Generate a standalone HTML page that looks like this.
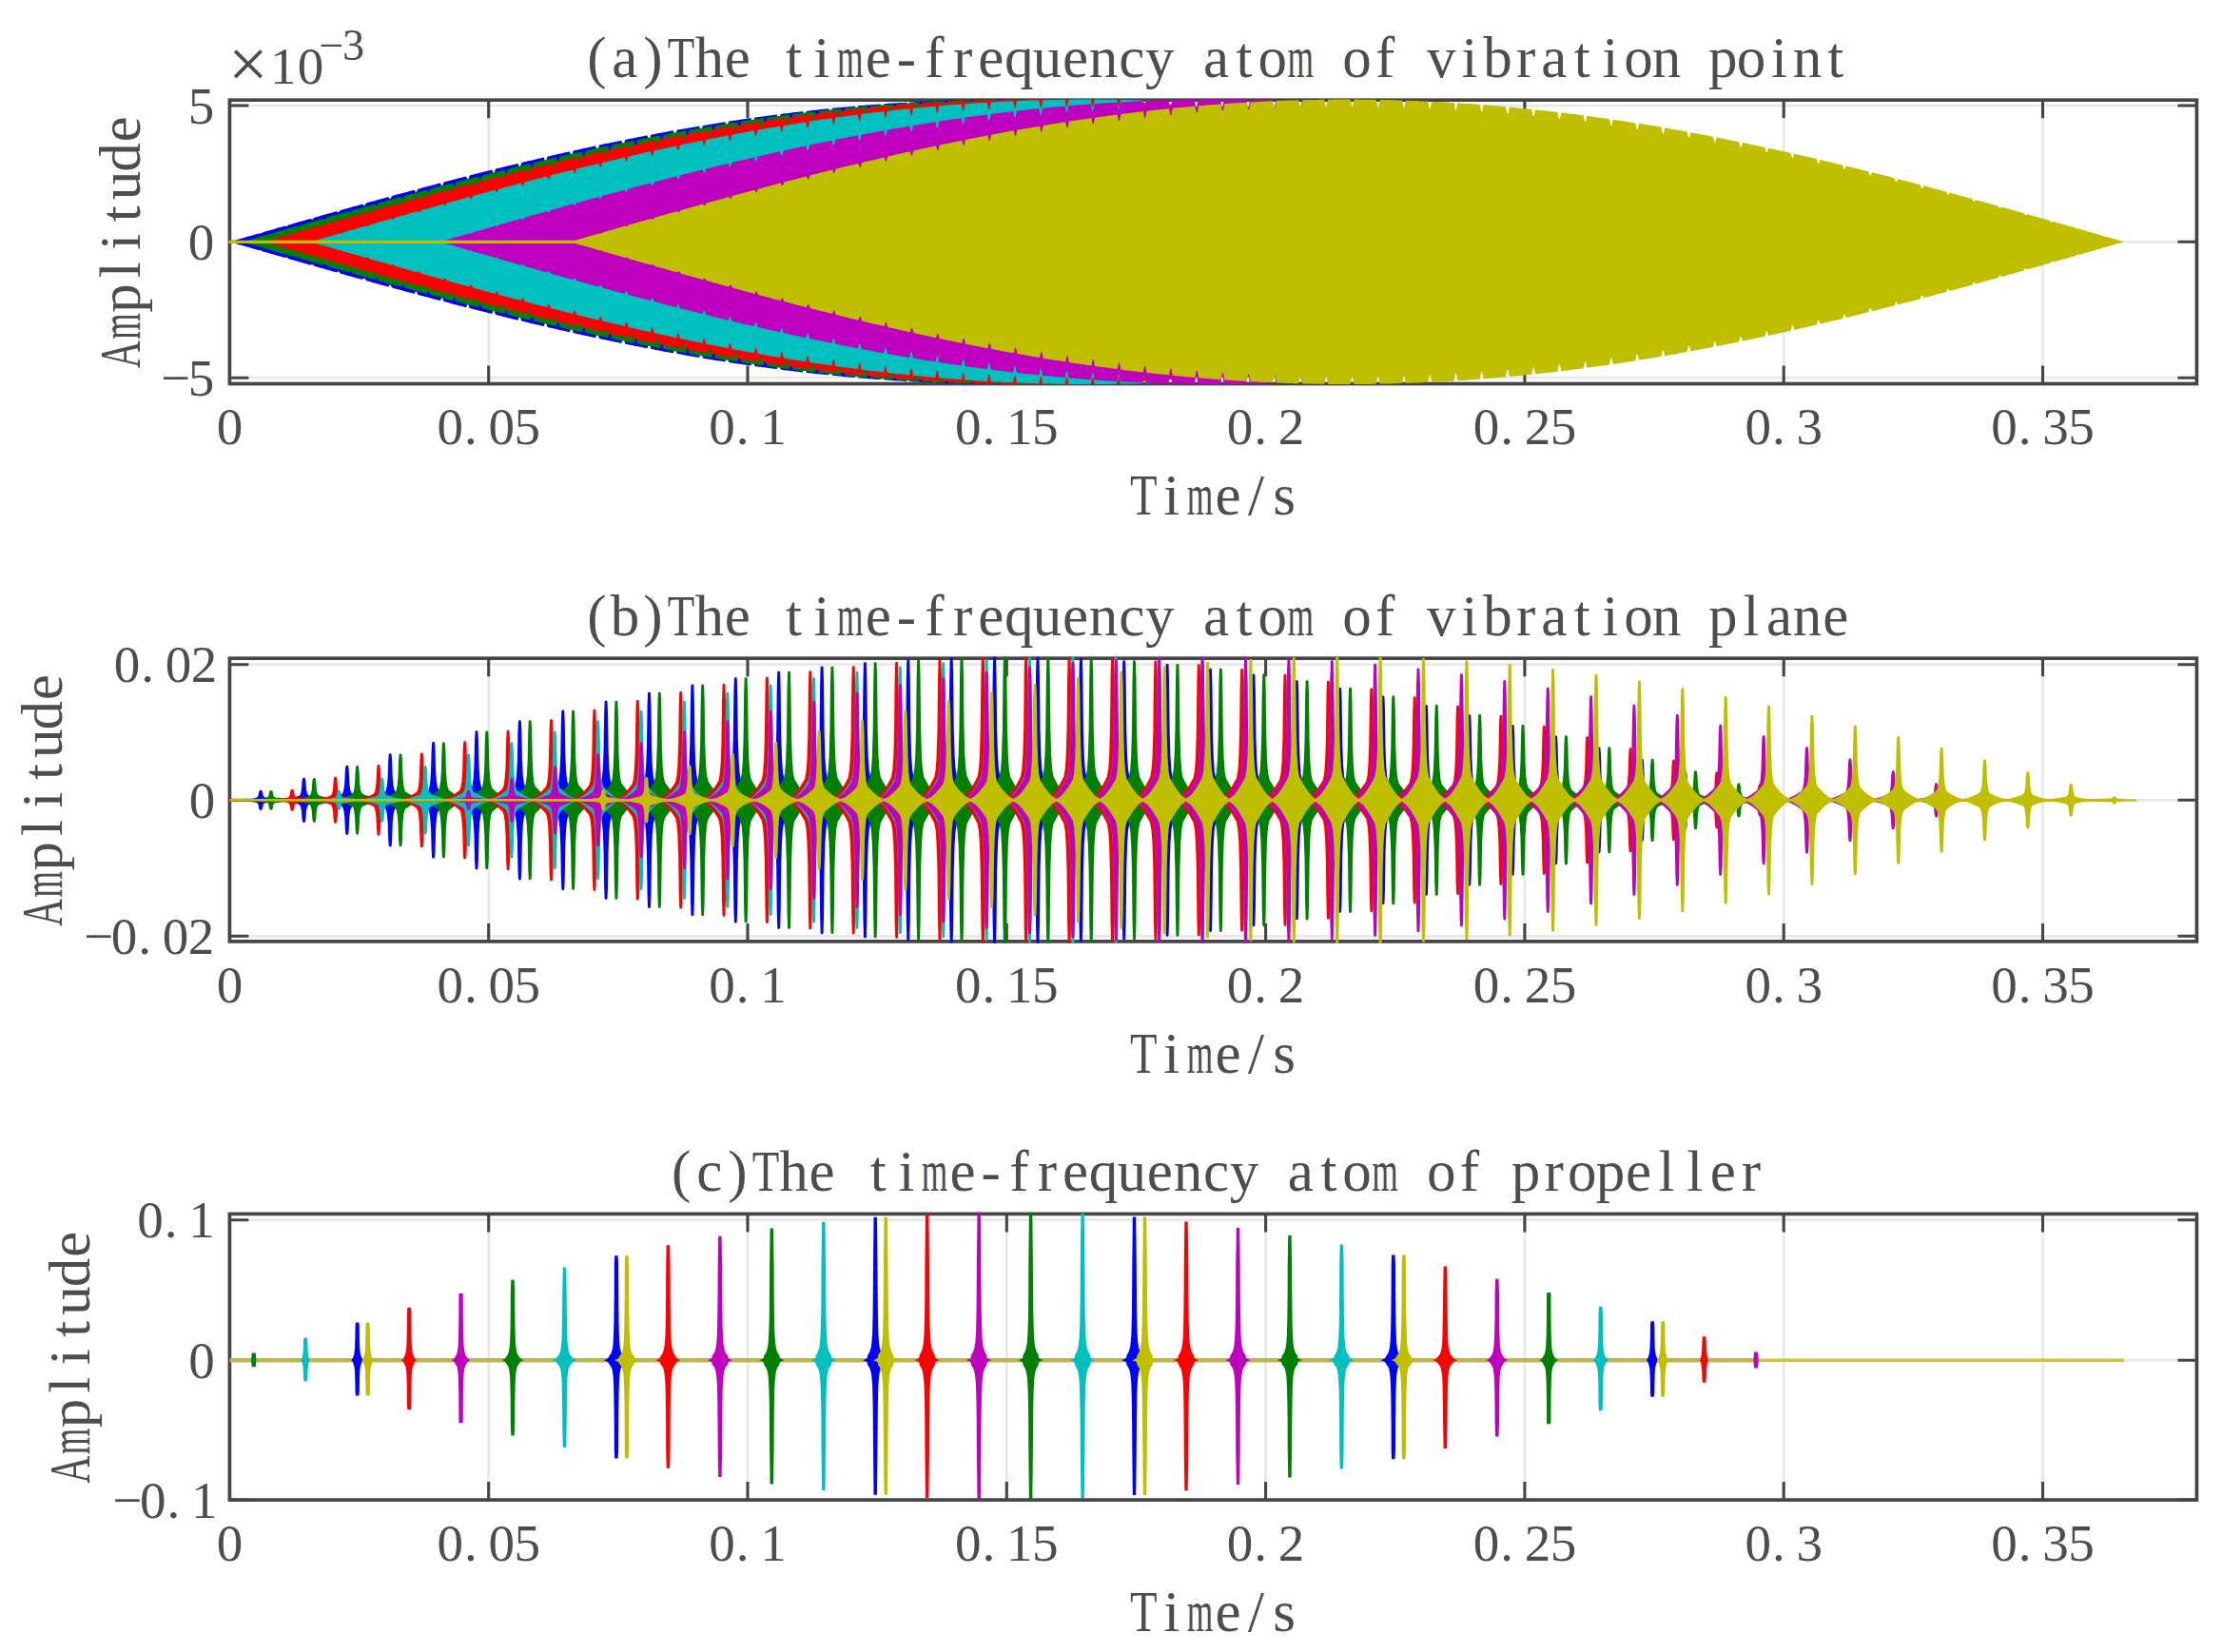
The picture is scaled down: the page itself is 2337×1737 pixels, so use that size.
<!DOCTYPE html>
<html lang="en"><head><meta charset="utf-8"><title>Time-frequency atoms</title>
<style>html,body{margin:0;padding:0;background:#fff}body{width:2337px;height:1737px;overflow:hidden}svg{display:block}text{font-family:"Liberation Serif",serif;fill:#4d4d4d}</style></head><body>
<svg width="2337" height="1737" viewBox="0 0 2337 1737">
<rect width="2337" height="1737" fill="#fff"/>
<defs>
<clipPath id="c0"><rect x="240.4" y="103.2" width="2070" height="302.3"/></clipPath>
<clipPath id="c1"><rect x="240.4" y="690.2" width="2070" height="301.7"/></clipPath>
<clipPath id="c2"><rect x="240.4" y="1274.4" width="2070" height="304.7"/></clipPath>
</defs>
<g id="axes0">
<path d="M513.7,105.2V403.5M786,105.2V403.5M1058.3,105.2V403.5M1330.6,105.2V403.5M1602.9,105.2V403.5M1875.2,105.2V403.5M2147.5,105.2V403.5M241.4,111H2309.4M241.4,254.3H2309.4M241.4,397.2H2309.4" stroke="#e8e8ea" stroke-width="2.7" fill="none"/>
<rect x="241.4" y="105.2" width="2068" height="298.3" fill="none" stroke="#454545" stroke-width="3.7"/>
<path d="M513.7,105.2v19M513.7,403.5v-19M786,105.2v19M786,403.5v-19M1058.3,105.2v19M1058.3,403.5v-19M1330.6,105.2v19M1330.6,403.5v-19M1602.9,105.2v19M1602.9,403.5v-19M1875.2,105.2v19M1875.2,403.5v-19M2147.5,105.2v19M2147.5,403.5v-19M241.4,111h20M2309.4,111h-20M241.4,254.3h20M2309.4,254.3h-20M241.4,397.2h20M2309.4,397.2h-20" stroke="#454545" stroke-width="3.1" fill="none"/>
<g clip-path="url(#c0)">
<polygon points="241.4,254.3 244.4,253.4 244.9,253.3 246.3,252.9 247.3,252.7 248.7,252.2 250.4,251.7 253.4,250.8 256.4,250 259.4,249.1 262.4,248.3 265.4,247.4 268.4,246.5 271.4,245.7 272.2,245.4 273.6,245.5 274.6,245.2 276,244.4 277.4,243.9 280.4,243.1 283.4,242.2 286.4,241.4 289.4,240.5 292.4,239.6 295.4,238.8 298.4,237.9 299.4,237.6 300.8,238.1 301.8,237.8 303.2,236.6 304.4,236.2 307.4,235.4 310.4,234.5 313.4,233.6 316.4,232.8 319.4,231.9 322.4,231.1 325.4,230.2 326.6,229.9 328,230.7 329,230.4 330.4,228.8 331.4,228.5 334.4,227.7 337.4,226.8 340.4,226 343.4,225.1 346.4,224.3 349.4,223.4 352.4,222.6 353.9,222.2 355.3,223.4 356.3,223.1 357.7,221.1 358.4,220.9 361.4,220.1 364.4,219.2 367.4,218.4 370.4,217.5 373.4,216.7 376.4,215.9 379.4,215 381.1,214.6 382.5,216.2 383.5,215.9 384.9,213.5 385.4,213.4 388.4,212.5 391.4,211.7 394.4,210.9 397.4,210.1 400.4,209.2 403.4,208.4 406.4,207.6 408.3,207.1 409.7,209.1 410.7,208.8 412.1,206 412.4,206 415.4,205.1 418.4,204.3 421.4,203.5 424.4,202.7 427.4,201.9 430.4,201.1 433.4,200.3 435.6,199.7 437,202.1 438,201.8 439.4,198.7 442.4,197.9 445.4,197.1 448.4,196.3 451.4,195.5 454.4,194.7 457.4,193.9 460.4,193.1 462.8,192.5 464.2,195.2 465.2,195 466.6,191.5 469.4,190.8 472.4,190 475.4,189.2 478.4,188.4 481.4,187.6 484.4,186.9 487.4,186.1 490,185.4 491.4,188.5 492.4,188.3 493.8,184.5 496.4,183.8 499.4,183 502.4,182.3 505.4,181.5 508.4,180.8 511.4,180 514.4,179.3 517.2,178.6 518.6,182 519.6,181.8 521,177.6 523.4,177 526.4,176.3 529.4,175.6 532.4,174.8 535.4,174.1 538.4,173.4 541.4,172.7 544.5,171.9 545.9,175.7 546.9,175.5 548.3,171 550.4,170.5 553.4,169.8 556.4,169.1 559.4,168.4 562.4,167.7 565.4,167 568.4,166.3 571.4,165.6 571.7,165.5 573.1,169.6 574.1,169.4 575.5,164.6 577.4,164.2 580.4,163.5 583.4,162.8 586.4,162.1 589.4,161.4 592.4,160.8 595.4,160.1 598.4,159.4 598.9,159.3 600.3,163.8 601.3,163.5 602.7,158.5 604.4,158.1 607.4,157.4 610.4,156.8 613.4,156.1 616.4,155.5 619.4,154.8 622.4,154.2 625.4,153.5 626.2,153.4 627.6,158.1 628.6,157.9 630,152.6 631.4,152.3 634.4,151.6 637.4,151 640.4,150.4 643.4,149.8 646.4,149.2 649.4,148.5 652.4,147.9 653.4,147.7 654.8,152.8 655.8,152.6 657.2,147 658.4,146.7 661.4,146.1 664.4,145.5 667.4,144.9 670.4,144.3 673.4,143.8 676.4,143.2 679.4,142.6 680.6,142.4 682,147.7 683,147.5 684.4,141.6 685.4,141.5 688.4,140.9 691.4,140.3 694.4,139.8 697.4,139.2 700.4,138.7 703.4,138.1 706.4,137.6 707.9,137.3 709.3,142.9 710.3,142.8 711.7,136.6 712.4,136.5 715.4,136 718.4,135.5 721.4,134.9 724.4,134.4 727.4,133.9 730.4,133.4 733.4,132.9 735.1,132.6 736.5,138.5 737.5,138.3 738.9,132 739.4,131.9 742.4,131.4 745.4,130.9 748.4,130.4 751.4,129.9 754.4,129.4 757.4,129 760.4,128.5 762.3,128.2 763.7,134.3 764.7,134.2 766.1,127.6 766.4,127.6 769.4,127.1 772.4,126.7 775.4,126.2 778.4,125.8 781.4,125.3 784.4,124.9 787.4,124.5 789.5,124.1 790.9,130.5 791.9,130.3 793.3,123.6 796.4,123.2 799.4,122.8 802.4,122.4 805.4,122 808.4,121.6 811.4,121.2 814.4,120.8 816.8,120.5 818.2,127 819.2,126.9 820.6,120 823.4,119.6 826.4,119.2 829.4,118.9 832.4,118.5 835.4,118.1 838.4,117.8 841.4,117.4 844,117.1 845.4,123.8 846.4,123.7 847.8,116.7 850.4,116.4 853.4,116.1 856.4,115.7 859.4,115.4 862.4,115.1 865.4,114.8 868.4,114.5 871.2,114.2 872.6,121.1 873.6,121 875,113.8 877.4,113.6 880.4,113.3 883.4,113 886.4,112.7 889.4,112.4 892.4,112.2 895.4,111.9 898.5,111.6 899.9,118.6 900.9,118.6 902.3,111.3 904.4,111.1 907.4,110.9 910.4,110.6 913.4,110.4 916.4,110.1 919.4,109.9 922.4,109.7 925.4,109.5 925.7,109.4 927.1,116.6 928.1,116.5 929.5,109.2 931.4,109 934.4,108.8 937.4,108.6 940.4,108.4 943.4,108.2 946.4,108.1 949.4,107.9 952.4,107.7 952.9,107.7 954.3,114.9 955.3,114.9 956.7,107.4 958.4,107.4 961.4,107.2 964.4,107 967.4,106.9 970.4,106.7 973.4,106.6 976.4,106.5 979.4,106.3 980.2,106.3 981.6,113.6 982.6,113.6 984,106.1 985.4,106.1 988.4,106 991.4,105.8 994.4,105.7 997.4,105.6 1000.4,105.5 1003.4,105.4 1006.4,105.3 1007.4,105.3 1008.8,112.7 1009.8,112.7 1011.2,105.2 1012.4,105.2 1015.4,105.1 1018.4,105 1021.4,105 1024.4,104.9 1027.4,104.9 1030.4,104.8 1033.4,104.8 1034.6,104.8 1036,112.2 1037,112.2 1038.4,104.7 1039.4,104.7 1042.4,104.7 1045.4,104.6 1048.4,104.6 1051.4,104.6 1054.4,104.6 1057.4,104.6 1060.4,104.6 1061.8,104.6 1063.2,112.1 1064.2,112.1 1065.6,104.6 1066.4,104.6 1069.4,104.6 1072.4,104.7 1075.4,104.7 1078.4,104.7 1081.4,104.7 1084.4,104.8 1087.4,104.8 1089.1,104.9 1090.5,112.4 1091.5,112.4 1092.9,104.9 1093.4,104.9 1096.4,105 1099.4,105.1 1102.4,105.1 1105.4,105.2 1108.4,105.3 1111.4,105.4 1114.4,105.5 1116.3,105.5 1117.7,113 1118.7,113 1120.1,105.7 1120.4,105.7 1123.4,105.8 1126.4,105.9 1129.4,106 1132.4,106.1 1135.4,106.2 1138.4,106.4 1141.4,106.5 1143.5,106.6 1144.9,114.1 1145.9,114.1 1147.3,106.8 1150.4,106.9 1153.4,107.1 1156.4,107.3 1159.4,107.4 1162.4,107.6 1165.4,107.8 1168.4,107.9 1170.8,108.1 1172.2,115.5 1173.2,115.5 1174.6,108.3 1177.4,108.5 1180.4,108.7 1183.4,108.9 1186.4,109.1 1189.4,109.3 1192.4,109.5 1195.4,109.8 1198,110 1199.4,117.3 1200.4,117.4 1201.8,110.3 1204.4,110.5 1207.4,110.7 1210.4,111 1213.4,111.2 1216.4,111.5 1219.4,111.7 1222.4,112 1225.2,112.2 1226.6,119.5 1227.6,119.6 1229,112.6 1231.4,112.8 1234.4,113.1 1237.4,113.4 1240.4,113.7 1243.4,114 1246.4,114.3 1249.4,114.6 1252.5,114.9 1253.9,122 1254.9,122.1 1256.3,115.3 1258.4,115.5 1261.4,115.9 1264.4,116.2 1267.4,116.5 1270.4,116.9 1273.4,117.2 1276.4,117.6 1279.4,117.9 1279.7,118 1281.1,124.9 1282.1,125 1283.5,118.4 1285.4,118.6 1288.4,119 1291.4,119.4 1294.4,119.8 1297.4,120.1 1300.4,120.5 1303.4,120.9 1306.4,121.3 1306.9,121.4 1308.3,128.2 1309.3,128.3 1310.7,121.9 1312.4,122.1 1315.4,122.5 1318.4,122.9 1321.4,123.4 1324.4,123.8 1327.4,124.2 1330.4,124.6 1333.4,125.1 1334.1,125.2 1335.5,131.8 1336.5,132 1337.9,125.7 1339.4,125.9 1342.4,126.4 1345.4,126.8 1348.4,127.3 1351.4,127.8 1354.4,128.2 1357.4,128.7 1360.4,129.2 1361.4,129.3 1362.8,135.8 1363.8,135.9 1365.2,129.9 1366.4,130.1 1369.4,130.6 1372.4,131.1 1375.4,131.6 1378.4,132.1 1381.4,132.6 1384.4,133.1 1387.4,133.6 1388.6,133.8 1390,140 1391,140.2 1392.4,134.4 1393.4,134.6 1396.4,135.1 1399.4,135.7 1402.4,136.2 1405.4,136.7 1408.4,137.3 1411.4,137.8 1414.4,138.3 1415.8,138.6 1417.2,144.6 1418.2,144.8 1419.6,139.3 1420.4,139.4 1423.4,140 1426.4,140.6 1429.4,141.1 1432.4,141.7 1435.4,142.3 1438.4,142.8 1441.4,143.4 1443.1,143.7 1444.5,149.5 1445.5,149.7 1446.9,144.5 1447.4,144.6 1450.4,145.2 1453.4,145.8 1456.4,146.4 1459.4,147 1462.4,147.6 1465.4,148.2 1468.4,148.8 1470.3,149.2 1471.7,154.7 1472.7,154.9 1474.1,150 1474.4,150 1477.4,150.6 1480.4,151.3 1483.4,151.9 1486.4,152.5 1489.4,153.2 1492.4,153.8 1495.4,154.4 1497.5,154.9 1498.9,160.1 1499.9,160.4 1501.3,155.7 1504.4,156.4 1507.4,157 1510.4,157.7 1513.4,158.4 1516.4,159 1519.4,159.7 1522.4,160.4 1524.8,160.9 1526.2,165.9 1527.2,166.1 1528.6,161.7 1531.4,162.4 1534.4,163.1 1537.4,163.8 1540.4,164.4 1543.4,165.1 1546.4,165.8 1549.4,166.5 1552,167.1 1553.4,171.8 1554.4,172 1555.8,168 1558.4,168.6 1561.4,169.4 1564.4,170.1 1567.4,170.8 1570.4,171.5 1573.4,172.2 1576.4,172.9 1579.2,173.6 1580.6,178 1581.6,178.2 1583,174.5 1585.4,175.1 1588.4,175.9 1591.4,176.6 1594.4,177.3 1597.4,178.1 1600.4,178.8 1603.4,179.6 1606.4,180.3 1607.8,184.4 1608.8,184.6 1610.2,181.3 1612.4,181.8 1615.4,182.6 1618.4,183.3 1621.4,184.1 1624.4,184.9 1627.4,185.6 1630.4,186.4 1633.4,187.2 1633.7,187.2 1635.1,190.9 1636.1,191.2 1637.5,188.2 1639.4,188.7 1642.4,189.5 1645.4,190.3 1648.4,191.1 1651.4,191.8 1654.4,192.6 1657.4,193.4 1660.4,194.2 1660.9,194.3 1662.3,197.7 1663.3,197.9 1664.7,195.3 1666.4,195.8 1669.4,196.6 1672.4,197.4 1675.4,198.2 1678.4,199 1681.4,199.8 1684.4,200.6 1687.4,201.4 1688.1,201.6 1689.5,204.6 1690.5,204.9 1691.9,202.6 1693.4,203 1696.4,203.8 1699.4,204.7 1702.4,205.5 1705.4,206.3 1708.4,207.1 1711.4,207.9 1714.4,208.7 1715.4,209 1716.8,211.6 1717.8,211.9 1719.2,210.1 1720.4,210.4 1723.4,211.2 1726.4,212 1729.4,212.9 1732.4,213.7 1735.4,214.5 1738.4,215.4 1741.4,216.2 1742.6,216.5 1744,218.8 1745,219.1 1746.4,217.6 1747.4,217.9 1750.4,218.7 1753.4,219.6 1756.4,220.4 1759.4,221.2 1762.4,222.1 1765.4,222.9 1768.4,223.8 1769.8,224.2 1771.2,226.1 1772.2,226.3 1773.6,225.2 1774.4,225.5 1777.4,226.3 1780.4,227.2 1783.4,228 1786.4,228.9 1789.4,229.7 1792.4,230.6 1795.4,231.4 1797.1,231.9 1798.5,233.4 1799.5,233.7 1800.9,233 1801.4,233.1 1804.4,234 1807.4,234.8 1810.4,235.7 1813.4,236.6 1816.4,237.4 1819.4,238.3 1822.4,239.1 1824.3,239.7 1825.7,240.8 1826.7,241.1 1828.1,240.8 1828.4,240.8 1831.4,241.7 1834.4,242.6 1837.4,243.4 1840.4,244.3 1843.4,245.2 1846.4,246 1849.4,246.9 1851.5,247.5 1852.9,248.2 1853.9,248.5 1855.3,248.6 1858.4,249.5 1861.4,250.3 1864.4,251.2 1867.4,252.1 1870.4,252.9 1873.4,253.8 1875.2,254.3 1875.2,254.3 1873.4,254.8 1870.4,255.7 1867.4,256.5 1864.4,257.4 1861.4,258.3 1858.4,259.1 1855.3,260 1853.9,260.1 1852.9,260.4 1851.5,261.1 1849.4,261.7 1846.4,262.6 1843.4,263.4 1840.4,264.3 1837.4,265.2 1834.4,266 1831.4,266.9 1828.4,267.8 1828.1,267.8 1826.7,267.5 1825.7,267.8 1824.3,268.9 1822.4,269.5 1819.4,270.3 1816.4,271.2 1813.4,272 1810.4,272.9 1807.4,273.8 1804.4,274.6 1801.4,275.5 1800.9,275.6 1799.5,274.9 1798.5,275.2 1797.1,276.7 1795.4,277.2 1792.4,278 1789.4,278.9 1786.4,279.7 1783.4,280.6 1780.4,281.4 1777.4,282.3 1774.4,283.1 1773.6,283.4 1772.2,282.3 1771.2,282.5 1769.8,284.4 1768.4,284.8 1765.4,285.7 1762.4,286.5 1759.4,287.4 1756.4,288.2 1753.4,289 1750.4,289.9 1747.4,290.7 1746.4,291 1745,289.5 1744,289.8 1742.6,292.1 1741.4,292.4 1738.4,293.2 1735.4,294.1 1732.4,294.9 1729.4,295.7 1726.4,296.6 1723.4,297.4 1720.4,298.2 1719.2,298.5 1717.8,296.7 1716.8,297 1715.4,299.6 1714.4,299.9 1711.4,300.7 1708.4,301.5 1705.4,302.3 1702.4,303.1 1699.4,303.9 1696.4,304.8 1693.4,305.6 1691.9,306 1690.5,303.7 1689.5,304 1688.1,307 1687.4,307.2 1684.4,308 1681.4,308.8 1678.4,309.6 1675.4,310.4 1672.4,311.2 1669.4,312 1666.4,312.8 1664.7,313.3 1663.3,310.7 1662.3,310.9 1660.9,314.3 1660.4,314.4 1657.4,315.2 1654.4,316 1651.4,316.8 1648.4,317.5 1645.4,318.3 1642.4,319.1 1639.4,319.9 1637.5,320.4 1636.1,317.4 1635.1,317.7 1633.7,321.4 1633.4,321.4 1630.4,322.2 1627.4,323 1624.4,323.7 1621.4,324.5 1618.4,325.3 1615.4,326 1612.4,326.8 1610.2,327.3 1608.8,324 1607.8,324.2 1606.4,328.3 1603.4,329 1600.4,329.8 1597.4,330.5 1594.4,331.3 1591.4,332 1588.4,332.7 1585.4,333.5 1583,334.1 1581.6,330.4 1580.6,330.6 1579.2,335 1576.4,335.7 1573.4,336.4 1570.4,337.1 1567.4,337.8 1564.4,338.5 1561.4,339.2 1558.4,340 1555.8,340.6 1554.4,336.6 1553.4,336.8 1552,341.5 1549.4,342.1 1546.4,342.8 1543.4,343.5 1540.4,344.2 1537.4,344.8 1534.4,345.5 1531.4,346.2 1528.6,346.9 1527.2,342.5 1526.2,342.7 1524.8,347.7 1522.4,348.2 1519.4,348.9 1516.4,349.6 1513.4,350.2 1510.4,350.9 1507.4,351.6 1504.4,352.2 1501.3,352.9 1499.9,348.2 1498.9,348.5 1497.5,353.7 1495.4,354.2 1492.4,354.8 1489.4,355.4 1486.4,356.1 1483.4,356.7 1480.4,357.3 1477.4,358 1474.4,358.6 1474.1,358.6 1472.7,353.7 1471.7,353.9 1470.3,359.4 1468.4,359.8 1465.4,360.4 1462.4,361 1459.4,361.6 1456.4,362.2 1453.4,362.8 1450.4,363.4 1447.4,364 1446.9,364.1 1445.5,358.9 1444.5,359.1 1443.1,364.9 1441.4,365.2 1438.4,365.8 1435.4,366.3 1432.4,366.9 1429.4,367.5 1426.4,368 1423.4,368.6 1420.4,369.2 1419.6,369.3 1418.2,363.8 1417.2,364 1415.8,370 1414.4,370.3 1411.4,370.8 1408.4,371.3 1405.4,371.9 1402.4,372.4 1399.4,372.9 1396.4,373.5 1393.4,374 1392.4,374.2 1391,368.4 1390,368.6 1388.6,374.8 1387.4,375 1384.4,375.5 1381.4,376 1378.4,376.5 1375.4,377 1372.4,377.5 1369.4,378 1366.4,378.5 1365.2,378.7 1363.8,372.7 1362.8,372.8 1361.4,379.3 1360.4,379.4 1357.4,379.9 1354.4,380.4 1351.4,380.8 1348.4,381.3 1345.4,381.8 1342.4,382.2 1339.4,382.7 1337.9,382.9 1336.5,376.6 1335.5,376.8 1334.1,383.4 1333.4,383.5 1330.4,384 1327.4,384.4 1324.4,384.8 1321.4,385.2 1318.4,385.7 1315.4,386.1 1312.4,386.5 1310.7,386.7 1309.3,380.3 1308.3,380.4 1306.9,387.2 1306.4,387.3 1303.4,387.7 1300.4,388.1 1297.4,388.5 1294.4,388.8 1291.4,389.2 1288.4,389.6 1285.4,390 1283.5,390.2 1282.1,383.6 1281.1,383.7 1279.7,390.6 1279.4,390.7 1276.4,391 1273.4,391.4 1270.4,391.7 1267.4,392.1 1264.4,392.4 1261.4,392.7 1258.4,393.1 1256.3,393.3 1254.9,386.5 1253.9,386.6 1252.5,393.7 1249.4,394 1246.4,394.3 1243.4,394.6 1240.4,394.9 1237.4,395.2 1234.4,395.5 1231.4,395.8 1229,396 1227.6,389 1226.6,389.1 1225.2,396.4 1222.4,396.6 1219.4,396.9 1216.4,397.1 1213.4,397.4 1210.4,397.6 1207.4,397.9 1204.4,398.1 1201.8,398.3 1200.4,391.2 1199.4,391.3 1198,398.6 1195.4,398.8 1192.4,399.1 1189.4,399.3 1186.4,399.5 1183.4,399.7 1180.4,399.9 1177.4,400.1 1174.6,400.3 1173.2,393.1 1172.2,393.1 1170.8,400.5 1168.4,400.7 1165.4,400.8 1162.4,401 1159.4,401.2 1156.4,401.3 1153.4,401.5 1150.4,401.7 1147.3,401.8 1145.9,394.5 1144.9,394.5 1143.5,402 1141.4,402.1 1138.4,402.2 1135.4,402.4 1132.4,402.5 1129.4,402.6 1126.4,402.7 1123.4,402.8 1120.4,402.9 1120.1,402.9 1118.7,395.6 1117.7,395.6 1116.3,403.1 1114.4,403.1 1111.4,403.2 1108.4,403.3 1105.4,403.4 1102.4,403.5 1099.4,403.5 1096.4,403.6 1093.4,403.7 1092.9,403.7 1091.5,396.2 1090.5,396.2 1089.1,403.7 1087.4,403.8 1084.4,403.8 1081.4,403.9 1078.4,403.9 1075.4,403.9 1072.4,403.9 1069.4,404 1066.4,404 1065.6,404 1064.2,396.5 1063.2,396.5 1061.8,404 1060.4,404 1057.4,404 1054.4,404 1051.4,404 1048.4,404 1045.4,404 1042.4,403.9 1039.4,403.9 1038.4,403.9 1037,396.4 1036,396.4 1034.6,403.8 1033.4,403.8 1030.4,403.8 1027.4,403.7 1024.4,403.7 1021.4,403.6 1018.4,403.6 1015.4,403.5 1012.4,403.4 1011.2,403.4 1009.8,395.9 1008.8,395.9 1007.4,403.3 1006.4,403.3 1003.4,403.2 1000.4,403.1 997.4,403 994.4,402.9 991.4,402.8 988.4,402.6 985.4,402.5 984,402.5 982.6,395 981.6,395 980.2,402.3 979.4,402.3 976.4,402.1 973.4,402 970.4,401.9 967.4,401.7 964.4,401.6 961.4,401.4 958.4,401.2 956.7,401.2 955.3,393.7 954.3,393.7 952.9,400.9 952.4,400.9 949.4,400.7 946.4,400.5 943.4,400.4 940.4,400.2 937.4,400 934.4,399.8 931.4,399.6 929.5,399.4 928.1,392.1 927.1,392 925.7,399.2 925.4,399.1 922.4,398.9 919.4,398.7 916.4,398.5 913.4,398.2 910.4,398 907.4,397.7 904.4,397.5 902.3,397.3 900.9,390 899.9,390 898.5,397 895.4,396.7 892.4,396.4 889.4,396.2 886.4,395.9 883.4,395.6 880.4,395.3 877.4,395 875,394.8 873.6,387.6 872.6,387.5 871.2,394.4 868.4,394.1 865.4,393.8 862.4,393.5 859.4,393.2 856.4,392.9 853.4,392.5 850.4,392.2 847.8,391.9 846.4,384.9 845.4,384.8 844,391.5 841.4,391.2 838.4,390.8 835.4,390.5 832.4,390.1 829.4,389.7 826.4,389.4 823.4,389 820.6,388.6 819.2,381.7 818.2,381.6 816.8,388.1 814.4,387.8 811.4,387.4 808.4,387 805.4,386.6 802.4,386.2 799.4,385.8 796.4,385.4 793.3,385 791.9,378.3 790.9,378.1 789.5,384.5 787.4,384.1 784.4,383.7 781.4,383.3 778.4,382.8 775.4,382.4 772.4,381.9 769.4,381.5 766.4,381 766.1,381 764.7,374.4 763.7,374.3 762.3,380.4 760.4,380.1 757.4,379.6 754.4,379.2 751.4,378.7 748.4,378.2 745.4,377.7 742.4,377.2 739.4,376.7 738.9,376.6 737.5,370.3 736.5,370.1 735.1,376 733.4,375.7 730.4,375.2 727.4,374.7 724.4,374.2 721.4,373.7 718.4,373.1 715.4,372.6 712.4,372.1 711.7,372 710.3,365.8 709.3,365.7 707.9,371.3 706.4,371 703.4,370.5 700.4,369.9 697.4,369.4 694.4,368.8 691.4,368.3 688.4,367.7 685.4,367.1 684.4,367 683,361.1 682,360.9 680.6,366.2 679.4,366 676.4,365.4 673.4,364.8 670.4,364.3 667.4,363.7 664.4,363.1 661.4,362.5 658.4,361.9 657.2,361.6 655.8,356 654.8,355.8 653.4,360.9 652.4,360.7 649.4,360.1 646.4,359.4 643.4,358.8 640.4,358.2 637.4,357.6 634.4,357 631.4,356.3 630,356 628.6,350.7 627.6,350.5 626.2,355.2 625.4,355.1 622.4,354.4 619.4,353.8 616.4,353.1 613.4,352.5 610.4,351.8 607.4,351.2 604.4,350.5 602.7,350.1 601.3,345.1 600.3,344.8 598.9,349.3 598.4,349.2 595.4,348.5 592.4,347.8 589.4,347.2 586.4,346.5 583.4,345.8 580.4,345.1 577.4,344.4 575.5,344 574.1,339.2 573.1,339 571.7,343.1 571.4,343 568.4,342.3 565.4,341.6 562.4,340.9 559.4,340.2 556.4,339.5 553.4,338.8 550.4,338.1 548.3,337.6 546.9,333.1 545.9,332.9 544.5,336.7 541.4,335.9 538.4,335.2 535.4,334.5 532.4,333.8 529.4,333 526.4,332.3 523.4,331.6 521,331 519.6,326.8 518.6,326.6 517.2,330 514.4,329.3 511.4,328.6 508.4,327.8 505.4,327.1 502.4,326.3 499.4,325.6 496.4,324.8 493.8,324.1 492.4,320.3 491.4,320.1 490,323.2 487.4,322.5 484.4,321.7 481.4,321 478.4,320.2 475.4,319.4 472.4,318.6 469.4,317.8 466.6,317.1 465.2,313.6 464.2,313.4 462.8,316.1 460.4,315.5 457.4,314.7 454.4,313.9 451.4,313.1 448.4,312.3 445.4,311.5 442.4,310.7 439.4,309.9 438,306.8 437,306.5 435.6,308.9 433.4,308.3 430.4,307.5 427.4,306.7 424.4,305.9 421.4,305.1 418.4,304.3 415.4,303.5 412.4,302.6 412.1,302.6 410.7,299.8 409.7,299.5 408.3,301.5 406.4,301 403.4,300.2 400.4,299.4 397.4,298.5 394.4,297.7 391.4,296.9 388.4,296.1 385.4,295.2 384.9,295.1 383.5,292.7 382.5,292.4 381.1,294 379.4,293.6 376.4,292.7 373.4,291.9 370.4,291.1 367.4,290.2 364.4,289.4 361.4,288.5 358.4,287.7 357.7,287.5 356.3,285.5 355.3,285.2 353.9,286.4 352.4,286 349.4,285.2 346.4,284.3 343.4,283.5 340.4,282.6 337.4,281.8 334.4,280.9 331.4,280.1 330.4,279.8 329,278.2 328,277.9 326.6,278.7 325.4,278.4 322.4,277.5 319.4,276.7 316.4,275.8 313.4,275 310.4,274.1 307.4,273.2 304.4,272.4 303.2,272 301.8,270.8 300.8,270.5 299.4,271 298.4,270.7 295.4,269.8 292.4,269 289.4,268.1 286.4,267.2 283.4,266.4 280.4,265.5 277.4,264.7 276,264.2 274.6,263.4 273.6,263.1 272.2,263.2 271.4,262.9 268.4,262.1 265.4,261.2 262.4,260.3 259.4,259.5 256.4,258.6 253.4,257.8 250.4,256.9 248.7,256.4 247.3,255.9 246.3,255.7 244.9,255.3 244.4,255.2 241.4,254.3" fill="#0000ff"/>
<polygon points="254.5,254.3 257.5,253.4 258,253.3 259.4,252.9 260.4,252.7 261.8,252.2 263.5,251.7 266.5,250.8 269.5,250 272.5,249.1 275.5,248.3 278.5,247.4 281.5,246.5 284.5,245.7 285.2,245.4 286.6,245.5 287.6,245.2 289,244.4 290.5,243.9 293.5,243.1 296.5,242.2 299.5,241.4 302.5,240.5 305.5,239.6 308.5,238.8 311.5,237.9 312.5,237.6 313.9,238.1 314.9,237.8 316.3,236.6 317.5,236.2 320.5,235.4 323.5,234.5 326.5,233.6 329.5,232.8 332.5,231.9 335.5,231.1 338.5,230.2 339.7,229.9 341.1,230.7 342.1,230.4 343.5,228.8 344.5,228.5 347.5,227.7 350.5,226.8 353.5,226 356.5,225.1 359.5,224.3 362.5,223.4 365.5,222.6 366.9,222.2 368.3,223.4 369.3,223.1 370.7,221.1 371.5,220.9 374.5,220.1 377.5,219.2 380.5,218.4 383.5,217.5 386.5,216.7 389.5,215.9 392.5,215 394.2,214.6 395.6,216.2 396.6,215.9 398,213.5 398.5,213.4 401.5,212.5 404.5,211.7 407.5,210.9 410.5,210.1 413.5,209.2 416.5,208.4 419.5,207.6 421.4,207.1 422.8,209.1 423.8,208.8 425.2,206 425.5,206 428.5,205.1 431.5,204.3 434.5,203.5 437.5,202.7 440.5,201.9 443.5,201.1 446.5,200.3 448.6,199.7 450,202.1 451,201.8 452.4,198.7 455.5,197.9 458.5,197.1 461.5,196.3 464.5,195.5 467.5,194.7 470.5,193.9 473.5,193.1 475.9,192.5 477.3,195.2 478.3,195 479.7,191.5 482.5,190.8 485.5,190 488.5,189.2 491.5,188.4 494.5,187.6 497.5,186.9 500.5,186.1 503.1,185.4 504.5,188.5 505.5,188.3 506.9,184.5 509.5,183.8 512.5,183 515.5,182.3 518.5,181.5 521.5,180.8 524.5,180 527.5,179.3 530.3,178.6 531.7,182 532.7,181.8 534.1,177.6 536.5,177 539.5,176.3 542.5,175.6 545.5,174.8 548.5,174.1 551.5,173.4 554.5,172.7 557.5,171.9 558.9,175.7 559.9,175.5 561.3,171 563.5,170.5 566.5,169.8 569.5,169.1 572.5,168.4 575.5,167.7 578.5,167 581.5,166.3 584.5,165.6 584.8,165.5 586.2,169.6 587.2,169.4 588.6,164.6 590.5,164.2 593.5,163.5 596.5,162.8 599.5,162.1 602.5,161.4 605.5,160.8 608.5,160.1 611.5,159.4 612,159.3 613.4,163.8 614.4,163.5 615.8,158.5 617.5,158.1 620.5,157.4 623.5,156.8 626.5,156.1 629.5,155.5 632.5,154.8 635.5,154.2 638.5,153.5 639.2,153.4 640.6,158.1 641.6,157.9 643,152.6 644.5,152.3 647.5,151.6 650.5,151 653.5,150.4 656.5,149.8 659.5,149.2 662.5,148.5 665.5,147.9 666.5,147.7 667.9,152.8 668.9,152.6 670.3,147 671.5,146.7 674.5,146.1 677.5,145.5 680.5,144.9 683.5,144.3 686.5,143.8 689.5,143.2 692.5,142.6 693.7,142.4 695.1,147.7 696.1,147.5 697.5,141.6 698.5,141.5 701.5,140.9 704.5,140.3 707.5,139.8 710.5,139.2 713.5,138.7 716.5,138.1 719.5,137.6 720.9,137.3 722.3,142.9 723.3,142.8 724.7,136.6 725.5,136.5 728.5,136 731.5,135.5 734.5,134.9 737.5,134.4 740.5,133.9 743.5,133.4 746.5,132.9 748.2,132.6 749.6,138.5 750.6,138.3 752,132 752.5,131.9 755.5,131.4 758.5,130.9 761.5,130.4 764.5,129.9 767.5,129.4 770.5,129 773.5,128.5 775.4,128.2 776.8,134.3 777.8,134.2 779.2,127.6 779.5,127.6 782.5,127.1 785.5,126.7 788.5,126.2 791.5,125.8 794.5,125.3 797.5,124.9 800.5,124.5 802.6,124.1 804,130.5 805,130.3 806.4,123.6 809.5,123.2 812.5,122.8 815.5,122.4 818.5,122 821.5,121.6 824.5,121.2 827.5,120.8 829.8,120.5 831.2,127 832.2,126.9 833.6,120 836.5,119.6 839.5,119.2 842.5,118.9 845.5,118.5 848.5,118.1 851.5,117.8 854.5,117.4 857.1,117.1 858.5,123.8 859.5,123.7 860.9,116.7 863.5,116.4 866.5,116.1 869.5,115.7 872.5,115.4 875.5,115.1 878.5,114.8 881.5,114.5 884.3,114.2 885.7,121.1 886.7,121 888.1,113.8 890.5,113.6 893.5,113.3 896.5,113 899.5,112.7 902.5,112.4 905.5,112.2 908.5,111.9 911.5,111.6 912.9,118.6 913.9,118.6 915.3,111.3 917.5,111.1 920.5,110.9 923.5,110.6 926.5,110.4 929.5,110.1 932.5,109.9 935.5,109.7 938.5,109.5 938.8,109.4 940.2,116.6 941.2,116.5 942.6,109.2 944.5,109 947.5,108.8 950.5,108.6 953.5,108.4 956.5,108.2 959.5,108.1 962.5,107.9 965.5,107.7 966,107.7 967.4,114.9 968.4,114.9 969.8,107.4 971.5,107.4 974.5,107.2 977.5,107 980.5,106.9 983.5,106.7 986.5,106.6 989.5,106.5 992.5,106.3 993.2,106.3 994.6,113.6 995.6,113.6 997,106.1 998.5,106.1 1001.5,106 1004.5,105.8 1007.5,105.7 1010.5,105.6 1013.5,105.5 1016.5,105.4 1019.5,105.3 1020.5,105.3 1021.9,112.7 1022.9,112.7 1024.3,105.2 1025.5,105.2 1028.5,105.1 1031.5,105 1034.5,105 1037.5,104.9 1040.5,104.9 1043.5,104.8 1046.5,104.8 1047.7,104.8 1049.1,112.2 1050.1,112.2 1051.5,104.7 1052.5,104.7 1055.5,104.7 1058.5,104.6 1061.5,104.6 1064.5,104.6 1067.5,104.6 1070.5,104.6 1073.5,104.6 1074.9,104.6 1076.3,112.1 1077.3,112.1 1078.7,104.6 1079.5,104.6 1082.5,104.6 1085.5,104.7 1088.5,104.7 1091.5,104.7 1094.5,104.7 1097.5,104.8 1100.5,104.8 1102.1,104.9 1103.5,112.4 1104.5,112.4 1105.9,104.9 1106.5,104.9 1109.5,105 1112.5,105.1 1115.5,105.1 1118.5,105.2 1121.5,105.3 1124.5,105.4 1127.5,105.5 1129.4,105.5 1130.8,113 1131.8,113 1133.2,105.7 1133.5,105.7 1136.5,105.8 1139.5,105.9 1142.5,106 1145.5,106.1 1148.5,106.2 1151.5,106.4 1154.5,106.5 1156.6,106.6 1158,114.1 1159,114.1 1160.4,106.8 1163.5,106.9 1166.5,107.1 1169.5,107.3 1172.5,107.4 1175.5,107.6 1178.5,107.8 1181.5,107.9 1183.8,108.1 1185.2,115.5 1186.2,115.5 1187.6,108.3 1190.5,108.5 1193.5,108.7 1196.5,108.9 1199.5,109.1 1202.5,109.3 1205.5,109.5 1208.5,109.8 1211.1,110 1212.5,117.3 1213.5,117.4 1214.9,110.3 1217.5,110.5 1220.5,110.7 1223.5,111 1226.5,111.2 1229.5,111.5 1232.5,111.7 1235.5,112 1238.3,112.2 1239.7,119.5 1240.7,119.6 1242.1,112.6 1244.5,112.8 1247.5,113.1 1250.5,113.4 1253.5,113.7 1256.5,114 1259.5,114.3 1262.5,114.6 1265.5,114.9 1266.9,122 1267.9,122.1 1269.3,115.3 1271.5,115.5 1274.5,115.9 1277.5,116.2 1280.5,116.5 1283.5,116.9 1286.5,117.2 1289.5,117.6 1292.5,117.9 1292.8,118 1294.2,124.9 1295.2,125 1296.6,118.4 1298.5,118.6 1301.5,119 1304.5,119.4 1307.5,119.8 1310.5,120.1 1313.5,120.5 1316.5,120.9 1319.5,121.3 1320,121.4 1321.4,128.2 1322.4,128.3 1323.8,121.9 1325.5,122.1 1328.5,122.5 1331.5,122.9 1334.5,123.4 1337.5,123.8 1340.5,124.2 1343.5,124.6 1346.5,125.1 1347.2,125.2 1348.6,131.8 1349.6,132 1351,125.7 1352.5,125.9 1355.5,126.4 1358.5,126.8 1361.5,127.3 1364.5,127.8 1367.5,128.2 1370.5,128.7 1373.5,129.2 1374.4,129.3 1375.8,135.8 1376.8,135.9 1378.2,129.9 1379.5,130.1 1382.5,130.6 1385.5,131.1 1388.5,131.6 1391.5,132.1 1394.5,132.6 1397.5,133.1 1400.5,133.6 1401.7,133.8 1403.1,140 1404.1,140.2 1405.5,134.4 1406.5,134.6 1409.5,135.1 1412.5,135.7 1415.5,136.2 1418.5,136.7 1421.5,137.3 1424.5,137.8 1427.5,138.3 1428.9,138.6 1430.3,144.6 1431.3,144.8 1432.7,139.3 1433.5,139.4 1436.5,140 1439.5,140.6 1442.5,141.1 1445.5,141.7 1448.5,142.3 1451.5,142.8 1454.5,143.4 1456.1,143.7 1457.5,149.5 1458.5,149.7 1459.9,144.5 1460.5,144.6 1463.5,145.2 1466.5,145.8 1469.5,146.4 1472.5,147 1475.5,147.6 1478.5,148.2 1481.5,148.8 1483.4,149.2 1484.8,154.7 1485.8,154.9 1487.2,150 1487.5,150 1490.5,150.6 1493.5,151.3 1496.5,151.9 1499.5,152.5 1502.5,153.2 1505.5,153.8 1508.5,154.4 1510.6,154.9 1512,160.1 1513,160.4 1514.4,155.7 1517.5,156.4 1520.5,157 1523.5,157.7 1526.5,158.4 1529.5,159 1532.5,159.7 1535.5,160.4 1537.8,160.9 1539.2,165.9 1540.2,166.1 1541.6,161.7 1544.5,162.4 1547.5,163.1 1550.5,163.8 1553.5,164.4 1556.5,165.1 1559.5,165.8 1562.5,166.5 1565.1,167.1 1566.5,171.8 1567.5,172 1568.9,168 1571.5,168.6 1574.5,169.4 1577.5,170.1 1580.5,170.8 1583.5,171.5 1586.5,172.2 1589.5,172.9 1592.3,173.6 1593.7,178 1594.7,178.2 1596.1,174.5 1598.5,175.1 1601.5,175.9 1604.5,176.6 1607.5,177.3 1610.5,178.1 1613.5,178.8 1616.5,179.6 1619.5,180.3 1620.9,184.4 1621.9,184.6 1623.3,181.3 1625.5,181.8 1628.5,182.6 1631.5,183.3 1634.5,184.1 1637.5,184.9 1640.5,185.6 1643.5,186.4 1646.5,187.2 1646.7,187.2 1648.1,190.9 1649.1,191.2 1650.5,188.2 1652.5,188.7 1655.5,189.5 1658.5,190.3 1661.5,191.1 1664.5,191.8 1667.5,192.6 1670.5,193.4 1673.5,194.2 1674,194.3 1675.4,197.7 1676.4,197.9 1677.8,195.3 1679.5,195.8 1682.5,196.6 1685.5,197.4 1688.5,198.2 1691.5,199 1694.5,199.8 1697.5,200.6 1700.5,201.4 1701.2,201.6 1702.6,204.6 1703.6,204.9 1705,202.6 1706.5,203 1709.5,203.8 1712.5,204.7 1715.5,205.5 1718.5,206.3 1721.5,207.1 1724.5,207.9 1727.5,208.7 1728.4,209 1729.8,211.6 1730.8,211.9 1732.2,210.1 1733.5,210.4 1736.5,211.2 1739.5,212 1742.5,212.9 1745.5,213.7 1748.5,214.5 1751.5,215.4 1754.5,216.2 1755.7,216.5 1757.1,218.8 1758.1,219.1 1759.5,217.6 1760.5,217.9 1763.5,218.7 1766.5,219.6 1769.5,220.4 1772.5,221.2 1775.5,222.1 1778.5,222.9 1781.5,223.8 1782.9,224.2 1784.3,226.1 1785.3,226.3 1786.7,225.2 1787.5,225.5 1790.5,226.3 1793.5,227.2 1796.5,228 1799.5,228.9 1802.5,229.7 1805.5,230.6 1808.5,231.4 1810.1,231.9 1811.5,233.4 1812.5,233.7 1813.9,233 1814.5,233.1 1817.5,234 1820.5,234.8 1823.5,235.7 1826.5,236.6 1829.5,237.4 1832.5,238.3 1835.5,239.1 1837.4,239.7 1838.8,240.8 1839.8,241.1 1841.2,240.8 1841.5,240.8 1844.5,241.7 1847.5,242.6 1850.5,243.4 1853.5,244.3 1856.5,245.2 1859.5,246 1862.5,246.9 1864.6,247.5 1866,248.2 1867,248.5 1868.4,248.6 1871.5,249.5 1874.5,250.3 1877.5,251.2 1880.5,252.1 1883.5,252.9 1886.5,253.8 1888.3,254.3 1888.3,254.3 1886.5,254.8 1883.5,255.7 1880.5,256.5 1877.5,257.4 1874.5,258.3 1871.5,259.1 1868.4,260 1867,260.1 1866,260.4 1864.6,261.1 1862.5,261.7 1859.5,262.6 1856.5,263.4 1853.5,264.3 1850.5,265.2 1847.5,266 1844.5,266.9 1841.5,267.8 1841.2,267.8 1839.8,267.5 1838.8,267.8 1837.4,268.9 1835.5,269.5 1832.5,270.3 1829.5,271.2 1826.5,272 1823.5,272.9 1820.5,273.8 1817.5,274.6 1814.5,275.5 1813.9,275.6 1812.5,274.9 1811.5,275.2 1810.1,276.7 1808.5,277.2 1805.5,278 1802.5,278.9 1799.5,279.7 1796.5,280.6 1793.5,281.4 1790.5,282.3 1787.5,283.1 1786.7,283.4 1785.3,282.3 1784.3,282.5 1782.9,284.4 1781.5,284.8 1778.5,285.7 1775.5,286.5 1772.5,287.4 1769.5,288.2 1766.5,289 1763.5,289.9 1760.5,290.7 1759.5,291 1758.1,289.5 1757.1,289.8 1755.7,292.1 1754.5,292.4 1751.5,293.2 1748.5,294.1 1745.5,294.9 1742.5,295.7 1739.5,296.6 1736.5,297.4 1733.5,298.2 1732.2,298.5 1730.8,296.7 1729.8,297 1728.4,299.6 1727.5,299.9 1724.5,300.7 1721.5,301.5 1718.5,302.3 1715.5,303.1 1712.5,303.9 1709.5,304.8 1706.5,305.6 1705,306 1703.6,303.7 1702.6,304 1701.2,307 1700.5,307.2 1697.5,308 1694.5,308.8 1691.5,309.6 1688.5,310.4 1685.5,311.2 1682.5,312 1679.5,312.8 1677.8,313.3 1676.4,310.7 1675.4,310.9 1674,314.3 1673.5,314.4 1670.5,315.2 1667.5,316 1664.5,316.8 1661.5,317.5 1658.5,318.3 1655.5,319.1 1652.5,319.9 1650.5,320.4 1649.1,317.4 1648.1,317.7 1646.7,321.4 1646.5,321.4 1643.5,322.2 1640.5,323 1637.5,323.7 1634.5,324.5 1631.5,325.3 1628.5,326 1625.5,326.8 1623.3,327.3 1621.9,324 1620.9,324.2 1619.5,328.3 1616.5,329 1613.5,329.8 1610.5,330.5 1607.5,331.3 1604.5,332 1601.5,332.7 1598.5,333.5 1596.1,334.1 1594.7,330.4 1593.7,330.6 1592.3,335 1589.5,335.7 1586.5,336.4 1583.5,337.1 1580.5,337.8 1577.5,338.5 1574.5,339.2 1571.5,340 1568.9,340.6 1567.5,336.6 1566.5,336.8 1565.1,341.5 1562.5,342.1 1559.5,342.8 1556.5,343.5 1553.5,344.2 1550.5,344.8 1547.5,345.5 1544.5,346.2 1541.6,346.9 1540.2,342.5 1539.2,342.7 1537.8,347.7 1535.5,348.2 1532.5,348.9 1529.5,349.6 1526.5,350.2 1523.5,350.9 1520.5,351.6 1517.5,352.2 1514.4,352.9 1513,348.2 1512,348.5 1510.6,353.7 1508.5,354.2 1505.5,354.8 1502.5,355.4 1499.5,356.1 1496.5,356.7 1493.5,357.3 1490.5,358 1487.5,358.6 1487.2,358.6 1485.8,353.7 1484.8,353.9 1483.4,359.4 1481.5,359.8 1478.5,360.4 1475.5,361 1472.5,361.6 1469.5,362.2 1466.5,362.8 1463.5,363.4 1460.5,364 1459.9,364.1 1458.5,358.9 1457.5,359.1 1456.1,364.9 1454.5,365.2 1451.5,365.8 1448.5,366.3 1445.5,366.9 1442.5,367.5 1439.5,368 1436.5,368.6 1433.5,369.2 1432.7,369.3 1431.3,363.8 1430.3,364 1428.9,370 1427.5,370.3 1424.5,370.8 1421.5,371.3 1418.5,371.9 1415.5,372.4 1412.5,372.9 1409.5,373.5 1406.5,374 1405.5,374.2 1404.1,368.4 1403.1,368.6 1401.7,374.8 1400.5,375 1397.5,375.5 1394.5,376 1391.5,376.5 1388.5,377 1385.5,377.5 1382.5,378 1379.5,378.5 1378.2,378.7 1376.8,372.7 1375.8,372.8 1374.4,379.3 1373.5,379.4 1370.5,379.9 1367.5,380.4 1364.5,380.8 1361.5,381.3 1358.5,381.8 1355.5,382.2 1352.5,382.7 1351,382.9 1349.6,376.6 1348.6,376.8 1347.2,383.4 1346.5,383.5 1343.5,384 1340.5,384.4 1337.5,384.8 1334.5,385.2 1331.5,385.7 1328.5,386.1 1325.5,386.5 1323.8,386.7 1322.4,380.3 1321.4,380.4 1320,387.2 1319.5,387.3 1316.5,387.7 1313.5,388.1 1310.5,388.5 1307.5,388.8 1304.5,389.2 1301.5,389.6 1298.5,390 1296.6,390.2 1295.2,383.6 1294.2,383.7 1292.8,390.6 1292.5,390.7 1289.5,391 1286.5,391.4 1283.5,391.7 1280.5,392.1 1277.5,392.4 1274.5,392.7 1271.5,393.1 1269.3,393.3 1267.9,386.5 1266.9,386.6 1265.5,393.7 1262.5,394 1259.5,394.3 1256.5,394.6 1253.5,394.9 1250.5,395.2 1247.5,395.5 1244.5,395.8 1242.1,396 1240.7,389 1239.7,389.1 1238.3,396.4 1235.5,396.6 1232.5,396.9 1229.5,397.1 1226.5,397.4 1223.5,397.6 1220.5,397.9 1217.5,398.1 1214.9,398.3 1213.5,391.2 1212.5,391.3 1211.1,398.6 1208.5,398.8 1205.5,399.1 1202.5,399.3 1199.5,399.5 1196.5,399.7 1193.5,399.9 1190.5,400.1 1187.6,400.3 1186.2,393.1 1185.2,393.1 1183.8,400.5 1181.5,400.7 1178.5,400.8 1175.5,401 1172.5,401.2 1169.5,401.3 1166.5,401.5 1163.5,401.7 1160.4,401.8 1159,394.5 1158,394.5 1156.6,402 1154.5,402.1 1151.5,402.2 1148.5,402.4 1145.5,402.5 1142.5,402.6 1139.5,402.7 1136.5,402.8 1133.5,402.9 1133.2,402.9 1131.8,395.6 1130.8,395.6 1129.4,403.1 1127.5,403.1 1124.5,403.2 1121.5,403.3 1118.5,403.4 1115.5,403.5 1112.5,403.5 1109.5,403.6 1106.5,403.7 1105.9,403.7 1104.5,396.2 1103.5,396.2 1102.1,403.7 1100.5,403.8 1097.5,403.8 1094.5,403.9 1091.5,403.9 1088.5,403.9 1085.5,403.9 1082.5,404 1079.5,404 1078.7,404 1077.3,396.5 1076.3,396.5 1074.9,404 1073.5,404 1070.5,404 1067.5,404 1064.5,404 1061.5,404 1058.5,404 1055.5,403.9 1052.5,403.9 1051.5,403.9 1050.1,396.4 1049.1,396.4 1047.7,403.8 1046.5,403.8 1043.5,403.8 1040.5,403.7 1037.5,403.7 1034.5,403.6 1031.5,403.6 1028.5,403.5 1025.5,403.4 1024.3,403.4 1022.9,395.9 1021.9,395.9 1020.5,403.3 1019.5,403.3 1016.5,403.2 1013.5,403.1 1010.5,403 1007.5,402.9 1004.5,402.8 1001.5,402.6 998.5,402.5 997,402.5 995.6,395 994.6,395 993.2,402.3 992.5,402.3 989.5,402.1 986.5,402 983.5,401.9 980.5,401.7 977.5,401.6 974.5,401.4 971.5,401.2 969.8,401.2 968.4,393.7 967.4,393.7 966,400.9 965.5,400.9 962.5,400.7 959.5,400.5 956.5,400.4 953.5,400.2 950.5,400 947.5,399.8 944.5,399.6 942.6,399.4 941.2,392.1 940.2,392 938.8,399.2 938.5,399.1 935.5,398.9 932.5,398.7 929.5,398.5 926.5,398.2 923.5,398 920.5,397.7 917.5,397.5 915.3,397.3 913.9,390 912.9,390 911.5,397 908.5,396.7 905.5,396.4 902.5,396.2 899.5,395.9 896.5,395.6 893.5,395.3 890.5,395 888.1,394.8 886.7,387.6 885.7,387.5 884.3,394.4 881.5,394.1 878.5,393.8 875.5,393.5 872.5,393.2 869.5,392.9 866.5,392.5 863.5,392.2 860.9,391.9 859.5,384.9 858.5,384.8 857.1,391.5 854.5,391.2 851.5,390.8 848.5,390.5 845.5,390.1 842.5,389.7 839.5,389.4 836.5,389 833.6,388.6 832.2,381.7 831.2,381.6 829.8,388.1 827.5,387.8 824.5,387.4 821.5,387 818.5,386.6 815.5,386.2 812.5,385.8 809.5,385.4 806.4,385 805,378.3 804,378.1 802.6,384.5 800.5,384.1 797.5,383.7 794.5,383.3 791.5,382.8 788.5,382.4 785.5,381.9 782.5,381.5 779.5,381 779.2,381 777.8,374.4 776.8,374.3 775.4,380.4 773.5,380.1 770.5,379.6 767.5,379.2 764.5,378.7 761.5,378.2 758.5,377.7 755.5,377.2 752.5,376.7 752,376.6 750.6,370.3 749.6,370.1 748.2,376 746.5,375.7 743.5,375.2 740.5,374.7 737.5,374.2 734.5,373.7 731.5,373.1 728.5,372.6 725.5,372.1 724.7,372 723.3,365.8 722.3,365.7 720.9,371.3 719.5,371 716.5,370.5 713.5,369.9 710.5,369.4 707.5,368.8 704.5,368.3 701.5,367.7 698.5,367.1 697.5,367 696.1,361.1 695.1,360.9 693.7,366.2 692.5,366 689.5,365.4 686.5,364.8 683.5,364.3 680.5,363.7 677.5,363.1 674.5,362.5 671.5,361.9 670.3,361.6 668.9,356 667.9,355.8 666.5,360.9 665.5,360.7 662.5,360.1 659.5,359.4 656.5,358.8 653.5,358.2 650.5,357.6 647.5,357 644.5,356.3 643,356 641.6,350.7 640.6,350.5 639.2,355.2 638.5,355.1 635.5,354.4 632.5,353.8 629.5,353.1 626.5,352.5 623.5,351.8 620.5,351.2 617.5,350.5 615.8,350.1 614.4,345.1 613.4,344.8 612,349.3 611.5,349.2 608.5,348.5 605.5,347.8 602.5,347.2 599.5,346.5 596.5,345.8 593.5,345.1 590.5,344.4 588.6,344 587.2,339.2 586.2,339 584.8,343.1 584.5,343 581.5,342.3 578.5,341.6 575.5,340.9 572.5,340.2 569.5,339.5 566.5,338.8 563.5,338.1 561.3,337.6 559.9,333.1 558.9,332.9 557.5,336.7 554.5,335.9 551.5,335.2 548.5,334.5 545.5,333.8 542.5,333 539.5,332.3 536.5,331.6 534.1,331 532.7,326.8 531.7,326.6 530.3,330 527.5,329.3 524.5,328.6 521.5,327.8 518.5,327.1 515.5,326.3 512.5,325.6 509.5,324.8 506.9,324.1 505.5,320.3 504.5,320.1 503.1,323.2 500.5,322.5 497.5,321.7 494.5,321 491.5,320.2 488.5,319.4 485.5,318.6 482.5,317.8 479.7,317.1 478.3,313.6 477.3,313.4 475.9,316.1 473.5,315.5 470.5,314.7 467.5,313.9 464.5,313.1 461.5,312.3 458.5,311.5 455.5,310.7 452.4,309.9 451,306.8 450,306.5 448.6,308.9 446.5,308.3 443.5,307.5 440.5,306.7 437.5,305.9 434.5,305.1 431.5,304.3 428.5,303.5 425.5,302.6 425.2,302.6 423.8,299.8 422.8,299.5 421.4,301.5 419.5,301 416.5,300.2 413.5,299.4 410.5,298.5 407.5,297.7 404.5,296.9 401.5,296.1 398.5,295.2 398,295.1 396.6,292.7 395.6,292.4 394.2,294 392.5,293.6 389.5,292.7 386.5,291.9 383.5,291.1 380.5,290.2 377.5,289.4 374.5,288.5 371.5,287.7 370.7,287.5 369.3,285.5 368.3,285.2 366.9,286.4 365.5,286 362.5,285.2 359.5,284.3 356.5,283.5 353.5,282.6 350.5,281.8 347.5,280.9 344.5,280.1 343.5,279.8 342.1,278.2 341.1,277.9 339.7,278.7 338.5,278.4 335.5,277.5 332.5,276.7 329.5,275.8 326.5,275 323.5,274.1 320.5,273.2 317.5,272.4 316.3,272 314.9,270.8 313.9,270.5 312.5,271 311.5,270.7 308.5,269.8 305.5,269 302.5,268.1 299.5,267.2 296.5,266.4 293.5,265.5 290.5,264.7 289,264.2 287.6,263.4 286.6,263.1 285.2,263.2 284.5,262.9 281.5,262.1 278.5,261.2 275.5,260.3 272.5,259.5 269.5,258.6 266.5,257.8 263.5,256.9 261.8,256.4 260.4,255.9 259.4,255.7 258,255.3 257.5,255.2 254.5,254.3" fill="#008000"/>
<polygon points="277.3,254.3 280.3,253.4 280.9,253.3 282.3,252.9 283.3,252.7 284.7,252.2 286.3,251.7 289.3,250.8 292.3,250 295.3,249.1 298.3,248.3 301.3,247.4 304.3,246.5 307.3,245.7 308.1,245.4 309.5,245.5 310.5,245.2 311.9,244.4 313.3,243.9 316.3,243.1 319.3,242.2 322.3,241.4 325.3,240.5 328.3,239.6 331.3,238.8 334.3,237.9 335.3,237.6 336.7,238.1 337.7,237.8 339.1,236.6 340.3,236.2 343.3,235.4 346.3,234.5 349.3,233.6 352.3,232.8 355.3,231.9 358.3,231.1 361.3,230.2 362.6,229.9 364,230.7 365,230.4 366.4,228.8 367.3,228.5 370.3,227.7 373.3,226.8 376.3,226 379.3,225.1 382.3,224.3 385.3,223.4 388.3,222.6 389.8,222.2 391.2,223.4 392.2,223.1 393.6,221.1 394.3,220.9 397.3,220.1 400.3,219.2 403.3,218.4 406.3,217.5 409.3,216.7 412.3,215.9 415.3,215 417,214.6 418.4,216.2 419.4,215.9 420.8,213.5 421.3,213.4 424.3,212.5 427.3,211.7 430.3,210.9 433.3,210.1 436.3,209.2 439.3,208.4 442.3,207.6 444.3,207.1 445.7,209.1 446.7,208.8 448.1,206 448.3,206 451.3,205.1 454.3,204.3 457.3,203.5 460.3,202.7 463.3,201.9 466.3,201.1 469.3,200.3 471.5,199.7 472.9,202.1 473.9,201.8 475.3,198.7 478.3,197.9 481.3,197.1 484.3,196.3 487.3,195.5 490.3,194.7 493.3,193.9 496.3,193.1 498.7,192.5 500.1,195.2 501.1,195 502.5,191.5 505.3,190.8 508.3,190 511.3,189.2 514.3,188.4 517.3,187.6 520.3,186.9 523.3,186.1 526,185.4 527.4,188.5 528.4,188.3 529.8,184.5 532.3,183.8 535.3,183 538.3,182.3 541.3,181.5 544.3,180.8 547.3,180 550.3,179.3 553.2,178.6 554.6,182 555.6,181.8 557,177.6 559.3,177 562.3,176.3 565.3,175.6 568.3,174.8 571.3,174.1 574.3,173.4 577.3,172.7 580.4,171.9 581.8,175.7 582.8,175.5 584.2,171 586.3,170.5 589.3,169.8 592.3,169.1 595.3,168.4 598.3,167.7 601.3,167 604.3,166.3 607.3,165.6 607.6,165.5 609,169.6 610,169.4 611.4,164.6 613.3,164.2 616.3,163.5 619.3,162.8 622.3,162.1 625.3,161.4 628.3,160.8 631.3,160.1 634.3,159.4 634.9,159.3 636.3,163.8 637.3,163.5 638.7,158.5 640.3,158.1 643.3,157.4 646.3,156.8 649.3,156.1 652.3,155.5 655.3,154.8 658.3,154.2 661.3,153.5 662.1,153.4 663.5,158.1 664.5,157.9 665.9,152.6 667.3,152.3 670.3,151.6 673.3,151 676.3,150.4 679.3,149.8 682.3,149.2 685.3,148.5 688.3,147.9 689.3,147.7 690.7,152.8 691.7,152.6 693.1,147 694.3,146.7 697.3,146.1 700.3,145.5 703.3,144.9 706.3,144.3 709.3,143.8 712.3,143.2 715.3,142.6 716.6,142.4 718,147.7 719,147.5 720.4,141.6 721.3,141.5 724.3,140.9 727.3,140.3 730.3,139.8 733.3,139.2 736.3,138.7 739.3,138.1 742.3,137.6 743.8,137.3 745.2,142.9 746.2,142.8 747.6,136.6 748.3,136.5 751.3,136 754.3,135.5 757.3,134.9 760.3,134.4 763.3,133.9 766.3,133.4 769.3,132.9 771,132.6 772.4,138.5 773.4,138.3 774.8,132 775.3,131.9 778.3,131.4 781.3,130.9 784.3,130.4 787.3,129.9 790.3,129.4 793.3,129 796.3,128.5 798.3,128.2 799.7,134.3 800.7,134.2 802.1,127.6 802.3,127.6 805.3,127.1 808.3,126.7 811.3,126.2 814.3,125.8 817.3,125.3 820.3,124.9 823.3,124.5 825.5,124.1 826.9,130.5 827.9,130.3 829.3,123.6 832.3,123.2 835.3,122.8 838.3,122.4 841.3,122 844.3,121.6 847.3,121.2 850.3,120.8 852.7,120.5 854.1,127 855.1,126.9 856.5,120 859.3,119.6 862.3,119.2 865.3,118.9 868.3,118.5 871.3,118.1 874.3,117.8 877.3,117.4 879.9,117.1 881.3,123.8 882.3,123.7 883.7,116.7 886.3,116.4 889.3,116.1 892.3,115.7 895.3,115.4 898.3,115.1 901.3,114.8 904.3,114.5 907.2,114.2 908.6,121.1 909.6,121 911,113.8 913.3,113.6 916.3,113.3 919.3,113 922.3,112.7 925.3,112.4 928.3,112.2 931.3,111.9 934.4,111.6 935.8,118.6 936.8,118.6 938.2,111.3 940.3,111.1 943.3,110.9 946.3,110.6 949.3,110.4 952.3,110.1 955.3,109.9 958.3,109.7 961.3,109.5 961.6,109.4 963,116.6 964,116.5 965.4,109.2 967.3,109 970.3,108.8 973.3,108.6 976.3,108.4 979.3,108.2 982.3,108.1 985.3,107.9 988.3,107.7 988.9,107.7 990.3,114.9 991.3,114.9 992.7,107.4 994.3,107.4 997.3,107.2 1000.3,107 1003.3,106.9 1006.3,106.7 1009.3,106.6 1012.3,106.5 1015.3,106.3 1016.1,106.3 1017.5,113.6 1018.5,113.6 1019.9,106.1 1021.3,106.1 1024.3,106 1027.3,105.8 1030.3,105.7 1033.3,105.6 1036.3,105.5 1039.3,105.4 1042.3,105.3 1043.3,105.3 1044.7,112.7 1045.7,112.7 1047.1,105.2 1048.3,105.2 1051.3,105.1 1054.3,105 1057.3,105 1060.3,104.9 1063.3,104.9 1066.3,104.8 1069.3,104.8 1070.6,104.8 1072,112.2 1073,112.2 1074.4,104.7 1075.3,104.7 1078.3,104.7 1081.3,104.6 1084.3,104.6 1087.3,104.6 1090.3,104.6 1093.3,104.6 1096.3,104.6 1097.8,104.6 1099.2,112.1 1100.2,112.1 1101.6,104.6 1102.3,104.6 1105.3,104.6 1108.3,104.7 1111.3,104.7 1114.3,104.7 1117.3,104.7 1120.3,104.8 1123.3,104.8 1125,104.9 1126.4,112.4 1127.4,112.4 1128.8,104.9 1129.3,104.9 1132.3,105 1135.3,105.1 1138.3,105.1 1141.3,105.2 1144.3,105.3 1147.3,105.4 1150.3,105.5 1152.2,105.5 1153.6,113 1154.6,113 1156,105.7 1156.3,105.7 1159.3,105.8 1162.3,105.9 1165.3,106 1168.3,106.1 1171.3,106.2 1174.3,106.4 1177.3,106.5 1179.5,106.6 1180.9,114.1 1181.9,114.1 1183.3,106.8 1186.3,106.9 1189.3,107.1 1192.3,107.3 1195.3,107.4 1198.3,107.6 1201.3,107.8 1204.3,107.9 1206.7,108.1 1208.1,115.5 1209.1,115.5 1210.5,108.3 1213.3,108.5 1216.3,108.7 1219.3,108.9 1222.3,109.1 1225.3,109.3 1228.3,109.5 1231.3,109.8 1233.9,110 1235.3,117.3 1236.3,117.4 1237.7,110.3 1240.3,110.5 1243.3,110.7 1246.3,111 1249.3,111.2 1252.3,111.5 1255.3,111.7 1258.3,112 1261.2,112.2 1262.6,119.5 1263.6,119.6 1265,112.6 1267.3,112.8 1270.3,113.1 1273.3,113.4 1276.3,113.7 1279.3,114 1282.3,114.3 1285.3,114.6 1288.4,114.9 1289.8,122 1290.8,122.1 1292.2,115.3 1294.3,115.5 1297.3,115.9 1300.3,116.2 1303.3,116.5 1306.3,116.9 1309.3,117.2 1312.3,117.6 1315.3,117.9 1315.6,118 1317,124.9 1318,125 1319.4,118.4 1321.3,118.6 1324.3,119 1327.3,119.4 1330.3,119.8 1333.3,120.1 1336.3,120.5 1339.3,120.9 1342.3,121.3 1342.9,121.4 1344.3,128.2 1345.3,128.3 1346.7,121.9 1348.3,122.1 1351.3,122.5 1354.3,122.9 1357.3,123.4 1360.3,123.8 1363.3,124.2 1366.3,124.6 1369.3,125.1 1370.1,125.2 1371.5,131.8 1372.5,132 1373.9,125.7 1375.3,125.9 1378.3,126.4 1381.3,126.8 1384.3,127.3 1387.3,127.8 1390.3,128.2 1393.3,128.7 1396.3,129.2 1397.3,129.3 1398.7,135.8 1399.7,135.9 1401.1,129.9 1402.3,130.1 1405.3,130.6 1408.3,131.1 1411.3,131.6 1414.3,132.1 1417.3,132.6 1420.3,133.1 1423.3,133.6 1424.5,133.8 1425.9,140 1426.9,140.2 1428.3,134.4 1429.3,134.6 1432.3,135.1 1435.3,135.7 1438.3,136.2 1441.3,136.7 1444.3,137.3 1447.3,137.8 1450.3,138.3 1451.8,138.6 1453.2,144.6 1454.2,144.8 1455.6,139.3 1456.3,139.4 1459.3,140 1462.3,140.6 1465.3,141.1 1468.3,141.7 1471.3,142.3 1474.3,142.8 1477.3,143.4 1479,143.7 1480.4,149.5 1481.4,149.7 1482.8,144.5 1483.3,144.6 1486.3,145.2 1489.3,145.8 1492.3,146.4 1495.3,147 1498.3,147.6 1501.3,148.2 1504.3,148.8 1506.2,149.2 1507.6,154.7 1508.6,154.9 1510,150 1510.3,150 1513.3,150.6 1516.3,151.3 1519.3,151.9 1522.3,152.5 1525.3,153.2 1528.3,153.8 1531.3,154.4 1533.5,154.9 1534.9,160.1 1535.9,160.4 1537.3,155.7 1540.3,156.4 1543.3,157 1546.3,157.7 1549.3,158.4 1552.3,159 1555.3,159.7 1558.3,160.4 1560.7,160.9 1562.1,165.9 1563.1,166.1 1564.5,161.7 1567.3,162.4 1570.3,163.1 1573.3,163.8 1576.3,164.4 1579.3,165.1 1582.3,165.8 1585.3,166.5 1587.9,167.1 1589.3,171.8 1590.3,172 1591.7,168 1594.3,168.6 1597.3,169.4 1600.3,170.1 1603.3,170.8 1606.3,171.5 1609.3,172.2 1612.3,172.9 1615.2,173.6 1616.6,178 1617.6,178.2 1619,174.5 1621.3,175.1 1624.3,175.9 1627.3,176.6 1630.3,177.3 1633.3,178.1 1636.3,178.8 1639.3,179.6 1642.4,180.3 1643.8,184.4 1644.8,184.6 1646.2,181.3 1648.3,181.8 1651.3,182.6 1654.3,183.3 1657.3,184.1 1660.3,184.9 1663.3,185.6 1666.3,186.4 1669.3,187.2 1669.6,187.2 1671,190.9 1672,191.2 1673.4,188.2 1675.3,188.7 1678.3,189.5 1681.3,190.3 1684.3,191.1 1687.3,191.8 1690.3,192.6 1693.3,193.4 1696.3,194.2 1696.8,194.3 1698.2,197.7 1699.2,197.9 1700.6,195.3 1702.3,195.8 1705.3,196.6 1708.3,197.4 1711.3,198.2 1714.3,199 1717.3,199.8 1720.3,200.6 1723.3,201.4 1724.1,201.6 1725.5,204.6 1726.5,204.9 1727.9,202.6 1729.3,203 1732.3,203.8 1735.3,204.7 1738.3,205.5 1741.3,206.3 1744.3,207.1 1747.3,207.9 1750.3,208.7 1751.3,209 1752.7,211.6 1753.7,211.9 1755.1,210.1 1756.3,210.4 1759.3,211.2 1762.3,212 1765.3,212.9 1768.3,213.7 1771.3,214.5 1774.3,215.4 1777.3,216.2 1778.5,216.5 1779.9,218.8 1780.9,219.1 1782.3,217.6 1783.3,217.9 1786.3,218.7 1789.3,219.6 1792.3,220.4 1795.3,221.2 1798.3,222.1 1801.3,222.9 1804.3,223.8 1805.8,224.2 1807.2,226.1 1808.2,226.3 1809.6,225.2 1810.3,225.5 1813.3,226.3 1816.3,227.2 1819.3,228 1822.3,228.9 1825.3,229.7 1828.3,230.6 1831.3,231.4 1833,231.9 1834.4,233.4 1835.4,233.7 1836.8,233 1837.3,233.1 1840.3,234 1843.3,234.8 1846.3,235.7 1849.3,236.6 1852.3,237.4 1855.3,238.3 1858.3,239.1 1860.2,239.7 1861.6,240.8 1862.6,241.1 1864,240.8 1864.3,240.8 1867.3,241.7 1870.3,242.6 1873.3,243.4 1876.3,244.3 1879.3,245.2 1882.3,246 1885.3,246.9 1887.5,247.5 1888.9,248.2 1889.9,248.5 1891.3,248.6 1894.3,249.5 1897.3,250.3 1900.3,251.2 1903.3,252.1 1906.3,252.9 1909.3,253.8 1911.1,254.3 1911.1,254.3 1909.3,254.8 1906.3,255.7 1903.3,256.5 1900.3,257.4 1897.3,258.3 1894.3,259.1 1891.3,260 1889.9,260.1 1888.9,260.4 1887.5,261.1 1885.3,261.7 1882.3,262.6 1879.3,263.4 1876.3,264.3 1873.3,265.2 1870.3,266 1867.3,266.9 1864.3,267.8 1864,267.8 1862.6,267.5 1861.6,267.8 1860.2,268.9 1858.3,269.5 1855.3,270.3 1852.3,271.2 1849.3,272 1846.3,272.9 1843.3,273.8 1840.3,274.6 1837.3,275.5 1836.8,275.6 1835.4,274.9 1834.4,275.2 1833,276.7 1831.3,277.2 1828.3,278 1825.3,278.9 1822.3,279.7 1819.3,280.6 1816.3,281.4 1813.3,282.3 1810.3,283.1 1809.6,283.4 1808.2,282.3 1807.2,282.5 1805.8,284.4 1804.3,284.8 1801.3,285.7 1798.3,286.5 1795.3,287.4 1792.3,288.2 1789.3,289 1786.3,289.9 1783.3,290.7 1782.3,291 1780.9,289.5 1779.9,289.8 1778.5,292.1 1777.3,292.4 1774.3,293.2 1771.3,294.1 1768.3,294.9 1765.3,295.7 1762.3,296.6 1759.3,297.4 1756.3,298.2 1755.1,298.5 1753.7,296.7 1752.7,297 1751.3,299.6 1750.3,299.9 1747.3,300.7 1744.3,301.5 1741.3,302.3 1738.3,303.1 1735.3,303.9 1732.3,304.8 1729.3,305.6 1727.9,306 1726.5,303.7 1725.5,304 1724.1,307 1723.3,307.2 1720.3,308 1717.3,308.8 1714.3,309.6 1711.3,310.4 1708.3,311.2 1705.3,312 1702.3,312.8 1700.6,313.3 1699.2,310.7 1698.2,310.9 1696.8,314.3 1696.3,314.4 1693.3,315.2 1690.3,316 1687.3,316.8 1684.3,317.5 1681.3,318.3 1678.3,319.1 1675.3,319.9 1673.4,320.4 1672,317.4 1671,317.7 1669.6,321.4 1669.3,321.4 1666.3,322.2 1663.3,323 1660.3,323.7 1657.3,324.5 1654.3,325.3 1651.3,326 1648.3,326.8 1646.2,327.3 1644.8,324 1643.8,324.2 1642.4,328.3 1639.3,329 1636.3,329.8 1633.3,330.5 1630.3,331.3 1627.3,332 1624.3,332.7 1621.3,333.5 1619,334.1 1617.6,330.4 1616.6,330.6 1615.2,335 1612.3,335.7 1609.3,336.4 1606.3,337.1 1603.3,337.8 1600.3,338.5 1597.3,339.2 1594.3,340 1591.7,340.6 1590.3,336.6 1589.3,336.8 1587.9,341.5 1585.3,342.1 1582.3,342.8 1579.3,343.5 1576.3,344.2 1573.3,344.8 1570.3,345.5 1567.3,346.2 1564.5,346.9 1563.1,342.5 1562.1,342.7 1560.7,347.7 1558.3,348.2 1555.3,348.9 1552.3,349.6 1549.3,350.2 1546.3,350.9 1543.3,351.6 1540.3,352.2 1537.3,352.9 1535.9,348.2 1534.9,348.5 1533.5,353.7 1531.3,354.2 1528.3,354.8 1525.3,355.4 1522.3,356.1 1519.3,356.7 1516.3,357.3 1513.3,358 1510.3,358.6 1510,358.6 1508.6,353.7 1507.6,353.9 1506.2,359.4 1504.3,359.8 1501.3,360.4 1498.3,361 1495.3,361.6 1492.3,362.2 1489.3,362.8 1486.3,363.4 1483.3,364 1482.8,364.1 1481.4,358.9 1480.4,359.1 1479,364.9 1477.3,365.2 1474.3,365.8 1471.3,366.3 1468.3,366.9 1465.3,367.5 1462.3,368 1459.3,368.6 1456.3,369.2 1455.6,369.3 1454.2,363.8 1453.2,364 1451.8,370 1450.3,370.3 1447.3,370.8 1444.3,371.3 1441.3,371.9 1438.3,372.4 1435.3,372.9 1432.3,373.5 1429.3,374 1428.3,374.2 1426.9,368.4 1425.9,368.6 1424.5,374.8 1423.3,375 1420.3,375.5 1417.3,376 1414.3,376.5 1411.3,377 1408.3,377.5 1405.3,378 1402.3,378.5 1401.1,378.7 1399.7,372.7 1398.7,372.8 1397.3,379.3 1396.3,379.4 1393.3,379.9 1390.3,380.4 1387.3,380.8 1384.3,381.3 1381.3,381.8 1378.3,382.2 1375.3,382.7 1373.9,382.9 1372.5,376.6 1371.5,376.8 1370.1,383.4 1369.3,383.5 1366.3,384 1363.3,384.4 1360.3,384.8 1357.3,385.2 1354.3,385.7 1351.3,386.1 1348.3,386.5 1346.7,386.7 1345.3,380.3 1344.3,380.4 1342.9,387.2 1342.3,387.3 1339.3,387.7 1336.3,388.1 1333.3,388.5 1330.3,388.8 1327.3,389.2 1324.3,389.6 1321.3,390 1319.4,390.2 1318,383.6 1317,383.7 1315.6,390.6 1315.3,390.7 1312.3,391 1309.3,391.4 1306.3,391.7 1303.3,392.1 1300.3,392.4 1297.3,392.7 1294.3,393.1 1292.2,393.3 1290.8,386.5 1289.8,386.6 1288.4,393.7 1285.3,394 1282.3,394.3 1279.3,394.6 1276.3,394.9 1273.3,395.2 1270.3,395.5 1267.3,395.8 1265,396 1263.6,389 1262.6,389.1 1261.2,396.4 1258.3,396.6 1255.3,396.9 1252.3,397.1 1249.3,397.4 1246.3,397.6 1243.3,397.9 1240.3,398.1 1237.7,398.3 1236.3,391.2 1235.3,391.3 1233.9,398.6 1231.3,398.8 1228.3,399.1 1225.3,399.3 1222.3,399.5 1219.3,399.7 1216.3,399.9 1213.3,400.1 1210.5,400.3 1209.1,393.1 1208.1,393.1 1206.7,400.5 1204.3,400.7 1201.3,400.8 1198.3,401 1195.3,401.2 1192.3,401.3 1189.3,401.5 1186.3,401.7 1183.3,401.8 1181.9,394.5 1180.9,394.5 1179.5,402 1177.3,402.1 1174.3,402.2 1171.3,402.4 1168.3,402.5 1165.3,402.6 1162.3,402.7 1159.3,402.8 1156.3,402.9 1156,402.9 1154.6,395.6 1153.6,395.6 1152.2,403.1 1150.3,403.1 1147.3,403.2 1144.3,403.3 1141.3,403.4 1138.3,403.5 1135.3,403.5 1132.3,403.6 1129.3,403.7 1128.8,403.7 1127.4,396.2 1126.4,396.2 1125,403.7 1123.3,403.8 1120.3,403.8 1117.3,403.9 1114.3,403.9 1111.3,403.9 1108.3,403.9 1105.3,404 1102.3,404 1101.6,404 1100.2,396.5 1099.2,396.5 1097.8,404 1096.3,404 1093.3,404 1090.3,404 1087.3,404 1084.3,404 1081.3,404 1078.3,403.9 1075.3,403.9 1074.4,403.9 1073,396.4 1072,396.4 1070.6,403.8 1069.3,403.8 1066.3,403.8 1063.3,403.7 1060.3,403.7 1057.3,403.6 1054.3,403.6 1051.3,403.5 1048.3,403.4 1047.1,403.4 1045.7,395.9 1044.7,395.9 1043.3,403.3 1042.3,403.3 1039.3,403.2 1036.3,403.1 1033.3,403 1030.3,402.9 1027.3,402.8 1024.3,402.6 1021.3,402.5 1019.9,402.5 1018.5,395 1017.5,395 1016.1,402.3 1015.3,402.3 1012.3,402.1 1009.3,402 1006.3,401.9 1003.3,401.7 1000.3,401.6 997.3,401.4 994.3,401.2 992.7,401.2 991.3,393.7 990.3,393.7 988.9,400.9 988.3,400.9 985.3,400.7 982.3,400.5 979.3,400.4 976.3,400.2 973.3,400 970.3,399.8 967.3,399.6 965.4,399.4 964,392.1 963,392 961.6,399.2 961.3,399.1 958.3,398.9 955.3,398.7 952.3,398.5 949.3,398.2 946.3,398 943.3,397.7 940.3,397.5 938.2,397.3 936.8,390 935.8,390 934.4,397 931.3,396.7 928.3,396.4 925.3,396.2 922.3,395.9 919.3,395.6 916.3,395.3 913.3,395 911,394.8 909.6,387.6 908.6,387.5 907.2,394.4 904.3,394.1 901.3,393.8 898.3,393.5 895.3,393.2 892.3,392.9 889.3,392.5 886.3,392.2 883.7,391.9 882.3,384.9 881.3,384.8 879.9,391.5 877.3,391.2 874.3,390.8 871.3,390.5 868.3,390.1 865.3,389.7 862.3,389.4 859.3,389 856.5,388.6 855.1,381.7 854.1,381.6 852.7,388.1 850.3,387.8 847.3,387.4 844.3,387 841.3,386.6 838.3,386.2 835.3,385.8 832.3,385.4 829.3,385 827.9,378.3 826.9,378.1 825.5,384.5 823.3,384.1 820.3,383.7 817.3,383.3 814.3,382.8 811.3,382.4 808.3,381.9 805.3,381.5 802.3,381 802.1,381 800.7,374.4 799.7,374.3 798.3,380.4 796.3,380.1 793.3,379.6 790.3,379.2 787.3,378.7 784.3,378.2 781.3,377.7 778.3,377.2 775.3,376.7 774.8,376.6 773.4,370.3 772.4,370.1 771,376 769.3,375.7 766.3,375.2 763.3,374.7 760.3,374.2 757.3,373.7 754.3,373.1 751.3,372.6 748.3,372.1 747.6,372 746.2,365.8 745.2,365.7 743.8,371.3 742.3,371 739.3,370.5 736.3,369.9 733.3,369.4 730.3,368.8 727.3,368.3 724.3,367.7 721.3,367.1 720.4,367 719,361.1 718,360.9 716.6,366.2 715.3,366 712.3,365.4 709.3,364.8 706.3,364.3 703.3,363.7 700.3,363.1 697.3,362.5 694.3,361.9 693.1,361.6 691.7,356 690.7,355.8 689.3,360.9 688.3,360.7 685.3,360.1 682.3,359.4 679.3,358.8 676.3,358.2 673.3,357.6 670.3,357 667.3,356.3 665.9,356 664.5,350.7 663.5,350.5 662.1,355.2 661.3,355.1 658.3,354.4 655.3,353.8 652.3,353.1 649.3,352.5 646.3,351.8 643.3,351.2 640.3,350.5 638.7,350.1 637.3,345.1 636.3,344.8 634.9,349.3 634.3,349.2 631.3,348.5 628.3,347.8 625.3,347.2 622.3,346.5 619.3,345.8 616.3,345.1 613.3,344.4 611.4,344 610,339.2 609,339 607.6,343.1 607.3,343 604.3,342.3 601.3,341.6 598.3,340.9 595.3,340.2 592.3,339.5 589.3,338.8 586.3,338.1 584.2,337.6 582.8,333.1 581.8,332.9 580.4,336.7 577.3,335.9 574.3,335.2 571.3,334.5 568.3,333.8 565.3,333 562.3,332.3 559.3,331.6 557,331 555.6,326.8 554.6,326.6 553.2,330 550.3,329.3 547.3,328.6 544.3,327.8 541.3,327.1 538.3,326.3 535.3,325.6 532.3,324.8 529.8,324.1 528.4,320.3 527.4,320.1 526,323.2 523.3,322.5 520.3,321.7 517.3,321 514.3,320.2 511.3,319.4 508.3,318.6 505.3,317.8 502.5,317.1 501.1,313.6 500.1,313.4 498.7,316.1 496.3,315.5 493.3,314.7 490.3,313.9 487.3,313.1 484.3,312.3 481.3,311.5 478.3,310.7 475.3,309.9 473.9,306.8 472.9,306.5 471.5,308.9 469.3,308.3 466.3,307.5 463.3,306.7 460.3,305.9 457.3,305.1 454.3,304.3 451.3,303.5 448.3,302.6 448.1,302.6 446.7,299.8 445.7,299.5 444.3,301.5 442.3,301 439.3,300.2 436.3,299.4 433.3,298.5 430.3,297.7 427.3,296.9 424.3,296.1 421.3,295.2 420.8,295.1 419.4,292.7 418.4,292.4 417,294 415.3,293.6 412.3,292.7 409.3,291.9 406.3,291.1 403.3,290.2 400.3,289.4 397.3,288.5 394.3,287.7 393.6,287.5 392.2,285.5 391.2,285.2 389.8,286.4 388.3,286 385.3,285.2 382.3,284.3 379.3,283.5 376.3,282.6 373.3,281.8 370.3,280.9 367.3,280.1 366.4,279.8 365,278.2 364,277.9 362.6,278.7 361.3,278.4 358.3,277.5 355.3,276.7 352.3,275.8 349.3,275 346.3,274.1 343.3,273.2 340.3,272.4 339.1,272 337.7,270.8 336.7,270.5 335.3,271 334.3,270.7 331.3,269.8 328.3,269 325.3,268.1 322.3,267.2 319.3,266.4 316.3,265.5 313.3,264.7 311.9,264.2 310.5,263.4 309.5,263.1 308.1,263.2 307.3,262.9 304.3,262.1 301.3,261.2 298.3,260.3 295.3,259.5 292.3,258.6 289.3,257.8 286.3,256.9 284.7,256.4 283.3,255.9 282.3,255.7 280.9,255.3 280.3,255.2 277.3,254.3" fill="#ff0000"/>
<polygon points="326.4,254.3 329.4,253.4 329.9,253.3 331.3,252.9 332.3,252.7 333.7,252.2 335.4,251.7 338.4,250.8 341.4,250 344.4,249.1 347.4,248.3 350.4,247.4 353.4,246.5 356.4,245.7 357.1,245.4 358.5,245.5 359.5,245.2 360.9,244.4 362.4,243.9 365.4,243.1 368.4,242.2 371.4,241.4 374.4,240.5 377.4,239.6 380.4,238.8 383.4,237.9 384.4,237.6 385.8,238.1 386.8,237.8 388.2,236.6 389.4,236.2 392.4,235.4 395.4,234.5 398.4,233.6 401.4,232.8 404.4,231.9 407.4,231.1 410.4,230.2 411.6,229.9 413,230.7 414,230.4 415.4,228.8 416.4,228.5 419.4,227.7 422.4,226.8 425.4,226 428.4,225.1 431.4,224.3 434.4,223.4 437.4,222.6 438.8,222.2 440.2,223.4 441.2,223.1 442.6,221.1 443.4,220.9 446.4,220.1 449.4,219.2 452.4,218.4 455.4,217.5 458.4,216.7 461.4,215.9 464.4,215 466.1,214.6 467.5,216.2 468.5,215.9 469.9,213.5 470.4,213.4 473.4,212.5 476.4,211.7 479.4,210.9 482.4,210.1 485.4,209.2 488.4,208.4 491.4,207.6 493.3,207.1 494.7,209.1 495.7,208.8 497.1,206 497.4,206 500.4,205.1 503.4,204.3 506.4,203.5 509.4,202.7 512.4,201.9 515.4,201.1 518.4,200.3 520.5,199.7 521.9,202.1 522.9,201.8 524.3,198.7 527.4,197.9 530.4,197.1 533.4,196.3 536.4,195.5 539.4,194.7 542.4,193.9 545.4,193.1 547.7,192.5 549.1,195.2 550.1,195 551.5,191.5 554.4,190.8 557.4,190 560.4,189.2 563.4,188.4 566.4,187.6 569.4,186.9 572.4,186.1 575,185.4 576.4,188.5 577.4,188.3 578.8,184.5 581.4,183.8 584.4,183 587.4,182.3 590.4,181.5 593.4,180.8 596.4,180 599.4,179.3 602.2,178.6 603.6,182 604.6,181.8 606,177.6 608.4,177 611.4,176.3 614.4,175.6 617.4,174.8 620.4,174.1 623.4,173.4 626.4,172.7 629.4,171.9 630.8,175.7 631.8,175.5 633.2,171 635.4,170.5 638.4,169.8 641.4,169.1 644.4,168.4 647.4,167.7 650.4,167 653.4,166.3 656.4,165.6 656.7,165.5 658.1,169.6 659.1,169.4 660.5,164.6 662.4,164.2 665.4,163.5 668.4,162.8 671.4,162.1 674.4,161.4 677.4,160.8 680.4,160.1 683.4,159.4 683.9,159.3 685.3,163.8 686.3,163.5 687.7,158.5 689.4,158.1 692.4,157.4 695.4,156.8 698.4,156.1 701.4,155.5 704.4,154.8 707.4,154.2 710.4,153.5 711.1,153.4 712.5,158.1 713.5,157.9 714.9,152.6 716.4,152.3 719.4,151.6 722.4,151 725.4,150.4 728.4,149.8 731.4,149.2 734.4,148.5 737.4,147.9 738.4,147.7 739.8,152.8 740.8,152.6 742.2,147 743.4,146.7 746.4,146.1 749.4,145.5 752.4,144.9 755.4,144.3 758.4,143.8 761.4,143.2 764.4,142.6 765.6,142.4 767,147.7 768,147.5 769.4,141.6 770.4,141.5 773.4,140.9 776.4,140.3 779.4,139.8 782.4,139.2 785.4,138.7 788.4,138.1 791.4,137.6 792.8,137.3 794.2,142.9 795.2,142.8 796.6,136.6 797.4,136.5 800.4,136 803.4,135.5 806.4,134.9 809.4,134.4 812.4,133.9 815.4,133.4 818.4,132.9 820,132.6 821.4,138.5 822.4,138.3 823.8,132 824.4,131.9 827.4,131.4 830.4,130.9 833.4,130.4 836.4,129.9 839.4,129.4 842.4,129 845.4,128.5 847.3,128.2 848.7,134.3 849.7,134.2 851.1,127.6 851.4,127.6 854.4,127.1 857.4,126.7 860.4,126.2 863.4,125.8 866.4,125.3 869.4,124.9 872.4,124.5 874.5,124.1 875.9,130.5 876.9,130.3 878.3,123.6 881.4,123.2 884.4,122.8 887.4,122.4 890.4,122 893.4,121.6 896.4,121.2 899.4,120.8 901.7,120.5 903.1,127 904.1,126.9 905.5,120 908.4,119.6 911.4,119.2 914.4,118.9 917.4,118.5 920.4,118.1 923.4,117.8 926.4,117.4 929,117.1 930.4,123.8 931.4,123.7 932.8,116.7 935.4,116.4 938.4,116.1 941.4,115.7 944.4,115.4 947.4,115.1 950.4,114.8 953.4,114.5 956.2,114.2 957.6,121.1 958.6,121 960,113.8 962.4,113.6 965.4,113.3 968.4,113 971.4,112.7 974.4,112.4 977.4,112.2 980.4,111.9 983.4,111.6 984.8,118.6 985.8,118.6 987.2,111.3 989.4,111.1 992.4,110.9 995.4,110.6 998.4,110.4 1001.4,110.1 1004.4,109.9 1007.4,109.7 1010.4,109.5 1010.7,109.4 1012.1,116.6 1013.1,116.5 1014.5,109.2 1016.4,109 1019.4,108.8 1022.4,108.6 1025.4,108.4 1028.4,108.2 1031.4,108.1 1034.4,107.9 1037.4,107.7 1037.9,107.7 1039.3,114.9 1040.3,114.9 1041.7,107.4 1043.4,107.4 1046.4,107.2 1049.4,107 1052.4,106.9 1055.4,106.7 1058.4,106.6 1061.4,106.5 1064.4,106.3 1065.1,106.3 1066.5,113.6 1067.5,113.6 1068.9,106.1 1070.4,106.1 1073.4,106 1076.4,105.8 1079.4,105.7 1082.4,105.6 1085.4,105.5 1088.4,105.4 1091.4,105.3 1092.3,105.3 1093.7,112.7 1094.7,112.7 1096.1,105.2 1097.4,105.2 1100.4,105.1 1103.4,105 1106.4,105 1109.4,104.9 1112.4,104.9 1115.4,104.8 1118.4,104.8 1119.6,104.8 1121,112.2 1122,112.2 1123.4,104.7 1124.4,104.7 1127.4,104.7 1130.4,104.6 1133.4,104.6 1136.4,104.6 1139.4,104.6 1142.4,104.6 1145.4,104.6 1146.8,104.6 1148.2,112.1 1149.2,112.1 1150.6,104.6 1151.4,104.6 1154.4,104.6 1157.4,104.7 1160.4,104.7 1163.4,104.7 1166.4,104.7 1169.4,104.8 1172.4,104.8 1174,104.9 1175.4,112.4 1176.4,112.4 1177.8,104.9 1178.4,104.9 1181.4,105 1184.4,105.1 1187.4,105.1 1190.4,105.2 1193.4,105.3 1196.4,105.4 1199.4,105.5 1201.3,105.5 1202.7,113 1203.7,113 1205.1,105.7 1205.4,105.7 1208.4,105.8 1211.4,105.9 1214.4,106 1217.4,106.1 1220.4,106.2 1223.4,106.4 1226.4,106.5 1228.5,106.6 1229.9,114.1 1230.9,114.1 1232.3,106.8 1235.4,106.9 1238.4,107.1 1241.4,107.3 1244.4,107.4 1247.4,107.6 1250.4,107.8 1253.4,107.9 1255.7,108.1 1257.1,115.5 1258.1,115.5 1259.5,108.3 1262.4,108.5 1265.4,108.7 1268.4,108.9 1271.4,109.1 1274.4,109.3 1277.4,109.5 1280.4,109.8 1283,110 1284.4,117.3 1285.4,117.4 1286.8,110.3 1289.4,110.5 1292.4,110.7 1295.4,111 1298.4,111.2 1301.4,111.5 1304.4,111.7 1307.4,112 1310.2,112.2 1311.6,119.5 1312.6,119.6 1314,112.6 1316.4,112.8 1319.4,113.1 1322.4,113.4 1325.4,113.7 1328.4,114 1331.4,114.3 1334.4,114.6 1337.4,114.9 1338.8,122 1339.8,122.1 1341.2,115.3 1343.4,115.5 1346.4,115.9 1349.4,116.2 1352.4,116.5 1355.4,116.9 1358.4,117.2 1361.4,117.6 1364.4,117.9 1364.6,118 1366,124.9 1367,125 1368.4,118.4 1370.4,118.6 1373.4,119 1376.4,119.4 1379.4,119.8 1382.4,120.1 1385.4,120.5 1388.4,120.9 1391.4,121.3 1391.9,121.4 1393.3,128.2 1394.3,128.3 1395.7,121.9 1397.4,122.1 1400.4,122.5 1403.4,122.9 1406.4,123.4 1409.4,123.8 1412.4,124.2 1415.4,124.6 1418.4,125.1 1419.1,125.2 1420.5,131.8 1421.5,132 1422.9,125.7 1424.4,125.9 1427.4,126.4 1430.4,126.8 1433.4,127.3 1436.4,127.8 1439.4,128.2 1442.4,128.7 1445.4,129.2 1446.3,129.3 1447.7,135.8 1448.7,135.9 1450.1,129.9 1451.4,130.1 1454.4,130.6 1457.4,131.1 1460.4,131.6 1463.4,132.1 1466.4,132.6 1469.4,133.1 1472.4,133.6 1473.6,133.8 1475,140 1476,140.2 1477.4,134.4 1478.4,134.6 1481.4,135.1 1484.4,135.7 1487.4,136.2 1490.4,136.7 1493.4,137.3 1496.4,137.8 1499.4,138.3 1500.8,138.6 1502.2,144.6 1503.2,144.8 1504.6,139.3 1505.4,139.4 1508.4,140 1511.4,140.6 1514.4,141.1 1517.4,141.7 1520.4,142.3 1523.4,142.8 1526.4,143.4 1528,143.7 1529.4,149.5 1530.4,149.7 1531.8,144.5 1532.4,144.6 1535.4,145.2 1538.4,145.8 1541.4,146.4 1544.4,147 1547.4,147.6 1550.4,148.2 1553.4,148.8 1555.3,149.2 1556.7,154.7 1557.7,154.9 1559.1,150 1559.4,150 1562.4,150.6 1565.4,151.3 1568.4,151.9 1571.4,152.5 1574.4,153.2 1577.4,153.8 1580.4,154.4 1582.5,154.9 1583.9,160.1 1584.9,160.4 1586.3,155.7 1589.4,156.4 1592.4,157 1595.4,157.7 1598.4,158.4 1601.4,159 1604.4,159.7 1607.4,160.4 1609.7,160.9 1611.1,165.9 1612.1,166.1 1613.5,161.7 1616.4,162.4 1619.4,163.1 1622.4,163.8 1625.4,164.4 1628.4,165.1 1631.4,165.8 1634.4,166.5 1636.9,167.1 1638.3,171.8 1639.3,172 1640.7,168 1643.4,168.6 1646.4,169.4 1649.4,170.1 1652.4,170.8 1655.4,171.5 1658.4,172.2 1661.4,172.9 1664.2,173.6 1665.6,178 1666.6,178.2 1668,174.5 1670.4,175.1 1673.4,175.9 1676.4,176.6 1679.4,177.3 1682.4,178.1 1685.4,178.8 1688.4,179.6 1691.4,180.3 1692.8,184.4 1693.8,184.6 1695.2,181.3 1697.4,181.8 1700.4,182.6 1703.4,183.3 1706.4,184.1 1709.4,184.9 1712.4,185.6 1715.4,186.4 1718.4,187.2 1718.6,187.2 1720,190.9 1721,191.2 1722.4,188.2 1724.4,188.7 1727.4,189.5 1730.4,190.3 1733.4,191.1 1736.4,191.8 1739.4,192.6 1742.4,193.4 1745.4,194.2 1745.9,194.3 1747.3,197.7 1748.3,197.9 1749.7,195.3 1751.4,195.8 1754.4,196.6 1757.4,197.4 1760.4,198.2 1763.4,199 1766.4,199.8 1769.4,200.6 1772.4,201.4 1773.1,201.6 1774.5,204.6 1775.5,204.9 1776.9,202.6 1778.4,203 1781.4,203.8 1784.4,204.7 1787.4,205.5 1790.4,206.3 1793.4,207.1 1796.4,207.9 1799.4,208.7 1800.3,209 1801.7,211.6 1802.7,211.9 1804.1,210.1 1805.4,210.4 1808.4,211.2 1811.4,212 1814.4,212.9 1817.4,213.7 1820.4,214.5 1823.4,215.4 1826.4,216.2 1827.6,216.5 1829,218.8 1830,219.1 1831.4,217.6 1832.4,217.9 1835.4,218.7 1838.4,219.6 1841.4,220.4 1844.4,221.2 1847.4,222.1 1850.4,222.9 1853.4,223.8 1854.8,224.2 1856.2,226.1 1857.2,226.3 1858.6,225.2 1859.4,225.5 1862.4,226.3 1865.4,227.2 1868.4,228 1871.4,228.9 1874.4,229.7 1877.4,230.6 1880.4,231.4 1882,231.9 1883.4,233.4 1884.4,233.7 1885.8,233 1886.4,233.1 1889.4,234 1892.4,234.8 1895.4,235.7 1898.4,236.6 1901.4,237.4 1904.4,238.3 1907.4,239.1 1909.2,239.7 1910.6,240.8 1911.6,241.1 1913,240.8 1913.4,240.8 1916.4,241.7 1919.4,242.6 1922.4,243.4 1925.4,244.3 1928.4,245.2 1931.4,246 1934.4,246.9 1936.5,247.5 1937.9,248.2 1938.9,248.5 1940.3,248.6 1943.4,249.5 1946.4,250.3 1949.4,251.2 1952.4,252.1 1955.4,252.9 1958.4,253.8 1960.2,254.3 1960.2,254.3 1958.4,254.8 1955.4,255.7 1952.4,256.5 1949.4,257.4 1946.4,258.3 1943.4,259.1 1940.3,260 1938.9,260.1 1937.9,260.4 1936.5,261.1 1934.4,261.7 1931.4,262.6 1928.4,263.4 1925.4,264.3 1922.4,265.2 1919.4,266 1916.4,266.9 1913.4,267.8 1913,267.8 1911.6,267.5 1910.6,267.8 1909.2,268.9 1907.4,269.5 1904.4,270.3 1901.4,271.2 1898.4,272 1895.4,272.9 1892.4,273.8 1889.4,274.6 1886.4,275.5 1885.8,275.6 1884.4,274.9 1883.4,275.2 1882,276.7 1880.4,277.2 1877.4,278 1874.4,278.9 1871.4,279.7 1868.4,280.6 1865.4,281.4 1862.4,282.3 1859.4,283.1 1858.6,283.4 1857.2,282.3 1856.2,282.5 1854.8,284.4 1853.4,284.8 1850.4,285.7 1847.4,286.5 1844.4,287.4 1841.4,288.2 1838.4,289 1835.4,289.9 1832.4,290.7 1831.4,291 1830,289.5 1829,289.8 1827.6,292.1 1826.4,292.4 1823.4,293.2 1820.4,294.1 1817.4,294.9 1814.4,295.7 1811.4,296.6 1808.4,297.4 1805.4,298.2 1804.1,298.5 1802.7,296.7 1801.7,297 1800.3,299.6 1799.4,299.9 1796.4,300.7 1793.4,301.5 1790.4,302.3 1787.4,303.1 1784.4,303.9 1781.4,304.8 1778.4,305.6 1776.9,306 1775.5,303.7 1774.5,304 1773.1,307 1772.4,307.2 1769.4,308 1766.4,308.8 1763.4,309.6 1760.4,310.4 1757.4,311.2 1754.4,312 1751.4,312.8 1749.7,313.3 1748.3,310.7 1747.3,310.9 1745.9,314.3 1745.4,314.4 1742.4,315.2 1739.4,316 1736.4,316.8 1733.4,317.5 1730.4,318.3 1727.4,319.1 1724.4,319.9 1722.4,320.4 1721,317.4 1720,317.7 1718.6,321.4 1718.4,321.4 1715.4,322.2 1712.4,323 1709.4,323.7 1706.4,324.5 1703.4,325.3 1700.4,326 1697.4,326.8 1695.2,327.3 1693.8,324 1692.8,324.2 1691.4,328.3 1688.4,329 1685.4,329.8 1682.4,330.5 1679.4,331.3 1676.4,332 1673.4,332.7 1670.4,333.5 1668,334.1 1666.6,330.4 1665.6,330.6 1664.2,335 1661.4,335.7 1658.4,336.4 1655.4,337.1 1652.4,337.8 1649.4,338.5 1646.4,339.2 1643.4,340 1640.7,340.6 1639.3,336.6 1638.3,336.8 1636.9,341.5 1634.4,342.1 1631.4,342.8 1628.4,343.5 1625.4,344.2 1622.4,344.8 1619.4,345.5 1616.4,346.2 1613.5,346.9 1612.1,342.5 1611.1,342.7 1609.7,347.7 1607.4,348.2 1604.4,348.9 1601.4,349.6 1598.4,350.2 1595.4,350.9 1592.4,351.6 1589.4,352.2 1586.3,352.9 1584.9,348.2 1583.9,348.5 1582.5,353.7 1580.4,354.2 1577.4,354.8 1574.4,355.4 1571.4,356.1 1568.4,356.7 1565.4,357.3 1562.4,358 1559.4,358.6 1559.1,358.6 1557.7,353.7 1556.7,353.9 1555.3,359.4 1553.4,359.8 1550.4,360.4 1547.4,361 1544.4,361.6 1541.4,362.2 1538.4,362.8 1535.4,363.4 1532.4,364 1531.8,364.1 1530.4,358.9 1529.4,359.1 1528,364.9 1526.4,365.2 1523.4,365.8 1520.4,366.3 1517.4,366.9 1514.4,367.5 1511.4,368 1508.4,368.6 1505.4,369.2 1504.6,369.3 1503.2,363.8 1502.2,364 1500.8,370 1499.4,370.3 1496.4,370.8 1493.4,371.3 1490.4,371.9 1487.4,372.4 1484.4,372.9 1481.4,373.5 1478.4,374 1477.4,374.2 1476,368.4 1475,368.6 1473.6,374.8 1472.4,375 1469.4,375.5 1466.4,376 1463.4,376.5 1460.4,377 1457.4,377.5 1454.4,378 1451.4,378.5 1450.1,378.7 1448.7,372.7 1447.7,372.8 1446.3,379.3 1445.4,379.4 1442.4,379.9 1439.4,380.4 1436.4,380.8 1433.4,381.3 1430.4,381.8 1427.4,382.2 1424.4,382.7 1422.9,382.9 1421.5,376.6 1420.5,376.8 1419.1,383.4 1418.4,383.5 1415.4,384 1412.4,384.4 1409.4,384.8 1406.4,385.2 1403.4,385.7 1400.4,386.1 1397.4,386.5 1395.7,386.7 1394.3,380.3 1393.3,380.4 1391.9,387.2 1391.4,387.3 1388.4,387.7 1385.4,388.1 1382.4,388.5 1379.4,388.8 1376.4,389.2 1373.4,389.6 1370.4,390 1368.4,390.2 1367,383.6 1366,383.7 1364.6,390.6 1364.4,390.7 1361.4,391 1358.4,391.4 1355.4,391.7 1352.4,392.1 1349.4,392.4 1346.4,392.7 1343.4,393.1 1341.2,393.3 1339.8,386.5 1338.8,386.6 1337.4,393.7 1334.4,394 1331.4,394.3 1328.4,394.6 1325.4,394.9 1322.4,395.2 1319.4,395.5 1316.4,395.8 1314,396 1312.6,389 1311.6,389.1 1310.2,396.4 1307.4,396.6 1304.4,396.9 1301.4,397.1 1298.4,397.4 1295.4,397.6 1292.4,397.9 1289.4,398.1 1286.8,398.3 1285.4,391.2 1284.4,391.3 1283,398.6 1280.4,398.8 1277.4,399.1 1274.4,399.3 1271.4,399.5 1268.4,399.7 1265.4,399.9 1262.4,400.1 1259.5,400.3 1258.1,393.1 1257.1,393.1 1255.7,400.5 1253.4,400.7 1250.4,400.8 1247.4,401 1244.4,401.2 1241.4,401.3 1238.4,401.5 1235.4,401.7 1232.3,401.8 1230.9,394.5 1229.9,394.5 1228.5,402 1226.4,402.1 1223.4,402.2 1220.4,402.4 1217.4,402.5 1214.4,402.6 1211.4,402.7 1208.4,402.8 1205.4,402.9 1205.1,402.9 1203.7,395.6 1202.7,395.6 1201.3,403.1 1199.4,403.1 1196.4,403.2 1193.4,403.3 1190.4,403.4 1187.4,403.5 1184.4,403.5 1181.4,403.6 1178.4,403.7 1177.8,403.7 1176.4,396.2 1175.4,396.2 1174,403.7 1172.4,403.8 1169.4,403.8 1166.4,403.9 1163.4,403.9 1160.4,403.9 1157.4,403.9 1154.4,404 1151.4,404 1150.6,404 1149.2,396.5 1148.2,396.5 1146.8,404 1145.4,404 1142.4,404 1139.4,404 1136.4,404 1133.4,404 1130.4,404 1127.4,403.9 1124.4,403.9 1123.4,403.9 1122,396.4 1121,396.4 1119.6,403.8 1118.4,403.8 1115.4,403.8 1112.4,403.7 1109.4,403.7 1106.4,403.6 1103.4,403.6 1100.4,403.5 1097.4,403.4 1096.1,403.4 1094.7,395.9 1093.7,395.9 1092.3,403.3 1091.4,403.3 1088.4,403.2 1085.4,403.1 1082.4,403 1079.4,402.9 1076.4,402.8 1073.4,402.6 1070.4,402.5 1068.9,402.5 1067.5,395 1066.5,395 1065.1,402.3 1064.4,402.3 1061.4,402.1 1058.4,402 1055.4,401.9 1052.4,401.7 1049.4,401.6 1046.4,401.4 1043.4,401.2 1041.7,401.2 1040.3,393.7 1039.3,393.7 1037.9,400.9 1037.4,400.9 1034.4,400.7 1031.4,400.5 1028.4,400.4 1025.4,400.2 1022.4,400 1019.4,399.8 1016.4,399.6 1014.5,399.4 1013.1,392.1 1012.1,392 1010.7,399.2 1010.4,399.1 1007.4,398.9 1004.4,398.7 1001.4,398.5 998.4,398.2 995.4,398 992.4,397.7 989.4,397.5 987.2,397.3 985.8,390 984.8,390 983.4,397 980.4,396.7 977.4,396.4 974.4,396.2 971.4,395.9 968.4,395.6 965.4,395.3 962.4,395 960,394.8 958.6,387.6 957.6,387.5 956.2,394.4 953.4,394.1 950.4,393.8 947.4,393.5 944.4,393.2 941.4,392.9 938.4,392.5 935.4,392.2 932.8,391.9 931.4,384.9 930.4,384.8 929,391.5 926.4,391.2 923.4,390.8 920.4,390.5 917.4,390.1 914.4,389.7 911.4,389.4 908.4,389 905.5,388.6 904.1,381.7 903.1,381.6 901.7,388.1 899.4,387.8 896.4,387.4 893.4,387 890.4,386.6 887.4,386.2 884.4,385.8 881.4,385.4 878.3,385 876.9,378.3 875.9,378.1 874.5,384.5 872.4,384.1 869.4,383.7 866.4,383.3 863.4,382.8 860.4,382.4 857.4,381.9 854.4,381.5 851.4,381 851.1,381 849.7,374.4 848.7,374.3 847.3,380.4 845.4,380.1 842.4,379.6 839.4,379.2 836.4,378.7 833.4,378.2 830.4,377.7 827.4,377.2 824.4,376.7 823.8,376.6 822.4,370.3 821.4,370.1 820,376 818.4,375.7 815.4,375.2 812.4,374.7 809.4,374.2 806.4,373.7 803.4,373.1 800.4,372.6 797.4,372.1 796.6,372 795.2,365.8 794.2,365.7 792.8,371.3 791.4,371 788.4,370.5 785.4,369.9 782.4,369.4 779.4,368.8 776.4,368.3 773.4,367.7 770.4,367.1 769.4,367 768,361.1 767,360.9 765.6,366.2 764.4,366 761.4,365.4 758.4,364.8 755.4,364.3 752.4,363.7 749.4,363.1 746.4,362.5 743.4,361.9 742.2,361.6 740.8,356 739.8,355.8 738.4,360.9 737.4,360.7 734.4,360.1 731.4,359.4 728.4,358.8 725.4,358.2 722.4,357.6 719.4,357 716.4,356.3 714.9,356 713.5,350.7 712.5,350.5 711.1,355.2 710.4,355.1 707.4,354.4 704.4,353.8 701.4,353.1 698.4,352.5 695.4,351.8 692.4,351.2 689.4,350.5 687.7,350.1 686.3,345.1 685.3,344.8 683.9,349.3 683.4,349.2 680.4,348.5 677.4,347.8 674.4,347.2 671.4,346.5 668.4,345.8 665.4,345.1 662.4,344.4 660.5,344 659.1,339.2 658.1,339 656.7,343.1 656.4,343 653.4,342.3 650.4,341.6 647.4,340.9 644.4,340.2 641.4,339.5 638.4,338.8 635.4,338.1 633.2,337.6 631.8,333.1 630.8,332.9 629.4,336.7 626.4,335.9 623.4,335.2 620.4,334.5 617.4,333.8 614.4,333 611.4,332.3 608.4,331.6 606,331 604.6,326.8 603.6,326.6 602.2,330 599.4,329.3 596.4,328.6 593.4,327.8 590.4,327.1 587.4,326.3 584.4,325.6 581.4,324.8 578.8,324.1 577.4,320.3 576.4,320.1 575,323.2 572.4,322.5 569.4,321.7 566.4,321 563.4,320.2 560.4,319.4 557.4,318.6 554.4,317.8 551.5,317.1 550.1,313.6 549.1,313.4 547.7,316.1 545.4,315.5 542.4,314.7 539.4,313.9 536.4,313.1 533.4,312.3 530.4,311.5 527.4,310.7 524.3,309.9 522.9,306.8 521.9,306.5 520.5,308.9 518.4,308.3 515.4,307.5 512.4,306.7 509.4,305.9 506.4,305.1 503.4,304.3 500.4,303.5 497.4,302.6 497.1,302.6 495.7,299.8 494.7,299.5 493.3,301.5 491.4,301 488.4,300.2 485.4,299.4 482.4,298.5 479.4,297.7 476.4,296.9 473.4,296.1 470.4,295.2 469.9,295.1 468.5,292.7 467.5,292.4 466.1,294 464.4,293.6 461.4,292.7 458.4,291.9 455.4,291.1 452.4,290.2 449.4,289.4 446.4,288.5 443.4,287.7 442.6,287.5 441.2,285.5 440.2,285.2 438.8,286.4 437.4,286 434.4,285.2 431.4,284.3 428.4,283.5 425.4,282.6 422.4,281.8 419.4,280.9 416.4,280.1 415.4,279.8 414,278.2 413,277.9 411.6,278.7 410.4,278.4 407.4,277.5 404.4,276.7 401.4,275.8 398.4,275 395.4,274.1 392.4,273.2 389.4,272.4 388.2,272 386.8,270.8 385.8,270.5 384.4,271 383.4,270.7 380.4,269.8 377.4,269 374.4,268.1 371.4,267.2 368.4,266.4 365.4,265.5 362.4,264.7 360.9,264.2 359.5,263.4 358.5,263.1 357.1,263.2 356.4,262.9 353.4,262.1 350.4,261.2 347.4,260.3 344.4,259.5 341.4,258.6 338.4,257.8 335.4,256.9 333.7,256.4 332.3,255.9 331.3,255.7 329.9,255.3 329.4,255.2 326.4,254.3" fill="#00bfbf"/>
<polygon points="462.5,254.3 465.5,253.4 466.1,253.3 467.5,252.9 468.5,252.7 469.9,252.2 471.5,251.7 474.5,250.8 477.5,250 480.5,249.1 483.5,248.3 486.5,247.4 489.5,246.5 492.5,245.7 493.3,245.4 494.7,245.5 495.7,245.2 497.1,244.4 498.5,243.9 501.5,243.1 504.5,242.2 507.5,241.4 510.5,240.5 513.5,239.6 516.5,238.8 519.5,237.9 520.5,237.6 521.9,238.1 522.9,237.8 524.3,236.6 525.5,236.2 528.5,235.4 531.5,234.5 534.5,233.6 537.5,232.8 540.5,231.9 543.5,231.1 546.5,230.2 547.7,229.9 549.1,230.7 550.1,230.4 551.5,228.8 552.5,228.5 555.5,227.7 558.5,226.8 561.5,226 564.5,225.1 567.5,224.3 570.5,223.4 573.5,222.6 575,222.2 576.4,223.4 577.4,223.1 578.8,221.1 579.5,220.9 582.5,220.1 585.5,219.2 588.5,218.4 591.5,217.5 594.5,216.7 597.5,215.9 600.5,215 602.2,214.6 603.6,216.2 604.6,215.9 606,213.5 606.5,213.4 609.5,212.5 612.5,211.7 615.5,210.9 618.5,210.1 621.5,209.2 624.5,208.4 627.5,207.6 629.4,207.1 630.8,209.1 631.8,208.8 633.2,206 633.5,206 636.5,205.1 639.5,204.3 642.5,203.5 645.5,202.7 648.5,201.9 651.5,201.1 654.5,200.3 656.7,199.7 658.1,202.1 659.1,201.8 660.5,198.7 663.5,197.9 666.5,197.1 669.5,196.3 672.5,195.5 675.5,194.7 678.5,193.9 681.5,193.1 683.9,192.5 685.3,195.2 686.3,195 687.7,191.5 690.5,190.8 693.5,190 696.5,189.2 699.5,188.4 702.5,187.6 705.5,186.9 708.5,186.1 711.1,185.4 712.5,188.5 713.5,188.3 714.9,184.5 717.5,183.8 720.5,183 723.5,182.3 726.5,181.5 729.5,180.8 732.5,180 735.5,179.3 738.4,178.6 739.8,182 740.8,181.8 742.2,177.6 744.5,177 747.5,176.3 750.5,175.6 753.5,174.8 756.5,174.1 759.5,173.4 762.5,172.7 765.6,171.9 767,175.7 768,175.5 769.4,171 771.5,170.5 774.5,169.8 777.5,169.1 780.5,168.4 783.5,167.7 786.5,167 789.5,166.3 792.5,165.6 792.8,165.5 794.2,169.6 795.2,169.4 796.6,164.6 798.5,164.2 801.5,163.5 804.5,162.8 807.5,162.1 810.5,161.4 813.5,160.8 816.5,160.1 819.5,159.4 820,159.3 821.4,163.8 822.4,163.5 823.8,158.5 825.5,158.1 828.5,157.4 831.5,156.8 834.5,156.1 837.5,155.5 840.5,154.8 843.5,154.2 846.5,153.5 847.3,153.4 848.7,158.1 849.7,157.9 851.1,152.6 852.5,152.3 855.5,151.6 858.5,151 861.5,150.4 864.5,149.8 867.5,149.2 870.5,148.5 873.5,147.9 874.5,147.7 875.9,152.8 876.9,152.6 878.3,147 879.5,146.7 882.5,146.1 885.5,145.5 888.5,144.9 891.5,144.3 894.5,143.8 897.5,143.2 900.5,142.6 901.7,142.4 903.1,147.7 904.1,147.5 905.5,141.6 906.5,141.5 909.5,140.9 912.5,140.3 915.5,139.8 918.5,139.2 921.5,138.7 924.5,138.1 927.5,137.6 929,137.3 930.4,142.9 931.4,142.8 932.8,136.6 933.5,136.5 936.5,136 939.5,135.5 942.5,134.9 945.5,134.4 948.5,133.9 951.5,133.4 954.5,132.9 956.2,132.6 957.6,138.5 958.6,138.3 960,132 960.5,131.9 963.5,131.4 966.5,130.9 969.5,130.4 972.5,129.9 975.5,129.4 978.5,129 981.5,128.5 983.4,128.2 984.8,134.3 985.8,134.2 987.2,127.6 987.5,127.6 990.5,127.1 993.5,126.7 996.5,126.2 999.5,125.8 1002.5,125.3 1005.5,124.9 1008.5,124.5 1010.7,124.1 1012.1,130.5 1013.1,130.3 1014.5,123.6 1017.5,123.2 1020.5,122.8 1023.5,122.4 1026.5,122 1029.5,121.6 1032.5,121.2 1035.5,120.8 1037.9,120.5 1039.3,127 1040.3,126.9 1041.7,120 1044.5,119.6 1047.5,119.2 1050.5,118.9 1053.5,118.5 1056.5,118.1 1059.5,117.8 1062.5,117.4 1065.1,117.1 1066.5,123.8 1067.5,123.7 1068.9,116.7 1071.5,116.4 1074.5,116.1 1077.5,115.7 1080.5,115.4 1083.5,115.1 1086.5,114.8 1089.5,114.5 1092.3,114.2 1093.7,121.1 1094.7,121 1096.1,113.8 1098.5,113.6 1101.5,113.3 1104.5,113 1107.5,112.7 1110.5,112.4 1113.5,112.2 1116.5,111.9 1119.6,111.6 1121,118.6 1122,118.6 1123.4,111.3 1125.5,111.1 1128.5,110.9 1131.5,110.6 1134.5,110.4 1137.5,110.1 1140.5,109.9 1143.5,109.7 1146.5,109.5 1146.8,109.4 1148.2,116.6 1149.2,116.5 1150.6,109.2 1152.5,109 1155.5,108.8 1158.5,108.6 1161.5,108.4 1164.5,108.2 1167.5,108.1 1170.5,107.9 1173.5,107.7 1174,107.7 1175.4,114.9 1176.4,114.9 1177.8,107.4 1179.5,107.4 1182.5,107.2 1185.5,107 1188.5,106.9 1191.5,106.7 1194.5,106.6 1197.5,106.5 1200.5,106.3 1201.3,106.3 1202.7,113.6 1203.7,113.6 1205.1,106.1 1206.5,106.1 1209.5,106 1212.5,105.8 1215.5,105.7 1218.5,105.6 1221.5,105.5 1224.5,105.4 1227.5,105.3 1228.5,105.3 1229.9,112.7 1230.9,112.7 1232.3,105.2 1233.5,105.2 1236.5,105.1 1239.5,105 1242.5,105 1245.5,104.9 1248.5,104.9 1251.5,104.8 1254.5,104.8 1255.7,104.8 1257.1,112.2 1258.1,112.2 1259.5,104.7 1260.5,104.7 1263.5,104.7 1266.5,104.6 1269.5,104.6 1272.5,104.6 1275.5,104.6 1278.5,104.6 1281.5,104.6 1283,104.6 1284.4,112.1 1285.4,112.1 1286.8,104.6 1287.5,104.6 1290.5,104.6 1293.5,104.7 1296.5,104.7 1299.5,104.7 1302.5,104.7 1305.5,104.8 1308.5,104.8 1310.2,104.9 1311.6,112.4 1312.6,112.4 1314,104.9 1314.5,104.9 1317.5,105 1320.5,105.1 1323.5,105.1 1326.5,105.2 1329.5,105.3 1332.5,105.4 1335.5,105.5 1337.4,105.5 1338.8,113 1339.8,113 1341.2,105.7 1341.5,105.7 1344.5,105.8 1347.5,105.9 1350.5,106 1353.5,106.1 1356.5,106.2 1359.5,106.4 1362.5,106.5 1364.6,106.6 1366,114.1 1367,114.1 1368.4,106.8 1371.5,106.9 1374.5,107.1 1377.5,107.3 1380.5,107.4 1383.5,107.6 1386.5,107.8 1389.5,107.9 1391.9,108.1 1393.3,115.5 1394.3,115.5 1395.7,108.3 1398.5,108.5 1401.5,108.7 1404.5,108.9 1407.5,109.1 1410.5,109.3 1413.5,109.5 1416.5,109.8 1419.1,110 1420.5,117.3 1421.5,117.4 1422.9,110.3 1425.5,110.5 1428.5,110.7 1431.5,111 1434.5,111.2 1437.5,111.5 1440.5,111.7 1443.5,112 1446.3,112.2 1447.7,119.5 1448.7,119.6 1450.1,112.6 1452.5,112.8 1455.5,113.1 1458.5,113.4 1461.5,113.7 1464.5,114 1467.5,114.3 1470.5,114.6 1473.6,114.9 1475,122 1476,122.1 1477.4,115.3 1479.5,115.5 1482.5,115.9 1485.5,116.2 1488.5,116.5 1491.5,116.9 1494.5,117.2 1497.5,117.6 1500.5,117.9 1500.8,118 1502.2,124.9 1503.2,125 1504.6,118.4 1506.5,118.6 1509.5,119 1512.5,119.4 1515.5,119.8 1518.5,120.1 1521.5,120.5 1524.5,120.9 1527.5,121.3 1528,121.4 1529.4,128.2 1530.4,128.3 1531.8,121.9 1533.5,122.1 1536.5,122.5 1539.5,122.9 1542.5,123.4 1545.5,123.8 1548.5,124.2 1551.5,124.6 1554.5,125.1 1555.3,125.2 1556.7,131.8 1557.7,132 1559.1,125.7 1560.5,125.9 1563.5,126.4 1566.5,126.8 1569.5,127.3 1572.5,127.8 1575.5,128.2 1578.5,128.7 1581.5,129.2 1582.5,129.3 1583.9,135.8 1584.9,135.9 1586.3,129.9 1587.5,130.1 1590.5,130.6 1593.5,131.1 1596.5,131.6 1599.5,132.1 1602.5,132.6 1605.5,133.1 1608.5,133.6 1609.7,133.8 1611.1,140 1612.1,140.2 1613.5,134.4 1614.5,134.6 1617.5,135.1 1620.5,135.7 1623.5,136.2 1626.5,136.7 1629.5,137.3 1632.5,137.8 1635.5,138.3 1636.9,138.6 1638.3,144.6 1639.3,144.8 1640.7,139.3 1641.5,139.4 1644.5,140 1647.5,140.6 1650.5,141.1 1653.5,141.7 1656.5,142.3 1659.5,142.8 1662.5,143.4 1664.2,143.7 1665.6,149.5 1666.6,149.7 1668,144.5 1668.5,144.6 1671.5,145.2 1674.5,145.8 1677.5,146.4 1680.5,147 1683.5,147.6 1686.5,148.2 1689.5,148.8 1691.4,149.2 1692.8,154.7 1693.8,154.9 1695.2,150 1695.5,150 1698.5,150.6 1701.5,151.3 1704.5,151.9 1707.5,152.5 1710.5,153.2 1713.5,153.8 1716.5,154.4 1718.6,154.9 1720,160.1 1721,160.4 1722.4,155.7 1725.5,156.4 1728.5,157 1731.5,157.7 1734.5,158.4 1737.5,159 1740.5,159.7 1743.5,160.4 1745.9,160.9 1747.3,165.9 1748.3,166.1 1749.7,161.7 1752.5,162.4 1755.5,163.1 1758.5,163.8 1761.5,164.4 1764.5,165.1 1767.5,165.8 1770.5,166.5 1773.1,167.1 1774.5,171.8 1775.5,172 1776.9,168 1779.5,168.6 1782.5,169.4 1785.5,170.1 1788.5,170.8 1791.5,171.5 1794.5,172.2 1797.5,172.9 1800.3,173.6 1801.7,178 1802.7,178.2 1804.1,174.5 1806.5,175.1 1809.5,175.9 1812.5,176.6 1815.5,177.3 1818.5,178.1 1821.5,178.8 1824.5,179.6 1827.6,180.3 1829,184.4 1830,184.6 1831.4,181.3 1833.5,181.8 1836.5,182.6 1839.5,183.3 1842.5,184.1 1845.5,184.9 1848.5,185.6 1851.5,186.4 1854.5,187.2 1854.8,187.2 1856.2,190.9 1857.2,191.2 1858.6,188.2 1860.5,188.7 1863.5,189.5 1866.5,190.3 1869.5,191.1 1872.5,191.8 1875.5,192.6 1878.5,193.4 1881.5,194.2 1882,194.3 1883.4,197.7 1884.4,197.9 1885.8,195.3 1887.5,195.8 1890.5,196.6 1893.5,197.4 1896.5,198.2 1899.5,199 1902.5,199.8 1905.5,200.6 1908.5,201.4 1909.2,201.6 1910.6,204.6 1911.6,204.9 1913,202.6 1914.5,203 1917.5,203.8 1920.5,204.7 1923.5,205.5 1926.5,206.3 1929.5,207.1 1932.5,207.9 1935.5,208.7 1936.5,209 1937.9,211.6 1938.9,211.9 1940.3,210.1 1941.5,210.4 1944.5,211.2 1947.5,212 1950.5,212.9 1953.5,213.7 1956.5,214.5 1959.5,215.4 1962.5,216.2 1963.7,216.5 1965.1,218.8 1966.1,219.1 1967.5,217.6 1968.5,217.9 1971.5,218.7 1974.5,219.6 1977.5,220.4 1980.5,221.2 1983.5,222.1 1986.5,222.9 1989.5,223.8 1990.9,224.2 1992.3,226.1 1993.3,226.3 1994.7,225.2 1995.5,225.5 1998.5,226.3 2001.5,227.2 2004.5,228 2007.5,228.9 2010.5,229.7 2013.5,230.6 2016.5,231.4 2018.2,231.9 2019.6,233.4 2020.6,233.7 2022,233 2022.5,233.1 2025.5,234 2028.5,234.8 2031.5,235.7 2034.5,236.6 2037.5,237.4 2040.5,238.3 2043.5,239.1 2045.4,239.7 2046.8,240.8 2047.8,241.1 2049.2,240.8 2049.5,240.8 2052.5,241.7 2055.5,242.6 2058.5,243.4 2061.5,244.3 2064.5,245.2 2067.5,246 2070.5,246.9 2072.6,247.5 2074,248.2 2075,248.5 2076.4,248.6 2079.5,249.5 2082.5,250.3 2085.5,251.2 2088.5,252.1 2091.5,252.9 2094.5,253.8 2096.3,254.3 2096.3,254.3 2094.5,254.8 2091.5,255.7 2088.5,256.5 2085.5,257.4 2082.5,258.3 2079.5,259.1 2076.4,260 2075,260.1 2074,260.4 2072.6,261.1 2070.5,261.7 2067.5,262.6 2064.5,263.4 2061.5,264.3 2058.5,265.2 2055.5,266 2052.5,266.9 2049.5,267.8 2049.2,267.8 2047.8,267.5 2046.8,267.8 2045.4,268.9 2043.5,269.5 2040.5,270.3 2037.5,271.2 2034.5,272 2031.5,272.9 2028.5,273.8 2025.5,274.6 2022.5,275.5 2022,275.6 2020.6,274.9 2019.6,275.2 2018.2,276.7 2016.5,277.2 2013.5,278 2010.5,278.9 2007.5,279.7 2004.5,280.6 2001.5,281.4 1998.5,282.3 1995.5,283.1 1994.7,283.4 1993.3,282.3 1992.3,282.5 1990.9,284.4 1989.5,284.8 1986.5,285.7 1983.5,286.5 1980.5,287.4 1977.5,288.2 1974.5,289 1971.5,289.9 1968.5,290.7 1967.5,291 1966.1,289.5 1965.1,289.8 1963.7,292.1 1962.5,292.4 1959.5,293.2 1956.5,294.1 1953.5,294.9 1950.5,295.7 1947.5,296.6 1944.5,297.4 1941.5,298.2 1940.3,298.5 1938.9,296.7 1937.9,297 1936.5,299.6 1935.5,299.9 1932.5,300.7 1929.5,301.5 1926.5,302.3 1923.5,303.1 1920.5,303.9 1917.5,304.8 1914.5,305.6 1913,306 1911.6,303.7 1910.6,304 1909.2,307 1908.5,307.2 1905.5,308 1902.5,308.8 1899.5,309.6 1896.5,310.4 1893.5,311.2 1890.5,312 1887.5,312.8 1885.8,313.3 1884.4,310.7 1883.4,310.9 1882,314.3 1881.5,314.4 1878.5,315.2 1875.5,316 1872.5,316.8 1869.5,317.5 1866.5,318.3 1863.5,319.1 1860.5,319.9 1858.6,320.4 1857.2,317.4 1856.2,317.7 1854.8,321.4 1854.5,321.4 1851.5,322.2 1848.5,323 1845.5,323.7 1842.5,324.5 1839.5,325.3 1836.5,326 1833.5,326.8 1831.4,327.3 1830,324 1829,324.2 1827.6,328.3 1824.5,329 1821.5,329.8 1818.5,330.5 1815.5,331.3 1812.5,332 1809.5,332.7 1806.5,333.5 1804.1,334.1 1802.7,330.4 1801.7,330.6 1800.3,335 1797.5,335.7 1794.5,336.4 1791.5,337.1 1788.5,337.8 1785.5,338.5 1782.5,339.2 1779.5,340 1776.9,340.6 1775.5,336.6 1774.5,336.8 1773.1,341.5 1770.5,342.1 1767.5,342.8 1764.5,343.5 1761.5,344.2 1758.5,344.8 1755.5,345.5 1752.5,346.2 1749.7,346.9 1748.3,342.5 1747.3,342.7 1745.9,347.7 1743.5,348.2 1740.5,348.9 1737.5,349.6 1734.5,350.2 1731.5,350.9 1728.5,351.6 1725.5,352.2 1722.4,352.9 1721,348.2 1720,348.5 1718.6,353.7 1716.5,354.2 1713.5,354.8 1710.5,355.4 1707.5,356.1 1704.5,356.7 1701.5,357.3 1698.5,358 1695.5,358.6 1695.2,358.6 1693.8,353.7 1692.8,353.9 1691.4,359.4 1689.5,359.8 1686.5,360.4 1683.5,361 1680.5,361.6 1677.5,362.2 1674.5,362.8 1671.5,363.4 1668.5,364 1668,364.1 1666.6,358.9 1665.6,359.1 1664.2,364.9 1662.5,365.2 1659.5,365.8 1656.5,366.3 1653.5,366.9 1650.5,367.5 1647.5,368 1644.5,368.6 1641.5,369.2 1640.7,369.3 1639.3,363.8 1638.3,364 1636.9,370 1635.5,370.3 1632.5,370.8 1629.5,371.3 1626.5,371.9 1623.5,372.4 1620.5,372.9 1617.5,373.5 1614.5,374 1613.5,374.2 1612.1,368.4 1611.1,368.6 1609.7,374.8 1608.5,375 1605.5,375.5 1602.5,376 1599.5,376.5 1596.5,377 1593.5,377.5 1590.5,378 1587.5,378.5 1586.3,378.7 1584.9,372.7 1583.9,372.8 1582.5,379.3 1581.5,379.4 1578.5,379.9 1575.5,380.4 1572.5,380.8 1569.5,381.3 1566.5,381.8 1563.5,382.2 1560.5,382.7 1559.1,382.9 1557.7,376.6 1556.7,376.8 1555.3,383.4 1554.5,383.5 1551.5,384 1548.5,384.4 1545.5,384.8 1542.5,385.2 1539.5,385.7 1536.5,386.1 1533.5,386.5 1531.8,386.7 1530.4,380.3 1529.4,380.4 1528,387.2 1527.5,387.3 1524.5,387.7 1521.5,388.1 1518.5,388.5 1515.5,388.8 1512.5,389.2 1509.5,389.6 1506.5,390 1504.6,390.2 1503.2,383.6 1502.2,383.7 1500.8,390.6 1500.5,390.7 1497.5,391 1494.5,391.4 1491.5,391.7 1488.5,392.1 1485.5,392.4 1482.5,392.7 1479.5,393.1 1477.4,393.3 1476,386.5 1475,386.6 1473.6,393.7 1470.5,394 1467.5,394.3 1464.5,394.6 1461.5,394.9 1458.5,395.2 1455.5,395.5 1452.5,395.8 1450.1,396 1448.7,389 1447.7,389.1 1446.3,396.4 1443.5,396.6 1440.5,396.9 1437.5,397.1 1434.5,397.4 1431.5,397.6 1428.5,397.9 1425.5,398.1 1422.9,398.3 1421.5,391.2 1420.5,391.3 1419.1,398.6 1416.5,398.8 1413.5,399.1 1410.5,399.3 1407.5,399.5 1404.5,399.7 1401.5,399.9 1398.5,400.1 1395.7,400.3 1394.3,393.1 1393.3,393.1 1391.9,400.5 1389.5,400.7 1386.5,400.8 1383.5,401 1380.5,401.2 1377.5,401.3 1374.5,401.5 1371.5,401.7 1368.4,401.8 1367,394.5 1366,394.5 1364.6,402 1362.5,402.1 1359.5,402.2 1356.5,402.4 1353.5,402.5 1350.5,402.6 1347.5,402.7 1344.5,402.8 1341.5,402.9 1341.2,402.9 1339.8,395.6 1338.8,395.6 1337.4,403.1 1335.5,403.1 1332.5,403.2 1329.5,403.3 1326.5,403.4 1323.5,403.5 1320.5,403.5 1317.5,403.6 1314.5,403.7 1314,403.7 1312.6,396.2 1311.6,396.2 1310.2,403.7 1308.5,403.8 1305.5,403.8 1302.5,403.9 1299.5,403.9 1296.5,403.9 1293.5,403.9 1290.5,404 1287.5,404 1286.8,404 1285.4,396.5 1284.4,396.5 1283,404 1281.5,404 1278.5,404 1275.5,404 1272.5,404 1269.5,404 1266.5,404 1263.5,403.9 1260.5,403.9 1259.5,403.9 1258.1,396.4 1257.1,396.4 1255.7,403.8 1254.5,403.8 1251.5,403.8 1248.5,403.7 1245.5,403.7 1242.5,403.6 1239.5,403.6 1236.5,403.5 1233.5,403.4 1232.3,403.4 1230.9,395.9 1229.9,395.9 1228.5,403.3 1227.5,403.3 1224.5,403.2 1221.5,403.1 1218.5,403 1215.5,402.9 1212.5,402.8 1209.5,402.6 1206.5,402.5 1205.1,402.5 1203.7,395 1202.7,395 1201.3,402.3 1200.5,402.3 1197.5,402.1 1194.5,402 1191.5,401.9 1188.5,401.7 1185.5,401.6 1182.5,401.4 1179.5,401.2 1177.8,401.2 1176.4,393.7 1175.4,393.7 1174,400.9 1173.5,400.9 1170.5,400.7 1167.5,400.5 1164.5,400.4 1161.5,400.2 1158.5,400 1155.5,399.8 1152.5,399.6 1150.6,399.4 1149.2,392.1 1148.2,392 1146.8,399.2 1146.5,399.1 1143.5,398.9 1140.5,398.7 1137.5,398.5 1134.5,398.2 1131.5,398 1128.5,397.7 1125.5,397.5 1123.4,397.3 1122,390 1121,390 1119.6,397 1116.5,396.7 1113.5,396.4 1110.5,396.2 1107.5,395.9 1104.5,395.6 1101.5,395.3 1098.5,395 1096.1,394.8 1094.7,387.6 1093.7,387.5 1092.3,394.4 1089.5,394.1 1086.5,393.8 1083.5,393.5 1080.5,393.2 1077.5,392.9 1074.5,392.5 1071.5,392.2 1068.9,391.9 1067.5,384.9 1066.5,384.8 1065.1,391.5 1062.5,391.2 1059.5,390.8 1056.5,390.5 1053.5,390.1 1050.5,389.7 1047.5,389.4 1044.5,389 1041.7,388.6 1040.3,381.7 1039.3,381.6 1037.9,388.1 1035.5,387.8 1032.5,387.4 1029.5,387 1026.5,386.6 1023.5,386.2 1020.5,385.8 1017.5,385.4 1014.5,385 1013.1,378.3 1012.1,378.1 1010.7,384.5 1008.5,384.1 1005.5,383.7 1002.5,383.3 999.5,382.8 996.5,382.4 993.5,381.9 990.5,381.5 987.5,381 987.2,381 985.8,374.4 984.8,374.3 983.4,380.4 981.5,380.1 978.5,379.6 975.5,379.2 972.5,378.7 969.5,378.2 966.5,377.7 963.5,377.2 960.5,376.7 960,376.6 958.6,370.3 957.6,370.1 956.2,376 954.5,375.7 951.5,375.2 948.5,374.7 945.5,374.2 942.5,373.7 939.5,373.1 936.5,372.6 933.5,372.1 932.8,372 931.4,365.8 930.4,365.7 929,371.3 927.5,371 924.5,370.5 921.5,369.9 918.5,369.4 915.5,368.8 912.5,368.3 909.5,367.7 906.5,367.1 905.5,367 904.1,361.1 903.1,360.9 901.7,366.2 900.5,366 897.5,365.4 894.5,364.8 891.5,364.3 888.5,363.7 885.5,363.1 882.5,362.5 879.5,361.9 878.3,361.6 876.9,356 875.9,355.8 874.5,360.9 873.5,360.7 870.5,360.1 867.5,359.4 864.5,358.8 861.5,358.2 858.5,357.6 855.5,357 852.5,356.3 851.1,356 849.7,350.7 848.7,350.5 847.3,355.2 846.5,355.1 843.5,354.4 840.5,353.8 837.5,353.1 834.5,352.5 831.5,351.8 828.5,351.2 825.5,350.5 823.8,350.1 822.4,345.1 821.4,344.8 820,349.3 819.5,349.2 816.5,348.5 813.5,347.8 810.5,347.2 807.5,346.5 804.5,345.8 801.5,345.1 798.5,344.4 796.6,344 795.2,339.2 794.2,339 792.8,343.1 792.5,343 789.5,342.3 786.5,341.6 783.5,340.9 780.5,340.2 777.5,339.5 774.5,338.8 771.5,338.1 769.4,337.6 768,333.1 767,332.9 765.6,336.7 762.5,335.9 759.5,335.2 756.5,334.5 753.5,333.8 750.5,333 747.5,332.3 744.5,331.6 742.2,331 740.8,326.8 739.8,326.6 738.4,330 735.5,329.3 732.5,328.6 729.5,327.8 726.5,327.1 723.5,326.3 720.5,325.6 717.5,324.8 714.9,324.1 713.5,320.3 712.5,320.1 711.1,323.2 708.5,322.5 705.5,321.7 702.5,321 699.5,320.2 696.5,319.4 693.5,318.6 690.5,317.8 687.7,317.1 686.3,313.6 685.3,313.4 683.9,316.1 681.5,315.5 678.5,314.7 675.5,313.9 672.5,313.1 669.5,312.3 666.5,311.5 663.5,310.7 660.5,309.9 659.1,306.8 658.1,306.5 656.7,308.9 654.5,308.3 651.5,307.5 648.5,306.7 645.5,305.9 642.5,305.1 639.5,304.3 636.5,303.5 633.5,302.6 633.2,302.6 631.8,299.8 630.8,299.5 629.4,301.5 627.5,301 624.5,300.2 621.5,299.4 618.5,298.5 615.5,297.7 612.5,296.9 609.5,296.1 606.5,295.2 606,295.1 604.6,292.7 603.6,292.4 602.2,294 600.5,293.6 597.5,292.7 594.5,291.9 591.5,291.1 588.5,290.2 585.5,289.4 582.5,288.5 579.5,287.7 578.8,287.5 577.4,285.5 576.4,285.2 575,286.4 573.5,286 570.5,285.2 567.5,284.3 564.5,283.5 561.5,282.6 558.5,281.8 555.5,280.9 552.5,280.1 551.5,279.8 550.1,278.2 549.1,277.9 547.7,278.7 546.5,278.4 543.5,277.5 540.5,276.7 537.5,275.8 534.5,275 531.5,274.1 528.5,273.2 525.5,272.4 524.3,272 522.9,270.8 521.9,270.5 520.5,271 519.5,270.7 516.5,269.8 513.5,269 510.5,268.1 507.5,267.2 504.5,266.4 501.5,265.5 498.5,264.7 497.1,264.2 495.7,263.4 494.7,263.1 493.3,263.2 492.5,262.9 489.5,262.1 486.5,261.2 483.5,260.3 480.5,259.5 477.5,258.6 474.5,257.8 471.5,256.9 469.9,256.4 468.5,255.9 467.5,255.7 466.1,255.3 465.5,255.2 462.5,254.3" fill="#bf00bf"/>
<polygon points="599.2,254.3 602.2,253.4 602.7,253.3 604.1,252.9 605.1,252.7 606.5,252.2 608.2,251.7 611.2,250.8 614.2,250 617.2,249.1 620.2,248.3 623.2,247.4 626.2,246.5 629.2,245.7 630,245.4 631.4,245.5 632.4,245.2 633.8,244.4 635.2,243.9 638.2,243.1 641.2,242.2 644.2,241.4 647.2,240.5 650.2,239.6 653.2,238.8 656.2,237.9 657.2,237.6 658.6,238.1 659.6,237.8 661,236.6 662.2,236.2 665.2,235.4 668.2,234.5 671.2,233.6 674.2,232.8 677.2,231.9 680.2,231.1 683.2,230.2 684.4,229.9 685.8,230.7 686.8,230.4 688.2,228.8 689.2,228.5 692.2,227.7 695.2,226.8 698.2,226 701.2,225.1 704.2,224.3 707.2,223.4 710.2,222.6 711.7,222.2 713.1,223.4 714.1,223.1 715.5,221.1 716.2,220.9 719.2,220.1 722.2,219.2 725.2,218.4 728.2,217.5 731.2,216.7 734.2,215.9 737.2,215 738.9,214.6 740.3,216.2 741.3,215.9 742.7,213.5 743.2,213.4 746.2,212.5 749.2,211.7 752.2,210.9 755.2,210.1 758.2,209.2 761.2,208.4 764.2,207.6 766.1,207.1 767.5,209.1 768.5,208.8 769.9,206 770.2,206 773.2,205.1 776.2,204.3 779.2,203.5 782.2,202.7 785.2,201.9 788.2,201.1 791.2,200.3 793.4,199.7 794.8,202.1 795.8,201.8 797.2,198.7 800.2,197.9 803.2,197.1 806.2,196.3 809.2,195.5 812.2,194.7 815.2,193.9 818.2,193.1 820.6,192.5 822,195.2 823,195 824.4,191.5 827.2,190.8 830.2,190 833.2,189.2 836.2,188.4 839.2,187.6 842.2,186.9 845.2,186.1 847.8,185.4 849.2,188.5 850.2,188.3 851.6,184.5 854.2,183.8 857.2,183 860.2,182.3 863.2,181.5 866.2,180.8 869.2,180 872.2,179.3 875,178.6 876.4,182 877.4,181.8 878.8,177.6 881.2,177 884.2,176.3 887.2,175.6 890.2,174.8 893.2,174.1 896.2,173.4 899.2,172.7 902.3,171.9 903.7,175.7 904.7,175.5 906.1,171 908.2,170.5 911.2,169.8 914.2,169.1 917.2,168.4 920.2,167.7 923.2,167 926.2,166.3 929.2,165.6 929.5,165.5 930.9,169.6 931.9,169.4 933.3,164.6 935.2,164.2 938.2,163.5 941.2,162.8 944.2,162.1 947.2,161.4 950.2,160.8 953.2,160.1 956.2,159.4 956.7,159.3 958.1,163.8 959.1,163.5 960.5,158.5 962.2,158.1 965.2,157.4 968.2,156.8 971.2,156.1 974.2,155.5 977.2,154.8 980.2,154.2 983.2,153.5 984,153.4 985.4,158.1 986.4,157.9 987.8,152.6 989.2,152.3 992.2,151.6 995.2,151 998.2,150.4 1001.2,149.8 1004.2,149.2 1007.2,148.5 1010.2,147.9 1011.2,147.7 1012.6,152.8 1013.6,152.6 1015,147 1016.2,146.7 1019.2,146.1 1022.2,145.5 1025.2,144.9 1028.2,144.3 1031.2,143.8 1034.2,143.2 1037.2,142.6 1038.4,142.4 1039.8,147.7 1040.8,147.5 1042.2,141.6 1043.2,141.5 1046.2,140.9 1049.2,140.3 1052.2,139.8 1055.2,139.2 1058.2,138.7 1061.2,138.1 1064.2,137.6 1065.7,137.3 1067.1,142.9 1068.1,142.8 1069.5,136.6 1070.2,136.5 1073.2,136 1076.2,135.5 1079.2,134.9 1082.2,134.4 1085.2,133.9 1088.2,133.4 1091.2,132.9 1092.9,132.6 1094.3,138.5 1095.3,138.3 1096.7,132 1097.2,131.9 1100.2,131.4 1103.2,130.9 1106.2,130.4 1109.2,129.9 1112.2,129.4 1115.2,129 1118.2,128.5 1120.1,128.2 1121.5,134.3 1122.5,134.2 1123.9,127.6 1124.2,127.6 1127.2,127.1 1130.2,126.7 1133.2,126.2 1136.2,125.8 1139.2,125.3 1142.2,124.9 1145.2,124.5 1147.3,124.1 1148.7,130.5 1149.7,130.3 1151.1,123.6 1154.2,123.2 1157.2,122.8 1160.2,122.4 1163.2,122 1166.2,121.6 1169.2,121.2 1172.2,120.8 1174.6,120.5 1176,127 1177,126.9 1178.4,120 1181.2,119.6 1184.2,119.2 1187.2,118.9 1190.2,118.5 1193.2,118.1 1196.2,117.8 1199.2,117.4 1201.8,117.1 1203.2,123.8 1204.2,123.7 1205.6,116.7 1208.2,116.4 1211.2,116.1 1214.2,115.7 1217.2,115.4 1220.2,115.1 1223.2,114.8 1226.2,114.5 1229,114.2 1230.4,121.1 1231.4,121 1232.8,113.8 1235.2,113.6 1238.2,113.3 1241.2,113 1244.2,112.7 1247.2,112.4 1250.2,112.2 1253.2,111.9 1256.3,111.6 1257.7,118.6 1258.7,118.6 1260.1,111.3 1262.2,111.1 1265.2,110.9 1268.2,110.6 1271.2,110.4 1274.2,110.1 1277.2,109.9 1280.2,109.7 1283.2,109.5 1283.5,109.4 1284.9,116.6 1285.9,116.5 1287.3,109.2 1289.2,109 1292.2,108.8 1295.2,108.6 1298.2,108.4 1301.2,108.2 1304.2,108.1 1307.2,107.9 1310.2,107.7 1310.7,107.7 1312.1,114.9 1313.1,114.9 1314.5,107.4 1316.2,107.4 1319.2,107.2 1322.2,107 1325.2,106.9 1328.2,106.7 1331.2,106.6 1334.2,106.5 1337.2,106.3 1338,106.3 1339.4,113.6 1340.4,113.6 1341.8,106.1 1343.2,106.1 1346.2,106 1349.2,105.8 1352.2,105.7 1355.2,105.6 1358.2,105.5 1361.2,105.4 1364.2,105.3 1365.2,105.3 1366.6,112.7 1367.6,112.7 1369,105.2 1370.2,105.2 1373.2,105.1 1376.2,105 1379.2,105 1382.2,104.9 1385.2,104.9 1388.2,104.8 1391.2,104.8 1392.4,104.8 1393.8,112.2 1394.8,112.2 1396.2,104.7 1397.2,104.7 1400.2,104.7 1403.2,104.6 1406.2,104.6 1409.2,104.6 1412.2,104.6 1415.2,104.6 1418.2,104.6 1419.6,104.6 1421,112.1 1422,112.1 1423.4,104.6 1424.2,104.6 1427.2,104.6 1430.2,104.7 1433.2,104.7 1436.2,104.7 1439.2,104.7 1442.2,104.8 1445.2,104.8 1446.9,104.9 1448.3,112.4 1449.3,112.4 1450.7,104.9 1451.2,104.9 1454.2,105 1457.2,105.1 1460.2,105.1 1463.2,105.2 1466.2,105.3 1469.2,105.4 1472.2,105.5 1474.1,105.5 1475.5,113 1476.5,113 1477.9,105.7 1478.2,105.7 1481.2,105.8 1484.2,105.9 1487.2,106 1490.2,106.1 1493.2,106.2 1496.2,106.4 1499.2,106.5 1501.3,106.6 1502.7,114.1 1503.7,114.1 1505.1,106.8 1508.2,106.9 1511.2,107.1 1514.2,107.3 1517.2,107.4 1520.2,107.6 1523.2,107.8 1526.2,107.9 1528.6,108.1 1530,115.5 1531,115.5 1532.4,108.3 1535.2,108.5 1538.2,108.7 1541.2,108.9 1544.2,109.1 1547.2,109.3 1550.2,109.5 1553.2,109.8 1555.8,110 1557.2,117.3 1558.2,117.4 1559.6,110.3 1562.2,110.5 1565.2,110.7 1568.2,111 1571.2,111.2 1574.2,111.5 1577.2,111.7 1580.2,112 1583,112.2 1584.4,119.5 1585.4,119.6 1586.8,112.6 1589.2,112.8 1592.2,113.1 1595.2,113.4 1598.2,113.7 1601.2,114 1604.2,114.3 1607.2,114.6 1610.3,114.9 1611.7,122 1612.7,122.1 1614.1,115.3 1616.2,115.5 1619.2,115.9 1622.2,116.2 1625.2,116.5 1628.2,116.9 1631.2,117.2 1634.2,117.6 1637.2,117.9 1637.5,118 1638.9,124.9 1639.9,125 1641.3,118.4 1643.2,118.6 1646.2,119 1649.2,119.4 1652.2,119.8 1655.2,120.1 1658.2,120.5 1661.2,120.9 1664.2,121.3 1664.7,121.4 1666.1,128.2 1667.1,128.3 1668.5,121.9 1670.2,122.1 1673.2,122.5 1676.2,122.9 1679.2,123.4 1682.2,123.8 1685.2,124.2 1688.2,124.6 1691.2,125.1 1691.9,125.2 1693.3,131.8 1694.3,132 1695.7,125.7 1697.2,125.9 1700.2,126.4 1703.2,126.8 1706.2,127.3 1709.2,127.8 1712.2,128.2 1715.2,128.7 1718.2,129.2 1719.2,129.3 1720.6,135.8 1721.6,135.9 1723,129.9 1724.2,130.1 1727.2,130.6 1730.2,131.1 1733.2,131.6 1736.2,132.1 1739.2,132.6 1742.2,133.1 1745.2,133.6 1746.4,133.8 1747.8,140 1748.8,140.2 1750.2,134.4 1751.2,134.6 1754.2,135.1 1757.2,135.7 1760.2,136.2 1763.2,136.7 1766.2,137.3 1769.2,137.8 1772.2,138.3 1773.6,138.6 1775,144.6 1776,144.8 1777.4,139.3 1778.2,139.4 1781.2,140 1784.2,140.6 1787.2,141.1 1790.2,141.7 1793.2,142.3 1796.2,142.8 1799.2,143.4 1800.9,143.7 1802.3,149.5 1803.3,149.7 1804.7,144.5 1805.2,144.6 1808.2,145.2 1811.2,145.8 1814.2,146.4 1817.2,147 1820.2,147.6 1823.2,148.2 1826.2,148.8 1828.1,149.2 1829.5,154.7 1830.5,154.9 1831.9,150 1832.2,150 1835.2,150.6 1838.2,151.3 1841.2,151.9 1844.2,152.5 1847.2,153.2 1850.2,153.8 1853.2,154.4 1855.3,154.9 1856.7,160.1 1857.7,160.4 1859.1,155.7 1862.2,156.4 1865.2,157 1868.2,157.7 1871.2,158.4 1874.2,159 1877.2,159.7 1880.2,160.4 1882.6,160.9 1884,165.9 1885,166.1 1886.4,161.7 1889.2,162.4 1892.2,163.1 1895.2,163.8 1898.2,164.4 1901.2,165.1 1904.2,165.8 1907.2,166.5 1909.8,167.1 1911.2,171.8 1912.2,172 1913.6,168 1916.2,168.6 1919.2,169.4 1922.2,170.1 1925.2,170.8 1928.2,171.5 1931.2,172.2 1934.2,172.9 1937,173.6 1938.4,178 1939.4,178.2 1940.8,174.5 1943.2,175.1 1946.2,175.9 1949.2,176.6 1952.2,177.3 1955.2,178.1 1958.2,178.8 1961.2,179.6 1964.2,180.3 1965.6,184.4 1966.6,184.6 1968,181.3 1970.2,181.8 1973.2,182.6 1976.2,183.3 1979.2,184.1 1982.2,184.9 1985.2,185.6 1988.2,186.4 1991.2,187.2 1991.5,187.2 1992.9,190.9 1993.9,191.2 1995.3,188.2 1997.2,188.7 2000.2,189.5 2003.2,190.3 2006.2,191.1 2009.2,191.8 2012.2,192.6 2015.2,193.4 2018.2,194.2 2018.7,194.3 2020.1,197.7 2021.1,197.9 2022.5,195.3 2024.2,195.8 2027.2,196.6 2030.2,197.4 2033.2,198.2 2036.2,199 2039.2,199.8 2042.2,200.6 2045.2,201.4 2045.9,201.6 2047.3,204.6 2048.3,204.9 2049.7,202.6 2051.2,203 2054.2,203.8 2057.2,204.7 2060.2,205.5 2063.2,206.3 2066.2,207.1 2069.2,207.9 2072.2,208.7 2073.2,209 2074.6,211.6 2075.6,211.9 2077,210.1 2078.2,210.4 2081.2,211.2 2084.2,212 2087.2,212.9 2090.2,213.7 2093.2,214.5 2096.2,215.4 2099.2,216.2 2100.4,216.5 2101.8,218.8 2102.8,219.1 2104.2,217.6 2105.2,217.9 2108.2,218.7 2111.2,219.6 2114.2,220.4 2117.2,221.2 2120.2,222.1 2123.2,222.9 2126.2,223.8 2127.6,224.2 2129,226.1 2130,226.3 2131.4,225.2 2132.2,225.5 2135.2,226.3 2138.2,227.2 2141.2,228 2144.2,228.9 2147.2,229.7 2150.2,230.6 2153.2,231.4 2154.9,231.9 2156.3,233.4 2157.3,233.7 2158.7,233 2159.2,233.1 2162.2,234 2165.2,234.8 2168.2,235.7 2171.2,236.6 2174.2,237.4 2177.2,238.3 2180.2,239.1 2182.1,239.7 2183.5,240.8 2184.5,241.1 2185.9,240.8 2186.2,240.8 2189.2,241.7 2192.2,242.6 2195.2,243.4 2198.2,244.3 2201.2,245.2 2204.2,246 2207.2,246.9 2209.3,247.5 2210.7,248.2 2211.7,248.5 2213.1,248.6 2216.2,249.5 2219.2,250.3 2222.2,251.2 2225.2,252.1 2228.2,252.9 2231.2,253.8 2233,254.3 2233,254.3 2231.2,254.8 2228.2,255.7 2225.2,256.5 2222.2,257.4 2219.2,258.3 2216.2,259.1 2213.1,260 2211.7,260.1 2210.7,260.4 2209.3,261.1 2207.2,261.7 2204.2,262.6 2201.2,263.4 2198.2,264.3 2195.2,265.2 2192.2,266 2189.2,266.9 2186.2,267.8 2185.9,267.8 2184.5,267.5 2183.5,267.8 2182.1,268.9 2180.2,269.5 2177.2,270.3 2174.2,271.2 2171.2,272 2168.2,272.9 2165.2,273.8 2162.2,274.6 2159.2,275.5 2158.7,275.6 2157.3,274.9 2156.3,275.2 2154.9,276.7 2153.2,277.2 2150.2,278 2147.2,278.9 2144.2,279.7 2141.2,280.6 2138.2,281.4 2135.2,282.3 2132.2,283.1 2131.4,283.4 2130,282.3 2129,282.5 2127.6,284.4 2126.2,284.8 2123.2,285.7 2120.2,286.5 2117.2,287.4 2114.2,288.2 2111.2,289 2108.2,289.9 2105.2,290.7 2104.2,291 2102.8,289.5 2101.8,289.8 2100.4,292.1 2099.2,292.4 2096.2,293.2 2093.2,294.1 2090.2,294.9 2087.2,295.7 2084.2,296.6 2081.2,297.4 2078.2,298.2 2077,298.5 2075.6,296.7 2074.6,297 2073.2,299.6 2072.2,299.9 2069.2,300.7 2066.2,301.5 2063.2,302.3 2060.2,303.1 2057.2,303.9 2054.2,304.8 2051.2,305.6 2049.7,306 2048.3,303.7 2047.3,304 2045.9,307 2045.2,307.2 2042.2,308 2039.2,308.8 2036.2,309.6 2033.2,310.4 2030.2,311.2 2027.2,312 2024.2,312.8 2022.5,313.3 2021.1,310.7 2020.1,310.9 2018.7,314.3 2018.2,314.4 2015.2,315.2 2012.2,316 2009.2,316.8 2006.2,317.5 2003.2,318.3 2000.2,319.1 1997.2,319.9 1995.3,320.4 1993.9,317.4 1992.9,317.7 1991.5,321.4 1991.2,321.4 1988.2,322.2 1985.2,323 1982.2,323.7 1979.2,324.5 1976.2,325.3 1973.2,326 1970.2,326.8 1968,327.3 1966.6,324 1965.6,324.2 1964.2,328.3 1961.2,329 1958.2,329.8 1955.2,330.5 1952.2,331.3 1949.2,332 1946.2,332.7 1943.2,333.5 1940.8,334.1 1939.4,330.4 1938.4,330.6 1937,335 1934.2,335.7 1931.2,336.4 1928.2,337.1 1925.2,337.8 1922.2,338.5 1919.2,339.2 1916.2,340 1913.6,340.6 1912.2,336.6 1911.2,336.8 1909.8,341.5 1907.2,342.1 1904.2,342.8 1901.2,343.5 1898.2,344.2 1895.2,344.8 1892.2,345.5 1889.2,346.2 1886.4,346.9 1885,342.5 1884,342.7 1882.6,347.7 1880.2,348.2 1877.2,348.9 1874.2,349.6 1871.2,350.2 1868.2,350.9 1865.2,351.6 1862.2,352.2 1859.1,352.9 1857.7,348.2 1856.7,348.5 1855.3,353.7 1853.2,354.2 1850.2,354.8 1847.2,355.4 1844.2,356.1 1841.2,356.7 1838.2,357.3 1835.2,358 1832.2,358.6 1831.9,358.6 1830.5,353.7 1829.5,353.9 1828.1,359.4 1826.2,359.8 1823.2,360.4 1820.2,361 1817.2,361.6 1814.2,362.2 1811.2,362.8 1808.2,363.4 1805.2,364 1804.7,364.1 1803.3,358.9 1802.3,359.1 1800.9,364.9 1799.2,365.2 1796.2,365.8 1793.2,366.3 1790.2,366.9 1787.2,367.5 1784.2,368 1781.2,368.6 1778.2,369.2 1777.4,369.3 1776,363.8 1775,364 1773.6,370 1772.2,370.3 1769.2,370.8 1766.2,371.3 1763.2,371.9 1760.2,372.4 1757.2,372.9 1754.2,373.5 1751.2,374 1750.2,374.2 1748.8,368.4 1747.8,368.6 1746.4,374.8 1745.2,375 1742.2,375.5 1739.2,376 1736.2,376.5 1733.2,377 1730.2,377.5 1727.2,378 1724.2,378.5 1723,378.7 1721.6,372.7 1720.6,372.8 1719.2,379.3 1718.2,379.4 1715.2,379.9 1712.2,380.4 1709.2,380.8 1706.2,381.3 1703.2,381.8 1700.2,382.2 1697.2,382.7 1695.7,382.9 1694.3,376.6 1693.3,376.8 1691.9,383.4 1691.2,383.5 1688.2,384 1685.2,384.4 1682.2,384.8 1679.2,385.2 1676.2,385.7 1673.2,386.1 1670.2,386.5 1668.5,386.7 1667.1,380.3 1666.1,380.4 1664.7,387.2 1664.2,387.3 1661.2,387.7 1658.2,388.1 1655.2,388.5 1652.2,388.8 1649.2,389.2 1646.2,389.6 1643.2,390 1641.3,390.2 1639.9,383.6 1638.9,383.7 1637.5,390.6 1637.2,390.7 1634.2,391 1631.2,391.4 1628.2,391.7 1625.2,392.1 1622.2,392.4 1619.2,392.7 1616.2,393.1 1614.1,393.3 1612.7,386.5 1611.7,386.6 1610.3,393.7 1607.2,394 1604.2,394.3 1601.2,394.6 1598.2,394.9 1595.2,395.2 1592.2,395.5 1589.2,395.8 1586.8,396 1585.4,389 1584.4,389.1 1583,396.4 1580.2,396.6 1577.2,396.9 1574.2,397.1 1571.2,397.4 1568.2,397.6 1565.2,397.9 1562.2,398.1 1559.6,398.3 1558.2,391.2 1557.2,391.3 1555.8,398.6 1553.2,398.8 1550.2,399.1 1547.2,399.3 1544.2,399.5 1541.2,399.7 1538.2,399.9 1535.2,400.1 1532.4,400.3 1531,393.1 1530,393.1 1528.6,400.5 1526.2,400.7 1523.2,400.8 1520.2,401 1517.2,401.2 1514.2,401.3 1511.2,401.5 1508.2,401.7 1505.1,401.8 1503.7,394.5 1502.7,394.5 1501.3,402 1499.2,402.1 1496.2,402.2 1493.2,402.4 1490.2,402.5 1487.2,402.6 1484.2,402.7 1481.2,402.8 1478.2,402.9 1477.9,402.9 1476.5,395.6 1475.5,395.6 1474.1,403.1 1472.2,403.1 1469.2,403.2 1466.2,403.3 1463.2,403.4 1460.2,403.5 1457.2,403.5 1454.2,403.6 1451.2,403.7 1450.7,403.7 1449.3,396.2 1448.3,396.2 1446.9,403.7 1445.2,403.8 1442.2,403.8 1439.2,403.9 1436.2,403.9 1433.2,403.9 1430.2,403.9 1427.2,404 1424.2,404 1423.4,404 1422,396.5 1421,396.5 1419.6,404 1418.2,404 1415.2,404 1412.2,404 1409.2,404 1406.2,404 1403.2,404 1400.2,403.9 1397.2,403.9 1396.2,403.9 1394.8,396.4 1393.8,396.4 1392.4,403.8 1391.2,403.8 1388.2,403.8 1385.2,403.7 1382.2,403.7 1379.2,403.6 1376.2,403.6 1373.2,403.5 1370.2,403.4 1369,403.4 1367.6,395.9 1366.6,395.9 1365.2,403.3 1364.2,403.3 1361.2,403.2 1358.2,403.1 1355.2,403 1352.2,402.9 1349.2,402.8 1346.2,402.6 1343.2,402.5 1341.8,402.5 1340.4,395 1339.4,395 1338,402.3 1337.2,402.3 1334.2,402.1 1331.2,402 1328.2,401.9 1325.2,401.7 1322.2,401.6 1319.2,401.4 1316.2,401.2 1314.5,401.2 1313.1,393.7 1312.1,393.7 1310.7,400.9 1310.2,400.9 1307.2,400.7 1304.2,400.5 1301.2,400.4 1298.2,400.2 1295.2,400 1292.2,399.8 1289.2,399.6 1287.3,399.4 1285.9,392.1 1284.9,392 1283.5,399.2 1283.2,399.1 1280.2,398.9 1277.2,398.7 1274.2,398.5 1271.2,398.2 1268.2,398 1265.2,397.7 1262.2,397.5 1260.1,397.3 1258.7,390 1257.7,390 1256.3,397 1253.2,396.7 1250.2,396.4 1247.2,396.2 1244.2,395.9 1241.2,395.6 1238.2,395.3 1235.2,395 1232.8,394.8 1231.4,387.6 1230.4,387.5 1229,394.4 1226.2,394.1 1223.2,393.8 1220.2,393.5 1217.2,393.2 1214.2,392.9 1211.2,392.5 1208.2,392.2 1205.6,391.9 1204.2,384.9 1203.2,384.8 1201.8,391.5 1199.2,391.2 1196.2,390.8 1193.2,390.5 1190.2,390.1 1187.2,389.7 1184.2,389.4 1181.2,389 1178.4,388.6 1177,381.7 1176,381.6 1174.6,388.1 1172.2,387.8 1169.2,387.4 1166.2,387 1163.2,386.6 1160.2,386.2 1157.2,385.8 1154.2,385.4 1151.1,385 1149.7,378.3 1148.7,378.1 1147.3,384.5 1145.2,384.1 1142.2,383.7 1139.2,383.3 1136.2,382.8 1133.2,382.4 1130.2,381.9 1127.2,381.5 1124.2,381 1123.9,381 1122.5,374.4 1121.5,374.3 1120.1,380.4 1118.2,380.1 1115.2,379.6 1112.2,379.2 1109.2,378.7 1106.2,378.2 1103.2,377.7 1100.2,377.2 1097.2,376.7 1096.7,376.6 1095.3,370.3 1094.3,370.1 1092.9,376 1091.2,375.7 1088.2,375.2 1085.2,374.7 1082.2,374.2 1079.2,373.7 1076.2,373.1 1073.2,372.6 1070.2,372.1 1069.5,372 1068.1,365.8 1067.1,365.7 1065.7,371.3 1064.2,371 1061.2,370.5 1058.2,369.9 1055.2,369.4 1052.2,368.8 1049.2,368.3 1046.2,367.7 1043.2,367.1 1042.2,367 1040.8,361.1 1039.8,360.9 1038.4,366.2 1037.2,366 1034.2,365.4 1031.2,364.8 1028.2,364.3 1025.2,363.7 1022.2,363.1 1019.2,362.5 1016.2,361.9 1015,361.6 1013.6,356 1012.6,355.8 1011.2,360.9 1010.2,360.7 1007.2,360.1 1004.2,359.4 1001.2,358.8 998.2,358.2 995.2,357.6 992.2,357 989.2,356.3 987.8,356 986.4,350.7 985.4,350.5 984,355.2 983.2,355.1 980.2,354.4 977.2,353.8 974.2,353.1 971.2,352.5 968.2,351.8 965.2,351.2 962.2,350.5 960.5,350.1 959.1,345.1 958.1,344.8 956.7,349.3 956.2,349.2 953.2,348.5 950.2,347.8 947.2,347.2 944.2,346.5 941.2,345.8 938.2,345.1 935.2,344.4 933.3,344 931.9,339.2 930.9,339 929.5,343.1 929.2,343 926.2,342.3 923.2,341.6 920.2,340.9 917.2,340.2 914.2,339.5 911.2,338.8 908.2,338.1 906.1,337.6 904.7,333.1 903.7,332.9 902.3,336.7 899.2,335.9 896.2,335.2 893.2,334.5 890.2,333.8 887.2,333 884.2,332.3 881.2,331.6 878.8,331 877.4,326.8 876.4,326.6 875,330 872.2,329.3 869.2,328.6 866.2,327.8 863.2,327.1 860.2,326.3 857.2,325.6 854.2,324.8 851.6,324.1 850.2,320.3 849.2,320.1 847.8,323.2 845.2,322.5 842.2,321.7 839.2,321 836.2,320.2 833.2,319.4 830.2,318.6 827.2,317.8 824.4,317.1 823,313.6 822,313.4 820.6,316.1 818.2,315.5 815.2,314.7 812.2,313.9 809.2,313.1 806.2,312.3 803.2,311.5 800.2,310.7 797.2,309.9 795.8,306.8 794.8,306.5 793.4,308.9 791.2,308.3 788.2,307.5 785.2,306.7 782.2,305.9 779.2,305.1 776.2,304.3 773.2,303.5 770.2,302.6 769.9,302.6 768.5,299.8 767.5,299.5 766.1,301.5 764.2,301 761.2,300.2 758.2,299.4 755.2,298.5 752.2,297.7 749.2,296.9 746.2,296.1 743.2,295.2 742.7,295.1 741.3,292.7 740.3,292.4 738.9,294 737.2,293.6 734.2,292.7 731.2,291.9 728.2,291.1 725.2,290.2 722.2,289.4 719.2,288.5 716.2,287.7 715.5,287.5 714.1,285.5 713.1,285.2 711.7,286.4 710.2,286 707.2,285.2 704.2,284.3 701.2,283.5 698.2,282.6 695.2,281.8 692.2,280.9 689.2,280.1 688.2,279.8 686.8,278.2 685.8,277.9 684.4,278.7 683.2,278.4 680.2,277.5 677.2,276.7 674.2,275.8 671.2,275 668.2,274.1 665.2,273.2 662.2,272.4 661,272 659.6,270.8 658.6,270.5 657.2,271 656.2,270.7 653.2,269.8 650.2,269 647.2,268.1 644.2,267.2 641.2,266.4 638.2,265.5 635.2,264.7 633.8,264.2 632.4,263.4 631.4,263.1 630,263.2 629.2,262.9 626.2,262.1 623.2,261.2 620.2,260.3 617.2,259.5 614.2,258.6 611.2,257.8 608.2,256.9 606.5,256.4 605.1,255.9 604.1,255.7 602.7,255.3 602.2,255.2 599.2,254.3" fill="#bfbf00"/>
<path d="M239.4,254.3H619.2" stroke="#bfbf00" stroke-width="3.2"/>
</g>
<text x="241.4" y="467.2" font-size="55" text-anchor="middle">0</text>
<text x="473.2 494.8 527.2 554.2" y="467.2" font-size="55" text-anchor="middle">0.05</text>
<text x="759 780.6 813" y="467.2" font-size="55" text-anchor="middle">0.1</text>
<text x="1017.8 1039.4 1071.8 1098.8" y="467.2" font-size="55" text-anchor="middle">0.15</text>
<text x="1303.6 1325.2 1357.6" y="467.2" font-size="55" text-anchor="middle">0.2</text>
<text x="1562.4 1584 1616.4 1643.4" y="467.2" font-size="55" text-anchor="middle">0.25</text>
<text x="1848.2 1869.8 1902.2" y="467.2" font-size="55" text-anchor="middle">0.3</text>
<text x="2107 2128.6 2161 2188" y="467.2" font-size="55" text-anchor="middle">0.35</text>
<text x="211.5" y="129.6" font-size="55" text-anchor="middle">5</text>
<text x="211.5" y="272.9" font-size="55" text-anchor="middle">0</text>
<text x="184.5 211.5" y="415.8" font-size="55" text-anchor="middle">−5</text>
<text x="627.3 656.9 686.5 716.1 745.7 775.3 804.9 834.5 864.1 893.7 923.3 952.9 982.5 1012.1 1041.7 1071.3 1100.9 1130.5 1160.1 1189.7 1219.3 1248.9 1278.5 1308.1 1337.7 1367.3 1396.9 1426.5 1456.1 1485.7 1515.3 1544.9 1574.5 1604.1 1633.7 1663.3 1692.9 1722.5 1752.1 1781.7 1811.3 1840.9 1870.5 1900.1 1929.7" y="80.5" font-size="61" text-anchor="middle">(a)<tspan textLength="28.5" lengthAdjust="spacingAndGlyphs">T</tspan>he ti<tspan textLength="27.5" lengthAdjust="spacingAndGlyphs">m</tspan>e-frequency ato<tspan textLength="27.5" lengthAdjust="spacingAndGlyphs">m</tspan> of vibration point</text>
<text x="1202.2 1231.8 1261.4 1291 1320.6 1350.2" y="541.1" font-size="61" text-anchor="middle"><tspan textLength="28.5" lengthAdjust="spacingAndGlyphs">T</tspan>i<tspan textLength="27.5" lengthAdjust="spacingAndGlyphs">m</tspan>e/s</text>
</g>
<g id="axes1">
<path d="M513.7,692.2V989.9M786,692.2V989.9M1058.3,692.2V989.9M1330.6,692.2V989.9M1602.9,692.2V989.9M1875.2,692.2V989.9M2147.5,692.2V989.9M241.4,698.7H2309.4M241.4,841.3H2309.4M241.4,984.3H2309.4" stroke="#e8e8ea" stroke-width="2.7" fill="none"/>
<rect x="241.4" y="692.2" width="2068" height="297.7" fill="none" stroke="#454545" stroke-width="3.7"/>
<path d="M513.7,692.2v19M513.7,989.9v-19M786,692.2v19M786,989.9v-19M1058.3,692.2v19M1058.3,989.9v-19M1330.6,692.2v19M1330.6,989.9v-19M1602.9,692.2v19M1602.9,989.9v-19M1875.2,692.2v19M1875.2,989.9v-19M2147.5,692.2v19M2147.5,989.9v-19M241.4,698.7h20M2309.4,698.7h-20M241.4,841.3h20M2309.4,841.3h-20M241.4,984.3h20M2309.4,984.3h-20" stroke="#454545" stroke-width="3.1" fill="none"/>
<g clip-path="url(#c1)">
<path d="M251.4,841.3 257.1,841.2 261.6,840.9 265.1,840.6 267.6,840.3 269.5,840 270.9,839.4 271.9,838.3 272.7,836.6 273.3,833.1 273.8,831.9 274.4,831.9 274.9,833.1 275.5,836.6 276.3,838.3 277.3,839 278.7,839.5 280.6,839.7 283.1,840 286.6,840.4 291.1,840.9 296.8,841.3 296.8,841.3 302.5,840.8 307,840 310.5,839.2 313,838.4 314.9,837.8 316.3,836.6 317.3,834.2 318.1,830.1 318.7,821.7 319.2,818.9 319.8,818.9 320.3,821.7 320.9,830.1 321.7,834.2 322.7,836.2 324.1,837.4 326,837.9 328.5,838.6 332,839.5 336.5,840.5 342.2,841.3 342.1,841.3 347.8,840.4 352.3,839.1 355.8,837.8 358.3,836.7 360.2,835.7 361.6,833.8 362.6,830.1 363.4,823.7 364,810.4 364.5,806 365.1,806 365.6,810.4 366.2,823.7 367,830.1 368,833.4 369.4,835.3 371.3,836.2 373.8,837.2 377.3,838.6 381.8,840.1 387.5,841.3 387.5,841.3 393.2,840.1 397.7,838.2 401.2,836.4 403.7,834.9 405.6,833.7 407,831.1 408,826.1 408.8,817.4 409.4,799.4 409.9,793.5 410.5,793.5 411,799.4 411.6,817.4 412.4,826.1 413.4,830.7 414.8,833.3 416.7,834.4 419.2,835.9 422.7,837.7 427.2,839.8 432.9,841.3 432.9,841.3 438.6,839.7 443.1,837.4 446.6,835.1 449.1,833.2 451,831.7 452.4,828.4 453.4,822.2 454.2,811.3 454.8,788.8 455.3,781.2 455.9,781.2 456.4,788.8 457,811.3 457.8,822.2 458.8,828 460.2,831.3 462.1,832.7 464.6,834.6 468.1,836.9 472.6,839.4 478.3,841.3 478.3,841.3 484,839.3 488.5,836.5 492,833.8 494.5,831.6 496.4,829.7 497.8,825.8 498.8,818.5 499.6,805.4 500.2,778.5 500.7,769.5 501.3,769.5 501.8,778.5 502.4,805.4 503.2,818.5 504.2,825.5 505.6,829.4 507.5,831.1 510,833.3 513.5,836.1 518,839.1 523.7,841.3 523.7,841.3 529.4,839 533.9,835.8 537.4,832.6 539.9,830 541.8,827.9 543.2,823.4 544.2,814.9 545,799.8 545.6,768.7 546.1,758.3 546.7,758.3 547.2,768.7 547.8,799.8 548.6,814.9 549.6,823 551,827.5 552.9,829.6 555.4,832.1 558.9,835.3 563.4,838.8 569.1,841.3 569.1,841.3 574.8,838.7 579.3,835 582.8,831.4 585.3,828.5 587.2,826.1 588.6,821 589.6,811.6 590.4,794.5 591,759.4 591.5,747.7 592.1,747.7 592.6,759.4 593.2,794.5 594,811.6 595,820.7 596.4,825.8 598.3,828.1 600.8,831 604.3,834.6 608.8,838.5 614.5,841.3 614.4,841.3 620.1,838.4 624.6,834.3 628.1,830.3 630.6,827.1 632.5,824.5 633.9,818.9 634.9,808.4 635.7,789.6 636.3,750.8 636.8,737.9 637.4,737.9 637.9,750.8 638.5,789.6 639.3,808.4 640.3,818.6 641.7,824.2 643.6,826.8 646.1,829.9 649.6,834 654.1,838.2 659.8,841.3 659.8,841.3 665.5,838.1 670,833.7 673.5,829.4 676,825.9 677.9,823 679.3,816.9 680.3,805.5 681.1,785.1 681.7,742.9 682.2,728.8 682.8,728.8 683.3,742.9 683.9,785.1 684.7,805.5 685.7,816.6 687.1,822.7 689,825.5 691.5,829 695,833.3 699.5,838 705.2,841.3 705.2,841.3 710.9,837.9 715.4,833.1 718.9,828.4 721.4,824.7 723.3,821.7 724.7,815.1 725.7,802.9 726.5,780.9 727.1,735.7 727.6,720.6 728.2,720.6 728.7,735.7 729.3,780.9 730.1,802.9 731.1,814.8 732.5,821.4 734.4,824.4 736.9,828.1 740.4,832.8 744.9,837.7 750.6,841.3 750.6,841.3 756.3,837.7 760.8,832.6 764.3,827.6 766.8,823.7 768.7,820.4 770.1,813.5 771.1,800.6 771.9,777.3 772.5,729.3 773,713.3 773.6,713.3 774.1,729.3 774.7,777.3 775.5,800.6 776.5,813.3 777.9,820.2 779.8,823.4 782.3,827.3 785.8,832.3 790.3,837.5 796,841.3 796,841.3 801.7,837.5 806.2,832.1 809.7,826.9 812.2,822.8 814.1,819.4 815.5,812.1 816.5,798.6 817.3,774.1 817.9,723.7 818.4,706.9 819,706.9 819.5,723.7 820.1,774.1 820.9,798.6 821.9,811.9 823.3,819.2 825.2,822.6 827.7,826.7 831.2,831.9 835.7,837.4 841.4,841.3 841.4,841.3 847.1,837.3 851.6,831.7 855.1,826.3 857.6,822 859.5,818.5 860.9,810.9 861.9,796.9 862.7,771.5 863.3,719.1 863.8,701.6 864.4,701.6 864.9,719.1 865.5,771.5 866.3,796.9 867.3,810.8 868.7,818.4 870.6,821.8 873.1,826.1 876.6,831.5 881.1,837.2 886.8,841.3 886.7,841.3 892.4,837.2 896.9,831.4 900.4,825.9 902.9,821.4 904.8,817.8 906.2,810 907.2,795.6 908,769.4 908.6,715.4 909.1,697.4 909.7,697.4 910.2,715.4 910.8,769.4 911.6,795.6 912.6,809.9 914,817.7 915.9,821.3 918.4,825.7 921.9,831.3 926.4,837.1 932.1,841.3 932.1,841.3 937.8,837.1 942.3,831.2 945.8,825.5 948.3,821 950.2,817.3 951.6,809.3 952.6,794.6 953.4,767.8 954,712.6 954.5,694.3 955.1,694.3 955.6,712.6 956.2,767.8 957,794.6 958,809.2 959.4,817.2 961.3,820.9 963.8,825.4 967.3,831.1 971.8,837 977.5,841.3 977.5,841.3 983.2,837 987.7,831 991.2,825.3 993.7,820.7 995.6,816.9 997,808.8 998,793.9 998.8,766.8 999.4,710.9 999.9,692.2 1000.5,692.2 1001,710.9 1001.6,766.8 1002.4,793.9 1003.4,808.8 1004.8,816.9 1006.7,820.6 1009.2,825.2 1012.7,830.9 1017.2,837 1022.9,841.3 1022.9,841.3 1028.6,837 1033.1,830.9 1036.6,825.1 1039.1,820.5 1041,816.7 1042.4,808.6 1043.4,793.6 1044.2,766.3 1044.8,710.1 1045.3,691.3 1045.9,691.3 1046.4,710.1 1047,766.3 1047.8,793.6 1048.8,808.6 1050.2,816.7 1052.1,820.5 1054.6,825.1 1058.1,830.9 1062.6,837 1068.3,841.3 1068.3,841.3 1074,837 1078.5,830.9 1082,825.1 1084.5,820.5 1086.4,816.8 1087.8,808.6 1088.8,793.7 1089.6,766.5 1090.2,710.3 1090.7,691.6 1091.3,691.6 1091.8,710.3 1092.4,766.5 1093.2,793.7 1094.2,808.7 1095.6,816.8 1097.5,820.6 1100,825.2 1103.5,830.9 1108,837 1113.7,841.3 1113.7,841.3 1119.4,837 1123.9,831 1127.4,825.3 1129.9,820.7 1131.8,817 1133.2,808.9 1134.2,794.2 1135,767.2 1135.6,711.5 1136.1,693 1136.7,693 1137.2,711.5 1137.8,767.2 1138.6,794.2 1139.6,809 1141,817 1142.9,820.8 1145.4,825.4 1148.9,831.1 1153.4,837 1159.1,841.3 1159,841.3 1164.7,837 1169.2,831.1 1172.7,825.5 1175.2,821 1177.1,817.4 1178.5,809.5 1179.5,795 1180.3,768.4 1180.9,713.7 1181.4,695.5 1182,695.5 1182.5,713.7 1183.1,768.4 1183.9,795 1184.9,809.5 1186.3,817.5 1188.2,821.1 1190.7,825.6 1194.2,831.3 1198.7,837.1 1204.4,841.3 1204.4,841.3 1210.1,837.1 1214.6,831.4 1218.1,825.9 1220.6,821.5 1222.5,818 1223.9,810.2 1224.9,796.1 1225.7,770.2 1226.3,716.9 1226.8,699.1 1227.4,699.1 1227.9,716.9 1228.5,770.2 1229.3,796.1 1230.3,810.4 1231.7,818.1 1233.6,821.7 1236.1,826.1 1239.6,831.5 1244.1,837.2 1249.8,841.3 1249.8,841.3 1255.5,837.3 1260,831.7 1263.5,826.4 1266,822.1 1267.9,818.7 1269.3,811.2 1270.3,797.6 1271.1,772.6 1271.7,721 1272.2,703.8 1272.8,703.8 1273.3,721 1273.9,772.6 1274.7,797.6 1275.7,811.4 1277.1,818.9 1279,822.3 1281.5,826.6 1285,831.9 1289.5,837.4 1295.2,841.3 1295.2,841.3 1300.9,837.4 1305.4,832.1 1308.9,827 1311.4,822.9 1313.3,819.6 1314.7,812.5 1315.7,799.4 1316.5,775.5 1317.1,726.1 1317.6,709.6 1318.2,709.6 1318.7,726.1 1319.3,775.5 1320.1,799.4 1321.1,812.7 1322.5,819.8 1324.4,823.2 1326.9,827.2 1330.4,832.3 1334.9,837.6 1340.6,841.3 1340.6,841.3 1346.3,837.6 1350.8,832.5 1354.3,827.7 1356.8,823.8 1358.7,820.7 1360.1,813.9 1361.1,801.6 1361.9,778.8 1362.5,732 1363,716.4 1363.6,716.4 1364.1,732 1364.7,778.8 1365.5,801.6 1366.5,814.2 1367.9,821 1369.8,824.1 1372.3,828 1375.8,832.8 1380.3,837.8 1386,841.3 1386,841.3 1391.7,837.8 1396.2,833 1399.7,828.5 1402.2,824.9 1404.1,822 1405.5,815.6 1406.5,804 1407.3,782.7 1407.9,738.7 1408.4,724.1 1409,724.1 1409.5,738.7 1410.1,782.7 1410.9,804 1411.9,815.9 1413.3,822.2 1415.2,825.2 1417.7,828.8 1421.2,833.3 1425.7,838 1431.4,841.3 1431.3,841.3 1437,838.1 1441.5,833.6 1445,829.4 1447.5,826.1 1449.4,823.4 1450.8,817.5 1451.8,806.8 1452.6,787 1453.2,746.3 1453.7,732.7 1454.3,732.7 1454.8,746.3 1455.4,787 1456.2,806.8 1457.2,817.7 1458.6,823.7 1460.5,826.4 1463,829.8 1466.5,833.9 1471,838.3 1476.7,841.3 1476.7,841.3 1482.4,838.3 1486.9,834.2 1490.4,830.4 1492.9,827.4 1494.8,824.9 1496.2,819.5 1497.2,809.8 1498,791.7 1498.6,754.5 1499.1,742.1 1499.7,742.1 1500.2,754.5 1500.8,791.7 1501.6,809.8 1502.6,819.8 1504,825.2 1505.9,827.7 1508.4,830.8 1511.9,834.6 1516.4,838.5 1522.1,841.3 1522.1,841.3 1527.8,838.6 1532.3,834.9 1535.8,831.5 1538.3,828.7 1540.2,826.5 1541.6,821.7 1542.6,813 1543.4,796.8 1544,763.4 1544.5,752.3 1545.1,752.3 1545.6,763.4 1546.2,796.8 1547,813 1548,822 1549.4,826.9 1551.3,829.2 1553.8,831.9 1557.3,835.3 1561.8,838.8 1567.5,841.3 1567.5,841.3 1573.2,838.9 1577.7,835.7 1581.2,832.6 1583.7,830.2 1585.6,828.3 1587,824.1 1588,816.5 1588.8,802.2 1589.4,772.9 1589.9,763.1 1590.5,763.1 1591,772.9 1591.6,802.2 1592.4,816.5 1593.4,824.4 1594.8,828.7 1596.7,830.7 1599.2,833.1 1602.7,836.1 1607.2,839.2 1612.9,841.3 1612.9,841.3 1618.6,839.2 1623.1,836.5 1626.6,833.9 1629.1,831.8 1631,830.2 1632.4,826.6 1633.4,820.1 1634.2,808 1634.8,782.9 1635.3,774.6 1635.9,774.6 1636.4,782.9 1637,808 1637.8,820.1 1638.8,826.9 1640.2,830.6 1642.1,832.3 1644.6,834.4 1648.1,836.9 1652.6,839.5 1658.3,841.3 1658.3,841.3 1664,839.6 1668.5,837.3 1672,835.1 1674.5,833.5 1676.4,832.1 1677.8,829.2 1678.8,823.9 1679.6,813.9 1680.2,793.4 1680.7,786.6 1681.3,786.6 1681.8,793.4 1682.4,813.9 1683.2,823.9 1684.2,829.5 1685.6,832.5 1687.5,834 1690,835.7 1693.5,837.7 1698,839.8 1703.7,841.3 1703.6,841.3 1709.3,839.9 1713.8,838.1 1717.3,836.5 1719.8,835.2 1721.7,834.2 1723.1,831.9 1724.1,827.8 1724.9,820.1 1725.5,804.2 1726,798.9 1726.6,798.9 1727.1,804.2 1727.7,820.1 1728.5,827.8 1729.5,832.3 1730.9,834.6 1732.8,835.7 1735.3,837 1738.8,838.6 1743.3,840.2 1749,841.3 1749,841.3 1754.7,840.3 1759.2,839 1762.7,837.8 1765.2,836.9 1767.1,836.2 1768.5,834.6 1769.5,831.9 1770.3,826.5 1770.9,815.4 1771.4,811.7 1772,811.7 1772.5,815.4 1773.1,826.5 1773.9,831.9 1774.9,835 1776.3,836.7 1778.2,837.4 1780.7,838.4 1784.2,839.5 1788.7,840.6 1794.4,841.3 1794.4,841.3 1800.1,840.7 1804.6,839.9 1808.1,839.2 1810.6,838.7 1812.5,838.3 1813.9,837.5 1814.9,836 1815.7,832.9 1816.3,826.7 1816.8,824.6 1817.4,824.6 1817.9,826.7 1818.5,832.9 1819.3,836 1820.3,837.9 1821.7,838.8 1823.6,839.2 1826.1,839.8 1829.6,840.4 1834.1,841 1839.8,841.3 1839.8,841.3 1845.5,841.1 1850,840.8 1853.5,840.6 1856,840.5 1857.9,840.5 1859.3,840.3 1860.3,840.1 1861.1,839.5 1861.7,838.1 1862.2,837.6 1862.8,837.6 1863.3,838.1 1863.9,839.5 1864.7,840.1 1865.7,840.7 1867.1,840.9 1869,841.1 1871.5,841.2 1875,841.3 1879.5,841.3 1885.2,841.3L1885.2,841.3 1879.5,841.3 1875,841.3 1871.5,841.4 1869,841.5 1867.1,841.7 1865.7,841.9 1864.7,842.5 1863.9,843.1 1863.3,844.5 1862.8,845 1862.2,845 1861.7,844.5 1861.1,843.1 1860.3,842.5 1859.3,842.3 1857.9,842.1 1856,842.1 1853.5,842 1850,841.8 1845.5,841.5 1839.8,841.3 1839.8,841.3 1834.1,841.6 1829.6,842.2 1826.1,842.8 1823.6,843.4 1821.7,843.8 1820.3,844.7 1819.3,846.6 1818.5,849.7 1817.9,855.9 1817.4,858 1816.8,858 1816.3,855.9 1815.7,849.7 1814.9,846.6 1813.9,845.1 1812.5,844.3 1810.6,843.9 1808.1,843.4 1804.6,842.7 1800.1,841.9 1794.4,841.3 1794.4,841.3 1788.7,842 1784.2,843.1 1780.7,844.2 1778.2,845.2 1776.3,845.9 1774.9,847.6 1773.9,850.7 1773.1,856.1 1772.5,867.2 1772,870.9 1771.4,870.9 1770.9,867.2 1770.3,856.1 1769.5,850.7 1768.5,848 1767.1,846.4 1765.2,845.7 1762.7,844.8 1759.2,843.6 1754.7,842.3 1749,841.3 1749,841.3 1743.3,842.4 1738.8,844 1735.3,845.6 1732.8,846.9 1730.9,848 1729.5,850.3 1728.5,854.8 1727.7,862.5 1727.1,878.4 1726.6,883.7 1726,883.7 1725.5,878.4 1724.9,862.5 1724.1,854.8 1723.1,850.7 1721.7,848.4 1719.8,847.4 1717.3,846.1 1713.8,844.5 1709.3,842.7 1703.6,841.3 1703.7,841.3 1698,842.8 1693.5,844.9 1690,846.9 1687.5,848.6 1685.6,850.1 1684.2,853.1 1683.2,858.7 1682.4,868.7 1681.8,889.2 1681.3,896 1680.7,896 1680.2,889.2 1679.6,868.7 1678.8,858.7 1677.8,853.4 1676.4,850.5 1674.5,849.1 1672,847.5 1668.5,845.3 1664,843 1658.3,841.3 1658.3,841.3 1652.6,843.1 1648.1,845.7 1644.6,848.2 1642.1,850.3 1640.2,852 1638.8,855.7 1637.8,862.5 1637,874.6 1636.4,899.7 1635.9,908 1635.3,908 1634.8,899.7 1634.2,874.6 1633.4,862.5 1632.4,856 1631,852.4 1629.1,850.8 1626.6,848.7 1623.1,846.1 1618.6,843.4 1612.9,841.3 1612.9,841.3 1607.2,843.4 1602.7,846.5 1599.2,849.5 1596.7,851.9 1594.8,853.9 1593.4,858.2 1592.4,866.1 1591.6,880.4 1591,909.7 1590.5,919.5 1589.9,919.5 1589.4,909.7 1588.8,880.4 1588,866.1 1587,858.5 1585.6,854.3 1583.7,852.4 1581.2,850 1577.7,846.9 1573.2,843.7 1567.5,841.3 1567.5,841.3 1561.8,843.8 1557.3,847.3 1553.8,850.7 1551.3,853.4 1549.4,855.7 1548,860.6 1547,869.6 1546.2,885.8 1545.6,919.2 1545.1,930.3 1544.5,930.3 1544,919.2 1543.4,885.8 1542.6,869.6 1541.6,860.9 1540.2,856.1 1538.3,853.9 1535.8,851.1 1532.3,847.7 1527.8,844 1522.1,841.3 1522.1,841.3 1516.4,844.1 1511.9,848 1508.4,851.8 1505.9,854.9 1504,857.4 1502.6,862.8 1501.6,872.8 1500.8,890.9 1500.2,928.1 1499.7,940.5 1499.1,940.5 1498.6,928.1 1498,890.9 1497.2,872.8 1496.2,863.1 1494.8,857.7 1492.9,855.2 1490.4,852.2 1486.9,848.4 1482.4,844.3 1476.7,841.3 1476.7,841.3 1471,844.3 1466.5,848.7 1463,852.8 1460.5,856.2 1458.6,858.9 1457.2,864.9 1456.2,875.8 1455.4,895.6 1454.8,936.3 1454.3,949.9 1453.7,949.9 1453.2,936.3 1452.6,895.6 1451.8,875.8 1450.8,865.1 1449.4,859.2 1447.5,856.5 1445,853.2 1441.5,849 1437,844.5 1431.3,841.3 1431.4,841.3 1425.7,844.6 1421.2,849.3 1417.7,853.8 1415.2,857.4 1413.3,860.4 1411.9,866.7 1410.9,878.6 1410.1,899.9 1409.5,943.9 1409,958.5 1408.4,958.5 1407.9,943.9 1407.3,899.9 1406.5,878.6 1405.5,867 1404.1,860.6 1402.2,857.7 1399.7,854.1 1396.2,849.6 1391.7,844.8 1386,841.3 1386,841.3 1380.3,844.8 1375.8,849.8 1372.3,854.6 1369.8,858.5 1367.9,861.6 1366.5,868.4 1365.5,881 1364.7,903.8 1364.1,950.6 1363.6,966.2 1363,966.2 1362.5,950.6 1361.9,903.8 1361.1,881 1360.1,868.7 1358.7,861.9 1356.8,858.8 1354.3,854.9 1350.8,850.1 1346.3,845 1340.6,841.3 1340.6,841.3 1334.9,845 1330.4,850.3 1326.9,855.4 1324.4,859.4 1322.5,862.8 1321.1,869.9 1320.1,883.2 1319.3,907.1 1318.7,956.5 1318.2,973 1317.6,973 1317.1,956.5 1316.5,907.1 1315.7,883.2 1314.7,870.1 1313.3,863 1311.4,859.7 1308.9,855.6 1305.4,850.5 1300.9,845.2 1295.2,841.3 1295.2,841.3 1289.5,845.2 1285,850.7 1281.5,856 1279,860.3 1277.1,863.7 1275.7,871.2 1274.7,885 1273.9,910 1273.3,961.6 1272.8,978.8 1272.2,978.8 1271.7,961.6 1271.1,910 1270.3,885 1269.3,871.4 1267.9,863.9 1266,860.5 1263.5,856.2 1260,850.9 1255.5,845.3 1249.8,841.3 1249.8,841.3 1244.1,845.4 1239.6,851.1 1236.1,856.5 1233.6,860.9 1231.7,864.5 1230.3,872.2 1229.3,886.5 1228.5,912.4 1227.9,965.7 1227.4,983.5 1226.8,983.5 1226.3,965.7 1225.7,912.4 1224.9,886.5 1223.9,872.4 1222.5,864.6 1220.6,861.1 1218.1,856.7 1214.6,851.2 1210.1,845.5 1204.4,841.3 1204.4,841.3 1198.7,845.5 1194.2,851.3 1190.7,857 1188.2,861.5 1186.3,865.1 1184.9,873.1 1183.9,887.6 1183.1,914.2 1182.5,968.9 1182,987.1 1181.4,987.1 1180.9,968.9 1180.3,914.2 1179.5,887.6 1178.5,873.1 1177.1,865.2 1175.2,861.6 1172.7,857.1 1169.2,851.5 1164.7,845.6 1159,841.3 1159.1,841.3 1153.4,845.6 1148.9,851.5 1145.4,857.2 1142.9,861.8 1141,865.6 1139.6,873.6 1138.6,888.4 1137.8,915.4 1137.2,971.1 1136.7,989.6 1136.1,989.6 1135.6,971.1 1135,915.4 1134.2,888.4 1133.2,873.7 1131.8,865.6 1129.9,861.9 1127.4,857.3 1123.9,851.6 1119.4,845.6 1113.7,841.3 1113.7,841.3 1108,845.6 1103.5,851.7 1100,857.4 1097.5,862 1095.6,865.8 1094.2,873.9 1093.2,888.9 1092.4,916.1 1091.8,972.3 1091.3,991 1090.7,991 1090.2,972.3 1089.6,916.1 1088.8,888.9 1087.8,874 1086.4,865.8 1084.5,862.1 1082,857.5 1078.5,851.7 1074,845.6 1068.3,841.3 1068.3,841.3 1062.6,845.6 1058.1,851.7 1054.6,857.5 1052.1,862.1 1050.2,865.9 1048.8,874 1047.8,889 1047,916.3 1046.4,972.5 1045.9,991.3 1045.3,991.3 1044.8,972.5 1044.2,916.3 1043.4,889 1042.4,874 1041,865.9 1039.1,862.1 1036.6,857.5 1033.1,851.7 1028.6,845.6 1022.9,841.3 1022.9,841.3 1017.2,845.6 1012.7,851.7 1009.2,857.4 1006.7,862 1004.8,865.7 1003.4,873.8 1002.4,888.7 1001.6,915.8 1001,971.7 1000.5,990.4 999.9,990.4 999.4,971.7 998.8,915.8 998,888.7 997,873.8 995.6,865.7 993.7,861.9 991.2,857.3 987.7,851.6 983.2,845.6 977.5,841.3 977.5,841.3 971.8,845.6 967.3,851.5 963.8,857.2 961.3,861.7 959.4,865.4 958,873.4 957,888 956.2,914.8 955.6,970 955.1,988.3 954.5,988.3 954,970 953.4,914.8 952.6,888 951.6,873.3 950.2,865.3 948.3,861.6 945.8,857.1 942.3,851.4 937.8,845.5 932.1,841.3 932.1,841.3 926.4,845.5 921.9,851.3 918.4,856.9 915.9,861.3 914,864.9 912.6,872.7 911.6,887 910.8,913.2 910.2,967.2 909.7,985.2 909.1,985.2 908.6,967.2 908,913.2 907.2,887 906.2,872.6 904.8,864.8 902.9,861.2 900.4,856.7 896.9,851.2 892.4,845.4 886.7,841.3 886.8,841.3 881.1,845.4 876.6,851.1 873.1,856.5 870.6,860.8 868.7,864.2 867.3,871.8 866.3,885.7 865.5,911.1 864.9,963.5 864.4,981 863.8,981 863.3,963.5 862.7,911.1 861.9,885.7 860.9,871.7 859.5,864.1 857.6,860.6 855.1,856.3 851.6,850.9 847.1,845.3 841.4,841.3 841.4,841.3 835.7,845.2 831.2,850.7 827.7,855.9 825.2,860 823.3,863.4 821.9,870.7 820.9,884 820.1,908.5 819.5,958.9 819,975.7 818.4,975.7 817.9,958.9 817.3,908.5 816.5,884 815.5,870.5 814.1,863.2 812.2,859.8 809.7,855.7 806.2,850.5 801.7,845.1 796,841.3 796,841.3 790.3,845.1 785.8,850.3 782.3,855.3 779.8,859.2 777.9,862.4 776.5,869.3 775.5,882 774.7,905.3 774.1,953.3 773.6,969.3 773,969.3 772.5,953.3 771.9,905.3 771.1,882 770.1,869.1 768.7,862.2 766.8,858.9 764.3,855 760.8,850 756.3,844.9 750.6,841.3 750.6,841.3 744.9,844.9 740.4,849.8 736.9,854.5 734.4,858.2 732.5,861.2 731.1,867.8 730.1,879.7 729.3,901.7 728.7,946.9 728.2,962 727.6,962 727.1,946.9 726.5,901.7 725.7,879.7 724.7,867.5 723.3,860.9 721.4,857.9 718.9,854.2 715.4,849.5 710.9,844.7 705.2,841.3 705.2,841.3 699.5,844.6 695,849.3 691.5,853.6 689,857.1 687.1,859.9 685.7,866 684.7,877.1 683.9,897.5 683.3,939.7 682.8,953.8 682.2,953.8 681.7,939.7 681.1,897.5 680.3,877.1 679.3,865.7 677.9,859.6 676,856.7 673.5,853.2 670,848.9 665.5,844.5 659.8,841.3 659.8,841.3 654.1,844.4 649.6,848.6 646.1,852.7 643.6,855.8 641.7,858.4 640.3,864 639.3,874.2 638.5,893 637.9,931.8 637.4,944.7 636.8,944.7 636.3,931.8 635.7,893 634.9,874.2 633.9,863.7 632.5,858.1 630.6,855.5 628.1,852.3 624.6,848.3 620.1,844.2 614.4,841.3 614.5,841.3 608.8,844.1 604.3,848 600.8,851.6 598.3,854.5 596.4,856.8 595,861.9 594,871 593.2,888.1 592.6,923.2 592.1,934.9 591.5,934.9 591,923.2 590.4,888.1 589.6,871 588.6,861.6 587.2,856.5 585.3,854.1 582.8,851.2 579.3,847.6 574.8,843.9 569.1,841.3 569.1,841.3 563.4,843.8 558.9,847.3 555.4,850.5 552.9,853 551,855.1 549.6,859.6 548.6,867.7 547.8,882.8 547.2,913.9 546.7,924.3 546.1,924.3 545.6,913.9 545,882.8 544.2,867.7 543.2,859.2 541.8,854.7 539.9,852.6 537.4,850 533.9,846.8 529.4,843.6 523.7,841.3 523.7,841.3 518,843.5 513.5,846.5 510,849.3 507.5,851.5 505.6,853.2 504.2,857.1 503.2,864.1 502.4,877.2 501.8,904.1 501.3,913.1 500.7,913.1 500.2,904.1 499.6,877.2 498.8,864.1 497.8,856.8 496.4,852.9 494.5,851 492,848.8 488.5,846.1 484,843.3 478.3,841.3 478.3,841.3 472.6,843.2 468.1,845.7 464.6,848 462.1,849.9 460.2,851.3 458.8,854.6 457.8,860.4 457,871.3 456.4,893.8 455.9,901.4 455.3,901.4 454.8,893.8 454.2,871.3 453.4,860.4 452.4,854.2 451,850.9 449.1,849.4 446.6,847.5 443.1,845.2 438.6,842.9 432.9,841.3 432.9,841.3 427.2,842.8 422.7,844.9 419.2,846.7 416.7,848.2 414.8,849.3 413.4,851.9 412.4,856.5 411.6,865.2 411,883.2 410.5,889.1 409.9,889.1 409.4,883.2 408.8,865.2 408,856.5 407,851.5 405.6,848.9 403.7,847.7 401.2,846.2 397.7,844.4 393.2,842.5 387.5,841.3 387.5,841.3 381.8,842.5 377.3,844 373.8,845.4 371.3,846.4 369.4,847.3 368,849.2 367,852.5 366.2,858.9 365.6,872.2 365.1,876.6 364.5,876.6 364,872.2 363.4,858.9 362.6,852.5 361.6,848.8 360.2,846.9 358.3,845.9 355.8,844.8 352.3,843.5 347.8,842.2 342.1,841.3 342.2,841.3 336.5,842.1 332,843.1 328.5,844 326,844.7 324.1,845.2 322.7,846.4 321.7,848.4 320.9,852.5 320.3,860.9 319.8,863.7 319.2,863.7 318.7,860.9 318.1,852.5 317.3,848.4 316.3,846 314.9,844.8 313,844.2 310.5,843.4 307,842.6 302.5,841.8 296.8,841.3 296.8,841.3 291.1,841.7 286.6,842.2 283.1,842.6 280.6,842.9 278.7,843.1 277.3,843.6 276.3,844.3 275.5,846 274.9,849.5 274.4,850.7 273.8,850.7 273.3,849.5 272.7,846 271.9,844.3 270.9,843.2 269.5,842.6 267.6,842.3 265.1,842 261.6,841.7 257.1,841.4 251.4,841.3Z" fill="#0000ff" stroke="#0000ff" stroke-width="2.3" stroke-linejoin="round"/>
<path d="M262.2,841.3 267.9,841.2 272.4,840.9 275.9,840.6 278.4,840.3 280.3,840 281.7,839.5 282.7,838.4 283.5,836.7 284.1,833.2 284.6,832.1 285.2,832.1 285.7,833.2 286.3,836.7 287.1,838.4 288.1,839.1 289.5,839.6 291.4,839.8 293.9,840 297.4,840.4 301.9,840.9 307.6,841.3 307.6,841.3 313.3,840.8 317.8,840 321.3,839.2 323.8,838.5 325.7,837.9 327.1,836.6 328.1,834.2 328.9,830.2 329.5,821.8 330,819.1 330.6,819.1 331.1,821.8 331.7,830.2 332.5,834.2 333.5,836.2 334.9,837.4 336.8,838 339.3,838.6 342.8,839.5 347.3,840.5 353,841.3 352.9,841.3 358.6,840.4 363.1,839.1 366.6,837.8 369.1,836.7 371,835.8 372.4,833.8 373.4,830.1 374.2,823.8 374.8,810.6 375.3,806.2 375.9,806.2 376.4,810.6 377,823.8 377.8,830.1 378.8,833.4 380.2,835.3 382.1,836.2 384.6,837.2 388.1,838.6 392.6,840.1 398.3,841.3 398.3,841.3 404,840.1 408.5,838.2 412,836.4 414.5,834.9 416.4,833.7 417.8,831.1 418.8,826.1 419.6,817.5 420.2,799.6 420.7,793.6 421.3,793.6 421.8,799.6 422.4,817.5 423.2,826.1 424.2,830.7 425.6,833.3 427.5,834.4 430,835.9 433.5,837.8 438,839.8 443.7,841.3 443.7,841.3 449.4,839.7 453.9,837.4 457.4,835.1 459.9,833.2 461.8,831.7 463.2,828.4 464.2,822.3 465,811.4 465.6,788.9 466.1,781.4 466.7,781.4 467.2,788.9 467.8,811.4 468.6,822.3 469.6,828.1 471,831.3 472.9,832.8 475.4,834.6 478.9,836.9 483.4,839.4 489.1,841.3 489.1,841.3 494.8,839.4 499.3,836.6 502.8,833.8 505.3,831.6 507.2,829.8 508.6,825.8 509.6,818.5 510.4,805.5 511,778.6 511.5,769.7 512.1,769.7 512.6,778.6 513.2,805.5 514,818.5 515,825.5 516.4,829.4 518.3,831.1 520.8,833.3 524.3,836.1 528.8,839.1 534.5,841.3 534.5,841.3 540.2,839 544.7,835.8 548.2,832.6 550.7,830 552.6,827.9 554,823.4 555,815 555.8,799.9 556.4,768.8 556.9,758.4 557.5,758.4 558,768.8 558.6,799.9 559.4,815 560.4,823.1 561.8,827.6 563.7,829.6 566.2,832.1 569.7,835.4 574.2,838.8 579.9,841.3 579.9,841.3 585.6,838.7 590.1,835 593.6,831.4 596.1,828.5 598,826.2 599.4,821.1 600.4,811.6 601.2,794.6 601.8,759.5 602.3,747.9 602.9,747.9 603.4,759.5 604,794.6 604.8,811.6 605.8,820.8 607.2,825.8 609.1,828.1 611.6,831 615.1,834.6 619.6,838.5 625.3,841.3 625.2,841.3 630.9,838.4 635.4,834.3 638.9,830.4 641.4,827.2 643.3,824.5 644.7,818.9 645.7,808.5 646.5,789.7 647.1,750.9 647.6,738 648.2,738 648.7,750.9 649.3,789.7 650.1,808.5 651.1,818.6 652.5,824.2 654.4,826.8 656.9,830 660.4,834 664.9,838.2 670.6,841.3 670.6,841.3 676.3,838.1 680.8,833.7 684.3,829.4 686.8,825.9 688.7,823 690.1,816.9 691.1,805.6 691.9,785.1 692.5,743 693,728.9 693.6,728.9 694.1,743 694.7,785.1 695.5,805.6 696.5,816.6 697.9,822.8 699.8,825.5 702.3,829 705.8,833.4 710.3,838 716,841.3 716,841.3 721.7,837.9 726.2,833.1 729.7,828.5 732.2,824.7 734.1,821.7 735.5,815.1 736.5,803 737.3,781 737.9,735.8 738.4,720.7 739,720.7 739.5,735.8 740.1,781 740.9,803 741.9,814.9 743.3,821.4 745.2,824.4 747.7,828.1 751.2,832.8 755.7,837.7 761.4,841.3 761.4,841.3 767.1,837.7 771.6,832.6 775.1,827.7 777.6,823.7 779.5,820.5 780.9,813.5 781.9,800.6 782.7,777.3 783.3,729.4 783.8,713.4 784.4,713.4 784.9,729.4 785.5,777.3 786.3,800.6 787.3,813.3 788.7,820.2 790.6,823.4 793.1,827.4 796.6,832.3 801.1,837.5 806.8,841.3 806.8,841.3 812.5,837.5 817,832.1 820.5,826.9 823,822.8 824.9,819.4 826.3,812.1 827.3,798.6 828.1,774.2 828.7,723.8 829.2,707 829.8,707 830.3,723.8 830.9,774.2 831.7,798.6 832.7,811.9 834.1,819.2 836,822.6 838.5,826.7 842,831.9 846.5,837.4 852.2,841.3 852.2,841.3 857.9,837.3 862.4,831.7 865.9,826.4 868.4,822 870.3,818.5 871.7,810.9 872.7,796.9 873.5,771.5 874.1,719.2 874.6,701.7 875.2,701.7 875.7,719.2 876.3,771.5 877.1,796.9 878.1,810.8 879.5,818.4 881.4,821.9 883.9,826.1 887.4,831.5 891.9,837.2 897.6,841.3 897.5,841.3 903.2,837.2 907.7,831.4 911.2,825.9 913.7,821.4 915.6,817.8 917,810 918,795.6 918.8,769.4 919.4,715.4 919.9,697.5 920.5,697.5 921,715.4 921.6,769.4 922.4,795.6 923.4,809.9 924.8,817.7 926.7,821.3 929.2,825.7 932.7,831.3 937.2,837.1 942.9,841.3 942.9,841.3 948.6,837.1 953.1,831.2 956.6,825.5 959.1,821 961,817.3 962.4,809.3 963.4,794.6 964.2,767.8 964.8,712.7 965.3,694.3 965.9,694.3 966.4,712.7 967,767.8 967.8,794.6 968.8,809.2 970.2,817.2 972.1,820.9 974.6,825.4 978.1,831.1 982.6,837 988.3,841.3 988.3,841.3 994,837 998.5,831 1002,825.3 1004.5,820.7 1006.4,816.9 1007.8,808.8 1008.8,793.9 1009.6,766.8 1010.2,710.9 1010.7,692.3 1011.3,692.3 1011.8,710.9 1012.4,766.8 1013.2,793.9 1014.2,808.8 1015.6,816.9 1017.5,820.6 1020,825.2 1023.5,830.9 1028,837 1033.7,841.3 1033.7,841.3 1039.4,837 1043.9,830.9 1047.4,825.1 1049.9,820.5 1051.8,816.8 1053.2,808.6 1054.2,793.6 1055,766.3 1055.6,710.1 1056.1,691.3 1056.7,691.3 1057.2,710.1 1057.8,766.3 1058.6,793.6 1059.6,808.6 1061,816.7 1062.9,820.5 1065.4,825.1 1068.9,830.9 1073.4,837 1079.1,841.3 1079.1,841.3 1084.8,837 1089.3,830.9 1092.8,825.1 1095.3,820.5 1097.2,816.8 1098.6,808.6 1099.6,793.7 1100.4,766.5 1101,710.3 1101.5,691.6 1102.1,691.6 1102.6,710.3 1103.2,766.5 1104,793.7 1105,808.7 1106.4,816.8 1108.3,820.6 1110.8,825.2 1114.3,830.9 1118.8,837 1124.5,841.3 1124.5,841.3 1130.2,837 1134.7,831 1138.2,825.3 1140.7,820.7 1142.6,817 1144,808.9 1145,794.1 1145.8,767.1 1146.4,711.5 1146.9,693 1147.5,693 1148,711.5 1148.6,767.1 1149.4,794.1 1150.4,809 1151.8,817 1153.7,820.8 1156.2,825.3 1159.7,831.1 1164.2,837 1169.9,841.3 1169.8,841.3 1175.5,837 1180,831.1 1183.5,825.5 1186,821 1187.9,817.4 1189.3,809.4 1190.3,794.9 1191.1,768.4 1191.7,713.7 1192.2,695.5 1192.8,695.5 1193.3,713.7 1193.9,768.4 1194.7,794.9 1195.7,809.5 1197.1,817.5 1199,821.1 1201.5,825.6 1205,831.3 1209.5,837.1 1215.2,841.3 1215.2,841.3 1220.9,837.1 1225.4,831.4 1228.9,825.9 1231.4,821.5 1233.3,817.9 1234.7,810.2 1235.7,796.1 1236.5,770.2 1237.1,716.9 1237.6,699.1 1238.2,699.1 1238.7,716.9 1239.3,770.2 1240.1,796.1 1241.1,810.3 1242.5,818.1 1244.4,821.7 1246.9,826.1 1250.4,831.5 1254.9,837.2 1260.6,841.3 1260.6,841.3 1266.3,837.3 1270.8,831.7 1274.3,826.4 1276.8,822.1 1278.7,818.7 1280.1,811.2 1281.1,797.6 1281.9,772.6 1282.5,721 1283,703.8 1283.6,703.8 1284.1,721 1284.7,772.6 1285.5,797.6 1286.5,811.4 1287.9,818.9 1289.8,822.3 1292.3,826.6 1295.8,831.9 1300.3,837.4 1306,841.3 1306,841.3 1311.7,837.4 1316.2,832.1 1319.7,827 1322.2,822.9 1324.1,819.6 1325.5,812.5 1326.5,799.4 1327.3,775.4 1327.9,726 1328.4,709.5 1329,709.5 1329.5,726 1330.1,775.4 1330.9,799.4 1331.9,812.6 1333.3,819.8 1335.2,823.2 1337.7,827.2 1341.2,832.3 1345.7,837.6 1351.4,841.3 1351.4,841.3 1357.1,837.6 1361.6,832.5 1365.1,827.7 1367.6,823.8 1369.5,820.7 1370.9,813.9 1371.9,801.6 1372.7,778.8 1373.3,731.9 1373.8,716.3 1374.4,716.3 1374.9,731.9 1375.5,778.8 1376.3,801.6 1377.3,814.1 1378.7,820.9 1380.6,824.1 1383.1,828 1386.6,832.8 1391.1,837.8 1396.8,841.3 1396.8,841.3 1402.5,837.8 1407,833 1410.5,828.5 1413,824.9 1414.9,821.9 1416.3,815.6 1417.3,804 1418.1,782.6 1418.7,738.6 1419.2,724 1419.8,724 1420.3,738.6 1420.9,782.6 1421.7,804 1422.7,815.8 1424.1,822.2 1426,825.2 1428.5,828.8 1432,833.3 1436.5,838 1442.2,841.3 1442.1,841.3 1447.8,838.1 1452.3,833.6 1455.8,829.4 1458.3,826 1460.2,823.3 1461.6,817.4 1462.6,806.7 1463.4,786.9 1464,746.1 1464.5,732.5 1465.1,732.5 1465.6,746.1 1466.2,786.9 1467,806.7 1468,817.7 1469.4,823.6 1471.3,826.4 1473.8,829.8 1477.3,833.9 1481.8,838.3 1487.5,841.3 1487.5,841.3 1493.2,838.3 1497.7,834.2 1501.2,830.4 1503.7,827.3 1505.6,824.9 1507,819.5 1508,809.7 1508.8,791.6 1509.4,754.4 1509.9,742 1510.5,742 1511,754.4 1511.6,791.6 1512.4,809.7 1513.4,819.8 1514.8,825.2 1516.7,827.7 1519.2,830.8 1522.7,834.6 1527.2,838.5 1532.9,841.3 1532.9,841.3 1538.6,838.6 1543.1,834.9 1546.6,831.5 1549.1,828.7 1551,826.5 1552.4,821.7 1553.4,813 1554.2,796.7 1554.8,763.3 1555.3,752.1 1555.9,752.1 1556.4,763.3 1557,796.7 1557.8,813 1558.8,822 1560.2,826.9 1562.1,829.1 1564.6,831.9 1568.1,835.3 1572.6,838.8 1578.3,841.3 1578.3,841.3 1584,838.9 1588.5,835.7 1592,832.6 1594.5,830.2 1596.4,828.3 1597.8,824 1598.8,816.4 1599.6,802.2 1600.2,772.8 1600.7,763 1601.3,763 1601.8,772.8 1602.4,802.2 1603.2,816.4 1604.2,824.4 1605.6,828.7 1607.5,830.7 1610,833.1 1613.5,836.1 1618,839.2 1623.7,841.3 1623.7,841.3 1629.4,839.2 1633.9,836.4 1637.4,833.8 1639.9,831.8 1641.8,830.2 1643.2,826.5 1644.2,820 1645,807.9 1645.6,782.8 1646.1,774.4 1646.7,774.4 1647.2,782.8 1647.8,807.9 1648.6,820 1649.6,826.9 1651,830.5 1652.9,832.3 1655.4,834.3 1658.9,836.9 1663.4,839.5 1669.1,841.3 1669.1,841.3 1674.8,839.6 1679.3,837.3 1682.8,835.1 1685.3,833.4 1687.2,832.1 1688.6,829.1 1689.6,823.8 1690.4,813.9 1691,793.3 1691.5,786.4 1692.1,786.4 1692.6,793.3 1693.2,813.9 1694,823.8 1695,829.5 1696.4,832.5 1698.3,833.9 1700.8,835.6 1704.3,837.7 1708.8,839.8 1714.5,841.3 1714.4,841.3 1720.1,839.9 1724.6,838.1 1728.1,836.4 1730.6,835.2 1732.5,834.1 1733.9,831.8 1734.9,827.8 1735.7,820 1736.3,804.1 1736.8,798.8 1737.4,798.8 1737.9,804.1 1738.5,820 1739.3,827.8 1740.3,832.2 1741.7,834.5 1743.6,835.7 1746.1,837 1749.6,838.6 1754.1,840.2 1759.8,841.3 1759.8,841.3 1765.5,840.3 1770,839 1773.5,837.8 1776,836.9 1777.9,836.2 1779.3,834.6 1780.3,831.8 1781.1,826.4 1781.7,815.2 1782.2,811.5 1782.8,811.5 1783.3,815.2 1783.9,826.4 1784.7,831.8 1785.7,835 1787.1,836.6 1789,837.4 1791.5,838.4 1795,839.5 1799.5,840.6 1805.2,841.3 1805.2,841.3 1810.9,840.7 1815.4,839.9 1818.9,839.2 1821.4,838.7 1823.3,838.3 1824.7,837.4 1825.7,835.9 1826.5,832.9 1827.1,826.5 1827.6,824.4 1828.2,824.4 1828.7,826.5 1829.3,832.9 1830.1,835.9 1831.1,837.8 1832.5,838.7 1834.4,839.2 1836.9,839.8 1840.4,840.4 1844.9,841 1850.6,841.3 1850.6,841.3 1856.3,841 1860.8,840.8 1864.3,840.6 1866.8,840.5 1868.7,840.5 1870.1,840.3 1871.1,840.1 1871.9,839.4 1872.5,837.9 1873,837.5 1873.6,837.5 1874.1,837.9 1874.7,839.4 1875.5,840.1 1876.5,840.7 1877.9,840.9 1879.8,841 1882.3,841.2 1885.8,841.3 1890.3,841.3 1896,841.3L1896,841.3 1890.3,841.3 1885.8,841.3 1882.3,841.4 1879.8,841.6 1877.9,841.7 1876.5,841.9 1875.5,842.5 1874.7,843.2 1874.1,844.7 1873.6,845.1 1873,845.1 1872.5,844.7 1871.9,843.2 1871.1,842.5 1870.1,842.3 1868.7,842.1 1866.8,842.1 1864.3,842 1860.8,841.8 1856.3,841.6 1850.6,841.3 1850.6,841.3 1844.9,841.6 1840.4,842.2 1836.9,842.8 1834.4,843.4 1832.5,843.9 1831.1,844.8 1830.1,846.7 1829.3,849.7 1828.7,856.1 1828.2,858.2 1827.6,858.2 1827.1,856.1 1826.5,849.7 1825.7,846.7 1824.7,845.2 1823.3,844.3 1821.4,843.9 1818.9,843.4 1815.4,842.7 1810.9,841.9 1805.2,841.3 1805.2,841.3 1799.5,842 1795,843.1 1791.5,844.2 1789,845.2 1787.1,846 1785.7,847.6 1784.7,850.8 1783.9,856.2 1783.3,867.4 1782.8,871.1 1782.2,871.1 1781.7,867.4 1781.1,856.2 1780.3,850.8 1779.3,848 1777.9,846.4 1776,845.7 1773.5,844.8 1770,843.6 1765.5,842.3 1759.8,841.3 1759.8,841.3 1754.1,842.4 1749.6,844 1746.1,845.6 1743.6,846.9 1741.7,848.1 1740.3,850.4 1739.3,854.8 1738.5,862.6 1737.9,878.5 1737.4,883.8 1736.8,883.8 1736.3,878.5 1735.7,862.6 1734.9,854.8 1733.9,850.8 1732.5,848.5 1730.6,847.4 1728.1,846.2 1724.6,844.5 1720.1,842.7 1714.4,841.3 1714.5,841.3 1708.8,842.8 1704.3,844.9 1700.8,847 1698.3,848.7 1696.4,850.1 1695,853.1 1694,858.8 1693.2,868.7 1692.6,889.3 1692.1,896.2 1691.5,896.2 1691,889.3 1690.4,868.7 1689.6,858.8 1688.6,853.5 1687.2,850.5 1685.3,849.2 1682.8,847.5 1679.3,845.3 1674.8,843 1669.1,841.3 1669.1,841.3 1663.4,843.1 1658.9,845.7 1655.4,848.3 1652.9,850.3 1651,852.1 1649.6,855.7 1648.6,862.6 1647.8,874.7 1647.2,899.8 1646.7,908.2 1646.1,908.2 1645.6,899.8 1645,874.7 1644.2,862.6 1643.2,856.1 1641.8,852.4 1639.9,850.8 1637.4,848.8 1633.9,846.2 1629.4,843.4 1623.7,841.3 1623.7,841.3 1618,843.4 1613.5,846.5 1610,849.5 1607.5,851.9 1605.6,853.9 1604.2,858.2 1603.2,866.2 1602.4,880.4 1601.8,909.8 1601.3,919.6 1600.7,919.6 1600.2,909.8 1599.6,880.4 1598.8,866.2 1597.8,858.6 1596.4,854.3 1594.5,852.4 1592,850 1588.5,846.9 1584,843.7 1578.3,841.3 1578.3,841.3 1572.6,843.8 1568.1,847.3 1564.6,850.7 1562.1,853.5 1560.2,855.7 1558.8,860.6 1557.8,869.6 1557,885.9 1556.4,919.3 1555.9,930.5 1555.3,930.5 1554.8,919.3 1554.2,885.9 1553.4,869.6 1552.4,860.9 1551,856.1 1549.1,853.9 1546.6,851.1 1543.1,847.7 1538.6,844 1532.9,841.3 1532.9,841.3 1527.2,844.1 1522.7,848 1519.2,851.8 1516.7,854.9 1514.8,857.4 1513.4,862.8 1512.4,872.9 1511.6,891 1511,928.2 1510.5,940.6 1509.9,940.6 1509.4,928.2 1508.8,891 1508,872.9 1507,863.1 1505.6,857.7 1503.7,855.3 1501.2,852.2 1497.7,848.4 1493.2,844.3 1487.5,841.3 1487.5,841.3 1481.8,844.3 1477.3,848.7 1473.8,852.8 1471.3,856.2 1469.4,859 1468,864.9 1467,875.9 1466.2,895.7 1465.6,936.5 1465.1,950.1 1464.5,950.1 1464,936.5 1463.4,895.7 1462.6,875.9 1461.6,865.2 1460.2,859.3 1458.3,856.6 1455.8,853.2 1452.3,849 1447.8,844.5 1442.1,841.3 1442.2,841.3 1436.5,844.6 1432,849.3 1428.5,853.8 1426,857.4 1424.1,860.4 1422.7,866.8 1421.7,878.6 1420.9,900 1420.3,944 1419.8,958.6 1419.2,958.6 1418.7,944 1418.1,900 1417.3,878.6 1416.3,867 1414.9,860.7 1413,857.7 1410.5,854.1 1407,849.6 1402.5,844.8 1396.8,841.3 1396.8,841.3 1391.1,844.8 1386.6,849.8 1383.1,854.6 1380.6,858.5 1378.7,861.7 1377.3,868.5 1376.3,881 1375.5,903.8 1374.9,950.7 1374.4,966.3 1373.8,966.3 1373.3,950.7 1372.7,903.8 1371.9,881 1370.9,868.7 1369.5,861.9 1367.6,858.8 1365.1,854.9 1361.6,850.1 1357.1,845 1351.4,841.3 1351.4,841.3 1345.7,845 1341.2,850.3 1337.7,855.4 1335.2,859.4 1333.3,862.8 1331.9,870 1330.9,883.2 1330.1,907.2 1329.5,956.6 1329,973.1 1328.4,973.1 1327.9,956.6 1327.3,907.2 1326.5,883.2 1325.5,870.1 1324.1,863 1322.2,859.7 1319.7,855.6 1316.2,850.5 1311.7,845.2 1306,841.3 1306,841.3 1300.3,845.2 1295.8,850.7 1292.3,856 1289.8,860.3 1287.9,863.7 1286.5,871.2 1285.5,885 1284.7,910 1284.1,961.6 1283.6,978.8 1283,978.8 1282.5,961.6 1281.9,910 1281.1,885 1280.1,871.4 1278.7,863.9 1276.8,860.5 1274.3,856.2 1270.8,850.9 1266.3,845.3 1260.6,841.3 1260.6,841.3 1254.9,845.4 1250.4,851.1 1246.9,856.5 1244.4,860.9 1242.5,864.5 1241.1,872.3 1240.1,886.5 1239.3,912.4 1238.7,965.7 1238.2,983.5 1237.6,983.5 1237.1,965.7 1236.5,912.4 1235.7,886.5 1234.7,872.4 1233.3,864.7 1231.4,861.1 1228.9,856.7 1225.4,851.2 1220.9,845.5 1215.2,841.3 1215.2,841.3 1209.5,845.5 1205,851.3 1201.5,857 1199,861.5 1197.1,865.1 1195.7,873.1 1194.7,887.7 1193.9,914.2 1193.3,968.9 1192.8,987.1 1192.2,987.1 1191.7,968.9 1191.1,914.2 1190.3,887.7 1189.3,873.2 1187.9,865.2 1186,861.6 1183.5,857.1 1180,851.5 1175.5,845.6 1169.8,841.3 1169.9,841.3 1164.2,845.6 1159.7,851.5 1156.2,857.3 1153.7,861.8 1151.8,865.6 1150.4,873.6 1149.4,888.5 1148.6,915.5 1148,971.1 1147.5,989.6 1146.9,989.6 1146.4,971.1 1145.8,915.5 1145,888.5 1144,873.7 1142.6,865.6 1140.7,861.9 1138.2,857.3 1134.7,851.6 1130.2,845.6 1124.5,841.3 1124.5,841.3 1118.8,845.6 1114.3,851.7 1110.8,857.4 1108.3,862 1106.4,865.8 1105,873.9 1104,888.9 1103.2,916.1 1102.6,972.3 1102.1,991 1101.5,991 1101,972.3 1100.4,916.1 1099.6,888.9 1098.6,874 1097.2,865.8 1095.3,862.1 1092.8,857.5 1089.3,851.7 1084.8,845.6 1079.1,841.3 1079.1,841.3 1073.4,845.6 1068.9,851.7 1065.4,857.5 1062.9,862.1 1061,865.9 1059.6,874 1058.6,889 1057.8,916.3 1057.2,972.5 1056.7,991.3 1056.1,991.3 1055.6,972.5 1055,916.3 1054.2,889 1053.2,874 1051.8,865.8 1049.9,862.1 1047.4,857.5 1043.9,851.7 1039.4,845.6 1033.7,841.3 1033.7,841.3 1028,845.6 1023.5,851.7 1020,857.4 1017.5,862 1015.6,865.7 1014.2,873.8 1013.2,888.7 1012.4,915.8 1011.8,971.7 1011.3,990.3 1010.7,990.3 1010.2,971.7 1009.6,915.8 1008.8,888.7 1007.8,873.8 1006.4,865.7 1004.5,861.9 1002,857.3 998.5,851.6 994,845.6 988.3,841.3 988.3,841.3 982.6,845.6 978.1,851.5 974.6,857.2 972.1,861.7 970.2,865.4 968.8,873.4 967.8,888 967,914.8 966.4,969.9 965.9,988.3 965.3,988.3 964.8,969.9 964.2,914.8 963.4,888 962.4,873.3 961,865.3 959.1,861.6 956.6,857.1 953.1,851.4 948.6,845.5 942.9,841.3 942.9,841.3 937.2,845.5 932.7,851.3 929.2,856.9 926.7,861.3 924.8,864.9 923.4,872.7 922.4,887 921.6,913.2 921,967.2 920.5,985.1 919.9,985.1 919.4,967.2 918.8,913.2 918,887 917,872.6 915.6,864.8 913.7,861.2 911.2,856.7 907.7,851.2 903.2,845.4 897.5,841.3 897.6,841.3 891.9,845.4 887.4,851.1 883.9,856.5 881.4,860.7 879.5,864.2 878.1,871.8 877.1,885.7 876.3,911.1 875.7,963.4 875.2,980.9 874.6,980.9 874.1,963.4 873.5,911.1 872.7,885.7 871.7,871.7 870.3,864.1 868.4,860.6 865.9,856.2 862.4,850.9 857.9,845.3 852.2,841.3 852.2,841.3 846.5,845.2 842,850.7 838.5,855.9 836,860 834.1,863.4 832.7,870.7 831.7,884 830.9,908.4 830.3,958.8 829.8,975.6 829.2,975.6 828.7,958.8 828.1,908.4 827.3,884 826.3,870.5 824.9,863.2 823,859.8 820.5,855.7 817,850.5 812.5,845.1 806.8,841.3 806.8,841.3 801.1,845.1 796.6,850.3 793.1,855.2 790.6,859.2 788.7,862.4 787.3,869.3 786.3,882 785.5,905.3 784.9,953.2 784.4,969.2 783.8,969.2 783.3,953.2 782.7,905.3 781.9,882 780.9,869.1 779.5,862.1 777.6,858.9 775.1,854.9 771.6,850 767.1,844.9 761.4,841.3 761.4,841.3 755.7,844.9 751.2,849.8 747.7,854.5 745.2,858.2 743.3,861.2 741.9,867.7 740.9,879.6 740.1,901.6 739.5,946.8 739,961.9 738.4,961.9 737.9,946.8 737.3,901.6 736.5,879.6 735.5,867.5 734.1,860.9 732.2,857.9 729.7,854.1 726.2,849.5 721.7,844.7 716,841.3 716,841.3 710.3,844.6 705.8,849.2 702.3,853.6 699.8,857.1 697.9,859.8 696.5,866 695.5,877 694.7,897.5 694.1,939.6 693.6,953.7 693,953.7 692.5,939.6 691.9,897.5 691.1,877 690.1,865.7 688.7,859.6 686.8,856.7 684.3,853.2 680.8,848.9 676.3,844.5 670.6,841.3 670.6,841.3 664.9,844.4 660.4,848.6 656.9,852.6 654.4,855.8 652.5,858.4 651.1,864 650.1,874.1 649.3,892.9 648.7,931.7 648.2,944.6 647.6,944.6 647.1,931.7 646.5,892.9 645.7,874.1 644.7,863.7 643.3,858.1 641.4,855.4 638.9,852.2 635.4,848.3 630.9,844.2 625.2,841.3 625.3,841.3 619.6,844.1 615.1,848 611.6,851.6 609.1,854.5 607.2,856.8 605.8,861.8 604.8,871 604,888 603.4,923.1 602.9,934.7 602.3,934.7 601.8,923.1 601.2,888 600.4,871 599.4,861.5 598,856.4 596.1,854.1 593.6,851.2 590.1,847.6 585.6,843.9 579.9,841.3 579.9,841.3 574.2,843.8 569.7,847.2 566.2,850.5 563.7,853 561.8,855 560.4,859.5 559.4,867.6 558.6,882.7 558,913.8 557.5,924.2 556.9,924.2 556.4,913.8 555.8,882.7 555,867.6 554,859.2 552.6,854.7 550.7,852.6 548.2,850 544.7,846.8 540.2,843.6 534.5,841.3 534.5,841.3 528.8,843.5 524.3,846.5 520.8,849.3 518.3,851.5 516.4,853.2 515,857.1 514,864.1 513.2,877.1 512.6,904 512.1,912.9 511.5,912.9 511,904 510.4,877.1 509.6,864.1 508.6,856.8 507.2,852.8 505.3,851 502.8,848.8 499.3,846 494.8,843.2 489.1,841.3 489.1,841.3 483.4,843.2 478.9,845.7 475.4,848 472.9,849.8 471,851.3 469.6,854.5 468.6,860.3 467.8,871.2 467.2,893.7 466.7,901.2 466.1,901.2 465.6,893.7 465,871.2 464.2,860.3 463.2,854.2 461.8,850.9 459.9,849.4 457.4,847.5 453.9,845.2 449.4,842.9 443.7,841.3 443.7,841.3 438,842.8 433.5,844.8 430,846.7 427.5,848.2 425.6,849.3 424.2,851.9 423.2,856.5 422.4,865.1 421.8,883 421.3,889 420.7,889 420.2,883 419.6,865.1 418.8,856.5 417.8,851.5 416.4,848.9 414.5,847.7 412,846.2 408.5,844.4 404,842.5 398.3,841.3 398.3,841.3 392.6,842.5 388.1,844 384.6,845.4 382.1,846.4 380.2,847.3 378.8,849.2 377.8,852.5 377,858.8 376.4,872 375.9,876.4 375.3,876.4 374.8,872 374.2,858.8 373.4,852.5 372.4,848.8 371,846.8 369.1,845.9 366.6,844.8 363.1,843.5 358.6,842.2 352.9,841.3 353,841.3 347.3,842.1 342.8,843.1 339.3,844 336.8,844.6 334.9,845.2 333.5,846.4 332.5,848.4 331.7,852.4 331.1,860.8 330.6,863.5 330,863.5 329.5,860.8 328.9,852.4 328.1,848.4 327.1,846 325.7,844.7 323.8,844.1 321.3,843.4 317.8,842.6 313.3,841.8 307.6,841.3 307.6,841.3 301.9,841.7 297.4,842.2 293.9,842.6 291.4,842.8 289.5,843 288.1,843.5 287.1,844.2 286.3,845.9 285.7,849.4 285.2,850.5 284.6,850.5 284.1,849.4 283.5,845.9 282.7,844.2 281.7,843.1 280.3,842.6 278.4,842.3 275.9,842 272.4,841.7 267.9,841.4 262.2,841.3Z" fill="#008000" stroke="#008000" stroke-width="2.3" stroke-linejoin="round"/>
<path d="M239.1,841.3 244.8,841.3 249.3,841.3 252.8,841.3 255.3,841.3 257.2,841.3 258.6,841.3 259.6,841.3 260.4,841.3 261,841.3 261.5,841.3 262.1,841.3 262.6,841.3 263.2,841.3 264,841.3 265,841.3 266.4,841.3 268.3,841.3 270.8,841.3 274.3,841.2 278.8,841.2 284.5,841.3 284.5,841.3 290.2,841.1 294.7,840.8 298.2,840.5 300.7,840.1 302.6,839.8 304,839.2 305,838 305.8,836.1 306.4,832.3 306.9,831 307.5,831 308,832.3 308.6,836.1 309.4,838 310.4,838.8 311.8,839.4 313.7,839.6 316.2,839.9 319.7,840.3 324.2,840.9 329.9,841.3 329.9,841.3 335.6,840.8 340.1,839.9 343.6,839.1 346.1,838.3 348,837.7 349.4,836.4 350.4,833.9 351.2,829.6 351.8,820.9 352.3,818 352.9,818 353.4,820.9 354,829.6 354.8,833.9 355.8,836 357.2,837.3 359.1,837.8 361.6,838.5 365.1,839.4 369.6,840.5 375.3,841.3 375.3,841.3 381,840.4 385.5,839 389,837.7 391.5,836.5 393.4,835.6 394.8,833.6 395.8,829.8 396.6,823.2 397.2,809.7 397.7,805.1 398.3,805.1 398.8,809.7 399.4,823.2 400.2,829.8 401.2,833.2 402.6,835.2 404.5,836 407,837.1 410.5,838.6 415,840.1 420.7,841.3 420.7,841.3 426.4,840 430.9,838.2 434.4,836.3 436.9,834.8 438.8,833.5 440.2,830.9 441.2,825.8 442,816.9 442.6,798.7 443.1,792.6 443.7,792.6 444.2,798.7 444.8,816.9 445.6,825.8 446.6,830.5 448,833.1 449.9,834.3 452.4,835.8 455.9,837.7 460.4,839.8 466.1,841.3 466,841.3 471.7,839.7 476.2,837.3 479.7,835 482.2,833.1 484.1,831.5 485.5,828.2 486.5,821.9 487.3,810.9 487.9,788 488.4,780.4 489,780.4 489.5,788 490.1,810.9 490.9,821.9 491.9,827.8 493.3,831.1 495.2,832.6 497.7,834.5 501.2,836.9 505.7,839.4 511.4,841.3 511.4,841.3 517.1,839.3 521.6,836.5 525.1,833.7 527.6,831.5 529.5,829.6 530.9,825.6 531.9,818.2 532.7,805 533.3,777.8 533.8,768.7 534.4,768.7 534.9,777.8 535.5,805 536.3,818.2 537.3,825.3 538.7,829.2 540.6,831 543.1,833.2 546.6,836.1 551.1,839.1 556.8,841.3 556.8,841.3 562.5,839 567,835.7 570.5,832.5 573,829.9 574.9,827.8 576.3,823.2 577.3,814.7 578.1,799.4 578.7,768 579.2,757.5 579.8,757.5 580.3,768 580.9,799.4 581.7,814.7 582.7,822.9 584.1,827.4 586,829.5 588.5,832 592,835.3 596.5,838.8 602.2,841.3 602.2,841.3 607.9,838.7 612.4,835 615.9,831.4 618.4,828.4 620.3,826 621.7,820.9 622.7,811.3 623.5,794.2 624.1,758.8 624.6,747 625.2,747 625.7,758.8 626.3,794.2 627.1,811.3 628.1,820.6 629.5,825.7 631.4,828 633.9,830.9 637.4,834.6 641.9,838.5 647.6,841.3 647.6,841.3 653.3,838.4 657.8,834.3 661.3,830.3 663.8,827.1 665.7,824.4 667.1,818.7 668.1,808.2 668.9,789.3 669.5,750.2 670,737.2 670.6,737.2 671.1,750.2 671.7,789.3 672.5,808.2 673.5,818.4 674.9,824.1 676.8,826.7 679.3,829.9 682.8,833.9 687.3,838.2 693,841.3 693,841.3 698.7,838.1 703.2,833.6 706.7,829.3 709.2,825.8 711.1,822.9 712.5,816.8 713.5,805.3 714.3,784.8 714.9,742.3 715.4,728.2 716,728.2 716.5,742.3 717.1,784.8 717.9,805.3 718.9,816.5 720.3,822.6 722.2,825.4 724.7,828.9 728.2,833.3 732.7,837.9 738.4,841.3 738.3,841.3 744,837.9 748.5,833 752,828.4 754.5,824.6 756.4,821.6 757.8,815 758.8,802.7 759.6,780.7 760.2,735.2 760.7,720 761.3,720 761.8,735.2 762.4,780.7 763.2,802.7 764.2,814.7 765.6,821.3 767.5,824.3 770,828.1 773.5,832.8 778,837.7 783.7,841.3 783.7,841.3 789.4,837.7 793.9,832.5 797.4,827.6 799.9,823.6 801.8,820.4 803.2,813.4 804.2,800.4 805,777.1 805.6,728.9 806.1,712.8 806.7,712.8 807.2,728.9 807.8,777.1 808.6,800.4 809.6,813.2 811,820.1 812.9,823.3 815.4,827.3 818.9,832.3 823.4,837.5 829.1,841.3 829.1,841.3 834.8,837.5 839.3,832.1 842.8,826.9 845.3,822.7 847.2,819.3 848.6,812 849.6,798.5 850.4,773.9 851,723.4 851.5,706.5 852.1,706.5 852.6,723.4 853.2,773.9 854,798.5 855,811.8 856.4,819.1 858.3,822.5 860.8,826.6 864.3,831.9 868.8,837.3 874.5,841.3 874.5,841.3 880.2,837.3 884.7,831.7 888.2,826.3 890.7,822 892.6,818.5 894,810.8 895,796.8 895.8,771.3 896.4,718.8 896.9,701.3 897.5,701.3 898,718.8 898.6,771.3 899.4,796.8 900.4,810.7 901.8,818.3 903.7,821.8 906.2,826.1 909.7,831.5 914.2,837.2 919.9,841.3 919.9,841.3 925.6,837.2 930.1,831.4 933.6,825.8 936.1,821.4 938,817.8 939.4,809.9 940.4,795.5 941.2,769.2 941.8,715.2 942.3,697.1 942.9,697.1 943.4,715.2 944,769.2 944.8,795.5 945.8,809.8 947.2,817.6 949.1,821.2 951.6,825.7 955.1,831.2 959.6,837.1 965.3,841.3 965.3,841.3 971,837.1 975.5,831.2 979,825.5 981.5,820.9 983.4,817.2 984.8,809.2 985.8,794.5 986.6,767.7 987.2,712.5 987.7,694.1 988.3,694.1 988.8,712.5 989.4,767.7 990.2,794.5 991.2,809.1 992.6,817.2 994.5,820.8 997,825.4 1000.5,831.1 1005,837 1010.7,841.3 1010.6,841.3 1016.3,837 1020.8,831 1024.3,825.2 1026.8,820.6 1028.7,816.9 1030.1,808.8 1031.1,793.9 1031.9,766.7 1032.5,710.8 1033,692.1 1033.6,692.1 1034.1,710.8 1034.7,766.7 1035.5,793.9 1036.5,808.7 1037.9,816.9 1039.8,820.6 1042.3,825.2 1045.8,830.9 1050.3,837 1056,841.3 1056,841.3 1061.7,837 1066.2,830.9 1069.7,825.1 1072.2,820.5 1074.1,816.7 1075.5,808.6 1076.5,793.6 1077.3,766.3 1077.9,710.1 1078.4,691.3 1079,691.3 1079.5,710.1 1080.1,766.3 1080.9,793.6 1081.9,808.6 1083.3,816.7 1085.2,820.5 1087.7,825.1 1091.2,830.9 1095.7,837 1101.4,841.3 1101.4,841.3 1107.1,837 1111.6,830.9 1115.1,825.1 1117.6,820.5 1119.5,816.8 1120.9,808.6 1121.9,793.7 1122.7,766.5 1123.3,710.4 1123.8,691.7 1124.4,691.7 1124.9,710.4 1125.5,766.5 1126.3,793.7 1127.3,808.7 1128.7,816.8 1130.6,820.6 1133.1,825.2 1136.6,831 1141.1,837 1146.8,841.3 1146.8,841.3 1152.5,837 1157,831 1160.5,825.3 1163,820.7 1164.9,817 1166.3,808.9 1167.3,794.2 1168.1,767.2 1168.7,711.7 1169.2,693.1 1169.8,693.1 1170.3,711.7 1170.9,767.2 1171.7,794.2 1172.7,809 1174.1,817.1 1176,820.8 1178.5,825.4 1182,831.1 1186.5,837 1192.2,841.3 1192.2,841.3 1197.9,837.1 1202.4,831.2 1205.9,825.5 1208.4,821.1 1210.3,817.4 1211.7,809.5 1212.7,795 1213.5,768.5 1214.1,713.9 1214.6,695.7 1215.2,695.7 1215.7,713.9 1216.3,768.5 1217.1,795 1218.1,809.6 1219.5,817.5 1221.4,821.2 1223.9,825.7 1227.4,831.3 1231.9,837.1 1237.6,841.3 1237.6,841.3 1243.3,837.2 1247.8,831.4 1251.3,825.9 1253.8,821.5 1255.7,818 1257.1,810.3 1258.1,796.2 1258.9,770.4 1259.5,717.2 1260,699.4 1260.6,699.4 1261.1,717.2 1261.7,770.4 1262.5,796.2 1263.5,810.4 1264.9,818.1 1266.8,821.7 1269.3,826.1 1272.8,831.6 1277.3,837.2 1283,841.3 1282.9,841.3 1288.6,837.3 1293.1,831.7 1296.6,826.4 1299.1,822.2 1301,818.8 1302.4,811.3 1303.4,797.7 1304.2,772.8 1304.8,721.4 1305.3,704.2 1305.9,704.2 1306.4,721.4 1307,772.8 1307.8,797.7 1308.8,811.5 1310.2,818.9 1312.1,822.4 1314.6,826.6 1318.1,831.9 1322.6,837.4 1328.3,841.3 1328.3,841.3 1334,837.4 1338.5,832.1 1342,827 1344.5,823 1346.4,819.7 1347.8,812.6 1348.8,799.6 1349.6,775.7 1350.2,726.5 1350.7,710 1351.3,710 1351.8,726.5 1352.4,775.7 1353.2,799.6 1354.2,812.8 1355.6,819.9 1357.5,823.2 1360,827.3 1363.5,832.3 1368,837.6 1373.7,841.3 1373.7,841.3 1379.4,837.6 1383.9,832.5 1387.4,827.7 1389.9,823.9 1391.8,820.8 1393.2,814 1394.2,801.7 1395,779.1 1395.6,732.4 1396.1,716.9 1396.7,716.9 1397.2,732.4 1397.8,779.1 1398.6,801.7 1399.6,814.3 1401,821 1402.9,824.2 1405.4,828 1408.9,832.8 1413.4,837.8 1419.1,841.3 1419.1,841.3 1424.8,837.8 1429.3,833.1 1432.8,828.5 1435.3,825 1437.2,822.1 1438.6,815.7 1439.6,804.2 1440.4,783 1441,739.2 1441.5,724.6 1442.1,724.6 1442.6,739.2 1443.2,783 1444,804.2 1445,816 1446.4,822.3 1448.3,825.3 1450.8,828.9 1454.3,833.4 1458.8,838 1464.5,841.3 1464.5,841.3 1470.2,838.1 1474.7,833.6 1478.2,829.5 1480.7,826.1 1482.6,823.5 1484,817.6 1485,807 1485.8,787.3 1486.4,746.8 1486.9,733.3 1487.5,733.3 1488,746.8 1488.6,787.3 1489.4,807 1490.4,817.9 1491.8,823.8 1493.7,826.5 1496.2,829.9 1499.7,834 1504.2,838.3 1509.9,841.3 1509.9,841.3 1515.6,838.3 1520.1,834.3 1523.6,830.5 1526.1,827.4 1528,825 1529.4,819.7 1530.4,810 1531.2,792.1 1531.8,755.1 1532.3,742.8 1532.9,742.8 1533.4,755.1 1534,792.1 1534.8,810 1535.8,820 1537.2,825.3 1539.1,827.8 1541.6,830.9 1545.1,834.7 1549.6,838.6 1555.3,841.3 1555.2,841.3 1560.9,838.6 1565.4,835 1568.9,831.6 1571.4,828.9 1573.3,826.7 1574.7,821.9 1575.7,813.2 1576.5,797.2 1577.1,764.1 1577.6,753 1578.2,753 1578.7,764.1 1579.3,797.2 1580.1,813.2 1581.1,822.2 1582.5,827 1584.4,829.3 1586.9,832 1590.4,835.4 1594.9,838.9 1600.6,841.3 1600.6,841.3 1606.3,838.9 1610.8,835.7 1614.3,832.7 1616.8,830.4 1618.7,828.4 1620.1,824.3 1621.1,816.7 1621.9,802.6 1622.5,773.6 1623,763.9 1623.6,763.9 1624.1,773.6 1624.7,802.6 1625.5,816.7 1626.5,824.6 1627.9,828.8 1629.8,830.8 1632.3,833.2 1635.8,836.2 1640.3,839.2 1646,841.3 1646,841.3 1651.7,839.3 1656.2,836.5 1659.7,833.9 1662.2,831.9 1664.1,830.3 1665.5,826.7 1666.5,820.4 1667.3,808.4 1667.9,783.7 1668.4,775.4 1669,775.4 1669.5,783.7 1670.1,808.4 1670.9,820.4 1671.9,827.1 1673.3,830.7 1675.2,832.4 1677.7,834.4 1681.2,837 1685.7,839.5 1691.4,841.3 1691.4,841.3 1697.1,839.6 1701.6,837.3 1705.1,835.2 1707.6,833.6 1709.5,832.3 1710.9,829.4 1711.9,824.2 1712.7,814.4 1713.3,794.2 1713.8,787.4 1714.4,787.4 1714.9,794.2 1715.5,814.4 1716.3,824.2 1717.3,829.7 1718.7,832.7 1720.6,834.1 1723.1,835.8 1726.6,837.8 1731.1,839.9 1736.8,841.3 1736.8,841.3 1742.5,840 1747,838.2 1750.5,836.6 1753,835.3 1754.9,834.3 1756.3,832.1 1757.3,828.1 1758.1,820.6 1758.7,805 1759.2,799.8 1759.8,799.8 1760.3,805 1760.9,820.6 1761.7,828.1 1762.7,832.4 1764.1,834.7 1766,835.8 1768.5,837.1 1772,838.7 1776.5,840.2 1782.2,841.3 1782.2,841.3 1787.9,840.3 1792.4,839.1 1795.9,837.9 1798.4,837.1 1800.3,836.4 1801.7,834.8 1802.7,832.2 1803.5,826.9 1804.1,816.1 1804.6,812.6 1805.2,812.6 1805.7,816.1 1806.3,826.9 1807.1,832.2 1808.1,835.2 1809.5,836.8 1811.4,837.6 1813.9,838.5 1817.4,839.6 1821.9,840.6 1827.6,841.3 1827.5,841.3 1833.2,840.7 1837.7,840 1841.2,839.3 1843.7,838.8 1845.6,838.5 1847,837.7 1848,836.3 1848.8,833.4 1849.4,827.5 1849.9,825.5 1850.5,825.5 1851,827.5 1851.6,833.4 1852.4,836.3 1853.4,838.1 1854.8,838.9 1856.7,839.4 1859.2,839.9 1862.7,840.5 1867.2,841 1872.9,841.3 1872.9,841.3 1878.6,841.1 1883.1,840.9 1886.6,840.7 1889.1,840.7 1891,840.6 1892.4,840.5 1893.4,840.4 1894.2,839.9 1894.8,838.9 1895.3,838.6 1895.9,838.6 1896.4,838.9 1897,839.9 1897.8,840.4 1898.8,840.9 1900.2,841.1 1902.1,841.2 1904.6,841.3 1908.1,841.3 1912.6,841.3 1918.3,841.3L1918.3,841.3 1912.6,841.3 1908.1,841.3 1904.6,841.3 1902.1,841.4 1900.2,841.5 1898.8,841.7 1897.8,842.2 1897,842.7 1896.4,843.7 1895.9,844 1895.3,844 1894.8,843.7 1894.2,842.7 1893.4,842.2 1892.4,842.1 1891,842 1889.1,841.9 1886.6,841.9 1883.1,841.7 1878.6,841.5 1872.9,841.3 1872.9,841.3 1867.2,841.6 1862.7,842.1 1859.2,842.7 1856.7,843.2 1854.8,843.7 1853.4,844.5 1852.4,846.3 1851.6,849.2 1851,855.1 1850.5,857.1 1849.9,857.1 1849.4,855.1 1848.8,849.2 1848,846.3 1847,844.9 1845.6,844.1 1843.7,843.8 1841.2,843.3 1837.7,842.6 1833.2,841.9 1827.5,841.3 1827.6,841.3 1821.9,842 1817.4,843 1813.9,844.1 1811.4,845 1809.5,845.8 1808.1,847.4 1807.1,850.4 1806.3,855.7 1805.7,866.5 1805.2,870 1804.6,870 1804.1,866.5 1803.5,855.7 1802.7,850.4 1801.7,847.8 1800.3,846.2 1798.4,845.5 1795.9,844.7 1792.4,843.5 1787.9,842.3 1782.2,841.3 1782.2,841.3 1776.5,842.4 1772,843.9 1768.5,845.5 1766,846.8 1764.1,847.9 1762.7,850.2 1761.7,854.5 1760.9,862 1760.3,877.6 1759.8,882.8 1759.2,882.8 1758.7,877.6 1758.1,862 1757.3,854.5 1756.3,850.5 1754.9,848.3 1753,847.3 1750.5,846 1747,844.4 1742.5,842.6 1736.8,841.3 1736.8,841.3 1731.1,842.7 1726.6,844.8 1723.1,846.8 1720.6,848.5 1718.7,849.9 1717.3,852.9 1716.3,858.4 1715.5,868.2 1714.9,888.4 1714.4,895.2 1713.8,895.2 1713.3,888.4 1712.7,868.2 1711.9,858.4 1710.9,853.2 1709.5,850.3 1707.6,849 1705.1,847.4 1701.6,845.3 1697.1,843 1691.4,841.3 1691.4,841.3 1685.7,843.1 1681.2,845.6 1677.7,848.2 1675.2,850.2 1673.3,851.9 1671.9,855.5 1670.9,862.2 1670.1,874.2 1669.5,898.9 1669,907.2 1668.4,907.2 1667.9,898.9 1667.3,874.2 1666.5,862.2 1665.5,855.9 1664.1,852.3 1662.2,850.7 1659.7,848.7 1656.2,846.1 1651.7,843.3 1646,841.3 1646,841.3 1640.3,843.4 1635.8,846.4 1632.3,849.4 1629.8,851.8 1627.9,853.8 1626.5,858 1625.5,865.9 1624.7,880 1624.1,909 1623.6,918.7 1623,918.7 1622.5,909 1621.9,880 1621.1,865.9 1620.1,858.3 1618.7,854.2 1616.8,852.2 1614.3,849.9 1610.8,846.9 1606.3,843.7 1600.6,841.3 1600.6,841.3 1594.9,843.7 1590.4,847.2 1586.9,850.6 1584.4,853.3 1582.5,855.6 1581.1,860.4 1580.1,869.4 1579.3,885.4 1578.7,918.5 1578.2,929.6 1577.6,929.6 1577.1,918.5 1576.5,885.4 1575.7,869.4 1574.7,860.7 1573.3,855.9 1571.4,853.7 1568.9,851 1565.4,847.6 1560.9,844 1555.2,841.3 1555.3,841.3 1549.6,844 1545.1,847.9 1541.6,851.7 1539.1,854.8 1537.2,857.3 1535.8,862.6 1534.8,872.6 1534,890.5 1533.4,927.5 1532.9,939.8 1532.3,939.8 1531.8,927.5 1531.2,890.5 1530.4,872.6 1529.4,862.9 1528,857.6 1526.1,855.2 1523.6,852.1 1520.1,848.3 1515.6,844.3 1509.9,841.3 1509.9,841.3 1504.2,844.3 1499.7,848.6 1496.2,852.7 1493.7,856.1 1491.8,858.8 1490.4,864.7 1489.4,875.6 1488.6,895.3 1488,935.8 1487.5,949.3 1486.9,949.3 1486.4,935.8 1485.8,895.3 1485,875.6 1484,865 1482.6,859.1 1480.7,856.5 1478.2,853.1 1474.7,849 1470.2,844.5 1464.5,841.3 1464.5,841.3 1458.8,844.6 1454.3,849.2 1450.8,853.7 1448.3,857.3 1446.4,860.3 1445,866.6 1444,878.4 1443.2,899.6 1442.6,943.4 1442.1,958 1441.5,958 1441,943.4 1440.4,899.6 1439.6,878.4 1438.6,866.9 1437.2,860.5 1435.3,857.6 1432.8,854.1 1429.3,849.5 1424.8,844.8 1419.1,841.3 1419.1,841.3 1413.4,844.8 1408.9,849.8 1405.4,854.6 1402.9,858.4 1401,861.6 1399.6,868.3 1398.6,880.9 1397.8,903.5 1397.2,950.2 1396.7,965.7 1396.1,965.7 1395.6,950.2 1395,903.5 1394.2,880.9 1393.2,868.6 1391.8,861.8 1389.9,858.7 1387.4,854.9 1383.9,850.1 1379.4,845 1373.7,841.3 1373.7,841.3 1368,845 1363.5,850.3 1360,855.3 1357.5,859.4 1355.6,862.7 1354.2,869.8 1353.2,883 1352.4,906.9 1351.8,956.1 1351.3,972.6 1350.7,972.6 1350.2,956.1 1349.6,906.9 1348.8,883 1347.8,870 1346.4,862.9 1344.5,859.6 1342,855.6 1338.5,850.5 1334,845.2 1328.3,841.3 1328.3,841.3 1322.6,845.2 1318.1,850.7 1314.6,856 1312.1,860.2 1310.2,863.7 1308.8,871.1 1307.8,884.9 1307,909.8 1306.4,961.2 1305.9,978.4 1305.3,978.4 1304.8,961.2 1304.2,909.8 1303.4,884.9 1302.4,871.3 1301,863.8 1299.1,860.4 1296.6,856.2 1293.1,850.9 1288.6,845.3 1282.9,841.3 1283,841.3 1277.3,845.4 1272.8,851 1269.3,856.5 1266.8,860.9 1264.9,864.5 1263.5,872.2 1262.5,886.4 1261.7,912.2 1261.1,965.4 1260.6,983.2 1260,983.2 1259.5,965.4 1258.9,912.2 1258.1,886.4 1257.1,872.3 1255.7,864.6 1253.8,861.1 1251.3,856.7 1247.8,851.2 1243.3,845.4 1237.6,841.3 1237.6,841.3 1231.9,845.5 1227.4,851.3 1223.9,856.9 1221.4,861.4 1219.5,865.1 1218.1,873 1217.1,887.6 1216.3,914.1 1215.7,968.7 1215.2,986.9 1214.6,986.9 1214.1,968.7 1213.5,914.1 1212.7,887.6 1211.7,873.1 1210.3,865.2 1208.4,861.5 1205.9,857.1 1202.4,851.4 1197.9,845.5 1192.2,841.3 1192.2,841.3 1186.5,845.6 1182,851.5 1178.5,857.2 1176,861.8 1174.1,865.5 1172.7,873.6 1171.7,888.4 1170.9,915.4 1170.3,970.9 1169.8,989.5 1169.2,989.5 1168.7,970.9 1168.1,915.4 1167.3,888.4 1166.3,873.7 1164.9,865.6 1163,861.9 1160.5,857.3 1157,851.6 1152.5,845.6 1146.8,841.3 1146.8,841.3 1141.1,845.6 1136.6,851.6 1133.1,857.4 1130.6,862 1128.7,865.8 1127.3,873.9 1126.3,888.9 1125.5,916.1 1124.9,972.2 1124.4,990.9 1123.8,990.9 1123.3,972.2 1122.7,916.1 1121.9,888.9 1120.9,874 1119.5,865.8 1117.6,862.1 1115.1,857.5 1111.6,851.7 1107.1,845.6 1101.4,841.3 1101.4,841.3 1095.7,845.6 1091.2,851.7 1087.7,857.5 1085.2,862.1 1083.3,865.9 1081.9,874 1080.9,889 1080.1,916.3 1079.5,972.5 1079,991.3 1078.4,991.3 1077.9,972.5 1077.3,916.3 1076.5,889 1075.5,874 1074.1,865.9 1072.2,862.1 1069.7,857.5 1066.2,851.7 1061.7,845.6 1056,841.3 1056,841.3 1050.3,845.6 1045.8,851.7 1042.3,857.4 1039.8,862 1037.9,865.7 1036.5,873.9 1035.5,888.7 1034.7,915.9 1034.1,971.8 1033.6,990.5 1033,990.5 1032.5,971.8 1031.9,915.9 1031.1,888.7 1030.1,873.8 1028.7,865.7 1026.8,862 1024.3,857.4 1020.8,851.6 1016.3,845.6 1010.6,841.3 1010.7,841.3 1005,845.6 1000.5,851.5 997,857.2 994.5,861.8 992.6,865.4 991.2,873.5 990.2,888.1 989.4,914.9 988.8,970.1 988.3,988.5 987.7,988.5 987.2,970.1 986.6,914.9 985.8,888.1 984.8,873.4 983.4,865.4 981.5,861.7 979,857.1 975.5,851.4 971,845.5 965.3,841.3 965.3,841.3 959.6,845.5 955.1,851.4 951.6,856.9 949.1,861.4 947.2,865 945.8,872.8 944.8,887.1 944,913.4 943.4,967.4 942.9,985.5 942.3,985.5 941.8,967.4 941.2,913.4 940.4,887.1 939.4,872.7 938,864.8 936.1,861.2 933.6,856.8 930.1,851.2 925.6,845.4 919.9,841.3 919.9,841.3 914.2,845.4 909.7,851.1 906.2,856.5 903.7,860.8 901.8,864.3 900.4,871.9 899.4,885.8 898.6,911.3 898,963.8 897.5,981.3 896.9,981.3 896.4,963.8 895.8,911.3 895,885.8 894,871.8 892.6,864.1 890.7,860.6 888.2,856.3 884.7,850.9 880.2,845.3 874.5,841.3 874.5,841.3 868.8,845.3 864.3,850.7 860.8,856 858.3,860.1 856.4,863.5 855,870.8 854,884.1 853.2,908.7 852.6,959.2 852.1,976.1 851.5,976.1 851,959.2 850.4,908.7 849.6,884.1 848.6,870.6 847.2,863.3 845.3,859.9 842.8,855.7 839.3,850.5 834.8,845.1 829.1,841.3 829.1,841.3 823.4,845.1 818.9,850.3 815.4,855.3 812.9,859.3 811,862.5 809.6,869.4 808.6,882.2 807.8,905.5 807.2,953.7 806.7,969.8 806.1,969.8 805.6,953.7 805,905.5 804.2,882.2 803.2,869.2 801.8,862.2 799.9,859 797.4,855 793.9,850.1 789.4,844.9 783.7,841.3 783.7,841.3 778,844.9 773.5,849.8 770,854.5 767.5,858.3 765.6,861.3 764.2,867.9 763.2,879.9 762.4,901.9 761.8,947.4 761.3,962.6 760.7,962.6 760.2,947.4 759.6,901.9 758.8,879.9 757.8,867.6 756.4,861 754.5,858 752,854.2 748.5,849.6 744,844.7 738.3,841.3 738.4,841.3 732.7,844.7 728.2,849.3 724.7,853.7 722.2,857.2 720.3,860 718.9,866.1 717.9,877.3 717.1,897.8 716.5,940.3 716,954.4 715.4,954.4 714.9,940.3 714.3,897.8 713.5,877.3 712.5,865.8 711.1,859.7 709.2,856.8 706.7,853.3 703.2,849 698.7,844.5 693,841.3 693,841.3 687.3,844.4 682.8,848.7 679.3,852.7 676.8,855.9 674.9,858.5 673.5,864.2 672.5,874.4 671.7,893.3 671.1,932.4 670.6,945.4 670,945.4 669.5,932.4 668.9,893.3 668.1,874.4 667.1,863.9 665.7,858.2 663.8,855.5 661.3,852.3 657.8,848.3 653.3,844.2 647.6,841.3 647.6,841.3 641.9,844.1 637.4,848 633.9,851.7 631.4,854.6 629.5,856.9 628.1,862 627.1,871.3 626.3,888.4 625.7,923.8 625.2,935.6 624.6,935.6 624.1,923.8 623.5,888.4 622.7,871.3 621.7,861.7 620.3,856.6 618.4,854.2 615.9,851.2 612.4,847.6 607.9,843.9 602.2,841.3 602.2,841.3 596.5,843.8 592,847.3 588.5,850.6 586,853.1 584.1,855.2 582.7,859.7 581.7,867.9 580.9,883.2 580.3,914.6 579.8,925.1 579.2,925.1 578.7,914.6 578.1,883.2 577.3,867.9 576.3,859.4 574.9,854.8 573,852.7 570.5,850.1 567,846.9 562.5,843.6 556.8,841.3 556.8,841.3 551.1,843.5 546.6,846.5 543.1,849.4 540.6,851.6 538.7,853.4 537.3,857.3 536.3,864.4 535.5,877.6 534.9,904.8 534.4,913.9 533.8,913.9 533.3,904.8 532.7,877.6 531.9,864.4 530.9,857 529.5,853 527.6,851.1 525.1,848.9 521.6,846.1 517.1,843.3 511.4,841.3 511.4,841.3 505.7,843.2 501.2,845.7 497.7,848.1 495.2,850 493.3,851.5 491.9,854.8 490.9,860.7 490.1,871.7 489.5,894.6 489,902.2 488.4,902.2 487.9,894.6 487.3,871.7 486.5,860.7 485.5,854.4 484.1,851.1 482.2,849.5 479.7,847.6 476.2,845.3 471.7,842.9 466,841.3 466.1,841.3 460.4,842.8 455.9,844.9 452.4,846.8 449.9,848.3 448,849.5 446.6,852.1 445.6,856.8 444.8,865.7 444.2,883.9 443.7,890 443.1,890 442.6,883.9 442,865.7 441.2,856.8 440.2,851.7 438.8,849.1 436.9,847.8 434.4,846.3 430.9,844.4 426.4,842.6 420.7,841.3 420.7,841.3 415,842.5 410.5,844 407,845.5 404.5,846.6 402.6,847.4 401.2,849.4 400.2,852.8 399.4,859.4 398.8,872.9 398.3,877.5 397.7,877.5 397.2,872.9 396.6,859.4 395.8,852.8 394.8,849 393.4,847 391.5,846.1 389,844.9 385.5,843.6 381,842.2 375.3,841.3 375.3,841.3 369.6,842.1 365.1,843.2 361.6,844.1 359.1,844.8 357.2,845.3 355.8,846.6 354.8,848.7 354,853 353.4,861.7 352.9,864.6 352.3,864.6 351.8,861.7 351.2,853 350.4,848.7 349.4,846.2 348,844.9 346.1,844.3 343.6,843.5 340.1,842.7 335.6,841.8 329.9,841.3 329.9,841.3 324.2,841.7 319.7,842.3 316.2,842.7 313.7,843 311.8,843.2 310.4,843.8 309.4,844.6 308.6,846.5 308,850.3 307.5,851.6 306.9,851.6 306.4,850.3 305.8,846.5 305,844.6 304,843.4 302.6,842.8 300.7,842.5 298.2,842.1 294.7,841.8 290.2,841.5 284.5,841.3 284.5,841.3 278.8,841.4 274.3,841.4 270.8,841.3 268.3,841.3 266.4,841.3 265,841.3 264,841.3 263.2,841.3 262.6,841.3 262.1,841.3 261.5,841.3 261,841.3 260.4,841.3 259.6,841.3 258.6,841.3 257.2,841.3 255.3,841.3 252.8,841.3 249.3,841.3 244.8,841.3 239.1,841.3Z" fill="#ff0000" stroke="#ff0000" stroke-width="2.3" stroke-linejoin="round"/>
<path d="M288.2,841.3 293.9,841.3 298.4,841.3 301.9,841.3 304.4,841.3 306.3,841.3 307.7,841.3 308.7,841.3 309.5,841.3 310.1,841.3 310.6,841.3 311.2,841.3 311.7,841.3 312.3,841.3 313.1,841.3 314.1,841.3 315.5,841.3 317.4,841.3 319.9,841.3 323.4,841.3 327.9,841.3 333.6,841.3 333.6,841.3 339.3,841.2 343.8,840.9 347.3,840.6 349.8,840.3 351.7,840 353.1,839.5 354.1,838.4 354.9,836.7 355.5,833.2 356,832 356.6,832 357.1,833.2 357.7,836.7 358.5,838.4 359.5,839.1 360.9,839.6 362.8,839.8 365.3,840 368.8,840.4 373.3,840.9 379,841.3 379,841.3 384.7,840.8 389.2,840 392.7,839.2 395.2,838.5 397.1,837.9 398.5,836.6 399.5,834.2 400.3,830.2 400.9,821.8 401.4,819 402,819 402.5,821.8 403.1,830.2 403.9,834.2 404.9,836.2 406.3,837.4 408.2,838 410.7,838.6 414.2,839.5 418.7,840.5 424.4,841.3 424.4,841.3 430.1,840.4 434.6,839.1 438.1,837.8 440.6,836.7 442.5,835.8 443.9,833.8 444.9,830.1 445.7,823.7 446.3,810.6 446.8,806.2 447.4,806.2 447.9,810.6 448.5,823.7 449.3,830.1 450.3,833.4 451.7,835.3 453.6,836.2 456.1,837.2 459.6,838.6 464.1,840.1 469.8,841.3 469.8,841.3 475.5,840.1 480,838.2 483.5,836.4 486,834.9 487.9,833.7 489.3,831.1 490.3,826.1 491.1,817.5 491.7,799.6 492.2,793.6 492.8,793.6 493.3,799.6 493.9,817.5 494.7,826.1 495.7,830.7 497.1,833.3 499,834.4 501.5,835.9 505,837.8 509.5,839.8 515.2,841.3 515.1,841.3 520.8,839.7 525.3,837.4 528.8,835.1 531.3,833.2 533.2,831.7 534.6,828.4 535.6,822.3 536.4,811.4 537,788.9 537.5,781.4 538.1,781.4 538.6,788.9 539.2,811.4 540,822.3 541,828 542.4,831.3 544.3,832.8 546.8,834.6 550.3,836.9 554.8,839.4 560.5,841.3 560.5,841.3 566.2,839.4 570.7,836.6 574.2,833.8 576.7,831.6 578.6,829.8 580,825.8 581,818.5 581.8,805.5 582.4,778.6 582.9,769.6 583.5,769.6 584,778.6 584.6,805.5 585.4,818.5 586.4,825.5 587.8,829.4 589.7,831.1 592.2,833.3 595.7,836.1 600.2,839.1 605.9,841.3 605.9,841.3 611.6,839 616.1,835.8 619.6,832.6 622.1,830 624,827.9 625.4,823.4 626.4,815 627.2,799.9 627.8,768.8 628.3,758.4 628.9,758.4 629.4,768.8 630,799.9 630.8,815 631.8,823.1 633.2,827.5 635.1,829.6 637.6,832.1 641.1,835.4 645.6,838.8 651.3,841.3 651.3,841.3 657,838.7 661.5,835 665,831.4 667.5,828.5 669.4,826.2 670.8,821.1 671.8,811.6 672.6,794.6 673.2,759.5 673.7,747.8 674.3,747.8 674.8,759.5 675.4,794.6 676.2,811.6 677.2,820.8 678.6,825.8 680.5,828.1 683,831 686.5,834.6 691,838.5 696.7,841.3 696.7,841.3 702.4,838.4 706.9,834.3 710.4,830.4 712.9,827.2 714.8,824.5 716.2,818.9 717.2,808.5 718,789.6 718.6,750.9 719.1,738 719.7,738 720.2,750.9 720.8,789.6 721.6,808.5 722.6,818.6 724,824.2 725.9,826.8 728.4,830 731.9,834 736.4,838.2 742.1,841.3 742.1,841.3 747.8,838.1 752.3,833.7 755.8,829.4 758.3,825.9 760.2,823 761.6,816.9 762.6,805.6 763.4,785.1 764,742.9 764.5,728.9 765.1,728.9 765.6,742.9 766.2,785.1 767,805.6 768,816.6 769.4,822.7 771.3,825.5 773.8,829 777.3,833.3 781.8,838 787.5,841.3 787.4,841.3 793.1,837.9 797.6,833.1 801.1,828.5 803.6,824.7 805.5,821.7 806.9,815.1 807.9,802.9 808.7,781 809.3,735.7 809.8,720.7 810.4,720.7 810.9,735.7 811.5,781 812.3,802.9 813.3,814.9 814.7,821.4 816.6,824.4 819.1,828.1 822.6,832.8 827.1,837.7 832.8,841.3 832.8,841.3 838.5,837.7 843,832.6 846.5,827.7 849,823.7 850.9,820.5 852.3,813.5 853.3,800.6 854.1,777.3 854.7,729.3 855.2,713.3 855.8,713.3 856.3,729.3 856.9,777.3 857.7,800.6 858.7,813.3 860.1,820.2 862,823.4 864.5,827.4 868,832.3 872.5,837.5 878.2,841.3 878.2,841.3 883.9,837.5 888.4,832.1 891.9,826.9 894.4,822.8 896.3,819.4 897.7,812.1 898.7,798.6 899.5,774.2 900.1,723.8 900.6,707 901.2,707 901.7,723.8 902.3,774.2 903.1,798.6 904.1,811.9 905.5,819.2 907.4,822.6 909.9,826.7 913.4,831.9 917.9,837.4 923.6,841.3 923.6,841.3 929.3,837.3 933.8,831.7 937.3,826.4 939.8,822 941.7,818.5 943.1,810.9 944.1,796.9 944.9,771.5 945.5,719.2 946,701.7 946.6,701.7 947.1,719.2 947.7,771.5 948.5,796.9 949.5,810.8 950.9,818.4 952.8,821.8 955.3,826.1 958.8,831.5 963.3,837.2 969,841.3 969,841.3 974.7,837.2 979.2,831.4 982.7,825.9 985.2,821.4 987.1,817.8 988.5,810 989.5,795.6 990.3,769.4 990.9,715.4 991.4,697.4 992,697.4 992.5,715.4 993.1,769.4 993.9,795.6 994.9,809.9 996.3,817.7 998.2,821.3 1000.7,825.7 1004.2,831.3 1008.7,837.1 1014.4,841.3 1014.4,841.3 1020.1,837.1 1024.6,831.2 1028.1,825.5 1030.6,821 1032.5,817.3 1033.9,809.3 1034.9,794.6 1035.7,767.8 1036.3,712.7 1036.8,694.3 1037.4,694.3 1037.9,712.7 1038.5,767.8 1039.3,794.6 1040.3,809.2 1041.7,817.2 1043.6,820.9 1046.1,825.4 1049.6,831.1 1054.1,837 1059.8,841.3 1059.7,841.3 1065.4,837 1069.9,831 1073.4,825.3 1075.9,820.7 1077.8,816.9 1079.2,808.8 1080.2,793.9 1081,766.8 1081.6,710.9 1082.1,692.3 1082.7,692.3 1083.2,710.9 1083.8,766.8 1084.6,793.9 1085.6,808.8 1087,816.9 1088.9,820.6 1091.4,825.2 1094.9,830.9 1099.4,837 1105.1,841.3 1105.1,841.3 1110.8,837 1115.3,830.9 1118.8,825.1 1121.3,820.5 1123.2,816.8 1124.6,808.6 1125.6,793.6 1126.4,766.3 1127,710.1 1127.5,691.3 1128.1,691.3 1128.6,710.1 1129.2,766.3 1130,793.6 1131,808.6 1132.4,816.7 1134.3,820.5 1136.8,825.1 1140.3,830.9 1144.8,837 1150.5,841.3 1150.5,841.3 1156.2,837 1160.7,830.9 1164.2,825.1 1166.7,820.5 1168.6,816.8 1170,808.6 1171,793.7 1171.8,766.5 1172.4,710.3 1172.9,691.6 1173.5,691.6 1174,710.3 1174.6,766.5 1175.4,793.7 1176.4,808.7 1177.8,816.8 1179.7,820.6 1182.2,825.2 1185.7,830.9 1190.2,837 1195.9,841.3 1195.9,841.3 1201.6,837 1206.1,831 1209.6,825.3 1212.1,820.7 1214,817 1215.4,808.9 1216.4,794.1 1217.2,767.1 1217.8,711.5 1218.3,693 1218.9,693 1219.4,711.5 1220,767.1 1220.8,794.1 1221.8,809 1223.2,817 1225.1,820.8 1227.6,825.3 1231.1,831.1 1235.6,837 1241.3,841.3 1241.3,841.3 1247,837 1251.5,831.1 1255,825.5 1257.5,821 1259.4,817.4 1260.8,809.4 1261.8,794.9 1262.6,768.4 1263.2,713.7 1263.7,695.5 1264.3,695.5 1264.8,713.7 1265.4,768.4 1266.2,794.9 1267.2,809.5 1268.6,817.5 1270.5,821.1 1273,825.6 1276.5,831.3 1281,837.1 1286.7,841.3 1286.7,841.3 1292.4,837.1 1296.9,831.4 1300.4,825.9 1302.9,821.5 1304.8,817.9 1306.2,810.2 1307.2,796.1 1308,770.2 1308.6,716.9 1309.1,699.1 1309.7,699.1 1310.2,716.9 1310.8,770.2 1311.6,796.1 1312.6,810.3 1314,818.1 1315.9,821.7 1318.4,826.1 1321.9,831.5 1326.4,837.2 1332.1,841.3 1332,841.3 1337.7,837.3 1342.2,831.7 1345.7,826.4 1348.2,822.1 1350.1,818.7 1351.5,811.2 1352.5,797.6 1353.3,772.6 1353.9,721 1354.4,703.8 1355,703.8 1355.5,721 1356.1,772.6 1356.9,797.6 1357.9,811.4 1359.3,818.9 1361.2,822.3 1363.7,826.6 1367.2,831.9 1371.7,837.4 1377.4,841.3 1377.4,841.3 1383.1,837.4 1387.6,832.1 1391.1,827 1393.6,822.9 1395.5,819.6 1396.9,812.5 1397.9,799.4 1398.7,775.4 1399.3,726 1399.8,709.5 1400.4,709.5 1400.9,726 1401.5,775.4 1402.3,799.4 1403.3,812.7 1404.7,819.8 1406.6,823.2 1409.1,827.2 1412.6,832.3 1417.1,837.6 1422.8,841.3 1422.8,841.3 1428.5,837.6 1433,832.5 1436.5,827.7 1439,823.8 1440.9,820.7 1442.3,813.9 1443.3,801.6 1444.1,778.8 1444.7,731.9 1445.2,716.3 1445.8,716.3 1446.3,731.9 1446.9,778.8 1447.7,801.6 1448.7,814.1 1450.1,820.9 1452,824.1 1454.5,828 1458,832.8 1462.5,837.8 1468.2,841.3 1468.2,841.3 1473.9,837.8 1478.4,833 1481.9,828.5 1484.4,824.9 1486.3,822 1487.7,815.6 1488.7,804 1489.5,782.7 1490.1,738.6 1490.6,724 1491.2,724 1491.7,738.6 1492.3,782.7 1493.1,804 1494.1,815.8 1495.5,822.2 1497.4,825.2 1499.9,828.8 1503.4,833.3 1507.9,838 1513.6,841.3 1513.6,841.3 1519.3,838.1 1523.8,833.6 1527.3,829.4 1529.8,826 1531.7,823.3 1533.1,817.4 1534.1,806.7 1534.9,786.9 1535.5,746.2 1536,732.6 1536.6,732.6 1537.1,746.2 1537.7,786.9 1538.5,806.7 1539.5,817.7 1540.9,823.6 1542.8,826.4 1545.3,829.8 1548.8,833.9 1553.3,838.3 1559,841.3 1559,841.3 1564.7,838.3 1569.2,834.2 1572.7,830.4 1575.2,827.3 1577.1,824.9 1578.5,819.5 1579.5,809.7 1580.3,791.7 1580.9,754.4 1581.4,742 1582,742 1582.5,754.4 1583.1,791.7 1583.9,809.7 1584.9,819.8 1586.3,825.2 1588.2,827.7 1590.7,830.8 1594.2,834.6 1598.7,838.5 1604.4,841.3 1604.3,841.3 1610,838.6 1614.5,834.9 1618,831.5 1620.5,828.7 1622.4,826.5 1623.8,821.7 1624.8,813 1625.6,796.7 1626.2,763.3 1626.7,752.2 1627.3,752.2 1627.8,763.3 1628.4,796.7 1629.2,813 1630.2,822 1631.6,826.9 1633.5,829.1 1636,831.9 1639.5,835.3 1644,838.8 1649.7,841.3 1649.7,841.3 1655.4,838.9 1659.9,835.7 1663.4,832.6 1665.9,830.2 1667.8,828.3 1669.2,824.1 1670.2,816.4 1671,802.2 1671.6,772.8 1672.1,763 1672.7,763 1673.2,772.8 1673.8,802.2 1674.6,816.4 1675.6,824.4 1677,828.7 1678.9,830.7 1681.4,833.1 1684.9,836.1 1689.4,839.2 1695.1,841.3 1695.1,841.3 1700.8,839.2 1705.3,836.4 1708.8,833.8 1711.3,831.8 1713.2,830.2 1714.6,826.5 1715.6,820.1 1716.4,807.9 1717,782.8 1717.5,774.5 1718.1,774.5 1718.6,782.8 1719.2,807.9 1720,820.1 1721,826.9 1722.4,830.5 1724.3,832.3 1726.8,834.3 1730.3,836.9 1734.8,839.5 1740.5,841.3 1740.5,841.3 1746.2,839.6 1750.7,837.3 1754.2,835.1 1756.7,833.4 1758.6,832.1 1760,829.1 1761,823.9 1761.8,813.9 1762.4,793.3 1762.9,786.4 1763.5,786.4 1764,793.3 1764.6,813.9 1765.4,823.9 1766.4,829.5 1767.8,832.5 1769.7,833.9 1772.2,835.6 1775.7,837.7 1780.2,839.8 1785.9,841.3 1785.9,841.3 1791.6,839.9 1796.1,838.1 1799.6,836.4 1802.1,835.2 1804,834.1 1805.4,831.8 1806.4,827.8 1807.2,820.1 1807.8,804.1 1808.3,798.8 1808.9,798.8 1809.4,804.1 1810,820.1 1810.8,827.8 1811.8,832.2 1813.2,834.5 1815.1,835.7 1817.6,837 1821.1,838.6 1825.6,840.2 1831.3,841.3 1831.3,841.3 1837,840.3 1841.5,839 1845,837.8 1847.5,836.9 1849.4,836.2 1850.8,834.6 1851.8,831.8 1852.6,826.4 1853.2,815.2 1853.7,811.5 1854.3,811.5 1854.8,815.2 1855.4,826.4 1856.2,831.8 1857.2,835 1858.6,836.6 1860.5,837.4 1863,838.4 1866.5,839.5 1871,840.6 1876.7,841.3 1876.6,841.3 1882.3,840.7 1886.8,839.9 1890.3,839.2 1892.8,838.7 1894.7,838.3 1896.1,837.4 1897.1,835.9 1897.9,832.9 1898.5,826.5 1899,824.4 1899.6,824.4 1900.1,826.5 1900.7,832.9 1901.5,835.9 1902.5,837.8 1903.9,838.8 1905.8,839.2 1908.3,839.8 1911.8,840.4 1916.3,841 1922,841.3 1922,841.3 1927.7,841 1932.2,840.8 1935.7,840.6 1938.2,840.5 1940.1,840.5 1941.5,840.3 1942.5,840.1 1943.3,839.4 1943.9,838 1944.4,837.5 1945,837.5 1945.5,838 1946.1,839.4 1946.9,840.1 1947.9,840.7 1949.3,840.9 1951.2,841 1953.7,841.2 1957.2,841.3 1961.7,841.3 1967.4,841.3L1967.4,841.3 1961.7,841.3 1957.2,841.3 1953.7,841.4 1951.2,841.6 1949.3,841.7 1947.9,841.9 1946.9,842.5 1946.1,843.2 1945.5,844.6 1945,845.1 1944.4,845.1 1943.9,844.6 1943.3,843.2 1942.5,842.5 1941.5,842.3 1940.1,842.1 1938.2,842.1 1935.7,842 1932.2,841.8 1927.7,841.6 1922,841.3 1922,841.3 1916.3,841.6 1911.8,842.2 1908.3,842.8 1905.8,843.4 1903.9,843.8 1902.5,844.8 1901.5,846.7 1900.7,849.7 1900.1,856.1 1899.6,858.2 1899,858.2 1898.5,856.1 1897.9,849.7 1897.1,846.7 1896.1,845.2 1894.7,844.3 1892.8,843.9 1890.3,843.4 1886.8,842.7 1882.3,841.9 1876.6,841.3 1876.7,841.3 1871,842 1866.5,843.1 1863,844.2 1860.5,845.2 1858.6,846 1857.2,847.6 1856.2,850.8 1855.4,856.2 1854.8,867.4 1854.3,871.1 1853.7,871.1 1853.2,867.4 1852.6,856.2 1851.8,850.8 1850.8,848 1849.4,846.4 1847.5,845.7 1845,844.8 1841.5,843.6 1837,842.3 1831.3,841.3 1831.3,841.3 1825.6,842.4 1821.1,844 1817.6,845.6 1815.1,846.9 1813.2,848.1 1811.8,850.4 1810.8,854.8 1810,862.5 1809.4,878.5 1808.9,883.8 1808.3,883.8 1807.8,878.5 1807.2,862.5 1806.4,854.8 1805.4,850.8 1804,848.5 1802.1,847.4 1799.6,846.2 1796.1,844.5 1791.6,842.7 1785.9,841.3 1785.9,841.3 1780.2,842.8 1775.7,844.9 1772.2,847 1769.7,848.7 1767.8,850.1 1766.4,853.1 1765.4,858.7 1764.6,868.7 1764,889.3 1763.5,896.2 1762.9,896.2 1762.4,889.3 1761.8,868.7 1761,858.7 1760,853.5 1758.6,850.5 1756.7,849.2 1754.2,847.5 1750.7,845.3 1746.2,843 1740.5,841.3 1740.5,841.3 1734.8,843.1 1730.3,845.7 1726.8,848.3 1724.3,850.3 1722.4,852.1 1721,855.7 1720,862.5 1719.2,874.7 1718.6,899.8 1718.1,908.1 1717.5,908.1 1717,899.8 1716.4,874.7 1715.6,862.5 1714.6,856.1 1713.2,852.4 1711.3,850.8 1708.8,848.8 1705.3,846.2 1700.8,843.4 1695.1,841.3 1695.1,841.3 1689.4,843.4 1684.9,846.5 1681.4,849.5 1678.9,851.9 1677,853.9 1675.6,858.2 1674.6,866.2 1673.8,880.4 1673.2,909.8 1672.7,919.6 1672.1,919.6 1671.6,909.8 1671,880.4 1670.2,866.2 1669.2,858.5 1667.8,854.3 1665.9,852.4 1663.4,850 1659.9,846.9 1655.4,843.7 1649.7,841.3 1649.7,841.3 1644,843.8 1639.5,847.3 1636,850.7 1633.5,853.5 1631.6,855.7 1630.2,860.6 1629.2,869.6 1628.4,885.9 1627.8,919.3 1627.3,930.4 1626.7,930.4 1626.2,919.3 1625.6,885.9 1624.8,869.6 1623.8,860.9 1622.4,856.1 1620.5,853.9 1618,851.1 1614.5,847.7 1610,844 1604.3,841.3 1604.4,841.3 1598.7,844.1 1594.2,848 1590.7,851.8 1588.2,854.9 1586.3,857.4 1584.9,862.8 1583.9,872.9 1583.1,890.9 1582.5,928.2 1582,940.6 1581.4,940.6 1580.9,928.2 1580.3,890.9 1579.5,872.9 1578.5,863.1 1577.1,857.7 1575.2,855.3 1572.7,852.2 1569.2,848.4 1564.7,844.3 1559,841.3 1559,841.3 1553.3,844.3 1548.8,848.7 1545.3,852.8 1542.8,856.2 1540.9,859 1539.5,864.9 1538.5,875.9 1537.7,895.7 1537.1,936.4 1536.6,950 1536,950 1535.5,936.4 1534.9,895.7 1534.1,875.9 1533.1,865.2 1531.7,859.3 1529.8,856.6 1527.3,853.2 1523.8,849 1519.3,844.5 1513.6,841.3 1513.6,841.3 1507.9,844.6 1503.4,849.3 1499.9,853.8 1497.4,857.4 1495.5,860.4 1494.1,866.8 1493.1,878.6 1492.3,899.9 1491.7,944 1491.2,958.6 1490.6,958.6 1490.1,944 1489.5,899.9 1488.7,878.6 1487.7,867 1486.3,860.6 1484.4,857.7 1481.9,854.1 1478.4,849.6 1473.9,844.8 1468.2,841.3 1468.2,841.3 1462.5,844.8 1458,849.8 1454.5,854.6 1452,858.5 1450.1,861.7 1448.7,868.5 1447.7,881 1446.9,903.8 1446.3,950.7 1445.8,966.3 1445.2,966.3 1444.7,950.7 1444.1,903.8 1443.3,881 1442.3,868.7 1440.9,861.9 1439,858.8 1436.5,854.9 1433,850.1 1428.5,845 1422.8,841.3 1422.8,841.3 1417.1,845 1412.6,850.3 1409.1,855.4 1406.6,859.4 1404.7,862.8 1403.3,869.9 1402.3,883.2 1401.5,907.2 1400.9,956.6 1400.4,973.1 1399.8,973.1 1399.3,956.6 1398.7,907.2 1397.9,883.2 1396.9,870.1 1395.5,863 1393.6,859.7 1391.1,855.6 1387.6,850.5 1383.1,845.2 1377.4,841.3 1377.4,841.3 1371.7,845.2 1367.2,850.7 1363.7,856 1361.2,860.3 1359.3,863.7 1357.9,871.2 1356.9,885 1356.1,910 1355.5,961.6 1355,978.8 1354.4,978.8 1353.9,961.6 1353.3,910 1352.5,885 1351.5,871.4 1350.1,863.9 1348.2,860.5 1345.7,856.2 1342.2,850.9 1337.7,845.3 1332,841.3 1332.1,841.3 1326.4,845.4 1321.9,851.1 1318.4,856.5 1315.9,860.9 1314,864.5 1312.6,872.3 1311.6,886.5 1310.8,912.4 1310.2,965.7 1309.7,983.5 1309.1,983.5 1308.6,965.7 1308,912.4 1307.2,886.5 1306.2,872.4 1304.8,864.7 1302.9,861.1 1300.4,856.7 1296.9,851.2 1292.4,845.5 1286.7,841.3 1286.7,841.3 1281,845.5 1276.5,851.3 1273,857 1270.5,861.5 1268.6,865.1 1267.2,873.1 1266.2,887.7 1265.4,914.2 1264.8,968.9 1264.3,987.1 1263.7,987.1 1263.2,968.9 1262.6,914.2 1261.8,887.7 1260.8,873.2 1259.4,865.2 1257.5,861.6 1255,857.1 1251.5,851.5 1247,845.6 1241.3,841.3 1241.3,841.3 1235.6,845.6 1231.1,851.5 1227.6,857.3 1225.1,861.8 1223.2,865.6 1221.8,873.6 1220.8,888.5 1220,915.5 1219.4,971.1 1218.9,989.6 1218.3,989.6 1217.8,971.1 1217.2,915.5 1216.4,888.5 1215.4,873.7 1214,865.6 1212.1,861.9 1209.6,857.3 1206.1,851.6 1201.6,845.6 1195.9,841.3 1195.9,841.3 1190.2,845.6 1185.7,851.7 1182.2,857.4 1179.7,862 1177.8,865.8 1176.4,873.9 1175.4,888.9 1174.6,916.1 1174,972.3 1173.5,991 1172.9,991 1172.4,972.3 1171.8,916.1 1171,888.9 1170,874 1168.6,865.8 1166.7,862.1 1164.2,857.5 1160.7,851.7 1156.2,845.6 1150.5,841.3 1150.5,841.3 1144.8,845.6 1140.3,851.7 1136.8,857.5 1134.3,862.1 1132.4,865.9 1131,874 1130,889 1129.2,916.3 1128.6,972.5 1128.1,991.3 1127.5,991.3 1127,972.5 1126.4,916.3 1125.6,889 1124.6,874 1123.2,865.8 1121.3,862.1 1118.8,857.5 1115.3,851.7 1110.8,845.6 1105.1,841.3 1105.1,841.3 1099.4,845.6 1094.9,851.7 1091.4,857.4 1088.9,862 1087,865.7 1085.6,873.8 1084.6,888.7 1083.8,915.8 1083.2,971.7 1082.7,990.3 1082.1,990.3 1081.6,971.7 1081,915.8 1080.2,888.7 1079.2,873.8 1077.8,865.7 1075.9,861.9 1073.4,857.3 1069.9,851.6 1065.4,845.6 1059.7,841.3 1059.8,841.3 1054.1,845.6 1049.6,851.5 1046.1,857.2 1043.6,861.7 1041.7,865.4 1040.3,873.4 1039.3,888 1038.5,914.8 1037.9,969.9 1037.4,988.3 1036.8,988.3 1036.3,969.9 1035.7,914.8 1034.9,888 1033.9,873.3 1032.5,865.3 1030.6,861.6 1028.1,857.1 1024.6,851.4 1020.1,845.5 1014.4,841.3 1014.4,841.3 1008.7,845.5 1004.2,851.3 1000.7,856.9 998.2,861.3 996.3,864.9 994.9,872.7 993.9,887 993.1,913.2 992.5,967.2 992,985.2 991.4,985.2 990.9,967.2 990.3,913.2 989.5,887 988.5,872.6 987.1,864.8 985.2,861.2 982.7,856.7 979.2,851.2 974.7,845.4 969,841.3 969,841.3 963.3,845.4 958.8,851.1 955.3,856.5 952.8,860.8 950.9,864.2 949.5,871.8 948.5,885.7 947.7,911.1 947.1,963.4 946.6,980.9 946,980.9 945.5,963.4 944.9,911.1 944.1,885.7 943.1,871.7 941.7,864.1 939.8,860.6 937.3,856.2 933.8,850.9 929.3,845.3 923.6,841.3 923.6,841.3 917.9,845.2 913.4,850.7 909.9,855.9 907.4,860 905.5,863.4 904.1,870.7 903.1,884 902.3,908.4 901.7,958.8 901.2,975.6 900.6,975.6 900.1,958.8 899.5,908.4 898.7,884 897.7,870.5 896.3,863.2 894.4,859.8 891.9,855.7 888.4,850.5 883.9,845.1 878.2,841.3 878.2,841.3 872.5,845.1 868,850.3 864.5,855.2 862,859.2 860.1,862.4 858.7,869.3 857.7,882 856.9,905.3 856.3,953.3 855.8,969.3 855.2,969.3 854.7,953.3 854.1,905.3 853.3,882 852.3,869.1 850.9,862.1 849,858.9 846.5,854.9 843,850 838.5,844.9 832.8,841.3 832.8,841.3 827.1,844.9 822.6,849.8 819.1,854.5 816.6,858.2 814.7,861.2 813.3,867.7 812.3,879.7 811.5,901.6 810.9,946.9 810.4,961.9 809.8,961.9 809.3,946.9 808.7,901.6 807.9,879.7 806.9,867.5 805.5,860.9 803.6,857.9 801.1,854.1 797.6,849.5 793.1,844.7 787.4,841.3 787.5,841.3 781.8,844.6 777.3,849.3 773.8,853.6 771.3,857.1 769.4,859.9 768,866 767,877 766.2,897.5 765.6,939.7 765.1,953.7 764.5,953.7 764,939.7 763.4,897.5 762.6,877 761.6,865.7 760.2,859.6 758.3,856.7 755.8,853.2 752.3,848.9 747.8,844.5 742.1,841.3 742.1,841.3 736.4,844.4 731.9,848.6 728.4,852.6 725.9,855.8 724,858.4 722.6,864 721.6,874.1 720.8,893 720.2,931.7 719.7,944.6 719.1,944.6 718.6,931.7 718,893 717.2,874.1 716.2,863.7 714.8,858.1 712.9,855.4 710.4,852.2 706.9,848.3 702.4,844.2 696.7,841.3 696.7,841.3 691,844.1 686.5,848 683,851.6 680.5,854.5 678.6,856.8 677.2,861.8 676.2,871 675.4,888 674.8,923.1 674.3,934.8 673.7,934.8 673.2,923.1 672.6,888 671.8,871 670.8,861.5 669.4,856.4 667.5,854.1 665,851.2 661.5,847.6 657,843.9 651.3,841.3 651.3,841.3 645.6,843.8 641.1,847.2 637.6,850.5 635.1,853 633.2,855.1 631.8,859.5 630.8,867.6 630,882.7 629.4,913.8 628.9,924.2 628.3,924.2 627.8,913.8 627.2,882.7 626.4,867.6 625.4,859.2 624,854.7 622.1,852.6 619.6,850 616.1,846.8 611.6,843.6 605.9,841.3 605.9,841.3 600.2,843.5 595.7,846.5 592.2,849.3 589.7,851.5 587.8,853.2 586.4,857.1 585.4,864.1 584.6,877.1 584,904 583.5,913 582.9,913 582.4,904 581.8,877.1 581,864.1 580,856.8 578.6,852.8 576.7,851 574.2,848.8 570.7,846 566.2,843.2 560.5,841.3 560.5,841.3 554.8,843.2 550.3,845.7 546.8,848 544.3,849.8 542.4,851.3 541,854.6 540,860.3 539.2,871.2 538.6,893.7 538.1,901.2 537.5,901.2 537,893.7 536.4,871.2 535.6,860.3 534.6,854.2 533.2,850.9 531.3,849.4 528.8,847.5 525.3,845.2 520.8,842.9 515.1,841.3 515.2,841.3 509.5,842.8 505,844.8 501.5,846.7 499,848.2 497.1,849.3 495.7,851.9 494.7,856.5 493.9,865.1 493.3,883 492.8,889 492.2,889 491.7,883 491.1,865.1 490.3,856.5 489.3,851.5 487.9,848.9 486,847.7 483.5,846.2 480,844.4 475.5,842.5 469.8,841.3 469.8,841.3 464.1,842.5 459.6,844 456.1,845.4 453.6,846.4 451.7,847.3 450.3,849.2 449.3,852.5 448.5,858.9 447.9,872 447.4,876.4 446.8,876.4 446.3,872 445.7,858.9 444.9,852.5 443.9,848.8 442.5,846.8 440.6,845.9 438.1,844.8 434.6,843.5 430.1,842.2 424.4,841.3 424.4,841.3 418.7,842.1 414.2,843.1 410.7,844 408.2,844.6 406.3,845.2 404.9,846.4 403.9,848.4 403.1,852.4 402.5,860.8 402,863.6 401.4,863.6 400.9,860.8 400.3,852.4 399.5,848.4 398.5,846 397.1,844.7 395.2,844.1 392.7,843.4 389.2,842.6 384.7,841.8 379,841.3 379,841.3 373.3,841.7 368.8,842.2 365.3,842.6 362.8,842.8 360.9,843 359.5,843.5 358.5,844.2 357.7,845.9 357.1,849.4 356.6,850.6 356,850.6 355.5,849.4 354.9,845.9 354.1,844.2 353.1,843.1 351.7,842.6 349.8,842.3 347.3,842 343.8,841.7 339.3,841.4 333.6,841.3 333.6,841.3 327.9,841.3 323.4,841.3 319.9,841.3 317.4,841.3 315.5,841.3 314.1,841.3 313.1,841.3 312.3,841.3 311.7,841.3 311.2,841.3 310.6,841.3 310.1,841.3 309.5,841.3 308.7,841.3 307.7,841.3 306.3,841.3 304.4,841.3 301.9,841.3 298.4,841.3 293.9,841.3 288.2,841.3Z" fill="#00bfbf" stroke="#00bfbf" stroke-width="2.3" stroke-linejoin="round"/>
<path d="M424.5,841.3 430.2,841.3 434.7,841.3 438.2,841.3 440.7,841.3 442.6,841.3 444,841.3 445,841.3 445.8,841.3 446.4,841.3 446.9,841.3 447.5,841.3 448,841.3 448.6,841.3 449.4,841.3 450.4,841.3 451.8,841.3 453.7,841.3 456.2,841.3 459.7,841.3 464.2,841.3 469.9,841.3 469.9,841.3 475.6,841.2 480.1,840.9 483.6,840.6 486.1,840.3 488,840 489.4,839.5 490.4,838.4 491.2,836.7 491.8,833.3 492.3,832.2 492.9,832.2 493.4,833.3 494,836.7 494.8,838.4 495.8,839.1 497.2,839.6 499.1,839.8 501.6,840 505.1,840.4 509.6,840.9 515.3,841.3 515.3,841.3 521,840.8 525.5,840 529,839.2 531.5,838.5 533.4,837.9 534.8,836.7 535.8,834.3 536.6,830.2 537.2,821.9 537.7,819.1 538.3,819.1 538.8,821.9 539.4,830.2 540.2,834.3 541.2,836.3 542.6,837.5 544.5,838 547,838.6 550.5,839.5 555,840.5 560.7,841.3 560.7,841.3 566.4,840.4 570.9,839.1 574.4,837.8 576.9,836.7 578.8,835.8 580.2,833.9 581.2,830.2 582,823.8 582.6,810.7 583.1,806.3 583.7,806.3 584.2,810.7 584.8,823.8 585.6,830.2 586.6,833.5 588,835.4 589.9,836.2 592.4,837.3 595.9,838.6 600.4,840.1 606.1,841.3 606,841.3 611.7,840.1 616.2,838.2 619.7,836.4 622.2,834.9 624.1,833.7 625.5,831.1 626.5,826.2 627.3,817.5 627.9,799.7 628.4,793.7 629,793.7 629.5,799.7 630.1,817.5 630.9,826.2 631.9,830.7 633.3,833.3 635.2,834.5 637.7,835.9 641.2,837.8 645.7,839.8 651.4,841.3 651.4,841.3 657.1,839.7 661.6,837.4 665.1,835.1 667.6,833.2 669.5,831.7 670.9,828.4 671.9,822.3 672.7,811.4 673.3,789 673.8,781.5 674.4,781.5 674.9,789 675.5,811.4 676.3,822.3 677.3,828.1 678.7,831.3 680.6,832.8 683.1,834.6 686.6,836.9 691.1,839.4 696.8,841.3 696.8,841.3 702.5,839.4 707,836.6 710.5,833.8 713,831.6 714.9,829.8 716.3,825.9 717.3,818.6 718.1,805.5 718.7,778.7 719.2,769.7 719.8,769.7 720.3,778.7 720.9,805.5 721.7,818.6 722.7,825.5 724.1,829.4 726,831.1 728.5,833.3 732,836.1 736.5,839.1 742.2,841.3 742.2,841.3 747.9,839 752.4,835.8 755.9,832.6 758.4,830 760.3,827.9 761.7,823.4 762.7,815 763.5,799.9 764.1,768.9 764.6,758.5 765.2,758.5 765.7,768.9 766.3,799.9 767.1,815 768.1,823.1 769.5,827.6 771.4,829.6 773.9,832.1 777.4,835.4 781.9,838.8 787.6,841.3 787.6,841.3 793.3,838.7 797.8,835 801.3,831.5 803.8,828.6 805.7,826.2 807.1,821.1 808.1,811.6 808.9,794.6 809.5,759.6 810,747.9 810.6,747.9 811.1,759.6 811.7,794.6 812.5,811.6 813.5,820.8 814.9,825.8 816.8,828.2 819.3,831 822.8,834.6 827.3,838.5 833,841.3 833,841.3 838.7,838.4 843.2,834.3 846.7,830.4 849.2,827.2 851.1,824.6 852.5,818.9 853.5,808.5 854.3,789.7 854.9,751 855.4,738.1 856,738.1 856.5,751 857.1,789.7 857.9,808.5 858.9,818.6 860.3,824.2 862.2,826.8 864.7,830 868.2,834 872.7,838.2 878.4,841.3 878.3,841.3 884,838.1 888.5,833.7 892,829.4 894.5,825.9 896.4,823 897.8,816.9 898.8,805.6 899.6,785.1 900.2,743 900.7,729 901.3,729 901.8,743 902.4,785.1 903.2,805.6 904.2,816.7 905.6,822.8 907.5,825.6 910,829 913.5,833.4 918,838 923.7,841.3 923.7,841.3 929.4,837.9 933.9,833.1 937.4,828.5 939.9,824.7 941.8,821.7 943.2,815.1 944.2,803 945,781 945.6,735.8 946.1,720.7 946.7,720.7 947.2,735.8 947.8,781 948.6,803 949.6,814.9 951,821.4 952.9,824.4 955.4,828.1 958.9,832.8 963.4,837.7 969.1,841.3 969.1,841.3 974.8,837.7 979.3,832.6 982.8,827.7 985.3,823.7 987.2,820.5 988.6,813.5 989.6,800.6 990.4,777.4 991,729.4 991.5,713.4 992.1,713.4 992.6,729.4 993.2,777.4 994,800.6 995,813.3 996.4,820.2 998.3,823.4 1000.8,827.4 1004.3,832.3 1008.8,837.5 1014.5,841.3 1014.5,841.3 1020.2,837.5 1024.7,832.1 1028.2,827 1030.7,822.8 1032.6,819.4 1034,812.1 1035,798.6 1035.8,774.2 1036.4,723.9 1036.9,707.1 1037.5,707.1 1038,723.9 1038.6,774.2 1039.4,798.6 1040.4,811.9 1041.8,819.2 1043.7,822.6 1046.2,826.7 1049.7,831.9 1054.2,837.4 1059.9,841.3 1059.9,841.3 1065.6,837.3 1070.1,831.7 1073.6,826.4 1076.1,822 1078,818.5 1079.4,810.9 1080.4,796.9 1081.2,771.5 1081.8,719.2 1082.3,701.7 1082.9,701.7 1083.4,719.2 1084,771.5 1084.8,796.9 1085.8,810.8 1087.2,818.4 1089.1,821.9 1091.6,826.2 1095.1,831.5 1099.6,837.2 1105.3,841.3 1105.3,841.3 1111,837.2 1115.5,831.4 1119,825.9 1121.5,821.4 1123.4,817.8 1124.8,810 1125.8,795.6 1126.6,769.4 1127.2,715.5 1127.7,697.5 1128.3,697.5 1128.8,715.5 1129.4,769.4 1130.2,795.6 1131.2,809.9 1132.6,817.7 1134.5,821.3 1137,825.7 1140.5,831.3 1145,837.1 1150.7,841.3 1150.6,841.3 1156.3,837.1 1160.8,831.2 1164.3,825.5 1166.8,821 1168.7,817.3 1170.1,809.3 1171.1,794.6 1171.9,767.8 1172.5,712.7 1173,694.3 1173.6,694.3 1174.1,712.7 1174.7,767.8 1175.5,794.6 1176.5,809.2 1177.9,817.2 1179.8,820.9 1182.3,825.4 1185.8,831.1 1190.3,837 1196,841.3 1196,841.3 1201.7,837 1206.2,831 1209.7,825.3 1212.2,820.7 1214.1,816.9 1215.5,808.8 1216.5,793.9 1217.3,766.8 1217.9,710.9 1218.4,692.3 1219,692.3 1219.5,710.9 1220.1,766.8 1220.9,793.9 1221.9,808.8 1223.3,816.9 1225.2,820.6 1227.7,825.2 1231.2,831 1235.7,837 1241.4,841.3 1241.4,841.3 1247.1,837 1251.6,830.9 1255.1,825.1 1257.6,820.5 1259.5,816.8 1260.9,808.6 1261.9,793.6 1262.7,766.3 1263.3,710.1 1263.8,691.4 1264.4,691.4 1264.9,710.1 1265.5,766.3 1266.3,793.6 1267.3,808.6 1268.7,816.7 1270.6,820.5 1273.1,825.1 1276.6,830.9 1281.1,837 1286.8,841.3 1286.8,841.3 1292.5,837 1297,830.9 1300.5,825.1 1303,820.5 1304.9,816.8 1306.3,808.6 1307.3,793.7 1308.1,766.5 1308.7,710.3 1309.2,691.6 1309.8,691.6 1310.3,710.3 1310.9,766.5 1311.7,793.7 1312.7,808.7 1314.1,816.8 1316,820.6 1318.5,825.2 1322,830.9 1326.5,837 1332.2,841.3 1332.2,841.3 1337.9,837 1342.4,831 1345.9,825.3 1348.4,820.7 1350.3,817 1351.7,808.9 1352.7,794.1 1353.5,767.1 1354.1,711.5 1354.6,692.9 1355.2,692.9 1355.7,711.5 1356.3,767.1 1357.1,794.1 1358.1,809 1359.5,817 1361.4,820.8 1363.9,825.3 1367.4,831.1 1371.9,837 1377.6,841.3 1377.6,841.3 1383.3,837 1387.8,831.1 1391.3,825.5 1393.8,821 1395.7,817.4 1397.1,809.4 1398.1,794.9 1398.9,768.4 1399.5,713.7 1400,695.4 1400.6,695.4 1401.1,713.7 1401.7,768.4 1402.5,794.9 1403.5,809.5 1404.9,817.5 1406.8,821.1 1409.3,825.6 1412.8,831.3 1417.3,837.1 1423,841.3 1422.9,841.3 1428.6,837.1 1433.1,831.4 1436.6,825.9 1439.1,821.5 1441,817.9 1442.4,810.2 1443.4,796.1 1444.2,770.2 1444.8,716.8 1445.3,699 1445.9,699 1446.4,716.8 1447,770.2 1447.8,796.1 1448.8,810.3 1450.2,818.1 1452.1,821.7 1454.6,826.1 1458.1,831.5 1462.6,837.2 1468.3,841.3 1468.3,841.3 1474,837.3 1478.5,831.7 1482,826.4 1484.5,822.1 1486.4,818.7 1487.8,811.2 1488.8,797.6 1489.6,772.5 1490.2,720.9 1490.7,703.7 1491.3,703.7 1491.8,720.9 1492.4,772.5 1493.2,797.6 1494.2,811.4 1495.6,818.9 1497.5,822.3 1500,826.6 1503.5,831.9 1508,837.4 1513.7,841.3 1513.7,841.3 1519.4,837.4 1523.9,832.1 1527.4,827 1529.9,822.9 1531.8,819.6 1533.2,812.4 1534.2,799.4 1535,775.4 1535.6,726 1536.1,709.5 1536.7,709.5 1537.2,726 1537.8,775.4 1538.6,799.4 1539.6,812.6 1541,819.8 1542.9,823.1 1545.4,827.2 1548.9,832.3 1553.4,837.6 1559.1,841.3 1559.1,841.3 1564.8,837.6 1569.3,832.5 1572.8,827.7 1575.3,823.8 1577.2,820.7 1578.6,813.9 1579.6,801.5 1580.4,778.8 1581,731.9 1581.5,716.2 1582.1,716.2 1582.6,731.9 1583.2,778.8 1584,801.5 1585,814.1 1586.4,820.9 1588.3,824.1 1590.8,828 1594.3,832.8 1598.8,837.8 1604.5,841.3 1604.5,841.3 1610.2,837.8 1614.7,833 1618.2,828.5 1620.7,824.9 1622.6,821.9 1624,815.6 1625,804 1625.8,782.6 1626.4,738.6 1626.9,723.9 1627.5,723.9 1628,738.6 1628.6,782.6 1629.4,804 1630.4,815.8 1631.8,822.2 1633.7,825.2 1636.2,828.8 1639.7,833.3 1644.2,838 1649.9,841.3 1649.9,841.3 1655.6,838.1 1660.1,833.6 1663.6,829.4 1666.1,826 1668,823.3 1669.4,817.4 1670.4,806.7 1671.2,786.9 1671.8,746.1 1672.3,732.5 1672.9,732.5 1673.4,746.1 1674,786.9 1674.8,806.7 1675.8,817.7 1677.2,823.6 1679.1,826.4 1681.6,829.8 1685.1,833.9 1689.6,838.3 1695.3,841.3 1695.2,841.3 1700.9,838.3 1705.4,834.2 1708.9,830.4 1711.4,827.3 1713.3,824.9 1714.7,819.5 1715.7,809.7 1716.5,791.6 1717.1,754.3 1717.6,741.9 1718.2,741.9 1718.7,754.3 1719.3,791.6 1720.1,809.7 1721.1,819.8 1722.5,825.2 1724.4,827.7 1726.9,830.8 1730.4,834.6 1734.9,838.5 1740.6,841.3 1740.6,841.3 1746.3,838.6 1750.8,834.9 1754.3,831.5 1756.8,828.7 1758.7,826.5 1760.1,821.7 1761.1,812.9 1761.9,796.7 1762.5,763.2 1763,752.1 1763.6,752.1 1764.1,763.2 1764.7,796.7 1765.5,812.9 1766.5,822 1767.9,826.9 1769.8,829.1 1772.3,831.9 1775.8,835.3 1780.3,838.8 1786,841.3 1786,841.3 1791.7,838.9 1796.2,835.7 1799.7,832.6 1802.2,830.2 1804.1,828.3 1805.5,824 1806.5,816.4 1807.3,802.1 1807.9,772.7 1808.4,762.9 1809,762.9 1809.5,772.7 1810.1,802.1 1810.9,816.4 1811.9,824.4 1813.3,828.6 1815.2,830.7 1817.7,833.1 1821.2,836.1 1825.7,839.2 1831.4,841.3 1831.4,841.3 1837.1,839.2 1841.6,836.4 1845.1,833.8 1847.6,831.8 1849.5,830.1 1850.9,826.5 1851.9,820 1852.7,807.8 1853.3,782.7 1853.8,774.4 1854.4,774.4 1854.9,782.7 1855.5,807.8 1856.3,820 1857.3,826.9 1858.7,830.5 1860.6,832.3 1863.1,834.3 1866.6,836.9 1871.1,839.5 1876.8,841.3 1876.8,841.3 1882.5,839.6 1887,837.3 1890.5,835.1 1893,833.4 1894.9,832.1 1896.3,829.1 1897.3,823.8 1898.1,813.8 1898.7,793.2 1899.2,786.3 1899.8,786.3 1900.3,793.2 1900.9,813.8 1901.7,823.8 1902.7,829.5 1904.1,832.5 1906,833.9 1908.5,835.6 1912,837.7 1916.5,839.8 1922.2,841.3 1922.2,841.3 1927.9,839.9 1932.4,838.1 1935.9,836.4 1938.4,835.1 1940.3,834.1 1941.7,831.8 1942.7,827.8 1943.5,820 1944.1,804 1944.6,798.7 1945.2,798.7 1945.7,804 1946.3,820 1947.1,827.8 1948.1,832.2 1949.5,834.5 1951.4,835.6 1953.9,837 1957.4,838.6 1961.9,840.2 1967.6,841.3 1967.5,841.3 1973.2,840.3 1977.7,839 1981.2,837.8 1983.7,836.9 1985.6,836.2 1987,834.6 1988,831.8 1988.8,826.3 1989.4,815.1 1989.9,811.4 1990.5,811.4 1991,815.1 1991.6,826.3 1992.4,831.8 1993.4,835 1994.8,836.6 1996.7,837.4 1999.2,838.3 2002.7,839.5 2007.2,840.6 2012.9,841.3 2012.9,841.3 2018.6,840.7 2023.1,839.9 2026.6,839.2 2029.1,838.7 2031,838.3 2032.4,837.4 2033.4,835.9 2034.2,832.8 2034.8,826.4 2035.3,824.3 2035.9,824.3 2036.4,826.4 2037,832.8 2037.8,835.9 2038.8,837.8 2040.2,838.7 2042.1,839.2 2044.6,839.7 2048.1,840.4 2052.6,840.9 2058.3,841.3 2058.3,841.3 2064,841 2068.5,840.8 2072,840.6 2074.5,840.5 2076.4,840.4 2077.8,840.2 2078.8,840 2079.6,839.3 2080.2,837.9 2080.7,837.4 2081.3,837.4 2081.8,837.9 2082.4,839.3 2083.2,840 2084.2,840.6 2085.6,840.9 2087.5,841 2090,841.2 2093.5,841.3 2098,841.3 2103.7,841.3L2103.7,841.3 2098,841.3 2093.5,841.3 2090,841.4 2087.5,841.6 2085.6,841.7 2084.2,842 2083.2,842.6 2082.4,843.3 2081.8,844.7 2081.3,845.2 2080.7,845.2 2080.2,844.7 2079.6,843.3 2078.8,842.6 2077.8,842.4 2076.4,842.2 2074.5,842.1 2072,842 2068.5,841.8 2064,841.6 2058.3,841.3 2058.3,841.3 2052.6,841.7 2048.1,842.2 2044.6,842.9 2042.1,843.4 2040.2,843.9 2038.8,844.8 2037.8,846.7 2037,849.8 2036.4,856.2 2035.9,858.3 2035.3,858.3 2034.8,856.2 2034.2,849.8 2033.4,846.7 2032.4,845.2 2031,844.3 2029.1,843.9 2026.6,843.4 2023.1,842.7 2018.6,841.9 2012.9,841.3 2012.9,841.3 2007.2,842 2002.7,843.1 1999.2,844.3 1996.7,845.2 1994.8,846 1993.4,847.6 1992.4,850.8 1991.6,856.3 1991,867.5 1990.5,871.2 1989.9,871.2 1989.4,867.5 1988.8,856.3 1988,850.8 1987,848 1985.6,846.4 1983.7,845.7 1981.2,844.8 1977.7,843.6 1973.2,842.3 1967.5,841.3 1967.6,841.3 1961.9,842.4 1957.4,844 1953.9,845.6 1951.4,847 1949.5,848.1 1948.1,850.4 1947.1,854.8 1946.3,862.6 1945.7,878.6 1945.2,883.9 1944.6,883.9 1944.1,878.6 1943.5,862.6 1942.7,854.8 1941.7,850.8 1940.3,848.5 1938.4,847.5 1935.9,846.2 1932.4,844.5 1927.9,842.7 1922.2,841.3 1922.2,841.3 1916.5,842.8 1912,844.9 1908.5,847 1906,848.7 1904.1,850.1 1902.7,853.1 1901.7,858.8 1900.9,868.8 1900.3,889.4 1899.8,896.3 1899.2,896.3 1898.7,889.4 1898.1,868.8 1897.3,858.8 1896.3,853.5 1894.9,850.5 1893,849.2 1890.5,847.5 1887,845.3 1882.5,843 1876.8,841.3 1876.8,841.3 1871.1,843.1 1866.6,845.7 1863.1,848.3 1860.6,850.3 1858.7,852.1 1857.3,855.7 1856.3,862.6 1855.5,874.8 1854.9,899.9 1854.4,908.2 1853.8,908.2 1853.3,899.9 1852.7,874.8 1851.9,862.6 1850.9,856.1 1849.5,852.5 1847.6,850.8 1845.1,848.8 1841.6,846.2 1837.1,843.4 1831.4,841.3 1831.4,841.3 1825.7,843.4 1821.2,846.5 1817.7,849.5 1815.2,851.9 1813.3,854 1811.9,858.2 1810.9,866.2 1810.1,880.5 1809.5,909.9 1809,919.7 1808.4,919.7 1807.9,909.9 1807.3,880.5 1806.5,866.2 1805.5,858.6 1804.1,854.3 1802.2,852.4 1799.7,850 1796.2,846.9 1791.7,843.7 1786,841.3 1786,841.3 1780.3,843.8 1775.8,847.3 1772.3,850.7 1769.8,853.5 1767.9,855.7 1766.5,860.6 1765.5,869.7 1764.7,885.9 1764.1,919.4 1763.6,930.5 1763,930.5 1762.5,919.4 1761.9,885.9 1761.1,869.7 1760.1,860.9 1758.7,856.1 1756.8,853.9 1754.3,851.1 1750.8,847.7 1746.3,844 1740.6,841.3 1740.6,841.3 1734.9,844.1 1730.4,848 1726.9,851.8 1724.4,854.9 1722.5,857.4 1721.1,862.8 1720.1,872.9 1719.3,891 1718.7,928.3 1718.2,940.7 1717.6,940.7 1717.1,928.3 1716.5,891 1715.7,872.9 1714.7,863.1 1713.3,857.7 1711.4,855.3 1708.9,852.2 1705.4,848.4 1700.9,844.3 1695.2,841.3 1695.3,841.3 1689.6,844.3 1685.1,848.7 1681.6,852.8 1679.1,856.2 1677.2,859 1675.8,864.9 1674.8,875.9 1674,895.7 1673.4,936.5 1672.9,950.1 1672.3,950.1 1671.8,936.5 1671.2,895.7 1670.4,875.9 1669.4,865.2 1668,859.3 1666.1,856.6 1663.6,853.2 1660.1,849 1655.6,844.5 1649.9,841.3 1649.9,841.3 1644.2,844.6 1639.7,849.3 1636.2,853.8 1633.7,857.4 1631.8,860.4 1630.4,866.8 1629.4,878.6 1628.6,900 1628,944 1627.5,958.7 1626.9,958.7 1626.4,944 1625.8,900 1625,878.6 1624,867 1622.6,860.7 1620.7,857.7 1618.2,854.1 1614.7,849.6 1610.2,844.8 1604.5,841.3 1604.5,841.3 1598.8,844.8 1594.3,849.8 1590.8,854.6 1588.3,858.5 1586.4,861.7 1585,868.5 1584,881.1 1583.2,903.8 1582.6,950.7 1582.1,966.4 1581.5,966.4 1581,950.7 1580.4,903.8 1579.6,881.1 1578.6,868.7 1577.2,861.9 1575.3,858.8 1572.8,854.9 1569.3,850.1 1564.8,845 1559.1,841.3 1559.1,841.3 1553.4,845 1548.9,850.3 1545.4,855.4 1542.9,859.5 1541,862.8 1539.6,870 1538.6,883.2 1537.8,907.2 1537.2,956.6 1536.7,973.1 1536.1,973.1 1535.6,956.6 1535,907.2 1534.2,883.2 1533.2,870.2 1531.8,863 1529.9,859.7 1527.4,855.6 1523.9,850.5 1519.4,845.2 1513.7,841.3 1513.7,841.3 1508,845.2 1503.5,850.7 1500,856 1497.5,860.3 1495.6,863.7 1494.2,871.2 1493.2,885 1492.4,910.1 1491.8,961.7 1491.3,978.9 1490.7,978.9 1490.2,961.7 1489.6,910.1 1488.8,885 1487.8,871.4 1486.4,863.9 1484.5,860.5 1482,856.2 1478.5,850.9 1474,845.3 1468.3,841.3 1468.3,841.3 1462.6,845.4 1458.1,851.1 1454.6,856.5 1452.1,860.9 1450.2,864.5 1448.8,872.3 1447.8,886.5 1447,912.4 1446.4,965.8 1445.9,983.6 1445.3,983.6 1444.8,965.8 1444.2,912.4 1443.4,886.5 1442.4,872.4 1441,864.7 1439.1,861.1 1436.6,856.7 1433.1,851.2 1428.6,845.5 1422.9,841.3 1423,841.3 1417.3,845.5 1412.8,851.3 1409.3,857 1406.8,861.5 1404.9,865.1 1403.5,873.1 1402.5,887.7 1401.7,914.2 1401.1,968.9 1400.6,987.2 1400,987.2 1399.5,968.9 1398.9,914.2 1398.1,887.7 1397.1,873.2 1395.7,865.2 1393.8,861.6 1391.3,857.1 1387.8,851.5 1383.3,845.6 1377.6,841.3 1377.6,841.3 1371.9,845.6 1367.4,851.5 1363.9,857.3 1361.4,861.8 1359.5,865.6 1358.1,873.6 1357.1,888.5 1356.3,915.5 1355.7,971.1 1355.2,989.7 1354.6,989.7 1354.1,971.1 1353.5,915.5 1352.7,888.5 1351.7,873.7 1350.3,865.6 1348.4,861.9 1345.9,857.3 1342.4,851.6 1337.9,845.6 1332.2,841.3 1332.2,841.3 1326.5,845.6 1322,851.7 1318.5,857.4 1316,862 1314.1,865.8 1312.7,873.9 1311.7,888.9 1310.9,916.1 1310.3,972.3 1309.8,991 1309.2,991 1308.7,972.3 1308.1,916.1 1307.3,888.9 1306.3,874 1304.9,865.8 1303,862.1 1300.5,857.5 1297,851.7 1292.5,845.6 1286.8,841.3 1286.8,841.3 1281.1,845.6 1276.6,851.7 1273.1,857.5 1270.6,862.1 1268.7,865.9 1267.3,874 1266.3,889 1265.5,916.3 1264.9,972.5 1264.4,991.2 1263.8,991.2 1263.3,972.5 1262.7,916.3 1261.9,889 1260.9,874 1259.5,865.8 1257.6,862.1 1255.1,857.5 1251.6,851.7 1247.1,845.6 1241.4,841.3 1241.4,841.3 1235.7,845.6 1231.2,851.6 1227.7,857.4 1225.2,862 1223.3,865.7 1221.9,873.8 1220.9,888.7 1220.1,915.8 1219.5,971.7 1219,990.3 1218.4,990.3 1217.9,971.7 1217.3,915.8 1216.5,888.7 1215.5,873.8 1214.1,865.7 1212.2,861.9 1209.7,857.3 1206.2,851.6 1201.7,845.6 1196,841.3 1196,841.3 1190.3,845.6 1185.8,851.5 1182.3,857.2 1179.8,861.7 1177.9,865.4 1176.5,873.4 1175.5,888 1174.7,914.8 1174.1,969.9 1173.6,988.3 1173,988.3 1172.5,969.9 1171.9,914.8 1171.1,888 1170.1,873.3 1168.7,865.3 1166.8,861.6 1164.3,857.1 1160.8,851.4 1156.3,845.5 1150.6,841.3 1150.7,841.3 1145,845.5 1140.5,851.3 1137,856.9 1134.5,861.3 1132.6,864.9 1131.2,872.7 1130.2,887 1129.4,913.2 1128.8,967.1 1128.3,985.1 1127.7,985.1 1127.2,967.1 1126.6,913.2 1125.8,887 1124.8,872.6 1123.4,864.8 1121.5,861.2 1119,856.7 1115.5,851.2 1111,845.4 1105.3,841.3 1105.3,841.3 1099.6,845.4 1095.1,851.1 1091.6,856.4 1089.1,860.7 1087.2,864.2 1085.8,871.8 1084.8,885.7 1084,911.1 1083.4,963.4 1082.9,980.9 1082.3,980.9 1081.8,963.4 1081.2,911.1 1080.4,885.7 1079.4,871.7 1078,864.1 1076.1,860.6 1073.6,856.2 1070.1,850.9 1065.6,845.3 1059.9,841.3 1059.9,841.3 1054.2,845.2 1049.7,850.7 1046.2,855.9 1043.7,860 1041.8,863.4 1040.4,870.7 1039.4,884 1038.6,908.4 1038,958.7 1037.5,975.5 1036.9,975.5 1036.4,958.7 1035.8,908.4 1035,884 1034,870.5 1032.6,863.2 1030.7,859.8 1028.2,855.6 1024.7,850.5 1020.2,845.1 1014.5,841.3 1014.5,841.3 1008.8,845.1 1004.3,850.3 1000.8,855.2 998.3,859.2 996.4,862.4 995,869.3 994,882 993.2,905.2 992.6,953.2 992.1,969.2 991.5,969.2 991,953.2 990.4,905.2 989.6,882 988.6,869.1 987.2,862.1 985.3,858.9 982.8,854.9 979.3,850 974.8,844.9 969.1,841.3 969.1,841.3 963.4,844.9 958.9,849.8 955.4,854.5 952.9,858.2 951,861.2 949.6,867.7 948.6,879.6 947.8,901.6 947.2,946.8 946.7,961.9 946.1,961.9 945.6,946.8 945,901.6 944.2,879.6 943.2,867.5 941.8,860.9 939.9,857.9 937.4,854.1 933.9,849.5 929.4,844.7 923.7,841.3 923.7,841.3 918,844.6 913.5,849.2 910,853.6 907.5,857 905.6,859.8 904.2,865.9 903.2,877 902.4,897.5 901.8,939.6 901.3,953.6 900.7,953.6 900.2,939.6 899.6,897.5 898.8,877 897.8,865.7 896.4,859.6 894.5,856.7 892,853.2 888.5,848.9 884,844.5 878.3,841.3 878.4,841.3 872.7,844.4 868.2,848.6 864.7,852.6 862.2,855.8 860.3,858.4 858.9,864 857.9,874.1 857.1,892.9 856.5,931.6 856,944.5 855.4,944.5 854.9,931.6 854.3,892.9 853.5,874.1 852.5,863.7 851.1,858 849.2,855.4 846.7,852.2 843.2,848.3 838.7,844.2 833,841.3 833,841.3 827.3,844.1 822.8,848 819.3,851.6 816.8,854.4 814.9,856.8 813.5,861.8 812.5,871 811.7,888 811.1,923 810.6,934.7 810,934.7 809.5,923 808.9,888 808.1,871 807.1,861.5 805.7,856.4 803.8,854 801.3,851.1 797.8,847.6 793.3,843.9 787.6,841.3 787.6,841.3 781.9,843.8 777.4,847.2 773.9,850.5 771.4,853 769.5,855 768.1,859.5 767.1,867.6 766.3,882.7 765.7,913.7 765.2,924.1 764.6,924.1 764.1,913.7 763.5,882.7 762.7,867.6 761.7,859.2 760.3,854.7 758.4,852.6 755.9,850 752.4,846.8 747.9,843.6 742.2,841.3 742.2,841.3 736.5,843.5 732,846.5 728.5,849.3 726,851.5 724.1,853.2 722.7,857.1 721.7,864 720.9,877.1 720.3,903.9 719.8,912.9 719.2,912.9 718.7,903.9 718.1,877.1 717.3,864 716.3,856.7 714.9,852.8 713,851 710.5,848.8 707,846 702.5,843.2 696.8,841.3 696.8,841.3 691.1,843.2 686.6,845.7 683.1,848 680.6,849.8 678.7,851.3 677.3,854.5 676.3,860.3 675.5,871.2 674.9,893.6 674.4,901.1 673.8,901.1 673.3,893.6 672.7,871.2 671.9,860.3 670.9,854.2 669.5,850.9 667.6,849.4 665.1,847.5 661.6,845.2 657.1,842.9 651.4,841.3 651.4,841.3 645.7,842.8 641.2,844.8 637.7,846.7 635.2,848.1 633.3,849.3 631.9,851.9 630.9,856.4 630.1,865.1 629.5,882.9 629,888.9 628.4,888.9 627.9,882.9 627.3,865.1 626.5,856.4 625.5,851.5 624.1,848.9 622.2,847.7 619.7,846.2 616.2,844.4 611.7,842.5 606,841.3 606.1,841.3 600.4,842.5 595.9,844 592.4,845.3 589.9,846.4 588,847.2 586.6,849.1 585.6,852.4 584.8,858.8 584.2,871.9 583.7,876.3 583.1,876.3 582.6,871.9 582,858.8 581.2,852.4 580.2,848.7 578.8,846.8 576.9,845.9 574.4,844.8 570.9,843.5 566.4,842.2 560.7,841.3 560.7,841.3 555,842.1 550.5,843.1 547,844 544.5,844.6 542.6,845.1 541.2,846.3 540.2,848.3 539.4,852.4 538.8,860.7 538.3,863.5 537.7,863.5 537.2,860.7 536.6,852.4 535.8,848.3 534.8,845.9 533.4,844.7 531.5,844.1 529,843.4 525.5,842.6 521,841.8 515.3,841.3 515.3,841.3 509.6,841.7 505.1,842.2 501.6,842.6 499.1,842.8 497.2,843 495.8,843.5 494.8,844.2 494,845.9 493.4,849.3 492.9,850.4 492.3,850.4 491.8,849.3 491.2,845.9 490.4,844.2 489.4,843.1 488,842.6 486.1,842.3 483.6,842 480.1,841.7 475.6,841.4 469.9,841.3 469.9,841.3 464.2,841.3 459.7,841.3 456.2,841.3 453.7,841.3 451.8,841.3 450.4,841.3 449.4,841.3 448.6,841.3 448,841.3 447.5,841.3 446.9,841.3 446.4,841.3 445.8,841.3 445,841.3 444,841.3 442.6,841.3 440.7,841.3 438.2,841.3 434.7,841.3 430.2,841.3 424.5,841.3Z" fill="#bf00bf" stroke="#bf00bf" stroke-width="2.3" stroke-linejoin="round"/>
<path d="M566.1,841.3 571.8,841.3 576.3,841.3 579.8,841.3 582.3,841.3 584.2,841.3 585.6,841.3 586.6,841.3 587.4,841.3 588,841.3 588.5,841.3 589.1,841.3 589.6,841.3 590.2,841.3 591,841.3 592,841.3 593.4,841.3 595.3,841.3 597.8,841.3 601.3,841.3 605.8,841.2 611.5,841.3 611.5,841.3 617.2,841.1 621.7,840.9 625.2,840.5 627.7,840.2 629.6,839.9 631,839.3 632,838.1 632.8,836.3 633.4,832.5 633.9,831.2 634.5,831.2 635,832.5 635.6,836.3 636.4,838.1 637.4,838.9 638.8,839.4 640.7,839.6 643.2,839.9 646.7,840.4 651.2,840.9 656.9,841.3 656.9,841.3 662.6,840.8 667.1,839.9 670.6,839.1 673.1,838.4 675,837.7 676.4,836.5 677.4,834 678.2,829.8 678.8,821.1 679.3,818.2 679.9,818.2 680.4,821.1 681,829.8 681.8,834 682.8,836.1 684.2,837.3 686.1,837.8 688.6,838.5 692.1,839.5 696.6,840.5 702.3,841.3 702.3,841.3 708,840.4 712.5,839.1 716,837.7 718.5,836.6 720.4,835.6 721.8,833.7 722.8,829.9 723.6,823.3 724.2,809.9 724.7,805.4 725.3,805.4 725.8,809.9 726.4,823.3 727.2,829.9 728.2,833.3 729.6,835.2 731.5,836.1 734,837.2 737.5,838.6 742,840.1 747.7,841.3 747.6,841.3 753.3,840 757.8,838.2 761.3,836.3 763.8,834.8 765.7,833.6 767.1,830.9 768.1,825.9 768.9,817.1 769.5,798.9 770,792.8 770.6,792.8 771.1,798.9 771.7,817.1 772.5,825.9 773.5,830.5 774.9,833.2 776.8,834.3 779.3,835.8 782.8,837.7 787.3,839.8 793,841.3 793,841.3 798.7,839.7 803.2,837.3 806.7,835 809.2,833.1 811.1,831.6 812.5,828.3 813.5,822 814.3,811 814.9,788.2 815.4,780.6 816,780.6 816.5,788.2 817.1,811 817.9,822 818.9,827.9 820.3,831.2 822.2,832.7 824.7,834.5 828.2,836.9 832.7,839.4 838.4,841.3 838.4,841.3 844.1,839.3 848.6,836.5 852.1,833.7 854.6,831.5 856.5,829.6 857.9,825.7 858.9,818.3 859.7,805.1 860.3,778 860.8,768.9 861.4,768.9 861.9,778 862.5,805.1 863.3,818.3 864.3,825.3 865.7,829.3 867.6,831 870.1,833.2 873.6,836.1 878.1,839.1 883.8,841.3 883.8,841.3 889.5,839 894,835.7 897.5,832.5 900,829.9 901.9,827.8 903.3,823.2 904.3,814.7 905.1,799.5 905.7,768.2 906.2,757.7 906.8,757.7 907.3,768.2 907.9,799.5 908.7,814.7 909.7,822.9 911.1,827.4 913,829.5 915.5,832.1 919,835.3 923.5,838.8 929.2,841.3 929.2,841.3 934.9,838.7 939.4,835 942.9,831.4 945.4,828.5 947.3,826.1 948.7,820.9 949.7,811.4 950.5,794.3 951.1,759 951.6,747.2 952.2,747.2 952.7,759 953.3,794.3 954.1,811.4 955.1,820.6 956.5,825.7 958.4,828 960.9,830.9 964.4,834.6 968.9,838.5 974.6,841.3 974.6,841.3 980.3,838.4 984.8,834.3 988.3,830.3 990.8,827.1 992.7,824.4 994.1,818.8 995.1,808.3 995.9,789.3 996.5,750.4 997,737.4 997.6,737.4 998.1,750.4 998.7,789.3 999.5,808.3 1000.5,818.5 1001.9,824.1 1003.8,826.7 1006.3,829.9 1009.8,833.9 1014.3,838.2 1020,841.3 1019.9,841.3 1025.6,838.1 1030.1,833.6 1033.6,829.3 1036.1,825.8 1038,822.9 1039.4,816.8 1040.4,805.4 1041.2,784.8 1041.8,742.5 1042.3,728.3 1042.9,728.3 1043.4,742.5 1044,784.8 1044.8,805.4 1045.8,816.5 1047.2,822.7 1049.1,825.5 1051.6,828.9 1055.1,833.3 1059.6,837.9 1065.3,841.3 1065.3,841.3 1071,837.9 1075.5,833.1 1079,828.4 1081.5,824.7 1083.4,821.6 1084.8,815 1085.8,802.8 1086.6,780.7 1087.2,735.3 1087.7,720.2 1088.3,720.2 1088.8,735.3 1089.4,780.7 1090.2,802.8 1091.2,814.8 1092.6,821.3 1094.5,824.4 1097,828.1 1100.5,832.8 1105,837.7 1110.7,841.3 1110.7,841.3 1116.4,837.7 1120.9,832.5 1124.4,827.6 1126.9,823.6 1128.8,820.4 1130.2,813.4 1131.2,800.5 1132,777.1 1132.6,729 1133.1,712.9 1133.7,712.9 1134.2,729 1134.8,777.1 1135.6,800.5 1136.6,813.2 1138,820.2 1139.9,823.4 1142.4,827.3 1145.9,832.3 1150.4,837.5 1156.1,841.3 1156.1,841.3 1161.8,837.5 1166.3,832.1 1169.8,826.9 1172.3,822.7 1174.2,819.3 1175.6,812 1176.6,798.5 1177.4,774 1178,723.5 1178.5,706.6 1179.1,706.6 1179.6,723.5 1180.2,774 1181,798.5 1182,811.8 1183.4,819.2 1185.3,822.5 1187.8,826.7 1191.3,831.9 1195.8,837.3 1201.5,841.3 1201.5,841.3 1207.2,837.3 1211.7,831.7 1215.2,826.3 1217.7,822 1219.6,818.5 1221,810.9 1222,796.8 1222.8,771.4 1223.4,718.9 1223.9,701.4 1224.5,701.4 1225,718.9 1225.6,771.4 1226.4,796.8 1227.4,810.7 1228.8,818.3 1230.7,821.8 1233.2,826.1 1236.7,831.5 1241.2,837.2 1246.9,841.3 1246.9,841.3 1252.6,837.2 1257.1,831.4 1260.6,825.8 1263.1,821.4 1265,817.8 1266.4,809.9 1267.4,795.5 1268.2,769.3 1268.8,715.2 1269.3,697.2 1269.9,697.2 1270.4,715.2 1271,769.3 1271.8,795.5 1272.8,809.8 1274.2,817.6 1276.1,821.3 1278.6,825.7 1282.1,831.3 1286.6,837.1 1292.3,841.3 1292.2,841.3 1297.9,837.1 1302.4,831.2 1305.9,825.5 1308.4,820.9 1310.3,817.2 1311.7,809.2 1312.7,794.5 1313.5,767.7 1314.1,712.5 1314.6,694.1 1315.2,694.1 1315.7,712.5 1316.3,767.7 1317.1,794.5 1318.1,809.2 1319.5,817.2 1321.4,820.8 1323.9,825.4 1327.4,831.1 1331.9,837 1337.6,841.3 1337.6,841.3 1343.3,837 1347.8,831 1351.3,825.2 1353.8,820.6 1355.7,816.9 1357.1,808.8 1358.1,793.9 1358.9,766.7 1359.5,710.8 1360,692.2 1360.6,692.2 1361.1,710.8 1361.7,766.7 1362.5,793.9 1363.5,808.7 1364.9,816.9 1366.8,820.6 1369.3,825.2 1372.8,830.9 1377.3,837 1383,841.3 1383,841.3 1388.7,837 1393.2,830.9 1396.7,825.1 1399.2,820.5 1401.1,816.7 1402.5,808.6 1403.5,793.6 1404.3,766.3 1404.9,710.1 1405.4,691.3 1406,691.3 1406.5,710.1 1407.1,766.3 1407.9,793.6 1408.9,808.6 1410.3,816.7 1412.2,820.5 1414.7,825.1 1418.2,830.9 1422.7,837 1428.4,841.3 1428.4,841.3 1434.1,837 1438.6,830.9 1442.1,825.1 1444.6,820.5 1446.5,816.8 1447.9,808.6 1448.9,793.7 1449.7,766.5 1450.3,710.4 1450.8,691.6 1451.4,691.6 1451.9,710.4 1452.5,766.5 1453.3,793.7 1454.3,808.7 1455.7,816.8 1457.6,820.6 1460.1,825.2 1463.6,831 1468.1,837 1473.8,841.3 1473.8,841.3 1479.5,837 1484,831 1487.5,825.3 1490,820.7 1491.9,817 1493.3,808.9 1494.3,794.2 1495.1,767.2 1495.7,711.6 1496.2,693.1 1496.8,693.1 1497.3,711.6 1497.9,767.2 1498.7,794.2 1499.7,809 1501.1,817.1 1503,820.8 1505.5,825.4 1509,831.1 1513.5,837 1519.2,841.3 1519.2,841.3 1524.9,837.1 1529.4,831.2 1532.9,825.5 1535.4,821 1537.3,817.4 1538.7,809.5 1539.7,795 1540.5,768.5 1541.1,713.9 1541.6,695.7 1542.2,695.7 1542.7,713.9 1543.3,768.5 1544.1,795 1545.1,809.6 1546.5,817.5 1548.4,821.2 1550.9,825.7 1554.4,831.3 1558.9,837.1 1564.6,841.3 1564.5,841.3 1570.2,837.1 1574.7,831.4 1578.2,825.9 1580.7,821.5 1582.6,818 1584,810.3 1585,796.2 1585.8,770.3 1586.4,717.1 1586.9,699.3 1587.5,699.3 1588,717.1 1588.6,770.3 1589.4,796.2 1590.4,810.4 1591.8,818.1 1593.7,821.7 1596.2,826.1 1599.7,831.5 1604.2,837.2 1609.9,841.3 1609.9,841.3 1615.6,837.3 1620.1,831.7 1623.6,826.4 1626.1,822.2 1628,818.7 1629.4,811.3 1630.4,797.7 1631.2,772.7 1631.8,721.3 1632.3,704.1 1632.9,704.1 1633.4,721.3 1634,772.7 1634.8,797.7 1635.8,811.5 1637.2,818.9 1639.1,822.4 1641.6,826.6 1645.1,831.9 1649.6,837.4 1655.3,841.3 1655.3,841.3 1661,837.4 1665.5,832.1 1669,827 1671.5,823 1673.4,819.7 1674.8,812.5 1675.8,799.5 1676.6,775.6 1677.2,726.4 1677.7,709.9 1678.3,709.9 1678.8,726.4 1679.4,775.6 1680.2,799.5 1681.2,812.7 1682.6,819.9 1684.5,823.2 1687,827.3 1690.5,832.3 1695,837.6 1700.7,841.3 1700.7,841.3 1706.4,837.6 1710.9,832.5 1714.4,827.7 1716.9,823.9 1718.8,820.8 1720.2,814 1721.2,801.7 1722,779 1722.6,732.3 1723.1,716.7 1723.7,716.7 1724.2,732.3 1724.8,779 1725.6,801.7 1726.6,814.2 1728,821 1729.9,824.2 1732.4,828 1735.9,832.8 1740.4,837.8 1746.1,841.3 1746.1,841.3 1751.8,837.8 1756.3,833.1 1759.8,828.5 1762.3,824.9 1764.2,822 1765.6,815.7 1766.6,804.2 1767.4,782.9 1768,739.1 1768.5,724.5 1769.1,724.5 1769.6,739.1 1770.2,782.9 1771,804.2 1772,815.9 1773.4,822.3 1775.3,825.3 1777.8,828.9 1781.3,833.4 1785.8,838 1791.5,841.3 1791.5,841.3 1797.2,838.1 1801.7,833.6 1805.2,829.4 1807.7,826.1 1809.6,823.4 1811,817.6 1812,806.9 1812.8,787.2 1813.4,746.7 1813.9,733.1 1814.5,733.1 1815,746.7 1815.6,787.2 1816.4,806.9 1817.4,817.8 1818.8,823.7 1820.7,826.5 1823.2,829.8 1826.7,834 1831.2,838.3 1836.9,841.3 1836.8,841.3 1842.5,838.3 1847,834.3 1850.5,830.4 1853,827.4 1854.9,825 1856.3,819.6 1857.3,809.9 1858.1,792 1858.7,754.9 1859.2,742.6 1859.8,742.6 1860.3,754.9 1860.9,792 1861.7,809.9 1862.7,819.9 1864.1,825.3 1866,827.8 1868.5,830.9 1872,834.7 1876.5,838.6 1882.2,841.3 1882.2,841.3 1887.9,838.6 1892.4,835 1895.9,831.5 1898.4,828.8 1900.3,826.6 1901.7,821.8 1902.7,813.2 1903.5,797.1 1904.1,763.9 1904.6,752.8 1905.2,752.8 1905.7,763.9 1906.3,797.1 1907.1,813.2 1908.1,822.2 1909.5,827 1911.4,829.2 1913.9,832 1917.4,835.4 1921.9,838.9 1927.6,841.3 1927.6,841.3 1933.3,838.9 1937.8,835.7 1941.3,832.7 1943.8,830.3 1945.7,828.4 1947.1,824.2 1948.1,816.6 1948.9,802.5 1949.5,773.4 1950,763.7 1950.6,763.7 1951.1,773.4 1951.7,802.5 1952.5,816.6 1953.5,824.5 1954.9,828.8 1956.8,830.8 1959.3,833.2 1962.8,836.1 1967.3,839.2 1973,841.3 1973,841.3 1978.7,839.3 1983.2,836.5 1986.7,833.9 1989.2,831.9 1991.1,830.3 1992.5,826.7 1993.5,820.3 1994.3,808.3 1994.9,783.5 1995.4,775.2 1996,775.2 1996.5,783.5 1997.1,808.3 1997.9,820.3 1998.9,827.1 2000.3,830.7 2002.2,832.4 2004.7,834.4 2008.2,836.9 2012.7,839.5 2018.4,841.3 2018.4,841.3 2024.1,839.6 2028.6,837.3 2032.1,835.2 2034.6,833.6 2036.5,832.2 2037.9,829.3 2038.9,824.1 2039.7,814.3 2040.3,794 2040.8,787.2 2041.4,787.2 2041.9,794 2042.5,814.3 2043.3,824.1 2044.3,829.7 2045.7,832.6 2047.6,834 2050.1,835.7 2053.6,837.8 2058.1,839.9 2063.8,841.3 2063.8,841.3 2069.5,840 2074,838.2 2077.5,836.5 2080,835.3 2081.9,834.3 2083.3,832 2084.3,828 2085.1,820.4 2085.7,804.8 2086.2,799.6 2086.8,799.6 2087.3,804.8 2087.9,820.4 2088.7,828 2089.7,832.4 2091.1,834.7 2093,835.8 2095.5,837.1 2099,838.7 2103.5,840.2 2109.2,841.3 2109.1,841.3 2114.8,840.3 2119.3,839 2122.8,837.9 2125.3,837 2127.2,836.3 2128.6,834.8 2129.6,832.1 2130.4,826.8 2131,815.9 2131.5,812.3 2132.1,812.3 2132.6,815.9 2133.2,826.8 2134,832.1 2135,835.2 2136.4,836.8 2138.3,837.5 2140.8,838.4 2144.3,839.5 2148.8,840.6 2154.5,841.3 2154.5,841.3 2160.2,840.7 2164.7,839.9 2168.2,839.3 2170.7,838.8 2172.6,838.5 2174,837.6 2175,836.2 2175.8,833.3 2176.4,827.3 2176.9,825.2 2177.5,825.2 2178,827.3 2178.6,833.3 2179.4,836.2 2180.4,838 2181.8,838.9 2183.7,839.3 2186.2,839.8 2189.7,840.4 2194.2,841 2199.9,841.3 2199.9,841.3 2205.6,841.1 2210.1,840.8 2213.6,840.7 2216.1,840.6 2218,840.6 2219.4,840.4 2220.4,840.3 2221.2,839.8 2221.8,838.7 2222.3,838.3 2222.9,838.3 2223.4,838.7 2224,839.8 2224.8,840.3 2225.8,840.8 2227.2,841 2229.1,841.1 2231.6,841.3 2235.1,841.3 2239.6,841.3 2245.3,841.3L2245.3,841.3 2239.6,841.3 2235.1,841.3 2231.6,841.3 2229.1,841.5 2227.2,841.6 2225.8,841.8 2224.8,842.3 2224,842.8 2223.4,843.9 2222.9,844.3 2222.3,844.3 2221.8,843.9 2221.2,842.8 2220.4,842.3 2219.4,842.2 2218,842 2216.1,842 2213.6,841.9 2210.1,841.8 2205.6,841.5 2199.9,841.3 2199.9,841.3 2194.2,841.6 2189.7,842.2 2186.2,842.8 2183.7,843.3 2181.8,843.7 2180.4,844.6 2179.4,846.4 2178.6,849.3 2178,855.3 2177.5,857.4 2176.9,857.4 2176.4,855.3 2175.8,849.3 2175,846.4 2174,845 2172.6,844.1 2170.7,843.8 2168.2,843.3 2164.7,842.7 2160.2,841.9 2154.5,841.3 2154.5,841.3 2148.8,842 2144.3,843.1 2140.8,844.2 2138.3,845.1 2136.4,845.8 2135,847.4 2134,850.5 2133.2,855.8 2132.6,866.7 2132.1,870.3 2131.5,870.3 2131,866.7 2130.4,855.8 2129.6,850.5 2128.6,847.8 2127.2,846.3 2125.3,845.6 2122.8,844.7 2119.3,843.6 2114.8,842.3 2109.1,841.3 2109.2,841.3 2103.5,842.4 2099,843.9 2095.5,845.5 2093,846.8 2091.1,847.9 2089.7,850.2 2088.7,854.6 2087.9,862.2 2087.3,877.8 2086.8,883 2086.2,883 2085.7,877.8 2085.1,862.2 2084.3,854.6 2083.3,850.6 2081.9,848.3 2080,847.3 2077.5,846.1 2074,844.4 2069.5,842.6 2063.8,841.3 2063.8,841.3 2058.1,842.7 2053.6,844.8 2050.1,846.9 2047.6,848.6 2045.7,850 2044.3,852.9 2043.3,858.5 2042.5,868.3 2041.9,888.6 2041.4,895.4 2040.8,895.4 2040.3,888.6 2039.7,868.3 2038.9,858.5 2037.9,853.3 2036.5,850.4 2034.6,849 2032.1,847.4 2028.6,845.3 2024.1,843 2018.4,841.3 2018.4,841.3 2012.7,843.1 2008.2,845.7 2004.7,848.2 2002.2,850.2 2000.3,851.9 1998.9,855.5 1997.9,862.3 1997.1,874.3 1996.5,899.1 1996,907.4 1995.4,907.4 1994.9,899.1 1994.3,874.3 1993.5,862.3 1992.5,855.9 1991.1,852.3 1989.2,850.7 1986.7,848.7 1983.2,846.1 1978.7,843.3 1973,841.3 1973,841.3 1967.3,843.4 1962.8,846.5 1959.3,849.4 1956.8,851.8 1954.9,853.8 1953.5,858.1 1952.5,866 1951.7,880.1 1951.1,909.2 1950.6,918.9 1950,918.9 1949.5,909.2 1948.9,880.1 1948.1,866 1947.1,858.4 1945.7,854.2 1943.8,852.3 1941.3,849.9 1937.8,846.9 1933.3,843.7 1927.6,841.3 1927.6,841.3 1921.9,843.7 1917.4,847.2 1913.9,850.6 1911.4,853.4 1909.5,855.6 1908.1,860.4 1907.1,869.4 1906.3,885.5 1905.7,918.7 1905.2,929.8 1904.6,929.8 1904.1,918.7 1903.5,885.5 1902.7,869.4 1901.7,860.8 1900.3,856 1898.4,853.8 1895.9,851.1 1892.4,847.6 1887.9,844 1882.2,841.3 1882.2,841.3 1876.5,844 1872,847.9 1868.5,851.7 1866,854.8 1864.1,857.3 1862.7,862.7 1861.7,872.7 1860.9,890.6 1860.3,927.7 1859.8,940 1859.2,940 1858.7,927.7 1858.1,890.6 1857.3,872.7 1856.3,863 1854.9,857.6 1853,855.2 1850.5,852.2 1847,848.3 1842.5,844.3 1836.8,841.3 1836.9,841.3 1831.2,844.3 1826.7,848.6 1823.2,852.8 1820.7,856.1 1818.8,858.9 1817.4,864.8 1816.4,875.7 1815.6,895.4 1815,935.9 1814.5,949.5 1813.9,949.5 1813.4,935.9 1812.8,895.4 1812,875.7 1811,865 1809.6,859.2 1807.7,856.5 1805.2,853.2 1801.7,849 1797.2,844.5 1791.5,841.3 1791.5,841.3 1785.8,844.6 1781.3,849.2 1777.8,853.7 1775.3,857.3 1773.4,860.3 1772,866.7 1771,878.4 1770.2,899.7 1769.6,943.5 1769.1,958.1 1768.5,958.1 1768,943.5 1767.4,899.7 1766.6,878.4 1765.6,866.9 1764.2,860.6 1762.3,857.7 1759.8,854.1 1756.3,849.5 1751.8,844.8 1746.1,841.3 1746.1,841.3 1740.4,844.8 1735.9,849.8 1732.4,854.6 1729.9,858.4 1728,861.6 1726.6,868.4 1725.6,880.9 1724.8,903.6 1724.2,950.3 1723.7,965.9 1723.1,965.9 1722.6,950.3 1722,903.6 1721.2,880.9 1720.2,868.6 1718.8,861.8 1716.9,858.7 1714.4,854.9 1710.9,850.1 1706.4,845 1700.7,841.3 1700.7,841.3 1695,845 1690.5,850.3 1687,855.3 1684.5,859.4 1682.6,862.7 1681.2,869.9 1680.2,883.1 1679.4,907 1678.8,956.2 1678.3,972.7 1677.7,972.7 1677.2,956.2 1676.6,907 1675.8,883.1 1674.8,870.1 1673.4,862.9 1671.5,859.6 1669,855.6 1665.5,850.5 1661,845.2 1655.3,841.3 1655.3,841.3 1649.6,845.2 1645.1,850.7 1641.6,856 1639.1,860.2 1637.2,863.7 1635.8,871.1 1634.8,884.9 1634,909.9 1633.4,961.3 1632.9,978.5 1632.3,978.5 1631.8,961.3 1631.2,909.9 1630.4,884.9 1629.4,871.3 1628,863.9 1626.1,860.4 1623.6,856.2 1620.1,850.9 1615.6,845.3 1609.9,841.3 1609.9,841.3 1604.2,845.4 1599.7,851.1 1596.2,856.5 1593.7,860.9 1591.8,864.5 1590.4,872.2 1589.4,886.4 1588.6,912.3 1588,965.5 1587.5,983.3 1586.9,983.3 1586.4,965.5 1585.8,912.3 1585,886.4 1584,872.3 1582.6,864.6 1580.7,861.1 1578.2,856.7 1574.7,851.2 1570.2,845.5 1564.5,841.3 1564.6,841.3 1558.9,845.5 1554.4,851.3 1550.9,856.9 1548.4,861.4 1546.5,865.1 1545.1,873 1544.1,887.6 1543.3,914.1 1542.7,968.7 1542.2,986.9 1541.6,986.9 1541.1,968.7 1540.5,914.1 1539.7,887.6 1538.7,873.1 1537.3,865.2 1535.4,861.6 1532.9,857.1 1529.4,851.4 1524.9,845.5 1519.2,841.3 1519.2,841.3 1513.5,845.6 1509,851.5 1505.5,857.2 1503,861.8 1501.1,865.5 1499.7,873.6 1498.7,888.4 1497.9,915.4 1497.3,971 1496.8,989.5 1496.2,989.5 1495.7,971 1495.1,915.4 1494.3,888.4 1493.3,873.7 1491.9,865.6 1490,861.9 1487.5,857.3 1484,851.6 1479.5,845.6 1473.8,841.3 1473.8,841.3 1468.1,845.6 1463.6,851.6 1460.1,857.4 1457.6,862 1455.7,865.8 1454.3,873.9 1453.3,888.9 1452.5,916.1 1451.9,972.2 1451.4,991 1450.8,991 1450.3,972.2 1449.7,916.1 1448.9,888.9 1447.9,874 1446.5,865.8 1444.6,862.1 1442.1,857.5 1438.6,851.7 1434.1,845.6 1428.4,841.3 1428.4,841.3 1422.7,845.6 1418.2,851.7 1414.7,857.5 1412.2,862.1 1410.3,865.9 1408.9,874 1407.9,889 1407.1,916.3 1406.5,972.5 1406,991.3 1405.4,991.3 1404.9,972.5 1404.3,916.3 1403.5,889 1402.5,874 1401.1,865.9 1399.2,862.1 1396.7,857.5 1393.2,851.7 1388.7,845.6 1383,841.3 1383,841.3 1377.3,845.6 1372.8,851.7 1369.3,857.4 1366.8,862 1364.9,865.7 1363.5,873.9 1362.5,888.7 1361.7,915.9 1361.1,971.8 1360.6,990.4 1360,990.4 1359.5,971.8 1358.9,915.9 1358.1,888.7 1357.1,873.8 1355.7,865.7 1353.8,862 1351.3,857.4 1347.8,851.6 1343.3,845.6 1337.6,841.3 1337.6,841.3 1331.9,845.6 1327.4,851.5 1323.9,857.2 1321.4,861.8 1319.5,865.4 1318.1,873.4 1317.1,888.1 1316.3,914.9 1315.7,970.1 1315.2,988.5 1314.6,988.5 1314.1,970.1 1313.5,914.9 1312.7,888.1 1311.7,873.4 1310.3,865.4 1308.4,861.7 1305.9,857.1 1302.4,851.4 1297.9,845.5 1292.2,841.3 1292.3,841.3 1286.6,845.5 1282.1,851.3 1278.6,856.9 1276.1,861.3 1274.2,865 1272.8,872.8 1271.8,887.1 1271,913.3 1270.4,967.4 1269.9,985.4 1269.3,985.4 1268.8,967.4 1268.2,913.3 1267.4,887.1 1266.4,872.7 1265,864.8 1263.1,861.2 1260.6,856.8 1257.1,851.2 1252.6,845.4 1246.9,841.3 1246.9,841.3 1241.2,845.4 1236.7,851.1 1233.2,856.5 1230.7,860.8 1228.8,864.3 1227.4,871.9 1226.4,885.8 1225.6,911.2 1225,963.7 1224.5,981.2 1223.9,981.2 1223.4,963.7 1222.8,911.2 1222,885.8 1221,871.7 1219.6,864.1 1217.7,860.6 1215.2,856.3 1211.7,850.9 1207.2,845.3 1201.5,841.3 1201.5,841.3 1195.8,845.3 1191.3,850.7 1187.8,855.9 1185.3,860.1 1183.4,863.4 1182,870.8 1181,884.1 1180.2,908.6 1179.6,959.1 1179.1,976 1178.5,976 1178,959.1 1177.4,908.6 1176.6,884.1 1175.6,870.6 1174.2,863.3 1172.3,859.9 1169.8,855.7 1166.3,850.5 1161.8,845.1 1156.1,841.3 1156.1,841.3 1150.4,845.1 1145.9,850.3 1142.4,855.3 1139.9,859.2 1138,862.4 1136.6,869.4 1135.6,882.1 1134.8,905.5 1134.2,953.6 1133.7,969.7 1133.1,969.7 1132.6,953.6 1132,905.5 1131.2,882.1 1130.2,869.2 1128.8,862.2 1126.9,859 1124.4,855 1120.9,850.1 1116.4,844.9 1110.7,841.3 1110.7,841.3 1105,844.9 1100.5,849.8 1097,854.5 1094.5,858.2 1092.6,861.3 1091.2,867.8 1090.2,879.8 1089.4,901.9 1088.8,947.3 1088.3,962.4 1087.7,962.4 1087.2,947.3 1086.6,901.9 1085.8,879.8 1084.8,867.6 1083.4,861 1081.5,857.9 1079,854.2 1075.5,849.5 1071,844.7 1065.3,841.3 1065.3,841.3 1059.6,844.7 1055.1,849.3 1051.6,853.7 1049.1,857.1 1047.2,859.9 1045.8,866.1 1044.8,877.2 1044,897.8 1043.4,940.1 1042.9,954.3 1042.3,954.3 1041.8,940.1 1041.2,897.8 1040.4,877.2 1039.4,865.8 1038,859.7 1036.1,856.8 1033.6,853.3 1030.1,849 1025.6,844.5 1019.9,841.3 1020,841.3 1014.3,844.4 1009.8,848.7 1006.3,852.7 1003.8,855.9 1001.9,858.5 1000.5,864.1 999.5,874.3 998.7,893.3 998.1,932.2 997.6,945.2 997,945.2 996.5,932.2 995.9,893.3 995.1,874.3 994.1,863.8 992.7,858.2 990.8,855.5 988.3,852.3 984.8,848.3 980.3,844.2 974.6,841.3 974.6,841.3 968.9,844.1 964.4,848 960.9,851.7 958.4,854.6 956.5,856.9 955.1,862 954.1,871.2 953.3,888.3 952.7,923.6 952.2,935.4 951.6,935.4 951.1,923.6 950.5,888.3 949.7,871.2 948.7,861.7 947.3,856.5 945.4,854.1 942.9,851.2 939.4,847.6 934.9,843.9 929.2,841.3 929.2,841.3 923.5,843.8 919,847.3 915.5,850.5 913,853.1 911.1,855.2 909.7,859.7 908.7,867.9 907.9,883.1 907.3,914.4 906.8,924.9 906.2,924.9 905.7,914.4 905.1,883.1 904.3,867.9 903.3,859.4 901.9,854.8 900,852.7 897.5,850.1 894,846.9 889.5,843.6 883.8,841.3 883.8,841.3 878.1,843.5 873.6,846.5 870.1,849.4 867.6,851.6 865.7,853.3 864.3,857.3 863.3,864.3 862.5,877.5 861.9,904.6 861.4,913.7 860.8,913.7 860.3,904.6 859.7,877.5 858.9,864.3 857.9,856.9 856.5,853 854.6,851.1 852.1,848.9 848.6,846.1 844.1,843.3 838.4,841.3 838.4,841.3 832.7,843.2 828.2,845.7 824.7,848.1 822.2,849.9 820.3,851.4 818.9,854.7 817.9,860.6 817.1,871.6 816.5,894.4 816,902 815.4,902 814.9,894.4 814.3,871.6 813.5,860.6 812.5,854.3 811.1,851 809.2,849.5 806.7,847.6 803.2,845.3 798.7,842.9 793,841.3 793,841.3 787.3,842.8 782.8,844.9 779.3,846.8 776.8,848.3 774.9,849.4 773.5,852.1 772.5,856.7 771.7,865.5 771.1,883.7 770.6,889.8 770,889.8 769.5,883.7 768.9,865.5 768.1,856.7 767.1,851.7 765.7,849 763.8,847.8 761.3,846.3 757.8,844.4 753.3,842.6 747.6,841.3 747.7,841.3 742,842.5 737.5,844 734,845.4 731.5,846.5 729.6,847.4 728.2,849.3 727.2,852.7 726.4,859.3 725.8,872.7 725.3,877.2 724.7,877.2 724.2,872.7 723.6,859.3 722.8,852.7 721.8,848.9 720.4,847 718.5,846 716,844.9 712.5,843.5 708,842.2 702.3,841.3 702.3,841.3 696.6,842.1 692.1,843.1 688.6,844.1 686.1,844.8 684.2,845.3 682.8,846.5 681.8,848.6 681,852.8 680.4,861.5 679.9,864.4 679.3,864.4 678.8,861.5 678.2,852.8 677.4,848.6 676.4,846.1 675,844.9 673.1,844.2 670.6,843.5 667.1,842.7 662.6,841.8 656.9,841.3 656.9,841.3 651.2,841.7 646.7,842.2 643.2,842.7 640.7,843 638.8,843.2 637.4,843.7 636.4,844.5 635.6,846.3 635,850.1 634.5,851.4 633.9,851.4 633.4,850.1 632.8,846.3 632,844.5 631,843.3 629.6,842.7 627.7,842.4 625.2,842.1 621.7,841.7 617.2,841.5 611.5,841.3 611.5,841.3 605.8,841.4 601.3,841.3 597.8,841.3 595.3,841.3 593.4,841.3 592,841.3 591,841.3 590.2,841.3 589.6,841.3 589.1,841.3 588.5,841.3 588,841.3 587.4,841.3 586.6,841.3 585.6,841.3 584.2,841.3 582.3,841.3 579.8,841.3 576.3,841.3 571.8,841.3 566.1,841.3Z" fill="#bfbf00" stroke="#bfbf00" stroke-width="2.3" stroke-linejoin="round"/>
<path d="M241.4,841.3H2233" stroke="#bfbf00" stroke-width="2.6"/>
</g>
<text x="241.4" y="1053.6" font-size="55" text-anchor="middle">0</text>
<text x="473.2 494.8 527.2 554.2" y="1053.6" font-size="55" text-anchor="middle">0.05</text>
<text x="759 780.6 813" y="1053.6" font-size="55" text-anchor="middle">0.1</text>
<text x="1017.8 1039.4 1071.8 1098.8" y="1053.6" font-size="55" text-anchor="middle">0.15</text>
<text x="1303.6 1325.2 1357.6" y="1053.6" font-size="55" text-anchor="middle">0.2</text>
<text x="1562.4 1584 1616.4 1643.4" y="1053.6" font-size="55" text-anchor="middle">0.25</text>
<text x="1848.2 1869.8 1902.2" y="1053.6" font-size="55" text-anchor="middle">0.3</text>
<text x="2107 2128.6 2161 2188" y="1053.6" font-size="55" text-anchor="middle">0.35</text>
<text x="133.5 155.1 187.5 214.5" y="717.3" font-size="55" text-anchor="middle">0.02</text>
<text x="212.5" y="859.9" font-size="55" text-anchor="middle">0</text>
<text x="103.6 130.6 152.2 184.6 211.6" y="1002.9" font-size="55" text-anchor="middle">−0.02</text>
<text x="627.3 656.9 686.5 716.1 745.7 775.3 804.9 834.5 864.1 893.7 923.3 952.9 982.5 1012.1 1041.7 1071.3 1100.9 1130.5 1160.1 1189.7 1219.3 1248.9 1278.5 1308.1 1337.7 1367.3 1396.9 1426.5 1456.1 1485.7 1515.3 1544.9 1574.5 1604.1 1633.7 1663.3 1692.9 1722.5 1752.1 1781.7 1811.3 1840.9 1870.5 1900.1 1929.7" y="667.5" font-size="61" text-anchor="middle">(b)<tspan textLength="28.5" lengthAdjust="spacingAndGlyphs">T</tspan>he ti<tspan textLength="27.5" lengthAdjust="spacingAndGlyphs">m</tspan>e-frequency ato<tspan textLength="27.5" lengthAdjust="spacingAndGlyphs">m</tspan> of vibration plane</text>
<text x="1202.2 1231.8 1261.4 1291 1320.6 1350.2" y="1127.5" font-size="61" text-anchor="middle"><tspan textLength="28.5" lengthAdjust="spacingAndGlyphs">T</tspan>i<tspan textLength="27.5" lengthAdjust="spacingAndGlyphs">m</tspan>e/s</text>
</g>
<g id="axes2">
<path d="M513.7,1276.4V1577.1M786,1276.4V1577.1M1058.3,1276.4V1577.1M1330.6,1276.4V1577.1M1602.9,1276.4V1577.1M1875.2,1276.4V1577.1M2147.5,1276.4V1577.1M241.4,1282.7H2309.4M241.4,1430.2H2309.4M241.4,1577.1H2309.4" stroke="#e8e8ea" stroke-width="2.7" fill="none"/>
<rect x="241.4" y="1276.4" width="2068" height="300.7" fill="none" stroke="#454545" stroke-width="3.7"/>
<path d="M513.7,1276.4v19M513.7,1577.1v-19M786,1276.4v19M786,1577.1v-19M1058.3,1276.4v19M1058.3,1577.1v-19M1330.6,1276.4v19M1330.6,1577.1v-19M1602.9,1276.4v19M1602.9,1577.1v-19M1875.2,1276.4v19M1875.2,1577.1v-19M2147.5,1276.4v19M2147.5,1577.1v-19M241.4,1282.7h20M2309.4,1282.7h-20M241.4,1430.2h20M2309.4,1430.2h-20M241.4,1577.1h20M2309.4,1577.1h-20" stroke="#454545" stroke-width="3.1" fill="none"/>
<g clip-path="url(#c2)">
<path d="M241.4,1430.2H1846.3" stroke="#bdb650" stroke-width="4.6"/>
<path d="M1846.3,1430.2H2233" stroke="#c8c83c" stroke-width="3.4"/>
<polygon points="382,1430.2 380.7,1428.7 380.1,1427.2 379.5,1425.2 378.9,1423.2 378.5,1420.2 378.2,1416.2 378,1411.2 377.9,1404.2 377.8,1394.2 377.3,1390.4 373.9,1390.4 373.5,1394.2 373.4,1404.2 373.2,1411.2 373.1,1416.2 372.8,1420.2 372.4,1423.2 371.8,1425.2 371.2,1427.2 370.6,1428.7 369.2,1430.2 369.2,1430.2 370.6,1431.6 371.2,1433 371.8,1434.9 372.4,1436.8 372.8,1439.6 373.1,1443.4 373.2,1448.1 373.4,1454.6 373.5,1464 373.9,1467.6 377.3,1467.6 377.8,1464 377.9,1454.6 378,1448.1 378.2,1443.4 378.5,1439.6 378.9,1436.8 379.5,1434.9 380.1,1433 380.7,1431.6 382,1430.2" fill="#0000ff"/>
<polygon points="661.1,1430.2 657.6,1428.7 656.1,1427.2 655.1,1425.2 653.6,1423.2 652.5,1420.2 651.7,1416.2 651.2,1411.2 650.9,1404.2 650.6,1394.2 650.4,1380.2 650.2,1360.2 650.1,1330.2 649.6,1320.3 646.2,1320.3 645.8,1330.2 645.7,1360.2 645.5,1380.2 645.3,1394.2 645,1404.2 644.7,1411.2 644.2,1416.2 643.4,1420.2 642.3,1423.2 640.8,1425.2 639.7,1427.2 638.2,1428.7 634.7,1430.2 634.7,1430.2 638.2,1431.6 639.7,1433 640.8,1434.9 642.3,1436.8 643.4,1439.6 644.2,1443.4 644.7,1448.1 645,1454.6 645.3,1464 645.5,1477.2 645.7,1496 645.8,1524.2 646.2,1533.5 649.6,1533.5 650.1,1524.2 650.2,1496 650.4,1477.2 650.6,1464 650.9,1454.6 651.2,1448.1 651.7,1443.4 652.5,1439.6 653.6,1436.8 655.1,1434.9 656.1,1433 657.6,1431.6 661.1,1430.2" fill="#0000ff"/>
<polygon points="933.4,1430.2 929.9,1428.7 928.4,1427.2 928.4,1425.2 927.3,1423.2 925.8,1420.2 924.7,1416.2 924,1411.2 923.5,1404.2 923.1,1394.2 922.9,1380.2 922.7,1360.2 922.5,1330.2 921.9,1279.7 918.5,1279.7 918,1330.2 917.8,1360.2 917.6,1380.2 917.3,1394.2 917,1404.2 916.4,1411.2 915.8,1416.2 914.7,1420.2 913.2,1423.2 912,1425.2 912,1427.2 910.5,1428.7 907,1430.2 907,1430.2 910.5,1431.6 912,1433 912,1434.9 913.2,1436.8 914.7,1439.6 915.8,1443.4 916.4,1448.1 917,1454.6 917.3,1464 917.6,1477.2 917.8,1496 918,1524.2 918.5,1571.7 921.9,1571.7 922.5,1524.2 922.7,1496 922.9,1477.2 923.1,1464 923.5,1454.6 924,1448.1 924.7,1443.4 925.8,1439.6 927.3,1436.8 928.4,1434.9 928.4,1433 929.9,1431.6 933.4,1430.2" fill="#0000ff"/>
<polygon points="1205.7,1430.2 1202.2,1428.7 1200.7,1427.2 1200.7,1425.2 1199.6,1423.2 1198.1,1420.2 1197,1416.2 1196.3,1411.2 1195.8,1404.2 1195.4,1394.2 1195.2,1380.2 1195,1360.2 1194.8,1330.2 1194.2,1279.4 1190.8,1279.4 1190.3,1330.2 1190.1,1360.2 1189.9,1380.2 1189.6,1394.2 1189.3,1404.2 1188.7,1411.2 1188.1,1416.2 1187,1420.2 1185.5,1423.2 1184.3,1425.2 1184.3,1427.2 1182.8,1428.7 1179.3,1430.2 1179.3,1430.2 1182.8,1431.6 1184.3,1433 1184.3,1434.9 1185.5,1436.8 1187,1439.6 1188.1,1443.4 1188.7,1448.1 1189.3,1454.6 1189.6,1464 1189.9,1477.2 1190.1,1496 1190.3,1524.2 1190.8,1572 1194.2,1572 1194.8,1524.2 1195,1496 1195.2,1477.2 1195.4,1464 1195.8,1454.6 1196.3,1448.1 1197,1443.4 1198.1,1439.6 1199.6,1436.8 1200.7,1434.9 1200.7,1433 1202.2,1431.6 1205.7,1430.2" fill="#0000ff"/>
<polygon points="1478,1430.2 1474.5,1428.7 1473,1427.2 1472.1,1425.2 1470.5,1423.2 1469.4,1420.2 1468.6,1416.2 1468.1,1411.2 1467.8,1404.2 1467.5,1394.2 1467.3,1380.2 1467.1,1360.2 1467,1330.2 1466.5,1319.5 1463.1,1319.5 1462.7,1330.2 1462.6,1360.2 1462.4,1380.2 1462.2,1394.2 1461.9,1404.2 1461.5,1411.2 1461,1416.2 1460.3,1420.2 1459.1,1423.2 1457.6,1425.2 1456.6,1427.2 1455.1,1428.7 1451.6,1430.2 1451.6,1430.2 1455.1,1431.6 1456.6,1433 1457.6,1434.9 1459.1,1436.8 1460.3,1439.6 1461,1443.4 1461.5,1448.1 1461.9,1454.6 1462.2,1464 1462.4,1477.2 1462.6,1496 1462.7,1524.2 1463.1,1534.3 1466.5,1534.3 1467,1524.2 1467.1,1496 1467.3,1477.2 1467.5,1464 1467.8,1454.6 1468.1,1448.1 1468.6,1443.4 1469.4,1439.6 1470.5,1436.8 1472.1,1434.9 1473,1433 1474.5,1431.6 1478,1430.2" fill="#0000ff"/>
<polygon points="1743.7,1430.2 1742.2,1428.7 1741.6,1427.2 1741,1425.2 1740.4,1423.2 1740,1420.2 1739.7,1416.2 1739.6,1411.2 1739.4,1404.2 1739.3,1394.2 1738.8,1389.3 1735.4,1389.3 1735,1394.2 1734.9,1404.2 1734.7,1411.2 1734.5,1416.2 1734.3,1420.2 1733.8,1423.2 1733.3,1425.2 1732.7,1427.2 1732.1,1428.7 1730.6,1430.2 1730.6,1430.2 1732.1,1431.6 1732.7,1433 1733.3,1434.9 1733.8,1436.8 1734.3,1439.6 1734.5,1443.4 1734.7,1448.1 1734.9,1454.6 1735,1464 1735.4,1468.7 1738.8,1468.7 1739.3,1464 1739.4,1454.6 1739.6,1448.1 1739.7,1443.4 1740,1439.6 1740.4,1436.8 1741,1434.9 1741.6,1433 1742.2,1431.6 1743.7,1430.2" fill="#0000ff"/>
<polygon points="269.5,1430.2 269.2,1428.7 269.1,1427.2 269,1425.2 268.9,1423.2 268.4,1422.6 265,1422.6 264.6,1423.2 264.5,1425.2 264.3,1427.2 264.2,1428.7 264,1430.2 264,1430.2 264.2,1431.6 264.3,1433 264.5,1434.9 264.6,1436.8 265,1437.3 268.4,1437.3 268.9,1436.8 269,1434.9 269.1,1433 269.2,1431.6 269.5,1430.2" fill="#008000"/>
<polygon points="550.5,1430.2 547.5,1428.7 546.2,1427.2 545,1425.2 543.8,1423.2 543,1420.2 542.4,1416.2 542,1411.2 541.7,1404.2 541.5,1394.2 541.3,1380.2 541.2,1360.2 540.7,1345.7 537.3,1345.7 536.8,1360.2 536.7,1380.2 536.6,1394.2 536.3,1404.2 536.1,1411.2 535.7,1416.2 535.1,1420.2 534.2,1423.2 533.1,1425.2 531.8,1427.2 530.5,1428.7 527.6,1430.2 527.6,1430.2 530.5,1431.6 531.8,1433 533.1,1434.9 534.2,1436.8 535.1,1439.6 535.7,1443.4 536.1,1448.1 536.3,1454.6 536.6,1464 536.7,1477.2 536.8,1496 537.3,1509.6 540.7,1509.6 541.2,1496 541.3,1477.2 541.5,1464 541.7,1454.6 542,1448.1 542.4,1443.4 543,1439.6 543.8,1436.8 545,1434.9 546.2,1433 547.5,1431.6 550.5,1430.2" fill="#008000"/>
<polygon points="824.5,1430.2 821,1428.7 819.5,1427.2 819.5,1425.2 818,1423.2 816.6,1420.2 815.6,1416.2 815,1411.2 814.5,1404.2 814.1,1394.2 813.9,1380.2 813.7,1360.2 813.6,1330.2 813,1291.5 809.6,1291.5 809.1,1330.2 808.9,1360.2 808.8,1380.2 808.5,1394.2 808.1,1404.2 807.7,1411.2 807,1416.2 806.1,1420.2 804.7,1423.2 803.1,1425.2 803.1,1427.2 801.6,1428.7 798.1,1430.2 798.1,1430.2 801.6,1431.6 803.1,1433 803.1,1434.9 804.7,1436.8 806.1,1439.6 807,1443.4 807.7,1448.1 808.1,1454.6 808.5,1464 808.8,1477.2 808.9,1496 809.1,1524.2 809.6,1560.6 813,1560.6 813.6,1524.2 813.7,1496 813.9,1477.2 814.1,1464 814.5,1454.6 815,1448.1 815.6,1443.4 816.6,1439.6 818,1436.8 819.5,1434.9 819.5,1433 821,1431.6 824.5,1430.2" fill="#008000"/>
<polygon points="1096.8,1430.2 1093.3,1428.7 1091.8,1427.2 1091.8,1425.2 1090.9,1423.2 1089.3,1420.2 1088.2,1416.2 1087.5,1411.2 1087,1404.2 1086.6,1394.2 1086.3,1380.2 1086.1,1360.2 1085.9,1330.2 1085.3,1274.4 1081.9,1274.4 1081.3,1330.2 1081.2,1360.2 1081,1380.2 1080.7,1394.2 1080.3,1404.2 1079.8,1411.2 1079.1,1416.2 1078,1420.2 1076.4,1423.2 1075.4,1425.2 1075.4,1427.2 1073.9,1428.7 1070.4,1430.2 1070.4,1430.2 1073.9,1431.6 1075.4,1433 1075.4,1434.9 1076.4,1436.8 1078,1439.6 1079.1,1443.4 1079.8,1448.1 1080.3,1454.6 1080.7,1464 1081,1477.2 1081.2,1496 1081.3,1524.2 1081.9,1576.7 1085.3,1576.7 1085.9,1524.2 1086.1,1496 1086.3,1477.2 1086.6,1464 1087,1454.6 1087.5,1448.1 1088.2,1443.4 1089.3,1439.6 1090.9,1436.8 1091.8,1434.9 1091.8,1433 1093.3,1431.6 1096.8,1430.2" fill="#008000"/>
<polygon points="1369.1,1430.2 1365.6,1428.7 1364.1,1427.2 1364.1,1425.2 1362.3,1423.2 1361,1420.2 1360.1,1416.2 1359.5,1411.2 1359,1404.2 1358.7,1394.2 1358.5,1380.2 1358.3,1360.2 1358.1,1330.2 1357.6,1299.1 1354.2,1299.1 1353.7,1330.2 1353.6,1360.2 1353.4,1380.2 1353.1,1394.2 1352.8,1404.2 1352.4,1411.2 1351.8,1416.2 1350.9,1420.2 1349.5,1423.2 1347.7,1425.2 1347.7,1427.2 1346.2,1428.7 1342.7,1430.2 1342.7,1430.2 1346.2,1431.6 1347.7,1433 1347.7,1434.9 1349.5,1436.8 1350.9,1439.6 1351.8,1443.4 1352.4,1448.1 1352.8,1454.6 1353.1,1464 1353.4,1477.2 1353.6,1496 1353.7,1524.2 1354.2,1553.5 1357.6,1553.5 1358.1,1524.2 1358.3,1496 1358.5,1477.2 1358.7,1464 1359,1454.6 1359.5,1448.1 1360.1,1443.4 1361,1439.6 1362.3,1436.8 1364.1,1434.9 1364.1,1433 1365.6,1431.6 1369.1,1430.2" fill="#008000"/>
<polygon points="1638.2,1430.2 1635.7,1428.7 1634.6,1427.2 1633.5,1425.2 1632.6,1423.2 1631.8,1420.2 1631.3,1416.2 1631,1411.2 1630.8,1404.2 1630.6,1394.2 1630.5,1380.2 1630.4,1360.2 1629.9,1358.9 1626.5,1358.9 1626.1,1360.2 1626,1380.2 1625.8,1394.2 1625.7,1404.2 1625.4,1411.2 1625.1,1416.2 1624.6,1420.2 1623.9,1423.2 1622.9,1425.2 1621.8,1427.2 1620.8,1428.7 1618.3,1430.2 1618.3,1430.2 1620.8,1431.6 1621.8,1433 1622.9,1434.9 1623.9,1436.8 1624.6,1439.6 1625.1,1443.4 1625.4,1448.1 1625.7,1454.6 1625.8,1464 1626,1477.2 1626.1,1496 1626.5,1497.3 1629.9,1497.3 1630.4,1496 1630.5,1477.2 1630.6,1464 1630.8,1454.6 1631,1448.1 1631.3,1443.4 1631.8,1439.6 1632.6,1436.8 1633.5,1434.9 1634.6,1433 1635.7,1431.6 1638.2,1430.2" fill="#008000"/>
<polygon points="438.3,1430.2 436.3,1428.7 435.5,1427.2 434.7,1425.2 433.9,1423.2 433.3,1420.2 433,1416.2 432.7,1411.2 432.5,1404.2 432.4,1394.2 432.3,1380.2 431.8,1374.8 428.4,1374.8 427.9,1380.2 427.8,1394.2 427.7,1404.2 427.5,1411.2 427.3,1416.2 426.9,1420.2 426.3,1423.2 425.5,1425.2 424.7,1427.2 423.9,1428.7 421.9,1430.2 421.9,1430.2 423.9,1431.6 424.7,1433 425.5,1434.9 426.3,1436.8 426.9,1439.6 427.3,1443.4 427.5,1448.1 427.7,1454.6 427.8,1464 427.9,1477.2 428.4,1482.2 431.8,1482.2 432.3,1477.2 432.4,1464 432.5,1454.6 432.7,1448.1 433,1443.4 433.3,1439.6 433.9,1436.8 434.7,1434.9 435.5,1433 436.3,1431.6 438.3,1430.2" fill="#ff0000"/>
<polygon points="715.6,1430.2 712.1,1428.7 710.6,1427.2 710.1,1425.2 708.4,1423.2 707.2,1420.2 706.4,1416.2 705.8,1411.2 705.4,1404.2 705.1,1394.2 704.9,1380.2 704.7,1360.2 704.6,1330.2 704.1,1309.3 700.7,1309.3 700.2,1330.2 700.1,1360.2 699.9,1380.2 699.7,1394.2 699.4,1404.2 699,1411.2 698.4,1416.2 697.6,1420.2 696.4,1423.2 694.7,1425.2 694.2,1427.2 692.7,1428.7 689.2,1430.2 689.2,1430.2 692.7,1431.6 694.2,1433 694.7,1434.9 696.4,1436.8 697.6,1439.6 698.4,1443.4 699,1448.1 699.4,1454.6 699.7,1464 699.9,1477.2 700.1,1496 700.2,1524.2 700.7,1543.8 704.1,1543.8 704.6,1524.2 704.7,1496 704.9,1477.2 705.1,1464 705.4,1454.6 705.8,1448.1 706.4,1443.4 707.2,1439.6 708.4,1436.8 710.1,1434.9 710.6,1433 712.1,1431.6 715.6,1430.2" fill="#ff0000"/>
<polygon points="987.9,1430.2 984.4,1428.7 982.9,1427.2 982.9,1425.2 981.9,1423.2 980.3,1420.2 979.2,1416.2 978.5,1411.2 978,1404.2 977.6,1394.2 977.3,1380.2 977.1,1360.2 977,1330.2 976.4,1276.2 973,1276.2 972.4,1330.2 972.3,1360.2 972.1,1380.2 971.8,1394.2 971.4,1404.2 970.9,1411.2 970.2,1416.2 969.1,1420.2 967.5,1423.2 966.5,1425.2 966.5,1427.2 965,1428.7 961.5,1430.2 961.5,1430.2 965,1431.6 966.5,1433 966.5,1434.9 967.5,1436.8 969.1,1439.6 970.2,1443.4 970.9,1448.1 971.4,1454.6 971.8,1464 972.1,1477.2 972.3,1496 972.4,1524.2 973,1574.9 976.4,1574.9 977,1524.2 977.1,1496 977.3,1477.2 977.6,1464 978,1454.6 978.5,1448.1 979.2,1443.4 980.3,1439.6 981.9,1436.8 982.9,1434.9 982.9,1433 984.4,1431.6 987.9,1430.2" fill="#ff0000"/>
<polygon points="1260.2,1430.2 1256.7,1428.7 1255.2,1427.2 1255.2,1425.2 1253.9,1423.2 1252.4,1420.2 1251.4,1416.2 1250.7,1411.2 1250.3,1404.2 1249.9,1394.2 1249.6,1380.2 1249.4,1360.2 1249.3,1330.2 1248.7,1284.4 1245.3,1284.4 1244.8,1330.2 1244.6,1360.2 1244.4,1380.2 1244.1,1394.2 1243.8,1404.2 1243.3,1411.2 1242.6,1416.2 1241.6,1420.2 1240.1,1423.2 1238.8,1425.2 1238.8,1427.2 1237.3,1428.7 1233.8,1430.2 1233.8,1430.2 1237.3,1431.6 1238.8,1433 1238.8,1434.9 1240.1,1436.8 1241.6,1439.6 1242.6,1443.4 1243.3,1448.1 1243.8,1454.6 1244.1,1464 1244.4,1477.2 1244.6,1496 1244.8,1524.2 1245.3,1567.3 1248.7,1567.3 1249.3,1524.2 1249.4,1496 1249.6,1477.2 1249.9,1464 1250.3,1454.6 1250.7,1448.1 1251.4,1443.4 1252.4,1439.6 1253.9,1436.8 1255.2,1434.9 1255.2,1433 1256.7,1431.6 1260.2,1430.2" fill="#ff0000"/>
<polygon points="1532.3,1430.2 1528.9,1428.7 1527.4,1427.2 1525.9,1425.2 1524.6,1423.2 1523.6,1420.2 1522.9,1416.2 1522.4,1411.2 1522.1,1404.2 1521.9,1394.2 1521.7,1380.2 1521.5,1360.2 1521,1331.6 1517.6,1331.6 1517.1,1360.2 1516.9,1380.2 1516.7,1394.2 1516.5,1404.2 1516.2,1411.2 1515.7,1416.2 1515,1420.2 1514,1423.2 1512.7,1425.2 1511.2,1427.2 1509.7,1428.7 1506.3,1430.2 1506.3,1430.2 1509.7,1431.6 1511.2,1433 1512.7,1434.9 1514,1436.8 1515,1439.6 1515.7,1443.4 1516.2,1448.1 1516.5,1454.6 1516.7,1464 1516.9,1477.2 1517.1,1496 1517.6,1522.9 1521,1522.9 1521.5,1496 1521.7,1477.2 1521.9,1464 1522.1,1454.6 1522.4,1448.1 1522.9,1443.4 1523.6,1439.6 1524.6,1436.8 1525.9,1434.9 1527.4,1433 1528.9,1431.6 1532.3,1430.2" fill="#ff0000"/>
<polygon points="1796.3,1430.2 1795.5,1428.7 1795.1,1427.2 1794.7,1425.2 1794.4,1423.2 1794.1,1420.2 1793.9,1416.2 1793.8,1411.2 1793.3,1405.2 1789.9,1405.2 1789.4,1411.2 1789.3,1416.2 1789.1,1420.2 1788.8,1423.2 1788.5,1425.2 1788.1,1427.2 1787.8,1428.7 1786.9,1430.2 1786.9,1430.2 1787.8,1431.6 1788.1,1433 1788.5,1434.9 1788.8,1436.8 1789.1,1439.6 1789.3,1443.4 1789.4,1448.1 1789.9,1453.7 1793.3,1453.7 1793.8,1448.1 1793.9,1443.4 1794.1,1439.6 1794.4,1436.8 1794.7,1434.9 1795.1,1433 1795.5,1431.6 1796.3,1430.2" fill="#ff0000"/>
<polygon points="325.8,1430.2 324.9,1428.7 324.6,1427.2 324.2,1425.2 323.9,1423.2 323.7,1420.2 323.5,1416.2 323.4,1411.2 322.9,1406.4 319.5,1406.4 319,1411.2 318.9,1416.2 318.7,1420.2 318.5,1423.2 318.1,1425.2 317.8,1427.2 317.4,1428.7 316.6,1430.2 316.6,1430.2 317.4,1431.6 317.8,1433 318.1,1434.9 318.5,1436.8 318.7,1439.6 318.9,1443.4 319,1448.1 319.5,1452.6 322.9,1452.6 323.4,1448.1 323.5,1443.4 323.7,1439.6 323.9,1436.8 324.2,1434.9 324.6,1433 324.9,1431.6 325.8,1430.2" fill="#00bfbf"/>
<polygon points="606.4,1430.2 603,1428.7 601.5,1427.2 600.1,1425.2 598.7,1423.2 597.7,1420.2 597.1,1416.2 596.6,1411.2 596.3,1404.2 596,1394.2 595.9,1380.2 595.7,1360.2 595.2,1332.5 591.8,1332.5 591.2,1360.2 591.1,1380.2 590.9,1394.2 590.7,1404.2 590.3,1411.2 589.9,1416.2 589.2,1420.2 588.2,1423.2 586.9,1425.2 585.4,1427.2 584,1428.7 580.5,1430.2 580.5,1430.2 584,1431.6 585.4,1433 586.9,1434.9 588.2,1436.8 589.2,1439.6 589.9,1443.4 590.3,1448.1 590.7,1454.6 590.9,1464 591.1,1477.2 591.2,1496 591.8,1522.1 595.2,1522.1 595.7,1496 595.9,1477.2 596,1464 596.3,1454.6 596.6,1448.1 597.1,1443.4 597.7,1439.6 598.7,1436.8 600.1,1434.9 601.5,1433 603,1431.6 606.4,1430.2" fill="#00bfbf"/>
<polygon points="879,1430.2 875.5,1428.7 874,1427.2 874,1425.2 872.7,1423.2 871.2,1420.2 870.2,1416.2 869.5,1411.2 869,1404.2 868.7,1394.2 868.4,1380.2 868.2,1360.2 868,1330.2 867.5,1284.8 864.1,1284.8 863.5,1330.2 863.4,1360.2 863.2,1380.2 862.9,1394.2 862.5,1404.2 862,1411.2 861.4,1416.2 860.4,1420.2 858.9,1423.2 857.6,1425.2 857.6,1427.2 856.1,1428.7 852.6,1430.2 852.6,1430.2 856.1,1431.6 857.6,1433 857.6,1434.9 858.9,1436.8 860.4,1439.6 861.4,1443.4 862,1448.1 862.5,1454.6 862.9,1464 863.2,1477.2 863.4,1496 863.5,1524.2 864.1,1566.9 867.5,1566.9 868,1524.2 868.2,1496 868.4,1477.2 868.7,1464 869,1454.6 869.5,1448.1 870.2,1443.4 871.2,1439.6 872.7,1436.8 874,1434.9 874,1433 875.5,1431.6 879,1430.2" fill="#00bfbf"/>
<polygon points="1151.3,1430.2 1147.8,1428.7 1146.3,1427.2 1146.3,1425.2 1145.3,1423.2 1143.7,1420.2 1142.6,1416.2 1141.9,1411.2 1141.4,1404.2 1141,1394.2 1140.7,1380.2 1140.5,1360.2 1140.4,1330.2 1139.8,1276 1136.4,1276 1135.8,1330.2 1135.7,1360.2 1135.4,1380.2 1135.2,1394.2 1134.8,1404.2 1134.2,1411.2 1133.5,1416.2 1132.5,1420.2 1130.9,1423.2 1129.9,1425.2 1129.9,1427.2 1128.4,1428.7 1124.9,1430.2 1124.9,1430.2 1128.4,1431.6 1129.9,1433 1129.9,1434.9 1130.9,1436.8 1132.5,1439.6 1133.5,1443.4 1134.2,1448.1 1134.8,1454.6 1135.2,1464 1135.4,1477.2 1135.7,1496 1135.8,1524.2 1136.4,1575.1 1139.8,1575.1 1140.4,1524.2 1140.5,1496 1140.7,1477.2 1141,1464 1141.4,1454.6 1141.9,1448.1 1142.6,1443.4 1143.7,1439.6 1145.3,1436.8 1146.3,1434.9 1146.3,1433 1147.8,1431.6 1151.3,1430.2" fill="#00bfbf"/>
<polygon points="1423.6,1430.2 1420.1,1428.7 1418.6,1427.2 1418.1,1425.2 1416.5,1423.2 1415.2,1420.2 1414.4,1416.2 1413.8,1411.2 1413.4,1404.2 1413.1,1394.2 1412.9,1380.2 1412.7,1360.2 1412.6,1330.2 1412.1,1308.6 1408.7,1308.6 1408.2,1330.2 1408.1,1360.2 1407.9,1380.2 1407.7,1394.2 1407.4,1404.2 1406.9,1411.2 1406.4,1416.2 1405.6,1420.2 1404.3,1423.2 1402.6,1425.2 1402.2,1427.2 1400.7,1428.7 1397.2,1430.2 1397.2,1430.2 1400.7,1431.6 1402.2,1433 1402.6,1434.9 1404.3,1436.8 1405.6,1439.6 1406.4,1443.4 1406.9,1448.1 1407.4,1454.6 1407.7,1464 1407.9,1477.2 1408.1,1496 1408.2,1524.2 1408.7,1544.5 1412.1,1544.5 1412.6,1524.2 1412.7,1496 1412.9,1477.2 1413.1,1464 1413.4,1454.6 1413.8,1448.1 1414.4,1443.4 1415.2,1439.6 1416.5,1436.8 1418.1,1434.9 1418.6,1433 1420.1,1431.6 1423.6,1430.2" fill="#00bfbf"/>
<polygon points="1691,1430.2 1689,1428.7 1688.1,1427.2 1687.3,1425.2 1686.5,1423.2 1685.9,1420.2 1685.6,1416.2 1685.3,1411.2 1685.1,1404.2 1685,1394.2 1684.9,1380.2 1684.4,1373.8 1681,1373.8 1680.5,1380.2 1680.4,1394.2 1680.3,1404.2 1680.1,1411.2 1679.8,1416.2 1679.4,1420.2 1678.8,1423.2 1678.1,1425.2 1677.2,1427.2 1676.4,1428.7 1674.4,1430.2 1674.4,1430.2 1676.4,1431.6 1677.2,1433 1678.1,1434.9 1678.8,1436.8 1679.4,1439.6 1679.8,1443.4 1680.1,1448.1 1680.3,1454.6 1680.4,1464 1680.5,1477.2 1681,1483.3 1684.4,1483.3 1684.9,1477.2 1685,1464 1685.1,1454.6 1685.3,1448.1 1685.6,1443.4 1685.9,1439.6 1686.5,1436.8 1687.3,1434.9 1688.1,1433 1689,1431.6 1691,1430.2" fill="#00bfbf"/>
<polygon points="494.4,1430.2 491.9,1428.7 490.9,1427.2 489.8,1425.2 488.9,1423.2 488.2,1420.2 487.7,1416.2 487.4,1411.2 487.1,1404.2 486.9,1394.2 486.8,1380.2 486.7,1360.2 486.3,1359.9 482.9,1359.9 482.4,1360.2 482.3,1380.2 482.2,1394.2 482,1404.2 481.8,1411.2 481.5,1416.2 481,1420.2 480.3,1423.2 479.3,1425.2 478.2,1427.2 477.2,1428.7 474.7,1430.2 474.7,1430.2 477.2,1431.6 478.2,1433 479.3,1434.9 480.3,1436.8 481,1439.6 481.5,1443.4 481.8,1448.1 482,1454.6 482.2,1464 482.3,1477.2 482.4,1496 482.9,1496.3 486.3,1496.3 486.7,1496 486.8,1477.2 486.9,1464 487.1,1454.6 487.4,1448.1 487.7,1443.4 488.2,1439.6 488.9,1436.8 489.8,1434.9 490.9,1433 491.9,1431.6 494.4,1430.2" fill="#bf00bf"/>
<polygon points="770.1,1430.2 766.6,1428.7 765.1,1427.2 765,1425.2 763.2,1423.2 761.9,1420.2 761,1416.2 760.4,1411.2 760,1404.2 759.6,1394.2 759.4,1380.2 759.2,1360.2 759.1,1330.2 758.6,1299.7 755.2,1299.7 754.7,1330.2 754.5,1360.2 754.3,1380.2 754.1,1394.2 753.8,1404.2 753.3,1411.2 752.7,1416.2 751.8,1420.2 750.5,1423.2 748.7,1425.2 748.7,1427.2 747.2,1428.7 743.7,1430.2 743.7,1430.2 747.2,1431.6 748.7,1433 748.7,1434.9 750.5,1436.8 751.8,1439.6 752.7,1443.4 753.3,1448.1 753.8,1454.6 754.1,1464 754.3,1477.2 754.5,1496 754.7,1524.2 755.2,1552.9 758.6,1552.9 759.1,1524.2 759.2,1496 759.4,1477.2 759.6,1464 760,1454.6 760.4,1448.1 761,1443.4 761.9,1439.6 763.2,1436.8 765,1434.9 765.1,1433 766.6,1431.6 770.1,1430.2" fill="#bf00bf"/>
<polygon points="1042.4,1430.2 1038.9,1428.7 1037.4,1427.2 1037.4,1425.2 1036.4,1423.2 1034.8,1420.2 1033.7,1416.2 1033,1411.2 1032.5,1404.2 1032.1,1394.2 1031.8,1380.2 1031.6,1360.2 1031.4,1330.2 1030.9,1274.4 1027.5,1274.4 1026.9,1330.2 1026.7,1360.2 1026.5,1380.2 1026.2,1394.2 1025.8,1404.2 1025.3,1411.2 1024.6,1416.2 1023.5,1420.2 1021.9,1423.2 1021,1425.2 1021,1427.2 1019.5,1428.7 1016,1430.2 1016,1430.2 1019.5,1431.6 1021,1433 1021,1434.9 1021.9,1436.8 1023.5,1439.6 1024.6,1443.4 1025.3,1448.1 1025.8,1454.6 1026.2,1464 1026.5,1477.2 1026.7,1496 1026.9,1524.2 1027.5,1576.6 1030.9,1576.6 1031.4,1524.2 1031.6,1496 1031.8,1477.2 1032.1,1464 1032.5,1454.6 1033,1448.1 1033.7,1443.4 1034.8,1439.6 1036.4,1436.8 1037.4,1434.9 1037.4,1433 1038.9,1431.6 1042.4,1430.2" fill="#bf00bf"/>
<polygon points="1314.7,1430.2 1311.2,1428.7 1309.7,1427.2 1309.7,1425.2 1308.1,1423.2 1306.7,1420.2 1305.8,1416.2 1305.1,1411.2 1304.6,1404.2 1304.3,1394.2 1304,1380.2 1303.8,1360.2 1303.7,1330.2 1303.2,1290.9 1299.8,1290.9 1299.2,1330.2 1299.1,1360.2 1298.9,1380.2 1298.6,1394.2 1298.3,1404.2 1297.8,1411.2 1297.2,1416.2 1296.2,1420.2 1294.8,1423.2 1293.3,1425.2 1293.3,1427.2 1291.8,1428.7 1288.3,1430.2 1288.3,1430.2 1291.8,1431.6 1293.3,1433 1293.3,1434.9 1294.8,1436.8 1296.2,1439.6 1297.2,1443.4 1297.8,1448.1 1298.3,1454.6 1298.6,1464 1298.9,1477.2 1299.1,1496 1299.2,1524.2 1299.8,1561.1 1303.2,1561.1 1303.7,1524.2 1303.8,1496 1304,1477.2 1304.3,1464 1304.6,1454.6 1305.1,1448.1 1305.8,1443.4 1306.7,1439.6 1308.1,1436.8 1309.7,1434.9 1309.7,1433 1311.2,1431.6 1314.7,1430.2" fill="#bf00bf"/>
<polygon points="1585.3,1430.2 1582.3,1428.7 1581,1427.2 1579.8,1425.2 1578.6,1423.2 1577.7,1420.2 1577.1,1416.2 1576.7,1411.2 1576.5,1404.2 1576.2,1394.2 1576.1,1380.2 1576,1360.2 1575.5,1344.8 1572.1,1344.8 1571.6,1360.2 1571.5,1380.2 1571.3,1394.2 1571.1,1404.2 1570.8,1411.2 1570.4,1416.2 1569.8,1420.2 1568.9,1423.2 1567.8,1425.2 1566.5,1427.2 1565.2,1428.7 1562.2,1430.2 1562.2,1430.2 1565.2,1431.6 1566.5,1433 1567.8,1434.9 1568.9,1436.8 1569.8,1439.6 1570.4,1443.4 1570.8,1448.1 1571.1,1454.6 1571.3,1464 1571.5,1477.2 1571.6,1496 1572.1,1510.5 1575.5,1510.5 1576,1496 1576.1,1477.2 1576.2,1464 1576.5,1454.6 1576.7,1448.1 1577.1,1443.4 1577.7,1439.6 1578.6,1436.8 1579.8,1434.9 1581,1433 1582.3,1431.6 1585.3,1430.2" fill="#bf00bf"/>
<polygon points="1849,1430.2 1848.6,1428.7 1848.5,1427.2 1848.4,1425.2 1848.3,1423.2 1847.8,1421.5 1844.4,1421.5 1843.9,1423.2 1843.7,1425.2 1843.6,1427.2 1843.5,1428.7 1843.2,1430.2 1843.2,1430.2 1843.5,1431.6 1843.6,1433 1843.7,1434.9 1843.9,1436.8 1844.4,1438.4 1847.8,1438.4 1848.3,1436.8 1848.4,1434.9 1848.5,1433 1848.6,1431.6 1849,1430.2" fill="#bf00bf"/>
<polygon points="393,1430.2 391.7,1428.7 391.1,1427.2 390.5,1425.2 389.9,1423.2 389.5,1420.2 389.2,1416.2 389,1411.2 388.9,1404.2 388.8,1394.2 388.3,1390.4 384.9,1390.4 384.5,1394.2 384.4,1404.2 384.2,1411.2 384.1,1416.2 383.8,1420.2 383.4,1423.2 382.8,1425.2 382.2,1427.2 381.6,1428.7 380.2,1430.2 380.2,1430.2 381.6,1431.6 382.2,1433 382.8,1434.9 383.4,1436.8 383.8,1439.6 384.1,1443.4 384.2,1448.1 384.4,1454.6 384.5,1464 384.9,1467.6 388.3,1467.6 388.8,1464 388.9,1454.6 389,1448.1 389.2,1443.4 389.5,1439.6 389.9,1436.8 390.5,1434.9 391.1,1433 391.7,1431.6 393,1430.2" fill="#bfbf00"/>
<polygon points="672.1,1430.2 668.6,1428.7 667.1,1427.2 666.1,1425.2 664.6,1423.2 663.5,1420.2 662.7,1416.2 662.2,1411.2 661.9,1404.2 661.6,1394.2 661.4,1380.2 661.2,1360.2 661.1,1330.2 660.6,1320.3 657.2,1320.3 656.8,1330.2 656.7,1360.2 656.5,1380.2 656.3,1394.2 656,1404.2 655.7,1411.2 655.2,1416.2 654.4,1420.2 653.3,1423.2 651.8,1425.2 650.7,1427.2 649.2,1428.7 645.7,1430.2 645.7,1430.2 649.2,1431.6 650.7,1433 651.8,1434.9 653.3,1436.8 654.4,1439.6 655.2,1443.4 655.7,1448.1 656,1454.6 656.3,1464 656.5,1477.2 656.7,1496 656.8,1524.2 657.2,1533.5 660.6,1533.5 661.1,1524.2 661.2,1496 661.4,1477.2 661.6,1464 661.9,1454.6 662.2,1448.1 662.7,1443.4 663.5,1439.6 664.6,1436.8 666.1,1434.9 667.1,1433 668.6,1431.6 672.1,1430.2" fill="#bfbf00"/>
<polygon points="944.4,1430.2 940.9,1428.7 939.4,1427.2 939.4,1425.2 938.3,1423.2 936.8,1420.2 935.7,1416.2 935,1411.2 934.5,1404.2 934.1,1394.2 933.9,1380.2 933.7,1360.2 933.5,1330.2 932.9,1279.7 929.5,1279.7 929,1330.2 928.8,1360.2 928.6,1380.2 928.3,1394.2 928,1404.2 927.4,1411.2 926.8,1416.2 925.7,1420.2 924.2,1423.2 923,1425.2 923,1427.2 921.5,1428.7 918,1430.2 918,1430.2 921.5,1431.6 923,1433 923,1434.9 924.2,1436.8 925.7,1439.6 926.8,1443.4 927.4,1448.1 928,1454.6 928.3,1464 928.6,1477.2 928.8,1496 929,1524.2 929.5,1571.7 932.9,1571.7 933.5,1524.2 933.7,1496 933.9,1477.2 934.1,1464 934.5,1454.6 935,1448.1 935.7,1443.4 936.8,1439.6 938.3,1436.8 939.4,1434.9 939.4,1433 940.9,1431.6 944.4,1430.2" fill="#bfbf00"/>
<polygon points="1216.7,1430.2 1213.2,1428.7 1211.7,1427.2 1211.7,1425.2 1210.6,1423.2 1209.1,1420.2 1208,1416.2 1207.4,1411.2 1206.8,1404.2 1206.5,1394.2 1206.2,1380.2 1206,1360.2 1205.8,1330.2 1205.2,1279.4 1201.8,1279.4 1201.3,1330.2 1201.1,1360.2 1200.9,1380.2 1200.6,1394.2 1200.3,1404.2 1199.7,1411.2 1199.1,1416.2 1198,1420.2 1196.5,1423.2 1195.3,1425.2 1195.3,1427.2 1193.8,1428.7 1190.3,1430.2 1190.3,1430.2 1193.8,1431.6 1195.3,1433 1195.3,1434.9 1196.5,1436.8 1198,1439.6 1199.1,1443.4 1199.7,1448.1 1200.3,1454.6 1200.6,1464 1200.9,1477.2 1201.1,1496 1201.3,1524.2 1201.8,1572 1205.2,1572 1205.8,1524.2 1206,1496 1206.2,1477.2 1206.5,1464 1206.8,1454.6 1207.4,1448.1 1208,1443.4 1209.1,1439.6 1210.6,1436.8 1211.7,1434.9 1211.7,1433 1213.2,1431.6 1216.7,1430.2" fill="#bfbf00"/>
<polygon points="1489,1430.2 1485.5,1428.7 1484,1427.2 1483.1,1425.2 1481.5,1423.2 1480.4,1420.2 1479.6,1416.2 1479.1,1411.2 1478.8,1404.2 1478.5,1394.2 1478.3,1380.2 1478.1,1360.2 1478,1330.2 1477.5,1319.5 1474.1,1319.5 1473.7,1330.2 1473.6,1360.2 1473.4,1380.2 1473.2,1394.2 1472.9,1404.2 1472.5,1411.2 1472,1416.2 1471.3,1420.2 1470.1,1423.2 1468.6,1425.2 1467.6,1427.2 1466.1,1428.7 1462.6,1430.2 1462.6,1430.2 1466.1,1431.6 1467.6,1433 1468.6,1434.9 1470.1,1436.8 1471.3,1439.6 1472,1443.4 1472.5,1448.1 1472.9,1454.6 1473.2,1464 1473.4,1477.2 1473.6,1496 1473.7,1524.2 1474.1,1534.3 1477.5,1534.3 1478,1524.2 1478.1,1496 1478.3,1477.2 1478.5,1464 1478.8,1454.6 1479.1,1448.1 1479.6,1443.4 1480.4,1439.6 1481.5,1436.8 1483.1,1434.9 1484,1433 1485.5,1431.6 1489,1430.2" fill="#bfbf00"/>
<polygon points="1754.7,1430.2 1753.2,1428.7 1752.6,1427.2 1752,1425.2 1751.4,1423.2 1751,1420.2 1750.7,1416.2 1750.6,1411.2 1750.4,1404.2 1750.3,1394.2 1749.8,1389.3 1746.4,1389.3 1746,1394.2 1745.9,1404.2 1745.7,1411.2 1745.5,1416.2 1745.3,1420.2 1744.8,1423.2 1744.3,1425.2 1743.7,1427.2 1743.1,1428.7 1741.6,1430.2 1741.6,1430.2 1743.1,1431.6 1743.7,1433 1744.3,1434.9 1744.8,1436.8 1745.3,1439.6 1745.5,1443.4 1745.7,1448.1 1745.9,1454.6 1746,1464 1746.4,1468.7 1749.8,1468.7 1750.3,1464 1750.4,1454.6 1750.6,1448.1 1750.7,1443.4 1751,1439.6 1751.4,1436.8 1752,1434.9 1752.6,1433 1753.2,1431.6 1754.7,1430.2" fill="#bfbf00"/>
</g>
<text x="241.4" y="1640.8" font-size="55" text-anchor="middle">0</text>
<text x="473.2 494.8 527.2 554.2" y="1640.8" font-size="55" text-anchor="middle">0.05</text>
<text x="759 780.6 813" y="1640.8" font-size="55" text-anchor="middle">0.1</text>
<text x="1017.8 1039.4 1071.8 1098.8" y="1640.8" font-size="55" text-anchor="middle">0.15</text>
<text x="1303.6 1325.2 1357.6" y="1640.8" font-size="55" text-anchor="middle">0.2</text>
<text x="1562.4 1584 1616.4 1643.4" y="1640.8" font-size="55" text-anchor="middle">0.25</text>
<text x="1848.2 1869.8 1902.2" y="1640.8" font-size="55" text-anchor="middle">0.3</text>
<text x="2107 2128.6 2161 2188" y="1640.8" font-size="55" text-anchor="middle">0.35</text>
<text x="158 179.6 212" y="1301.3" font-size="55" text-anchor="middle">0.1</text>
<text x="212.1" y="1448.8" font-size="55" text-anchor="middle">0</text>
<text x="133.7 160.7 182.3 214.7" y="1595.7" font-size="55" text-anchor="middle">−0.1</text>
<text x="716.1 745.7 775.3 804.9 834.5 864.1 893.7 923.3 952.9 982.5 1012.1 1041.7 1071.3 1100.9 1130.5 1160.1 1189.7 1219.3 1248.9 1278.5 1308.1 1337.7 1367.3 1396.9 1426.5 1456.1 1485.7 1515.3 1544.9 1574.5 1604.1 1633.7 1663.3 1692.9 1722.5 1752.1 1781.7 1811.3 1840.9" y="1251.7" font-size="61" text-anchor="middle">(c)<tspan textLength="28.5" lengthAdjust="spacingAndGlyphs">T</tspan>he ti<tspan textLength="27.5" lengthAdjust="spacingAndGlyphs">m</tspan>e-frequency ato<tspan textLength="27.5" lengthAdjust="spacingAndGlyphs">m</tspan> of propeller</text>
<text x="1202.2 1231.8 1261.4 1291 1320.6 1350.2" y="1714.7" font-size="61" text-anchor="middle"><tspan textLength="28.5" lengthAdjust="spacingAndGlyphs">T</tspan>i<tspan textLength="27.5" lengthAdjust="spacingAndGlyphs">m</tspan>e/s</text>
</g>
<text transform="translate(147.4,254.3) rotate(-90) scale(1.0,1)" x="-118.4 -88.8 -59.2 -29.6 0 29.6 59.2 88.8 118.4" y="0" font-size="61" text-anchor="middle"><tspan textLength="29" lengthAdjust="spacingAndGlyphs">A</tspan><tspan textLength="27.5" lengthAdjust="spacingAndGlyphs">m</tspan>plitude</text>
<text transform="translate(64.9,841) rotate(-90) scale(1.0,1)" x="-118.4 -88.8 -59.2 -29.6 -0 29.6 59.2 88.8 118.4" y="0" font-size="61" text-anchor="middle"><tspan textLength="29" lengthAdjust="spacingAndGlyphs">A</tspan><tspan textLength="27.5" lengthAdjust="spacingAndGlyphs">m</tspan>plitude</text>
<text transform="translate(93.9,1426.8) rotate(-90) scale(1.0,1)" x="-118.4 -88.8 -59.2 -29.6 -0 29.6 59.2 88.8 118.4" y="0" font-size="61" text-anchor="middle"><tspan textLength="29" lengthAdjust="spacingAndGlyphs">A</tspan><tspan textLength="27.5" lengthAdjust="spacingAndGlyphs">m</tspan>plitude</text>
<text x="260.8 297.8 326.5" y="88" font-size="55" text-anchor="middle"><tspan font-size="74" dy="4">×</tspan><tspan dy="-4">1</tspan>0</text>
<text x="348.5 371.5" y="63.2" font-size="46" text-anchor="middle">−3</text>
</svg></body></html>
